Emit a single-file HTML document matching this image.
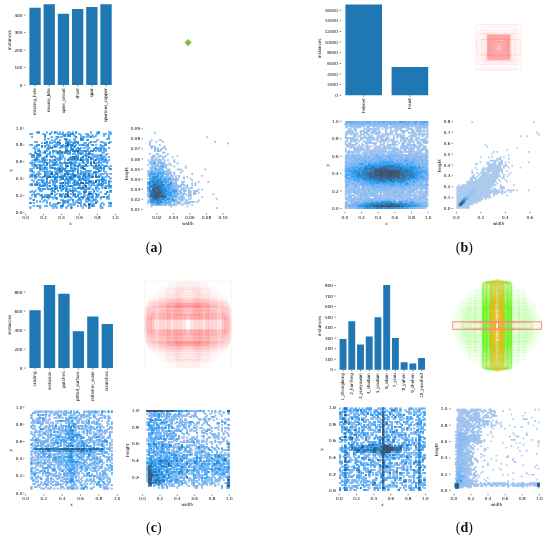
<!DOCTYPE html><html><head><meta charset="utf-8"><title>Figure</title><style>html,body{margin:0;padding:0;background:#fff}svg{display:block}text{font-family:"DejaVu Sans","Liberation Sans",sans-serif;font-size:40px}</style></head><body><svg width="550" height="544" viewBox="0 0 550 544"><defs><filter id="b" x="-5%" y="-5%" width="110%" height="110%"><feGaussianBlur stdDeviation="0.5"/></filter></defs><rect width="550" height="544" fill="#fff"/>
<text transform="translate(36.10,88.20) rotate(-90) scale(0.1038)" text-anchor="end" stroke="#2b2b2b" stroke-width="0.5" fill="#2b2b2b">missing_hole</text>
<text transform="translate(50.30,88.20) rotate(-90) scale(0.1038)" text-anchor="end" stroke="#2b2b2b" stroke-width="0.5" fill="#2b2b2b">mouse_bite</text>
<text transform="translate(64.50,88.20) rotate(-90) scale(0.1038)" text-anchor="end" stroke="#2b2b2b" stroke-width="0.5" fill="#2b2b2b">open_circuit</text>
<text transform="translate(78.70,88.20) rotate(-90) scale(0.1038)" text-anchor="end" stroke="#2b2b2b" stroke-width="0.5" fill="#2b2b2b">short</text>
<text transform="translate(92.90,88.20) rotate(-90) scale(0.1038)" text-anchor="end" stroke="#2b2b2b" stroke-width="0.5" fill="#2b2b2b">spur</text>
<text transform="translate(107.10,88.20) rotate(-90) scale(0.1038)" text-anchor="end" stroke="#2b2b2b" stroke-width="0.5" fill="#2b2b2b">spurious_copper</text>
<path d="M29.40 85.00V7.83h11.30V85.00zM43.60 85.00V4.15h11.30V85.00zM57.80 85.00V13.78h11.30V85.00zM72.00 85.00V8.88h11.30V85.00zM86.20 85.00V6.95h11.30V85.00zM100.40 85.00V4.15h11.30V85.00z" fill="#1f77b4"/>
<text transform="translate(22.30,86.55) scale(0.1038)" text-anchor="end" stroke="#2b2b2b" stroke-width="0.5" fill="#2b2b2b">0</text>
<text transform="translate(22.30,69.05) scale(0.1038)" text-anchor="end" stroke="#2b2b2b" stroke-width="0.5" fill="#2b2b2b">100</text>
<text transform="translate(22.30,51.55) scale(0.1038)" text-anchor="end" stroke="#2b2b2b" stroke-width="0.5" fill="#2b2b2b">200</text>
<text transform="translate(22.30,34.05) scale(0.1038)" text-anchor="end" stroke="#2b2b2b" stroke-width="0.5" fill="#2b2b2b">300</text>
<text transform="translate(22.30,16.55) scale(0.1038)" text-anchor="end" stroke="#2b2b2b" stroke-width="0.5" fill="#2b2b2b">400</text>
<path d="M23.90 85.00h1.5M23.90 67.50h1.5M23.90 50.00h1.5M23.90 32.50h1.5M23.90 15.00h1.5M35.05 85.00v1.5M49.25 85.00v1.5M63.45 85.00v1.5M77.65 85.00v1.5M91.85 85.00v1.5M106.05 85.00v1.5" stroke="#222" stroke-width="0.55" fill="none"/>
<text transform="translate(10.50,40.00) rotate(-90) scale(0.1038)" text-anchor="middle" stroke="#2b2b2b" stroke-width="0.5" fill="#2b2b2b">instances</text>
<g filter="url(#b)"><g transform="translate(29.64,207.60) scale(1.6344,-1.5313)" stroke-width="1.04" fill="none"><path stroke="#acc9ee" d="M0 0h1M6 0h1M14 0h1M16 0h1M19 0h1M22 0h1M25 0h1M32 0h1M36 0h1M43 0h2M2 1h1M4 1h3M9 1h2M13 1h1M15 1h1M19 1h2M23 1h1M29 1h1M31 1h1M34 1h1M36 1h1M38 1h2M43 1h1M48 1h2M12 2h1M14 2h3M20 2h1M24 2h4M31 2h1M33 2h1M36 2h4M43 2h1M45 2h1M49 2h1M0 3h1M2 3h1M10 3h1M12 3h1M17 3h2M21 3h1M23 3h1M27 3h1M29 3h2M40 3h1M44 3h1M48 3h2M4 4h1M6 4h1M8 4h1M10 4h1M20 4h4M26 4h1M28 4h2M31 4h1M34 4h2M37 4h2M40 4h2M2 5h1M9 5h1M19 5h2M23 5h2M26 5h1M29 5h3M34 5h1M36 5h1M39 5h2M0 6h1M7 6h1M11 6h1M14 6h1M16 6h1M25 6h1M30 6h1M32 6h1M35 6h2M38 6h1M40 6h1M43 6h1M47 6h2M3 7h1M8 7h6M15 7h1M19 7h1M21 7h4M28 7h1M31 7h3M36 7h3M40 7h2M43 7h3M47 7h1M1 8h1M3 8h1M6 8h2M9 8h4M15 8h1M18 8h2M21 8h3M26 8h2M29 8h1M33 8h1M35 8h2M38 8h1M41 8h1M48 8h1M2 9h1M4 9h2M13 9h1M16 9h1M18 9h1M20 9h1M22 9h2M25 9h3M30 9h2M33 9h1M36 9h3M40 9h1M42 9h1M46 9h1M0 10h1M2 10h1M13 10h1M15 10h1M23 10h1M26 10h1M29 10h2M33 10h2M36 10h2M39 10h1M43 10h1M47 10h1M49 10h1M1 11h1M3 11h1M6 11h2M13 11h2M17 11h1M19 11h1M22 11h1M24 11h5M33 11h2M39 11h1M41 11h1M49 11h1M5 12h2M8 12h2M11 12h3M15 12h2M19 12h2M22 12h1M24 12h1M26 12h3M31 12h6M38 12h1M40 12h1M42 12h1M5 13h1M10 13h1M13 13h4M18 13h5M26 13h2M29 13h8M40 13h2M44 13h1M46 13h1M48 13h2M6 14h3M10 14h3M15 14h2M18 14h3M22 14h5M30 14h1M32 14h3M37 14h1M40 14h2M44 14h1M46 14h4M0 15h2M3 15h4M8 15h3M14 15h2M19 15h1M21 15h1M23 15h1M27 15h4M33 15h1M36 15h1M38 15h2M41 15h4M48 15h1M4 16h2M8 16h5M14 16h2M18 16h3M22 16h3M26 16h1M28 16h2M31 16h2M34 16h2M37 16h3M44 16h3M2 17h1M4 17h1M7 17h2M10 17h1M12 17h1M14 17h1M16 17h1M21 17h1M23 17h2M27 17h3M31 17h1M34 17h1M36 17h3M40 17h1M42 17h1M44 17h1M46 17h1M48 17h2M1 18h1M5 18h2M8 18h1M13 18h1M15 18h2M18 18h1M21 18h3M25 18h3M30 18h2M33 18h3M41 18h6M3 19h1M7 19h1M10 19h1M15 19h2M19 19h2M22 19h1M24 19h3M30 19h1M32 19h5M44 19h2M49 19h1M0 20h2M3 20h2M6 20h1M8 20h1M10 20h11M22 20h1M24 20h4M29 20h2M32 20h1M34 20h5M40 20h3M44 20h1M46 20h1M48 20h1M0 21h4M5 21h1M9 21h4M14 21h2M17 21h1M19 21h3M23 21h1M25 21h6M32 21h2M35 21h2M38 21h1M40 21h1M42 21h2M47 21h1M1 22h1M4 22h3M10 22h2M13 22h1M16 22h1M21 22h6M30 22h2M33 22h2M36 22h1M38 22h1M43 22h3M47 22h1M49 22h1M2 23h1M5 23h1M9 23h3M13 23h1M15 23h5M22 23h2M26 23h1M29 23h1M31 23h6M39 23h3M46 23h1M0 24h2M6 24h1M8 24h1M10 24h1M12 24h1M16 24h4M21 24h7M29 24h1M31 24h1M34 24h4M42 24h2M45 24h1M0 25h2M6 25h5M15 25h7M25 25h5M33 25h1M40 25h3M44 25h2M49 25h1M2 26h1M4 26h3M8 26h3M12 26h4M17 26h4M22 26h1M25 26h1M27 26h1M29 26h1M31 26h2M39 26h5M45 26h1M48 26h1M2 27h3M6 27h2M9 27h1M12 27h2M18 27h2M22 27h2M25 27h1M27 27h9M38 27h6M45 27h3M49 27h1M1 28h3M5 28h2M8 28h1M10 28h1M12 28h1M14 28h4M19 28h1M22 28h1M25 28h1M27 28h1M30 28h1M34 28h1M37 28h1M40 28h1M42 28h1M44 28h1M0 29h3M8 29h1M10 29h2M14 29h3M18 29h11M30 29h1M32 29h2M35 29h1M37 29h1M39 29h3M43 29h1M47 29h1M1 30h1M3 30h1M5 30h5M12 30h3M16 30h1M18 30h1M21 30h1M24 30h2M27 30h2M32 30h1M35 30h1M37 30h1M39 30h1M42 30h1M44 30h4M2 31h4M8 31h1M10 31h1M12 31h1M14 31h2M17 31h2M23 31h1M25 31h2M28 31h6M35 31h1M39 31h2M43 31h1M45 31h2M48 31h1M3 32h2M7 32h3M16 32h4M21 32h1M24 32h6M31 32h2M34 32h2M37 32h2M41 32h4M46 32h1M1 33h2M4 33h2M9 33h2M13 33h1M15 33h1M18 33h1M20 33h1M25 33h5M32 33h1M36 33h1M39 33h3M43 33h1M45 33h1M48 33h1M1 34h2M4 34h3M10 34h1M12 34h1M14 34h1M18 34h3M28 34h2M33 34h3M38 34h7M46 34h1M0 35h1M4 35h3M11 35h1M17 35h2M23 35h2M26 35h2M30 35h3M34 35h5M47 35h1M3 36h1M6 36h1M8 36h2M12 36h1M14 36h1M16 36h7M24 36h1M27 36h1M29 36h4M34 36h1M36 36h1M44 36h2M5 37h2M9 37h2M14 37h3M18 37h1M22 37h3M26 37h4M31 37h5M37 37h2M40 37h1M42 37h2M46 37h1M3 38h1M5 38h1M10 38h2M22 38h1M25 38h2M28 38h1M30 38h1M35 38h1M39 38h1M41 38h3M45 38h2M2 39h1M11 39h1M13 39h1M18 39h1M25 39h1M29 39h1M31 39h1M33 39h1M36 39h1M40 39h3M44 39h1M48 39h1M3 40h2M7 40h1M9 40h1M11 40h2M14 40h3M19 40h5M25 40h1M27 40h1M34 40h2M43 40h3M0 41h2M4 41h2M10 41h2M15 41h4M20 41h1M22 41h5M28 41h1M30 41h4M35 41h1M38 41h1M40 41h1M43 41h1M46 41h1M7 42h1M9 42h2M12 42h2M16 42h3M22 42h3M26 42h2M29 42h1M33 42h2M36 42h1M45 42h2M48 42h1M3 43h2M10 43h1M12 43h1M14 43h2M17 43h1M22 43h4M27 43h3M37 43h1M39 43h2M43 43h2M49 43h1M9 44h1M13 44h1M15 44h1M18 44h1M22 44h1M24 44h1M27 44h1M31 44h2M35 44h1M41 44h1M9 45h1M11 45h1M16 45h1M21 45h2M27 45h1M31 45h2M47 45h2M1 46h1M9 46h1M13 46h1M16 46h2M19 46h1M28 46h1M31 46h3M35 46h1M37 46h1M39 46h1M48 46h1M9 47h1M20 47h2M23 47h2M27 47h1M31 47h1M35 47h2M38 47h1M40 47h1M45 47h1M48 47h1M0 48h2M8 48h1M12 48h1M17 48h4M22 48h1M25 48h2M30 48h1M34 48h2M41 48h1M45 48h2M49 48h1M4 49h2M10 49h1M13 49h1M15 49h2M18 49h1M20 49h1M23 49h2M26 49h1M28 49h1M37 49h1M41 49h2M48 49h2"/><path stroke="#9fc3ef" d="M0 0h1M6 0h1M14 0h1M16 0h1M19 0h1M22 0h1M25 0h1M32 0h1M36 0h1M43 0h2M2 1h1M4 1h3M9 1h2M13 1h1M15 1h1M19 1h2M23 1h1M29 1h1M31 1h1M34 1h1M36 1h1M38 1h2M43 1h1M48 1h2M12 2h1M14 2h3M20 2h1M24 2h4M31 2h1M33 2h1M36 2h4M43 2h1M45 2h1M49 2h1M0 3h1M2 3h1M10 3h1M12 3h1M17 3h2M21 3h1M23 3h1M27 3h1M29 3h2M40 3h1M44 3h1M48 3h2M4 4h1M6 4h1M8 4h1M10 4h1M20 4h4M26 4h1M28 4h2M31 4h1M34 4h2M37 4h2M40 4h2M2 5h1M9 5h1M19 5h2M23 5h2M26 5h1M29 5h3M34 5h1M36 5h1M39 5h2M0 6h1M7 6h1M11 6h1M14 6h1M16 6h1M25 6h1M30 6h1M32 6h1M35 6h2M38 6h1M40 6h1M43 6h1M47 6h2M3 7h1M8 7h6M15 7h1M19 7h1M21 7h4M28 7h1M31 7h3M36 7h3M40 7h2M43 7h3M47 7h1M1 8h1M3 8h1M6 8h2M9 8h4M15 8h1M18 8h2M21 8h3M26 8h2M29 8h1M33 8h1M35 8h2M38 8h1M41 8h1M48 8h1M2 9h1M4 9h2M13 9h1M16 9h1M18 9h1M20 9h1M22 9h2M25 9h3M30 9h2M33 9h1M36 9h3M40 9h1M42 9h1M46 9h1M0 10h1M2 10h1M13 10h1M15 10h1M23 10h1M26 10h1M29 10h2M33 10h2M36 10h2M39 10h1M43 10h1M47 10h1M49 10h1M1 11h1M3 11h1M6 11h2M13 11h2M17 11h1M19 11h1M22 11h1M24 11h5M33 11h2M39 11h1M41 11h1M49 11h1M5 12h2M8 12h2M11 12h3M15 12h2M19 12h2M22 12h1M24 12h1M26 12h3M31 12h6M38 12h1M40 12h1M42 12h1M5 13h1M10 13h1M13 13h4M18 13h5M26 13h2M29 13h8M40 13h2M44 13h1M46 13h1M48 13h2M6 14h3M10 14h3M15 14h2M18 14h3M22 14h5M30 14h1M32 14h3M37 14h1M40 14h2M44 14h1M46 14h4M0 15h2M3 15h4M8 15h3M14 15h2M19 15h1M21 15h1M23 15h1M27 15h4M33 15h1M36 15h1M38 15h2M41 15h4M48 15h1M4 16h2M8 16h5M14 16h2M18 16h3M22 16h3M26 16h1M28 16h2M31 16h2M34 16h2M37 16h3M44 16h3M2 17h1M4 17h1M7 17h2M10 17h1M12 17h1M14 17h1M16 17h1M21 17h1M23 17h2M27 17h3M31 17h1M34 17h1M36 17h3M40 17h1M42 17h1M44 17h1M46 17h1M48 17h2M1 18h1M5 18h2M8 18h1M13 18h1M15 18h2M18 18h1M21 18h3M25 18h3M30 18h2M33 18h3M41 18h6M3 19h1M7 19h1M10 19h1M15 19h2M19 19h2M22 19h1M24 19h3M30 19h1M32 19h5M44 19h2M49 19h1M0 20h2M3 20h2M6 20h1M8 20h1M10 20h11M22 20h1M24 20h4M29 20h2M32 20h1M34 20h5M40 20h3M44 20h1M46 20h1M48 20h1M0 21h4M5 21h1M9 21h4M14 21h2M17 21h1M19 21h3M23 21h1M25 21h6M32 21h2M35 21h2M38 21h1M40 21h1M42 21h2M47 21h1M1 22h1M4 22h3M10 22h2M13 22h1M16 22h1M21 22h6M30 22h2M33 22h2M36 22h1M38 22h1M43 22h3M47 22h1M49 22h1M2 23h1M5 23h1M9 23h3M13 23h1M15 23h5M22 23h2M26 23h1M29 23h1M31 23h6M39 23h3M46 23h1M0 24h2M6 24h1M8 24h1M10 24h1M12 24h1M16 24h4M21 24h7M29 24h1M31 24h1M34 24h4M42 24h2M45 24h1M0 25h2M6 25h5M15 25h7M25 25h5M33 25h1M40 25h3M44 25h2M49 25h1M2 26h1M4 26h3M8 26h3M12 26h4M17 26h4M22 26h1M25 26h1M27 26h1M29 26h1M31 26h2M39 26h5M45 26h1M48 26h1M2 27h3M6 27h2M9 27h1M12 27h2M18 27h2M22 27h2M25 27h1M27 27h9M38 27h6M45 27h3M49 27h1M1 28h3M5 28h2M8 28h1M10 28h1M12 28h1M14 28h4M19 28h1M22 28h1M25 28h1M27 28h1M30 28h1M34 28h1M37 28h1M40 28h1M42 28h1M44 28h1M0 29h3M8 29h1M10 29h2M14 29h3M18 29h11M30 29h1M32 29h2M35 29h1M37 29h1M39 29h3M43 29h1M47 29h1M1 30h1M3 30h1M5 30h5M12 30h3M16 30h1M18 30h1M21 30h1M24 30h2M27 30h2M32 30h1M35 30h1M37 30h1M39 30h1M42 30h1M44 30h4M2 31h4M8 31h1M10 31h1M12 31h1M14 31h2M17 31h2M23 31h1M25 31h2M28 31h6M35 31h1M39 31h2M43 31h1M45 31h2M48 31h1M3 32h2M7 32h3M16 32h4M21 32h1M24 32h6M31 32h2M34 32h2M37 32h2M41 32h4M46 32h1M1 33h2M4 33h2M9 33h2M13 33h1M15 33h1M18 33h1M20 33h1M25 33h5M32 33h1M36 33h1M39 33h3M43 33h1M45 33h1M48 33h1M1 34h2M4 34h3M10 34h1M12 34h1M14 34h1M18 34h3M28 34h2M33 34h3M38 34h7M46 34h1M0 35h1M4 35h3M11 35h1M17 35h2M23 35h2M26 35h2M30 35h3M34 35h5M47 35h1M3 36h1M6 36h1M8 36h2M12 36h1M14 36h1M16 36h7M24 36h1M27 36h1M29 36h4M34 36h1M36 36h1M44 36h2M5 37h2M9 37h2M14 37h3M18 37h1M22 37h3M26 37h4M31 37h5M37 37h2M40 37h1M42 37h2M46 37h1M3 38h1M5 38h1M10 38h2M22 38h1M25 38h2M28 38h1M30 38h1M35 38h1M39 38h1M41 38h3M45 38h2M2 39h1M11 39h1M13 39h1M18 39h1M25 39h1M29 39h1M31 39h1M33 39h1M36 39h1M40 39h3M44 39h1M48 39h1M3 40h2M7 40h1M9 40h1M11 40h2M14 40h3M19 40h5M25 40h1M27 40h1M34 40h2M43 40h3M0 41h2M4 41h2M10 41h2M15 41h4M20 41h1M22 41h5M28 41h1M30 41h4M35 41h1M38 41h1M40 41h1M43 41h1M46 41h1M7 42h1M9 42h2M12 42h2M16 42h3M22 42h3M26 42h2M29 42h1M33 42h2M36 42h1M45 42h2M48 42h1M3 43h2M10 43h1M12 43h1M14 43h2M17 43h1M22 43h4M27 43h3M37 43h1M39 43h2M43 43h2M49 43h1M9 44h1M13 44h1M15 44h1M18 44h1M22 44h1M24 44h1M27 44h1M31 44h2M35 44h1M41 44h1M9 45h1M11 45h1M16 45h1M21 45h2M27 45h1M31 45h2M47 45h2M1 46h1M9 46h1M13 46h1M16 46h2M19 46h1M28 46h1M31 46h3M35 46h1M37 46h1M39 46h1M48 46h1M9 47h1M20 47h2M23 47h2M27 47h1M31 47h1M35 47h2M38 47h1M40 47h1M45 47h1M48 47h1M0 48h2M8 48h1M12 48h1M17 48h4M22 48h1M25 48h2M30 48h1M34 48h2M41 48h1M45 48h2M49 48h1M4 49h2M10 49h1M13 49h1M15 49h2M18 49h1M20 49h1M23 49h2M26 49h1M28 49h1M37 49h1M41 49h2M48 49h2"/><path stroke="#8fbdf1" d="M0 0h1M6 0h1M14 0h1M16 0h1M19 0h1M22 0h1M25 0h1M32 0h1M36 0h1M43 0h2M2 1h1M4 1h3M9 1h2M13 1h1M15 1h1M19 1h2M23 1h1M29 1h1M31 1h1M34 1h1M36 1h1M38 1h2M43 1h1M48 1h2M12 2h1M14 2h3M20 2h1M24 2h4M31 2h1M33 2h1M36 2h4M43 2h1M45 2h1M49 2h1M0 3h1M2 3h1M10 3h1M12 3h1M17 3h2M21 3h1M23 3h1M27 3h1M29 3h2M40 3h1M44 3h1M48 3h2M4 4h1M6 4h1M8 4h1M10 4h1M20 4h4M26 4h1M28 4h2M31 4h1M34 4h2M37 4h2M40 4h2M2 5h1M9 5h1M19 5h2M23 5h2M26 5h1M29 5h3M34 5h1M36 5h1M39 5h2M0 6h1M7 6h1M11 6h1M14 6h1M16 6h1M25 6h1M30 6h1M32 6h1M35 6h2M38 6h1M40 6h1M43 6h1M47 6h2M3 7h1M8 7h6M15 7h1M19 7h1M21 7h4M28 7h1M31 7h3M36 7h3M40 7h2M43 7h3M47 7h1M1 8h1M3 8h1M6 8h2M9 8h4M15 8h1M18 8h2M21 8h3M26 8h2M29 8h1M33 8h1M35 8h2M38 8h1M41 8h1M48 8h1M2 9h1M4 9h2M13 9h1M16 9h1M18 9h1M20 9h1M22 9h2M25 9h3M30 9h2M33 9h1M36 9h3M40 9h1M42 9h1M46 9h1M0 10h1M2 10h1M13 10h1M15 10h1M23 10h1M26 10h1M29 10h2M33 10h2M36 10h2M39 10h1M43 10h1M47 10h1M49 10h1M1 11h1M3 11h1M6 11h2M13 11h2M17 11h1M19 11h1M22 11h1M24 11h5M33 11h2M39 11h1M41 11h1M49 11h1M5 12h2M8 12h2M11 12h3M15 12h2M19 12h2M22 12h1M24 12h1M26 12h3M31 12h6M38 12h1M40 12h1M42 12h1M5 13h1M10 13h1M13 13h4M18 13h5M26 13h2M29 13h8M40 13h2M44 13h1M46 13h1M48 13h2M6 14h3M10 14h3M15 14h2M18 14h3M22 14h5M30 14h1M32 14h3M37 14h1M40 14h2M44 14h1M46 14h4M0 15h2M3 15h4M8 15h3M14 15h2M19 15h1M21 15h1M23 15h1M27 15h4M33 15h1M36 15h1M38 15h2M41 15h4M48 15h1M4 16h2M8 16h5M14 16h2M18 16h3M22 16h3M26 16h1M28 16h2M31 16h2M34 16h2M37 16h3M44 16h3M2 17h1M4 17h1M7 17h2M10 17h1M12 17h1M14 17h1M16 17h1M21 17h1M23 17h2M27 17h3M31 17h1M34 17h1M36 17h3M40 17h1M42 17h1M44 17h1M46 17h1M48 17h2M1 18h1M5 18h2M8 18h1M13 18h1M15 18h2M18 18h1M21 18h3M25 18h3M30 18h2M33 18h3M41 18h6M3 19h1M7 19h1M10 19h1M15 19h2M19 19h2M22 19h1M24 19h3M30 19h1M32 19h5M44 19h2M49 19h1M0 20h2M3 20h2M6 20h1M8 20h1M10 20h11M22 20h1M24 20h4M29 20h2M32 20h1M34 20h5M40 20h3M44 20h1M46 20h1M48 20h1M0 21h4M5 21h1M9 21h4M14 21h2M17 21h1M19 21h3M23 21h1M25 21h6M32 21h2M35 21h2M38 21h1M40 21h1M42 21h2M47 21h1M1 22h1M4 22h3M10 22h2M13 22h1M16 22h1M21 22h6M30 22h2M33 22h2M36 22h1M38 22h1M43 22h3M47 22h1M49 22h1M2 23h1M5 23h1M9 23h3M13 23h1M15 23h5M22 23h2M26 23h1M29 23h1M31 23h6M39 23h3M46 23h1M0 24h2M6 24h1M8 24h1M10 24h1M12 24h1M16 24h4M21 24h7M29 24h1M31 24h1M34 24h4M42 24h2M45 24h1M0 25h2M6 25h5M15 25h7M25 25h5M33 25h1M40 25h3M44 25h2M49 25h1M2 26h1M4 26h3M8 26h3M12 26h4M17 26h4M22 26h1M25 26h1M27 26h1M29 26h1M31 26h2M39 26h5M45 26h1M48 26h1M2 27h3M6 27h2M9 27h1M12 27h2M18 27h2M22 27h2M25 27h1M27 27h9M38 27h6M45 27h3M49 27h1M1 28h3M5 28h2M8 28h1M10 28h1M12 28h1M14 28h4M19 28h1M22 28h1M25 28h1M27 28h1M30 28h1M34 28h1M37 28h1M40 28h1M42 28h1M44 28h1M0 29h3M8 29h1M10 29h2M14 29h3M18 29h11M30 29h1M32 29h2M35 29h1M37 29h1M39 29h3M43 29h1M47 29h1M1 30h1M3 30h1M5 30h5M12 30h3M16 30h1M18 30h1M21 30h1M24 30h2M27 30h2M32 30h1M35 30h1M37 30h1M39 30h1M42 30h1M44 30h4M2 31h4M8 31h1M10 31h1M12 31h1M14 31h2M17 31h2M23 31h1M25 31h2M28 31h6M35 31h1M39 31h2M43 31h1M45 31h2M48 31h1M3 32h2M7 32h3M16 32h4M21 32h1M24 32h6M31 32h2M34 32h2M37 32h2M41 32h4M46 32h1M1 33h2M4 33h2M9 33h2M13 33h1M15 33h1M18 33h1M20 33h1M25 33h5M32 33h1M36 33h1M39 33h3M43 33h1M45 33h1M48 33h1M1 34h2M4 34h3M10 34h1M12 34h1M14 34h1M18 34h3M28 34h2M33 34h3M38 34h7M46 34h1M0 35h1M4 35h3M11 35h1M17 35h2M23 35h2M26 35h2M30 35h3M34 35h5M47 35h1M3 36h1M6 36h1M8 36h2M12 36h1M14 36h1M16 36h7M24 36h1M27 36h1M29 36h4M34 36h1M36 36h1M44 36h2M5 37h2M9 37h2M14 37h3M18 37h1M22 37h3M26 37h4M31 37h5M37 37h2M40 37h1M42 37h2M46 37h1M3 38h1M5 38h1M10 38h2M22 38h1M25 38h2M28 38h1M30 38h1M35 38h1M39 38h1M41 38h3M45 38h2M2 39h1M11 39h1M13 39h1M18 39h1M25 39h1M29 39h1M31 39h1M33 39h1M36 39h1M40 39h3M44 39h1M48 39h1M3 40h2M7 40h1M9 40h1M11 40h2M14 40h3M19 40h5M25 40h1M27 40h1M34 40h2M43 40h3M0 41h2M4 41h2M10 41h2M15 41h4M20 41h1M22 41h5M28 41h1M30 41h4M35 41h1M38 41h1M40 41h1M43 41h1M46 41h1M7 42h1M9 42h2M12 42h2M16 42h3M22 42h3M26 42h2M29 42h1M33 42h2M36 42h1M45 42h2M48 42h1M3 43h2M10 43h1M12 43h1M14 43h2M17 43h1M22 43h4M27 43h3M37 43h1M39 43h2M43 43h2M49 43h1M9 44h1M13 44h1M15 44h1M18 44h1M22 44h1M24 44h1M27 44h1M31 44h2M35 44h1M41 44h1M9 45h1M11 45h1M16 45h1M21 45h2M27 45h1M31 45h2M47 45h2M1 46h1M9 46h1M13 46h1M16 46h2M19 46h1M28 46h1M31 46h3M35 46h1M37 46h1M39 46h1M48 46h1M9 47h1M20 47h2M23 47h2M27 47h1M31 47h1M35 47h2M38 47h1M40 47h1M45 47h1M48 47h1M0 48h2M8 48h1M12 48h1M17 48h4M22 48h1M25 48h2M30 48h1M34 48h2M41 48h1M45 48h2M49 48h1M4 49h2M10 49h1M13 49h1M15 49h2M18 49h1M20 49h1M23 49h2M26 49h1M28 49h1M37 49h1M41 49h2M48 49h2"/><path stroke="#7fb8f3" d="M0 0h1M6 0h1M14 0h1M16 0h1M19 0h1M22 0h1M25 0h1M32 0h1M36 0h1M43 0h2M2 1h1M4 1h3M9 1h2M13 1h1M15 1h1M19 1h2M23 1h1M29 1h1M31 1h1M34 1h1M36 1h1M38 1h2M43 1h1M48 1h2M12 2h1M14 2h3M20 2h1M24 2h4M31 2h1M33 2h1M36 2h4M43 2h1M45 2h1M49 2h1M0 3h1M2 3h1M10 3h1M12 3h1M17 3h2M21 3h1M23 3h1M27 3h1M29 3h2M40 3h1M44 3h1M48 3h2M4 4h1M6 4h1M8 4h1M10 4h1M20 4h4M26 4h1M28 4h2M31 4h1M34 4h2M37 4h2M40 4h2M2 5h1M9 5h1M19 5h2M23 5h2M26 5h1M29 5h3M34 5h1M36 5h1M39 5h2M0 6h1M7 6h1M11 6h1M14 6h1M16 6h1M25 6h1M30 6h1M32 6h1M35 6h2M38 6h1M40 6h1M43 6h1M47 6h2M3 7h1M8 7h6M15 7h1M19 7h1M21 7h4M28 7h1M31 7h3M36 7h3M40 7h2M43 7h3M47 7h1M1 8h1M3 8h1M6 8h2M9 8h4M15 8h1M18 8h2M21 8h3M26 8h2M29 8h1M33 8h1M35 8h2M38 8h1M41 8h1M48 8h1M2 9h1M4 9h2M13 9h1M16 9h1M18 9h1M20 9h1M22 9h2M25 9h3M30 9h2M33 9h1M36 9h3M40 9h1M42 9h1M46 9h1M0 10h1M2 10h1M13 10h1M15 10h1M23 10h1M26 10h1M29 10h2M33 10h2M36 10h2M39 10h1M43 10h1M47 10h1M49 10h1M1 11h1M3 11h1M6 11h2M13 11h2M17 11h1M19 11h1M22 11h1M24 11h5M33 11h2M39 11h1M41 11h1M49 11h1M5 12h2M8 12h2M11 12h3M15 12h2M19 12h2M22 12h1M24 12h1M26 12h3M31 12h6M38 12h1M40 12h1M42 12h1M5 13h1M10 13h1M13 13h4M18 13h5M26 13h2M29 13h8M40 13h2M44 13h1M46 13h1M48 13h2M6 14h3M10 14h3M15 14h2M18 14h3M22 14h5M30 14h1M32 14h3M37 14h1M40 14h2M44 14h1M46 14h4M0 15h2M3 15h4M8 15h3M14 15h2M19 15h1M21 15h1M23 15h1M27 15h4M33 15h1M36 15h1M38 15h2M41 15h4M48 15h1M4 16h2M8 16h5M14 16h2M18 16h3M22 16h3M26 16h1M28 16h2M31 16h2M34 16h2M37 16h3M44 16h3M2 17h1M4 17h1M7 17h2M10 17h1M12 17h1M14 17h1M16 17h1M21 17h1M23 17h2M27 17h3M31 17h1M34 17h1M36 17h3M40 17h1M42 17h1M44 17h1M46 17h1M48 17h2M1 18h1M5 18h2M8 18h1M13 18h1M15 18h2M18 18h1M21 18h3M25 18h3M30 18h2M33 18h3M41 18h6M3 19h1M7 19h1M10 19h1M15 19h2M19 19h2M22 19h1M24 19h3M30 19h1M32 19h5M44 19h2M49 19h1M0 20h2M3 20h2M6 20h1M8 20h1M10 20h11M22 20h1M24 20h4M29 20h2M32 20h1M34 20h5M40 20h3M44 20h1M46 20h1M48 20h1M0 21h4M5 21h1M9 21h4M14 21h2M17 21h1M19 21h3M23 21h1M25 21h6M32 21h2M35 21h2M38 21h1M40 21h1M42 21h2M47 21h1M1 22h1M4 22h3M10 22h2M13 22h1M16 22h1M21 22h6M30 22h2M33 22h2M36 22h1M38 22h1M43 22h3M47 22h1M49 22h1M2 23h1M5 23h1M9 23h3M13 23h1M15 23h5M22 23h2M26 23h1M29 23h1M31 23h6M39 23h3M46 23h1M0 24h2M6 24h1M8 24h1M10 24h1M12 24h1M16 24h4M21 24h7M29 24h1M31 24h1M34 24h4M42 24h2M45 24h1M0 25h2M6 25h5M15 25h7M25 25h5M33 25h1M40 25h3M44 25h2M49 25h1M2 26h1M4 26h3M8 26h3M12 26h4M17 26h4M22 26h1M25 26h1M27 26h1M29 26h1M31 26h2M39 26h5M45 26h1M48 26h1M2 27h3M6 27h2M9 27h1M12 27h2M18 27h2M22 27h2M25 27h1M27 27h9M38 27h6M45 27h3M49 27h1M1 28h3M5 28h2M8 28h1M10 28h1M12 28h1M14 28h4M19 28h1M22 28h1M25 28h1M27 28h1M30 28h1M34 28h1M37 28h1M40 28h1M42 28h1M44 28h1M0 29h3M8 29h1M10 29h2M14 29h3M18 29h11M30 29h1M32 29h2M35 29h1M37 29h1M39 29h3M43 29h1M47 29h1M1 30h1M3 30h1M5 30h5M12 30h3M16 30h1M18 30h1M21 30h1M24 30h2M27 30h2M32 30h1M35 30h1M37 30h1M39 30h1M42 30h1M44 30h4M2 31h4M8 31h1M10 31h1M12 31h1M14 31h2M17 31h2M23 31h1M25 31h2M28 31h6M35 31h1M39 31h2M43 31h1M45 31h2M48 31h1M3 32h2M7 32h3M16 32h4M21 32h1M24 32h6M31 32h2M34 32h2M37 32h2M41 32h4M46 32h1M1 33h2M4 33h2M9 33h2M13 33h1M15 33h1M18 33h1M20 33h1M25 33h5M32 33h1M36 33h1M39 33h3M43 33h1M45 33h1M48 33h1M1 34h2M4 34h3M10 34h1M12 34h1M14 34h1M18 34h3M28 34h2M33 34h3M38 34h7M46 34h1M0 35h1M4 35h3M11 35h1M17 35h2M23 35h2M26 35h2M30 35h3M34 35h5M47 35h1M3 36h1M6 36h1M8 36h2M12 36h1M14 36h1M16 36h7M24 36h1M27 36h1M29 36h4M34 36h1M36 36h1M44 36h2M5 37h2M9 37h2M14 37h3M18 37h1M22 37h3M26 37h4M31 37h5M37 37h2M40 37h1M42 37h2M46 37h1M3 38h1M5 38h1M10 38h2M22 38h1M25 38h2M28 38h1M30 38h1M35 38h1M39 38h1M41 38h3M45 38h2M2 39h1M11 39h1M13 39h1M18 39h1M25 39h1M29 39h1M31 39h1M33 39h1M36 39h1M40 39h3M44 39h1M48 39h1M3 40h2M7 40h1M9 40h1M11 40h2M14 40h3M19 40h5M25 40h1M27 40h1M34 40h2M43 40h3M0 41h2M4 41h2M10 41h2M15 41h4M20 41h1M22 41h5M28 41h1M30 41h4M35 41h1M38 41h1M40 41h1M43 41h1M46 41h1M7 42h1M9 42h2M12 42h2M16 42h3M22 42h3M26 42h2M29 42h1M33 42h2M36 42h1M45 42h2M48 42h1M3 43h2M10 43h1M12 43h1M14 43h2M17 43h1M22 43h4M27 43h3M37 43h1M39 43h2M43 43h2M49 43h1M9 44h1M13 44h1M15 44h1M18 44h1M22 44h1M24 44h1M27 44h1M31 44h2M35 44h1M41 44h1M9 45h1M11 45h1M16 45h1M21 45h2M27 45h1M31 45h2M47 45h2M1 46h1M9 46h1M13 46h1M16 46h2M19 46h1M28 46h1M31 46h3M35 46h1M37 46h1M39 46h1M48 46h1M9 47h1M20 47h2M23 47h2M27 47h1M31 47h1M35 47h2M38 47h1M40 47h1M45 47h1M48 47h1M0 48h2M8 48h1M12 48h1M17 48h4M22 48h1M25 48h2M30 48h1M34 48h2M41 48h1M45 48h2M49 48h1M4 49h2M10 49h1M13 49h1M15 49h2M18 49h1M20 49h1M23 49h2M26 49h1M28 49h1M37 49h1M41 49h2M48 49h2"/><path stroke="#6cb2f5" d="M0 0h1M6 0h1M14 0h1M16 0h1M19 0h1M22 0h1M25 0h1M32 0h1M36 0h1M43 0h2M2 1h1M4 1h3M9 1h2M13 1h1M15 1h1M19 1h2M23 1h1M29 1h1M31 1h1M34 1h1M36 1h1M38 1h2M43 1h1M48 1h2M12 2h1M14 2h3M20 2h1M24 2h4M31 2h1M33 2h1M36 2h4M43 2h1M45 2h1M49 2h1M0 3h1M2 3h1M10 3h1M12 3h1M17 3h2M21 3h1M23 3h1M27 3h1M29 3h2M40 3h1M44 3h1M48 3h2M4 4h1M6 4h1M8 4h1M10 4h1M20 4h4M26 4h1M28 4h2M31 4h1M34 4h2M37 4h2M40 4h2M2 5h1M9 5h1M19 5h2M23 5h2M26 5h1M29 5h3M34 5h1M36 5h1M39 5h2M0 6h1M7 6h1M11 6h1M14 6h1M16 6h1M25 6h1M30 6h1M32 6h1M35 6h2M38 6h1M40 6h1M43 6h1M47 6h2M3 7h1M8 7h6M15 7h1M19 7h1M21 7h4M28 7h1M31 7h3M36 7h3M40 7h2M43 7h3M47 7h1M1 8h1M3 8h1M6 8h2M9 8h4M15 8h1M18 8h2M21 8h3M26 8h2M29 8h1M33 8h1M35 8h2M38 8h1M41 8h1M48 8h1M2 9h1M4 9h2M13 9h1M16 9h1M18 9h1M20 9h1M22 9h2M25 9h3M30 9h2M33 9h1M36 9h3M40 9h1M42 9h1M46 9h1M0 10h1M2 10h1M13 10h1M15 10h1M23 10h1M26 10h1M29 10h2M33 10h2M36 10h2M39 10h1M43 10h1M47 10h1M49 10h1M1 11h1M3 11h1M6 11h2M13 11h2M17 11h1M19 11h1M22 11h1M24 11h5M33 11h2M39 11h1M41 11h1M49 11h1M5 12h2M8 12h2M11 12h3M15 12h2M19 12h2M22 12h1M24 12h1M26 12h3M31 12h6M38 12h1M40 12h1M42 12h1M5 13h1M10 13h1M13 13h4M18 13h5M26 13h2M29 13h8M40 13h2M44 13h1M46 13h1M48 13h2M6 14h3M10 14h3M15 14h2M18 14h3M22 14h5M30 14h1M32 14h3M37 14h1M40 14h2M44 14h1M46 14h4M0 15h2M3 15h4M8 15h3M14 15h2M19 15h1M21 15h1M23 15h1M27 15h4M33 15h1M36 15h1M38 15h2M41 15h4M48 15h1M4 16h2M8 16h5M14 16h2M18 16h3M22 16h3M26 16h1M28 16h2M31 16h2M34 16h2M37 16h3M44 16h3M2 17h1M4 17h1M7 17h2M10 17h1M12 17h1M14 17h1M16 17h1M21 17h1M23 17h2M27 17h3M31 17h1M34 17h1M36 17h3M40 17h1M42 17h1M44 17h1M46 17h1M48 17h2M1 18h1M5 18h2M8 18h1M13 18h1M15 18h2M18 18h1M21 18h3M25 18h3M30 18h2M33 18h3M41 18h6M3 19h1M7 19h1M10 19h1M15 19h2M19 19h2M22 19h1M24 19h3M30 19h1M32 19h5M44 19h2M49 19h1M0 20h2M3 20h2M6 20h1M8 20h1M10 20h11M22 20h1M24 20h4M29 20h2M32 20h1M34 20h5M40 20h3M44 20h1M46 20h1M48 20h1M0 21h4M5 21h1M9 21h4M14 21h2M17 21h1M19 21h3M23 21h1M25 21h6M32 21h2M35 21h2M38 21h1M40 21h1M42 21h2M47 21h1M1 22h1M4 22h3M10 22h2M13 22h1M16 22h1M21 22h6M30 22h2M33 22h2M36 22h1M38 22h1M43 22h3M47 22h1M49 22h1M2 23h1M5 23h1M9 23h3M13 23h1M15 23h5M22 23h2M26 23h1M29 23h1M31 23h6M39 23h3M46 23h1M0 24h2M6 24h1M8 24h1M10 24h1M12 24h1M16 24h4M21 24h7M29 24h1M31 24h1M34 24h4M42 24h2M45 24h1M0 25h2M6 25h5M15 25h7M25 25h5M33 25h1M40 25h3M44 25h2M49 25h1M2 26h1M4 26h3M8 26h3M12 26h4M17 26h4M22 26h1M25 26h1M27 26h1M29 26h1M31 26h2M39 26h5M45 26h1M48 26h1M2 27h3M6 27h2M9 27h1M12 27h2M18 27h2M22 27h2M25 27h1M27 27h9M38 27h6M45 27h3M49 27h1M1 28h3M5 28h2M8 28h1M10 28h1M12 28h1M14 28h4M19 28h1M22 28h1M25 28h1M27 28h1M30 28h1M34 28h1M37 28h1M40 28h1M42 28h1M44 28h1M0 29h3M8 29h1M10 29h2M14 29h3M18 29h11M30 29h1M32 29h2M35 29h1M37 29h1M39 29h3M43 29h1M47 29h1M1 30h1M3 30h1M5 30h5M12 30h3M16 30h1M18 30h1M21 30h1M24 30h2M27 30h2M32 30h1M35 30h1M37 30h1M39 30h1M42 30h1M44 30h4M2 31h4M8 31h1M10 31h1M12 31h1M14 31h2M17 31h2M23 31h1M25 31h2M28 31h6M35 31h1M39 31h2M43 31h1M45 31h2M48 31h1M3 32h2M7 32h3M16 32h4M21 32h1M24 32h6M31 32h2M34 32h2M37 32h2M41 32h4M46 32h1M1 33h2M4 33h2M9 33h2M13 33h1M15 33h1M18 33h1M20 33h1M25 33h5M32 33h1M36 33h1M39 33h3M43 33h1M45 33h1M48 33h1M1 34h2M4 34h3M10 34h1M12 34h1M14 34h1M18 34h3M28 34h2M33 34h3M38 34h7M46 34h1M0 35h1M4 35h3M11 35h1M17 35h2M23 35h2M26 35h2M30 35h3M34 35h5M47 35h1M3 36h1M6 36h1M8 36h2M12 36h1M14 36h1M16 36h7M24 36h1M27 36h1M29 36h4M34 36h1M36 36h1M44 36h2M5 37h2M9 37h2M14 37h3M18 37h1M22 37h3M26 37h4M31 37h5M37 37h2M40 37h1M42 37h2M46 37h1M3 38h1M5 38h1M10 38h2M22 38h1M25 38h2M28 38h1M30 38h1M35 38h1M39 38h1M41 38h3M45 38h2M2 39h1M11 39h1M13 39h1M18 39h1M25 39h1M29 39h1M31 39h1M33 39h1M36 39h1M40 39h3M44 39h1M48 39h1M3 40h2M7 40h1M9 40h1M11 40h2M14 40h3M19 40h5M25 40h1M27 40h1M34 40h2M43 40h3M0 41h2M4 41h2M10 41h2M15 41h4M20 41h1M22 41h5M28 41h1M30 41h4M35 41h1M38 41h1M40 41h1M43 41h1M46 41h1M7 42h1M9 42h2M12 42h2M16 42h3M22 42h3M26 42h2M29 42h1M33 42h2M36 42h1M45 42h2M48 42h1M3 43h2M10 43h1M12 43h1M14 43h2M17 43h1M22 43h4M27 43h3M37 43h1M39 43h2M43 43h2M49 43h1M9 44h1M13 44h1M15 44h1M18 44h1M22 44h1M24 44h1M27 44h1M31 44h2M35 44h1M41 44h1M9 45h1M11 45h1M16 45h1M21 45h2M27 45h1M31 45h2M47 45h2M1 46h1M9 46h1M13 46h1M16 46h2M19 46h1M28 46h1M31 46h3M35 46h1M37 46h1M39 46h1M48 46h1M9 47h1M20 47h2M23 47h2M27 47h1M31 47h1M35 47h2M38 47h1M40 47h1M45 47h1M48 47h1M0 48h2M8 48h1M12 48h1M17 48h4M22 48h1M25 48h2M30 48h1M34 48h2M41 48h1M45 48h2M49 48h1M4 49h2M10 49h1M13 49h1M15 49h2M18 49h1M20 49h1M23 49h2M26 49h1M28 49h1M37 49h1M41 49h2M48 49h2"/><path stroke="#56acf6" d="M0 0h1M6 0h1M14 0h1M16 0h1M19 0h1M22 0h1M25 0h1M32 0h1M36 0h1M43 0h2M2 1h1M4 1h3M9 1h2M13 1h1M15 1h1M19 1h2M23 1h1M29 1h1M31 1h1M34 1h1M36 1h1M38 1h2M43 1h1M48 1h2M12 2h1M14 2h3M20 2h1M24 2h4M31 2h1M33 2h1M36 2h4M43 2h1M45 2h1M49 2h1M0 3h1M2 3h1M10 3h1M12 3h1M17 3h2M21 3h1M23 3h1M27 3h1M29 3h2M40 3h1M44 3h1M48 3h2M4 4h1M6 4h1M8 4h1M10 4h1M20 4h4M26 4h1M28 4h2M31 4h1M34 4h2M37 4h2M40 4h2M2 5h1M9 5h1M19 5h2M23 5h2M26 5h1M29 5h3M34 5h1M36 5h1M39 5h2M0 6h1M7 6h1M11 6h1M14 6h1M16 6h1M25 6h1M30 6h1M32 6h1M35 6h2M38 6h1M40 6h1M43 6h1M47 6h2M3 7h1M8 7h6M15 7h1M19 7h1M21 7h4M28 7h1M31 7h3M36 7h3M40 7h2M43 7h3M47 7h1M1 8h1M3 8h1M6 8h2M9 8h4M15 8h1M18 8h2M21 8h3M26 8h2M29 8h1M33 8h1M35 8h2M38 8h1M41 8h1M48 8h1M2 9h1M4 9h2M13 9h1M16 9h1M18 9h1M20 9h1M22 9h2M25 9h3M30 9h2M33 9h1M36 9h3M40 9h1M42 9h1M46 9h1M0 10h1M2 10h1M13 10h1M15 10h1M23 10h1M26 10h1M29 10h2M33 10h2M36 10h2M39 10h1M43 10h1M47 10h1M49 10h1M1 11h1M3 11h1M6 11h2M13 11h2M17 11h1M19 11h1M22 11h1M24 11h5M33 11h2M39 11h1M41 11h1M49 11h1M5 12h2M8 12h2M11 12h3M15 12h2M19 12h2M22 12h1M24 12h1M26 12h3M31 12h6M38 12h1M40 12h1M42 12h1M5 13h1M10 13h1M13 13h4M18 13h5M26 13h2M29 13h8M40 13h2M44 13h1M46 13h1M48 13h2M6 14h3M10 14h3M15 14h2M18 14h3M22 14h5M30 14h1M32 14h3M37 14h1M40 14h2M44 14h1M46 14h4M0 15h2M3 15h4M8 15h3M14 15h2M19 15h1M21 15h1M23 15h1M27 15h4M33 15h1M36 15h1M38 15h2M41 15h4M48 15h1M4 16h2M8 16h5M14 16h2M18 16h3M22 16h3M26 16h1M28 16h2M31 16h2M34 16h2M37 16h3M44 16h3M2 17h1M4 17h1M7 17h2M10 17h1M12 17h1M14 17h1M16 17h1M21 17h1M23 17h2M27 17h3M31 17h1M34 17h1M36 17h3M40 17h1M42 17h1M44 17h1M46 17h1M48 17h2M1 18h1M5 18h2M8 18h1M13 18h1M15 18h2M18 18h1M21 18h3M25 18h3M30 18h2M33 18h3M41 18h6M3 19h1M7 19h1M10 19h1M15 19h2M19 19h2M22 19h1M24 19h3M30 19h1M32 19h5M44 19h2M49 19h1M0 20h2M3 20h2M6 20h1M8 20h1M10 20h11M22 20h1M24 20h4M29 20h2M32 20h1M34 20h5M40 20h3M44 20h1M46 20h1M48 20h1M0 21h4M5 21h1M9 21h4M14 21h2M17 21h1M19 21h3M23 21h1M25 21h6M32 21h2M35 21h2M38 21h1M40 21h1M42 21h2M47 21h1M1 22h1M4 22h3M10 22h2M13 22h1M16 22h1M21 22h6M30 22h2M33 22h2M36 22h1M38 22h1M43 22h3M47 22h1M49 22h1M2 23h1M5 23h1M9 23h3M13 23h1M15 23h5M22 23h2M26 23h1M29 23h1M31 23h6M39 23h3M46 23h1M0 24h2M6 24h1M8 24h1M10 24h1M12 24h1M16 24h4M21 24h7M29 24h1M31 24h1M34 24h4M42 24h2M45 24h1M0 25h2M6 25h5M15 25h7M25 25h5M33 25h1M40 25h3M44 25h2M49 25h1M2 26h1M4 26h3M8 26h3M12 26h4M17 26h4M22 26h1M25 26h1M27 26h1M29 26h1M31 26h2M39 26h5M45 26h1M48 26h1M2 27h3M6 27h2M9 27h1M12 27h2M18 27h2M22 27h2M25 27h1M27 27h9M38 27h6M45 27h3M49 27h1M1 28h3M5 28h2M8 28h1M10 28h1M12 28h1M14 28h4M19 28h1M22 28h1M25 28h1M27 28h1M30 28h1M34 28h1M37 28h1M40 28h1M42 28h1M44 28h1M0 29h3M8 29h1M10 29h2M14 29h3M18 29h11M30 29h1M32 29h2M35 29h1M37 29h1M39 29h3M43 29h1M47 29h1M1 30h1M3 30h1M5 30h5M12 30h3M16 30h1M18 30h1M21 30h1M24 30h2M27 30h2M32 30h1M35 30h1M37 30h1M39 30h1M42 30h1M44 30h4M2 31h4M8 31h1M10 31h1M12 31h1M14 31h2M17 31h2M23 31h1M25 31h2M28 31h6M35 31h1M39 31h2M43 31h1M45 31h2M48 31h1M3 32h2M7 32h3M16 32h4M21 32h1M24 32h6M31 32h2M34 32h2M37 32h2M41 32h4M46 32h1M1 33h2M4 33h2M9 33h2M13 33h1M15 33h1M18 33h1M20 33h1M25 33h5M32 33h1M36 33h1M39 33h3M43 33h1M45 33h1M48 33h1M1 34h2M4 34h3M10 34h1M12 34h1M14 34h1M18 34h3M28 34h2M33 34h3M38 34h7M46 34h1M0 35h1M4 35h3M11 35h1M17 35h2M23 35h2M26 35h2M30 35h3M34 35h5M47 35h1M3 36h1M6 36h1M8 36h2M12 36h1M14 36h1M16 36h7M24 36h1M27 36h1M29 36h4M34 36h1M36 36h1M44 36h2M5 37h2M9 37h2M14 37h3M18 37h1M22 37h3M26 37h4M31 37h5M37 37h2M40 37h1M42 37h2M46 37h1M3 38h1M5 38h1M10 38h2M22 38h1M25 38h2M28 38h1M30 38h1M35 38h1M39 38h1M41 38h3M45 38h2M2 39h1M11 39h1M13 39h1M18 39h1M25 39h1M29 39h1M31 39h1M33 39h1M36 39h1M40 39h3M44 39h1M48 39h1M3 40h2M7 40h1M9 40h1M11 40h2M14 40h3M19 40h5M25 40h1M27 40h1M34 40h2M43 40h3M0 41h2M4 41h2M10 41h2M15 41h4M20 41h1M22 41h5M28 41h1M30 41h4M35 41h1M38 41h1M40 41h1M43 41h1M46 41h1M7 42h1M9 42h2M12 42h2M16 42h3M22 42h3M26 42h2M29 42h1M33 42h2M36 42h1M45 42h2M48 42h1M3 43h2M10 43h1M12 43h1M14 43h2M17 43h1M22 43h4M27 43h3M37 43h1M39 43h2M43 43h2M49 43h1M9 44h1M13 44h1M15 44h1M18 44h1M22 44h1M24 44h1M27 44h1M31 44h2M35 44h1M41 44h1M9 45h1M11 45h1M16 45h1M21 45h2M27 45h1M31 45h2M47 45h2M1 46h1M9 46h1M13 46h1M16 46h2M19 46h1M28 46h1M31 46h3M35 46h1M37 46h1M39 46h1M48 46h1M9 47h1M20 47h2M23 47h2M27 47h1M31 47h1M35 47h2M38 47h1M40 47h1M45 47h1M48 47h1M0 48h2M8 48h1M12 48h1M17 48h4M22 48h1M25 48h2M30 48h1M34 48h2M41 48h1M45 48h2M49 48h1M4 49h2M10 49h1M13 49h1M15 49h2M18 49h1M20 49h1M23 49h2M26 49h1M28 49h1M37 49h1M41 49h2M48 49h2"/><path stroke="#36a6f7" d="M25 0h1M36 0h1M19 1h1M38 1h1M20 2h1M33 2h1M36 2h1M0 3h1M17 3h1M30 3h1M40 3h1M49 3h1M20 4h2M23 4h1M2 5h1M26 5h1M36 5h1M39 5h1M16 6h1M30 6h1M35 6h1M8 7h1M10 7h2M21 7h1M28 7h1M32 7h1M38 7h1M45 7h1M47 7h1M3 8h1M7 8h1M11 8h1M18 8h2M23 8h1M27 8h1M29 8h1M41 8h1M13 9h1M22 9h1M27 9h1M36 9h2M40 9h1M46 9h1M23 10h1M26 10h1M33 10h1M47 10h1M14 11h1M22 11h1M25 11h2M34 11h1M39 11h1M49 11h1M6 12h1M8 12h1M11 12h1M13 12h1M15 12h1M20 12h1M22 12h1M16 13h1M18 13h1M29 13h4M36 13h1M40 13h1M46 13h1M6 14h1M8 14h1M12 14h1M15 14h1M18 14h1M20 14h1M24 14h2M34 14h1M49 14h1M1 15h1M3 15h2M9 15h1M27 15h2M30 15h1M42 15h3M48 15h1M19 16h2M22 16h1M29 16h1M31 16h2M34 16h2M39 16h1M7 17h1M10 17h1M14 17h1M16 17h1M23 17h1M27 17h1M34 17h1M36 17h2M40 17h1M42 17h1M44 17h1M48 17h1M23 18h1M30 18h1M33 18h1M44 18h2M10 19h1M15 19h1M19 19h2M22 19h1M24 19h2M30 19h1M32 19h1M44 19h1M3 20h1M8 20h1M11 20h2M14 20h1M16 20h1M18 20h3M24 20h2M27 20h1M29 20h2M34 20h1M38 20h1M40 20h3M1 21h1M3 21h1M9 21h1M21 21h1M27 21h1M33 21h1M36 21h1M40 21h1M13 22h1M16 22h1M21 22h3M26 22h1M31 22h1M33 22h1M36 22h1M9 23h1M13 23h1M23 23h1M29 23h1M39 23h2M1 24h1M18 24h2M22 24h1M24 24h1M26 24h1M29 24h1M42 24h1M6 25h1M15 25h1M17 25h2M20 25h2M27 25h1M33 25h1M41 25h1M49 25h1M4 26h1M6 26h1M9 26h1M13 26h2M25 26h1M32 26h1M39 26h1M43 26h1M45 26h1M3 27h1M6 27h1M22 27h2M29 27h1M33 27h1M40 27h1M46 27h1M3 28h1M6 28h1M10 28h1M14 28h2M25 28h1M27 28h1M30 28h1M34 28h1M37 28h1M42 28h1M10 29h1M15 29h1M18 29h1M21 29h5M37 29h1M39 29h1M9 30h1M32 30h1M35 30h1M39 30h1M42 30h1M3 31h1M8 31h1M12 31h1M15 31h1M23 31h1M31 31h1M35 31h1M40 31h1M46 31h1M4 32h1M8 32h1M18 32h1M24 32h4M29 32h1M31 32h1M37 32h1M44 32h1M13 33h1M15 33h1M18 33h1M26 33h3M32 33h1M36 33h1M1 34h2M5 34h2M10 34h1M34 34h1M43 34h1M4 35h2M31 35h1M36 35h1M3 36h1M9 36h1M12 36h1M17 36h1M19 36h1M21 36h2M24 36h1M29 36h1M36 36h1M5 37h1M14 37h1M18 37h1M22 37h2M26 37h4M33 37h2M37 37h2M22 38h1M25 38h2M30 38h1M39 38h1M43 38h1M45 38h1M11 39h1M13 39h1M29 39h1M40 39h1M7 40h1M9 40h1M15 40h1M19 40h1M22 40h1M25 40h1M27 40h1M5 41h1M23 41h1M25 41h2M32 41h1M35 41h1M38 41h1M46 41h1M9 42h1M18 42h1M22 42h2M27 42h1M29 42h1M48 42h1M10 43h1M17 43h1M28 43h1M37 43h1M22 44h1M31 44h1M35 44h1M21 45h1M31 45h2M17 46h1M28 46h1M37 46h1M9 47h1M21 47h1M23 47h2M12 48h1M25 48h2M5 49h1M15 49h1M28 49h1M42 49h1"/><path stroke="#2fa0f0" d="M25 0h1M36 0h1M19 1h1M38 1h1M20 2h1M33 2h1M36 2h1M0 3h1M17 3h1M30 3h1M40 3h1M49 3h1M20 4h2M23 4h1M2 5h1M26 5h1M36 5h1M39 5h1M16 6h1M30 6h1M35 6h1M8 7h1M10 7h2M21 7h1M28 7h1M32 7h1M38 7h1M45 7h1M47 7h1M3 8h1M7 8h1M11 8h1M18 8h2M23 8h1M27 8h1M29 8h1M41 8h1M13 9h1M22 9h1M27 9h1M36 9h2M40 9h1M46 9h1M23 10h1M26 10h1M33 10h1M47 10h1M14 11h1M22 11h1M25 11h2M34 11h1M39 11h1M49 11h1M6 12h1M8 12h1M11 12h1M13 12h1M15 12h1M20 12h1M22 12h1M16 13h1M18 13h1M29 13h4M36 13h1M40 13h1M46 13h1M6 14h1M8 14h1M12 14h1M15 14h1M18 14h1M20 14h1M24 14h2M34 14h1M49 14h1M1 15h1M3 15h2M9 15h1M27 15h2M30 15h1M42 15h3M48 15h1M19 16h2M22 16h1M29 16h1M31 16h2M34 16h2M39 16h1M7 17h1M10 17h1M14 17h1M16 17h1M23 17h1M27 17h1M34 17h1M36 17h2M40 17h1M42 17h1M44 17h1M48 17h1M23 18h1M30 18h1M33 18h1M44 18h2M10 19h1M15 19h1M19 19h2M22 19h1M24 19h2M30 19h1M32 19h1M44 19h1M3 20h1M8 20h1M11 20h2M14 20h1M16 20h1M18 20h3M24 20h2M27 20h1M29 20h2M34 20h1M38 20h1M40 20h3M1 21h1M3 21h1M9 21h1M21 21h1M27 21h1M33 21h1M36 21h1M40 21h1M13 22h1M16 22h1M21 22h3M26 22h1M31 22h1M33 22h1M36 22h1M9 23h1M13 23h1M23 23h1M29 23h1M39 23h2M1 24h1M18 24h2M22 24h1M24 24h1M26 24h1M29 24h1M42 24h1M6 25h1M15 25h1M17 25h2M20 25h2M27 25h1M33 25h1M41 25h1M49 25h1M4 26h1M6 26h1M9 26h1M13 26h2M25 26h1M32 26h1M39 26h1M43 26h1M45 26h1M3 27h1M6 27h1M22 27h2M29 27h1M33 27h1M40 27h1M46 27h1M3 28h1M6 28h1M10 28h1M14 28h2M25 28h1M27 28h1M30 28h1M34 28h1M37 28h1M42 28h1M10 29h1M15 29h1M18 29h1M21 29h5M37 29h1M39 29h1M9 30h1M32 30h1M35 30h1M39 30h1M42 30h1M3 31h1M8 31h1M12 31h1M15 31h1M23 31h1M31 31h1M35 31h1M40 31h1M46 31h1M4 32h1M8 32h1M18 32h1M24 32h4M29 32h1M31 32h1M37 32h1M44 32h1M13 33h1M15 33h1M18 33h1M26 33h3M32 33h1M36 33h1M1 34h2M5 34h2M10 34h1M34 34h1M43 34h1M4 35h2M31 35h1M36 35h1M3 36h1M9 36h1M12 36h1M17 36h1M19 36h1M21 36h2M24 36h1M29 36h1M36 36h1M5 37h1M14 37h1M18 37h1M22 37h2M26 37h4M33 37h2M37 37h2M22 38h1M25 38h2M30 38h1M39 38h1M43 38h1M45 38h1M11 39h1M13 39h1M29 39h1M40 39h1M7 40h1M9 40h1M15 40h1M19 40h1M22 40h1M25 40h1M27 40h1M5 41h1M23 41h1M25 41h2M32 41h1M35 41h1M38 41h1M46 41h1M9 42h1M18 42h1M22 42h2M27 42h1M29 42h1M48 42h1M10 43h1M17 43h1M28 43h1M37 43h1M22 44h1M31 44h1M35 44h1M21 45h1M31 45h2M17 46h1M28 46h1M37 46h1M9 47h1M21 47h1M23 47h2M12 48h1M25 48h2M5 49h1M15 49h1M28 49h1M42 49h1"/><path stroke="#2b9ae7" d="M25 0h1M36 0h1M19 1h1M38 1h1M20 2h1M33 2h1M36 2h1M0 3h1M17 3h1M30 3h1M40 3h1M49 3h1M20 4h2M23 4h1M2 5h1M26 5h1M36 5h1M39 5h1M16 6h1M30 6h1M35 6h1M8 7h1M10 7h2M21 7h1M28 7h1M32 7h1M38 7h1M45 7h1M47 7h1M3 8h1M7 8h1M11 8h1M18 8h2M23 8h1M27 8h1M29 8h1M41 8h1M13 9h1M22 9h1M27 9h1M36 9h2M40 9h1M46 9h1M23 10h1M26 10h1M33 10h1M47 10h1M14 11h1M22 11h1M25 11h2M34 11h1M39 11h1M49 11h1M6 12h1M8 12h1M11 12h1M13 12h1M15 12h1M20 12h1M22 12h1M16 13h1M18 13h1M29 13h4M36 13h1M40 13h1M46 13h1M6 14h1M8 14h1M12 14h1M15 14h1M18 14h1M20 14h1M24 14h2M34 14h1M49 14h1M1 15h1M3 15h2M9 15h1M27 15h2M30 15h1M42 15h3M48 15h1M19 16h2M22 16h1M29 16h1M31 16h2M34 16h2M39 16h1M7 17h1M10 17h1M14 17h1M16 17h1M23 17h1M27 17h1M34 17h1M36 17h2M40 17h1M42 17h1M44 17h1M48 17h1M23 18h1M30 18h1M33 18h1M44 18h2M10 19h1M15 19h1M19 19h2M22 19h1M24 19h2M30 19h1M32 19h1M44 19h1M3 20h1M8 20h1M11 20h2M14 20h1M16 20h1M18 20h3M24 20h2M27 20h1M29 20h2M34 20h1M38 20h1M40 20h3M1 21h1M3 21h1M9 21h1M21 21h1M27 21h1M33 21h1M36 21h1M40 21h1M13 22h1M16 22h1M21 22h3M26 22h1M31 22h1M33 22h1M36 22h1M9 23h1M13 23h1M23 23h1M29 23h1M39 23h2M1 24h1M18 24h2M22 24h1M24 24h1M26 24h1M29 24h1M42 24h1M6 25h1M15 25h1M17 25h2M20 25h2M27 25h1M33 25h1M41 25h1M49 25h1M4 26h1M6 26h1M9 26h1M13 26h2M25 26h1M32 26h1M39 26h1M43 26h1M45 26h1M3 27h1M6 27h1M22 27h2M29 27h1M33 27h1M40 27h1M46 27h1M3 28h1M6 28h1M10 28h1M14 28h2M25 28h1M27 28h1M30 28h1M34 28h1M37 28h1M42 28h1M10 29h1M15 29h1M18 29h1M21 29h5M37 29h1M39 29h1M9 30h1M32 30h1M35 30h1M39 30h1M42 30h1M3 31h1M8 31h1M12 31h1M15 31h1M23 31h1M31 31h1M35 31h1M40 31h1M46 31h1M4 32h1M8 32h1M18 32h1M24 32h4M29 32h1M31 32h1M37 32h1M44 32h1M13 33h1M15 33h1M18 33h1M26 33h3M32 33h1M36 33h1M1 34h2M5 34h2M10 34h1M34 34h1M43 34h1M4 35h2M31 35h1M36 35h1M3 36h1M9 36h1M12 36h1M17 36h1M19 36h1M21 36h2M24 36h1M29 36h1M36 36h1M5 37h1M14 37h1M18 37h1M22 37h2M26 37h4M33 37h2M37 37h2M22 38h1M25 38h2M30 38h1M39 38h1M43 38h1M45 38h1M11 39h1M13 39h1M29 39h1M40 39h1M7 40h1M9 40h1M15 40h1M19 40h1M22 40h1M25 40h1M27 40h1M5 41h1M23 41h1M25 41h2M32 41h1M35 41h1M38 41h1M46 41h1M9 42h1M18 42h1M22 42h2M27 42h1M29 42h1M48 42h1M10 43h1M17 43h1M28 43h1M37 43h1M22 44h1M31 44h1M35 44h1M21 45h1M31 45h2M17 46h1M28 46h1M37 46h1M9 47h1M21 47h1M23 47h2M12 48h1M25 48h2M5 49h1M15 49h1M28 49h1M42 49h1"/><path stroke="#2a93dd" d="M25 0h1M36 0h1M19 1h1M38 1h1M20 2h1M33 2h1M36 2h1M0 3h1M17 3h1M30 3h1M40 3h1M49 3h1M20 4h2M23 4h1M2 5h1M26 5h1M36 5h1M39 5h1M16 6h1M30 6h1M35 6h1M8 7h1M10 7h2M21 7h1M28 7h1M32 7h1M38 7h1M45 7h1M47 7h1M3 8h1M7 8h1M11 8h1M18 8h2M23 8h1M27 8h1M29 8h1M41 8h1M13 9h1M22 9h1M27 9h1M36 9h2M40 9h1M46 9h1M23 10h1M26 10h1M33 10h1M47 10h1M14 11h1M22 11h1M25 11h2M34 11h1M39 11h1M49 11h1M6 12h1M8 12h1M11 12h1M13 12h1M15 12h1M20 12h1M22 12h1M16 13h1M18 13h1M29 13h4M36 13h1M40 13h1M46 13h1M6 14h1M8 14h1M12 14h1M15 14h1M18 14h1M20 14h1M24 14h2M34 14h1M49 14h1M1 15h1M3 15h2M9 15h1M27 15h2M30 15h1M42 15h3M48 15h1M19 16h2M22 16h1M29 16h1M31 16h2M34 16h2M39 16h1M7 17h1M10 17h1M14 17h1M16 17h1M23 17h1M27 17h1M34 17h1M36 17h2M40 17h1M42 17h1M44 17h1M48 17h1M23 18h1M30 18h1M33 18h1M44 18h2M10 19h1M15 19h1M19 19h2M22 19h1M24 19h2M30 19h1M32 19h1M44 19h1M3 20h1M8 20h1M11 20h2M14 20h1M16 20h1M18 20h3M24 20h2M27 20h1M29 20h2M34 20h1M38 20h1M40 20h3M1 21h1M3 21h1M9 21h1M21 21h1M27 21h1M33 21h1M36 21h1M40 21h1M13 22h1M16 22h1M21 22h3M26 22h1M31 22h1M33 22h1M36 22h1M9 23h1M13 23h1M23 23h1M29 23h1M39 23h2M1 24h1M18 24h2M22 24h1M24 24h1M26 24h1M29 24h1M42 24h1M6 25h1M15 25h1M17 25h2M20 25h2M27 25h1M33 25h1M41 25h1M49 25h1M4 26h1M6 26h1M9 26h1M13 26h2M25 26h1M32 26h1M39 26h1M43 26h1M45 26h1M3 27h1M6 27h1M22 27h2M29 27h1M33 27h1M40 27h1M46 27h1M3 28h1M6 28h1M10 28h1M14 28h2M25 28h1M27 28h1M30 28h1M34 28h1M37 28h1M42 28h1M10 29h1M15 29h1M18 29h1M21 29h5M37 29h1M39 29h1M9 30h1M32 30h1M35 30h1M39 30h1M42 30h1M3 31h1M8 31h1M12 31h1M15 31h1M23 31h1M31 31h1M35 31h1M40 31h1M46 31h1M4 32h1M8 32h1M18 32h1M24 32h4M29 32h1M31 32h1M37 32h1M44 32h1M13 33h1M15 33h1M18 33h1M26 33h3M32 33h1M36 33h1M1 34h2M5 34h2M10 34h1M34 34h1M43 34h1M4 35h2M31 35h1M36 35h1M3 36h1M9 36h1M12 36h1M17 36h1M19 36h1M21 36h2M24 36h1M29 36h1M36 36h1M5 37h1M14 37h1M18 37h1M22 37h2M26 37h4M33 37h2M37 37h2M22 38h1M25 38h2M30 38h1M39 38h1M43 38h1M45 38h1M11 39h1M13 39h1M29 39h1M40 39h1M7 40h1M9 40h1M15 40h1M19 40h1M22 40h1M25 40h1M27 40h1M5 41h1M23 41h1M25 41h2M32 41h1M35 41h1M38 41h1M46 41h1M9 42h1M18 42h1M22 42h2M27 42h1M29 42h1M48 42h1M10 43h1M17 43h1M28 43h1M37 43h1M22 44h1M31 44h1M35 44h1M21 45h1M31 45h2M17 46h1M28 46h1M37 46h1M9 47h1M21 47h1M23 47h2M12 48h1M25 48h2M5 49h1M15 49h1M28 49h1M42 49h1"/><path stroke="#2b8dd3" d="M25 0h1M36 0h1M19 1h1M38 1h1M20 2h1M33 2h1M36 2h1M0 3h1M17 3h1M30 3h1M40 3h1M49 3h1M20 4h2M23 4h1M2 5h1M26 5h1M36 5h1M39 5h1M16 6h1M30 6h1M35 6h1M8 7h1M10 7h2M21 7h1M28 7h1M32 7h1M38 7h1M45 7h1M47 7h1M3 8h1M7 8h1M11 8h1M18 8h2M23 8h1M27 8h1M29 8h1M41 8h1M13 9h1M22 9h1M27 9h1M36 9h2M40 9h1M46 9h1M23 10h1M26 10h1M33 10h1M47 10h1M14 11h1M22 11h1M25 11h2M34 11h1M39 11h1M49 11h1M6 12h1M8 12h1M11 12h1M13 12h1M15 12h1M20 12h1M22 12h1M16 13h1M18 13h1M29 13h4M36 13h1M40 13h1M46 13h1M6 14h1M8 14h1M12 14h1M15 14h1M18 14h1M20 14h1M24 14h2M34 14h1M49 14h1M1 15h1M3 15h2M9 15h1M27 15h2M30 15h1M42 15h3M48 15h1M19 16h2M22 16h1M29 16h1M31 16h2M34 16h2M39 16h1M7 17h1M10 17h1M14 17h1M16 17h1M23 17h1M27 17h1M34 17h1M36 17h2M40 17h1M42 17h1M44 17h1M48 17h1M23 18h1M30 18h1M33 18h1M44 18h2M10 19h1M15 19h1M19 19h2M22 19h1M24 19h2M30 19h1M32 19h1M44 19h1M3 20h1M8 20h1M11 20h2M14 20h1M16 20h1M18 20h3M24 20h2M27 20h1M29 20h2M34 20h1M38 20h1M40 20h3M1 21h1M3 21h1M9 21h1M21 21h1M27 21h1M33 21h1M36 21h1M40 21h1M13 22h1M16 22h1M21 22h3M26 22h1M31 22h1M33 22h1M36 22h1M9 23h1M13 23h1M23 23h1M29 23h1M39 23h2M1 24h1M18 24h2M22 24h1M24 24h1M26 24h1M29 24h1M42 24h1M6 25h1M15 25h1M17 25h2M20 25h2M27 25h1M33 25h1M41 25h1M49 25h1M4 26h1M6 26h1M9 26h1M13 26h2M25 26h1M32 26h1M39 26h1M43 26h1M45 26h1M3 27h1M6 27h1M22 27h2M29 27h1M33 27h1M40 27h1M46 27h1M3 28h1M6 28h1M10 28h1M14 28h2M25 28h1M27 28h1M30 28h1M34 28h1M37 28h1M42 28h1M10 29h1M15 29h1M18 29h1M21 29h5M37 29h1M39 29h1M9 30h1M32 30h1M35 30h1M39 30h1M42 30h1M3 31h1M8 31h1M12 31h1M15 31h1M23 31h1M31 31h1M35 31h1M40 31h1M46 31h1M4 32h1M8 32h1M18 32h1M24 32h4M29 32h1M31 32h1M37 32h1M44 32h1M13 33h1M15 33h1M18 33h1M26 33h3M32 33h1M36 33h1M1 34h2M5 34h2M10 34h1M34 34h1M43 34h1M4 35h2M31 35h1M36 35h1M3 36h1M9 36h1M12 36h1M17 36h1M19 36h1M21 36h2M24 36h1M29 36h1M36 36h1M5 37h1M14 37h1M18 37h1M22 37h2M26 37h4M33 37h2M37 37h2M22 38h1M25 38h2M30 38h1M39 38h1M43 38h1M45 38h1M11 39h1M13 39h1M29 39h1M40 39h1M7 40h1M9 40h1M15 40h1M19 40h1M22 40h1M25 40h1M27 40h1M5 41h1M23 41h1M25 41h2M32 41h1M35 41h1M38 41h1M46 41h1M9 42h1M18 42h1M22 42h2M27 42h1M29 42h1M48 42h1M10 43h1M17 43h1M28 43h1M37 43h1M22 44h1M31 44h1M35 44h1M21 45h1M31 45h2M17 46h1M28 46h1M37 46h1M9 47h1M21 47h1M23 47h2M12 48h1M25 48h2M5 49h1M15 49h1M28 49h1M42 49h1"/><path stroke="#2e86c8" d="M19 1h1M36 2h1M17 3h1M40 3h1M35 6h1M21 7h1M32 7h1M23 8h1M13 9h1M36 9h1M33 10h1M15 12h1M32 13h1M46 13h1M15 14h1M20 14h1M34 14h1M20 16h1M31 16h2M36 17h1M40 17h1M10 19h1M15 19h1M20 19h1M25 19h1M32 19h1M11 20h2M38 20h1M40 20h1M42 20h1M9 21h1M21 21h1M27 21h1M33 21h1M36 21h1M40 21h1M13 22h1M16 22h1M23 22h1M18 24h1M42 24h1M18 25h1M33 25h1M9 26h1M32 26h1M43 26h1M22 27h2M40 27h1M34 28h1M10 29h1M25 29h1M37 29h1M39 29h1M15 31h1M23 31h1M31 31h1M40 31h1M4 32h1M27 32h1M29 32h1M37 32h1M13 33h1M26 33h2M36 33h1M36 35h1M9 36h1M17 36h1M19 36h1M22 37h1M27 37h1M29 37h1M13 39h1M40 39h1M23 41h1M9 42h1M18 42h1M23 42h1M17 43h1"/><path stroke="#3180bd" d="M19 1h1M36 2h1M17 3h1M40 3h1M35 6h1M21 7h1M32 7h1M23 8h1M13 9h1M36 9h1M33 10h1M15 12h1M32 13h1M46 13h1M15 14h1M20 14h1M34 14h1M20 16h1M31 16h2M36 17h1M40 17h1M10 19h1M15 19h1M20 19h1M25 19h1M32 19h1M11 20h2M38 20h1M40 20h1M42 20h1M9 21h1M21 21h1M27 21h1M33 21h1M36 21h1M40 21h1M13 22h1M16 22h1M23 22h1M18 24h1M42 24h1M18 25h1M33 25h1M9 26h1M32 26h1M43 26h1M22 27h2M40 27h1M34 28h1M10 29h1M25 29h1M37 29h1M39 29h1M15 31h1M23 31h1M31 31h1M40 31h1M4 32h1M27 32h1M29 32h1M37 32h1M13 33h1M26 33h2M36 33h1M36 35h1M9 36h1M17 36h1M19 36h1M22 37h1M27 37h1M29 37h1M13 39h1M40 39h1M23 41h1M9 42h1M18 42h1M23 42h1M17 43h1"/><path stroke="#347ab3" d="M19 1h1M36 2h1M17 3h1M40 3h1M35 6h1M21 7h1M32 7h1M23 8h1M13 9h1M36 9h1M33 10h1M15 12h1M32 13h1M46 13h1M15 14h1M20 14h1M34 14h1M20 16h1M31 16h2M36 17h1M40 17h1M10 19h1M15 19h1M20 19h1M25 19h1M32 19h1M11 20h2M38 20h1M40 20h1M42 20h1M9 21h1M21 21h1M27 21h1M33 21h1M36 21h1M40 21h1M13 22h1M16 22h1M23 22h1M18 24h1M42 24h1M18 25h1M33 25h1M9 26h1M32 26h1M43 26h1M22 27h2M40 27h1M34 28h1M10 29h1M25 29h1M37 29h1M39 29h1M15 31h1M23 31h1M31 31h1M40 31h1M4 32h1M27 32h1M29 32h1M37 32h1M13 33h1M26 33h2M36 33h1M36 35h1M9 36h1M17 36h1M19 36h1M22 37h1M27 37h1M29 37h1M13 39h1M40 39h1M23 41h1M9 42h1M18 42h1M23 42h1M17 43h1"/><path stroke="#3773a7" d="M19 1h1M36 2h1M17 3h1M40 3h1M35 6h1M21 7h1M32 7h1M23 8h1M13 9h1M36 9h1M33 10h1M15 12h1M32 13h1M46 13h1M15 14h1M20 14h1M34 14h1M20 16h1M31 16h2M36 17h1M40 17h1M10 19h1M15 19h1M20 19h1M25 19h1M32 19h1M11 20h2M38 20h1M40 20h1M42 20h1M9 21h1M21 21h1M27 21h1M33 21h1M36 21h1M40 21h1M13 22h1M16 22h1M23 22h1M18 24h1M42 24h1M18 25h1M33 25h1M9 26h1M32 26h1M43 26h1M22 27h2M40 27h1M34 28h1M10 29h1M25 29h1M37 29h1M39 29h1M15 31h1M23 31h1M31 31h1M40 31h1M4 32h1M27 32h1M29 32h1M37 32h1M13 33h1M26 33h2M36 33h1M36 35h1M9 36h1M17 36h1M19 36h1M22 37h1M27 37h1M29 37h1M13 39h1M40 39h1M23 41h1M9 42h1M18 42h1M23 42h1M17 43h1"/><path stroke="#3a6d9c" d="M36 2h1M23 8h1M36 9h1M34 14h1M32 16h1M40 17h1M27 21h1M13 22h1M32 26h1M31 31h1M29 37h1M23 41h1"/><path stroke="#3c6690" d="M36 2h1M23 8h1M36 9h1M34 14h1M32 16h1M40 17h1M27 21h1M13 22h1M32 26h1M31 31h1M29 37h1M23 41h1"/><path stroke="#3d6084" d="M36 2h1M23 8h1M36 9h1M34 14h1M32 16h1M40 17h1M27 21h1M13 22h1M32 26h1M31 31h1M29 37h1M23 41h1"/><path stroke="#3d5a79" d="M36 2h1M23 8h1M36 9h1M34 14h1M32 16h1M40 17h1M27 21h1M13 22h1M32 26h1M31 31h1M29 37h1M23 41h1"/><path stroke="#3d546e" d="M36 2h1M23 8h1M36 9h1M34 14h1M32 16h1M40 17h1M27 21h1M13 22h1M32 26h1M31 31h1M29 37h1M23 41h1"/></g></g>
<text transform="translate(25.60,219.20) scale(0.1038)" text-anchor="middle" stroke="#2b2b2b" stroke-width="0.5" fill="#2b2b2b">0.0</text>
<text transform="translate(43.56,219.20) scale(0.1038)" text-anchor="middle" stroke="#2b2b2b" stroke-width="0.5" fill="#2b2b2b">0.2</text>
<text transform="translate(61.52,219.20) scale(0.1038)" text-anchor="middle" stroke="#2b2b2b" stroke-width="0.5" fill="#2b2b2b">0.4</text>
<text transform="translate(79.48,219.20) scale(0.1038)" text-anchor="middle" stroke="#2b2b2b" stroke-width="0.5" fill="#2b2b2b">0.6</text>
<text transform="translate(97.44,219.20) scale(0.1038)" text-anchor="middle" stroke="#2b2b2b" stroke-width="0.5" fill="#2b2b2b">0.8</text>
<text transform="translate(115.40,219.20) scale(0.1038)" text-anchor="middle" stroke="#2b2b2b" stroke-width="0.5" fill="#2b2b2b">1.0</text>
<text transform="translate(22.30,214.15) scale(0.1038)" text-anchor="end" stroke="#2b2b2b" stroke-width="0.5" fill="#2b2b2b">0.0</text>
<text transform="translate(22.30,197.23) scale(0.1038)" text-anchor="end" stroke="#2b2b2b" stroke-width="0.5" fill="#2b2b2b">0.2</text>
<text transform="translate(22.30,180.31) scale(0.1038)" text-anchor="end" stroke="#2b2b2b" stroke-width="0.5" fill="#2b2b2b">0.4</text>
<text transform="translate(22.30,163.39) scale(0.1038)" text-anchor="end" stroke="#2b2b2b" stroke-width="0.5" fill="#2b2b2b">0.6</text>
<text transform="translate(22.30,146.47) scale(0.1038)" text-anchor="end" stroke="#2b2b2b" stroke-width="0.5" fill="#2b2b2b">0.8</text>
<text transform="translate(22.30,129.55) scale(0.1038)" text-anchor="end" stroke="#2b2b2b" stroke-width="0.5" fill="#2b2b2b">1.0</text>
<path d="M25.60 213.80v1.5M43.56 213.80v1.5M61.52 213.80v1.5M79.48 213.80v1.5M97.44 213.80v1.5M115.40 213.80v1.5M24.40 212.60h-1.5M24.40 195.68h-1.5M24.40 178.76h-1.5M24.40 161.84h-1.5M24.40 144.92h-1.5M24.40 128.00h-1.5" stroke="#222" stroke-width="0.55" fill="none"/>
<text transform="translate(70.50,224.60) scale(0.1038)" text-anchor="middle" stroke="#2b2b2b" stroke-width="0.5" fill="#2b2b2b">x</text>
<text transform="translate(12.20,170.30) rotate(-90) scale(0.1038)" text-anchor="middle" stroke="#2b2b2b" stroke-width="0.5" fill="#2b2b2b">y</text>
<g filter="url(#b)"><g transform="translate(147.47,208.03) scale(1.6274,-1.5392)" stroke-width="1.04" fill="none"><path stroke="#acc9ee" d="M42 0h1M2 1h1M14 1h1M24 1h1M2 2h10M13 2h5M21 2h1M27 2h1M0 3h1M2 3h13M16 3h1M18 3h3M22 3h4M0 4h15M17 4h3M23 4h1M25 4h4M30 4h1M0 5h19M20 5h2M23 5h2M31 5h1M1 6h15M17 6h1M19 6h4M25 6h2M42 6h1M0 7h23M26 7h1M33 7h1M0 8h19M20 8h2M24 8h3M0 9h20M21 9h3M25 9h2M28 9h2M40 9h1M0 10h19M20 10h1M22 10h1M25 10h2M28 10h2M31 10h1M0 11h13M14 11h4M19 11h2M22 11h2M25 11h2M28 11h3M0 12h19M20 12h4M25 12h1M31 12h1M33 12h1M0 13h19M21 13h2M24 13h1M26 13h2M0 14h21M23 14h2M0 15h19M20 15h3M24 15h1M27 15h1M29 15h1M0 16h18M21 16h1M27 16h1M29 16h1M0 17h16M17 17h1M21 17h2M31 17h1M37 17h1M1 18h18M27 18h1M0 19h19M22 19h1M26 19h1M1 20h15M17 20h1M19 20h1M22 20h1M24 20h1M0 21h10M11 21h2M14 21h2M17 21h1M19 21h1M33 21h1M0 22h15M16 22h1M27 22h1M0 23h15M16 23h1M20 23h1M0 24h5M6 24h8M21 24h1M2 25h1M4 25h6M12 25h2M18 25h3M35 25h1M1 26h4M7 26h3M11 26h1M23 26h1M2 27h10M16 27h1M23 27h1M0 28h1M2 28h2M5 28h2M8 28h5M14 28h1M1 29h4M6 29h5M13 29h1M18 29h1M1 30h4M6 30h3M10 30h1M16 30h1M0 31h1M2 31h7M10 31h1M12 31h1M16 31h1M2 32h2M5 32h1M7 32h1M9 32h1M2 33h3M6 33h1M9 33h2M15 33h1M3 34h2M7 34h2M11 34h1M18 34h1M1 35h1M5 35h2M12 35h1M9 36h2M4 37h1M6 37h2M4 38h3M8 38h1M11 38h1M2 39h1M4 39h1M6 39h1M9 39h2M2 40h3M10 40h1M1 41h1M7 41h1M1 42h1M49 42h1M1 43h1M5 43h1M9 43h1M41 43h1M2 44h1M7 44h2M36 46h1M4 49h1"/><path stroke="#9fc3ef" d="M42 0h1M2 1h1M14 1h1M24 1h1M2 2h10M13 2h5M21 2h1M27 2h1M0 3h1M2 3h13M16 3h1M18 3h3M22 3h4M0 4h15M17 4h3M23 4h1M25 4h4M30 4h1M0 5h19M20 5h2M23 5h2M31 5h1M1 6h15M17 6h1M19 6h4M25 6h2M42 6h1M0 7h23M26 7h1M33 7h1M0 8h19M20 8h2M24 8h3M0 9h20M21 9h3M25 9h2M28 9h2M40 9h1M0 10h19M20 10h1M22 10h1M25 10h2M28 10h2M31 10h1M0 11h13M14 11h4M19 11h2M22 11h2M25 11h2M28 11h3M0 12h19M20 12h4M25 12h1M31 12h1M33 12h1M0 13h19M21 13h2M24 13h1M26 13h2M0 14h21M23 14h2M0 15h19M20 15h3M24 15h1M27 15h1M29 15h1M0 16h18M21 16h1M27 16h1M29 16h1M0 17h16M17 17h1M21 17h2M31 17h1M37 17h1M1 18h18M27 18h1M0 19h19M22 19h1M26 19h1M1 20h15M17 20h1M19 20h1M22 20h1M24 20h1M0 21h10M11 21h2M14 21h2M17 21h1M19 21h1M33 21h1M0 22h15M16 22h1M27 22h1M0 23h15M16 23h1M20 23h1M0 24h5M6 24h8M21 24h1M2 25h1M4 25h6M12 25h2M18 25h3M35 25h1M1 26h4M7 26h3M11 26h1M23 26h1M2 27h10M16 27h1M23 27h1M0 28h1M2 28h2M5 28h2M8 28h5M14 28h1M1 29h4M6 29h5M13 29h1M18 29h1M1 30h4M6 30h3M10 30h1M16 30h1M0 31h1M2 31h7M10 31h1M12 31h1M16 31h1M2 32h2M5 32h1M7 32h1M9 32h1M2 33h3M6 33h1M9 33h2M15 33h1M3 34h2M7 34h2M11 34h1M18 34h1M1 35h1M5 35h2M12 35h1M9 36h2M4 37h1M6 37h2M4 38h3M8 38h1M11 38h1M2 39h1M4 39h1M6 39h1M9 39h2M2 40h3M10 40h1M1 41h1M7 41h1M1 42h1M49 42h1M1 43h1M5 43h1M9 43h1M41 43h1M2 44h1M7 44h2M36 46h1M4 49h1"/><path stroke="#8fbdf1" d="M2 2h1M5 2h2M8 2h1M10 2h1M13 2h2M2 3h12M16 3h1M18 3h1M24 3h1M1 4h11M13 4h2M18 4h2M25 4h1M27 4h1M1 5h16M21 5h1M1 6h15M17 6h1M19 6h2M1 7h17M20 7h1M0 8h18M20 8h2M25 8h1M0 9h15M17 9h3M28 9h1M1 10h18M20 10h1M28 10h1M0 11h13M15 11h3M22 11h1M30 11h1M0 12h14M15 12h4M0 13h17M26 13h1M1 14h20M24 14h1M0 15h16M22 15h1M0 16h9M10 16h8M21 16h1M0 17h13M14 17h1M17 17h1M21 17h1M1 18h12M14 18h1M16 18h1M18 18h1M0 19h15M17 19h1M1 20h6M8 20h1M11 20h2M1 21h9M12 21h1M19 21h1M1 22h10M12 22h2M1 23h10M12 23h1M16 23h1M0 24h1M2 24h3M6 24h1M9 24h1M12 24h1M2 25h1M4 25h5M3 26h2M7 26h3M11 26h1M4 27h7M3 28h1M5 28h1M2 29h3M6 29h1M8 29h2M1 30h1M3 30h2M7 30h1M2 31h1M5 31h1M3 34h1M7 34h2M11 34h1M6 37h1M4 38h1M8 38h1M2 39h1M4 39h1M2 40h1"/><path stroke="#7fb8f3" d="M6 2h1M13 2h1M2 3h2M5 3h5M11 3h2M16 3h1M2 4h10M13 4h1M18 4h1M2 5h7M10 5h2M13 5h4M2 6h9M12 6h2M15 6h1M1 7h13M16 7h2M0 8h18M21 8h1M0 9h1M2 9h13M17 9h1M19 9h1M1 10h14M16 10h3M20 10h1M0 11h13M15 11h3M0 12h14M15 12h4M0 13h1M3 13h12M1 14h17M19 14h1M1 15h15M0 16h9M10 16h2M13 16h2M1 17h12M14 17h1M1 18h12M2 19h10M13 19h1M1 20h6M8 20h1M11 20h1M1 21h1M3 21h4M9 21h1M1 22h6M8 22h1M10 22h1M12 22h1M2 23h8M2 24h1M6 24h1M2 25h1M5 25h1M7 25h2M4 26h1M8 27h2M3 29h2M8 29h2M7 34h1M6 37h1M8 38h1"/><path stroke="#6cb2f5" d="M2 3h2M5 3h3M11 3h1M2 4h9M13 4h1M2 5h7M10 5h2M15 5h2M2 6h9M12 6h2M15 6h1M1 7h13M1 8h14M16 8h2M2 9h13M17 9h1M19 9h1M1 10h10M12 10h3M16 10h1M20 10h1M0 11h13M15 11h3M0 12h2M3 12h11M15 12h3M0 13h1M3 13h9M13 13h1M1 14h10M12 14h3M19 14h1M2 15h9M12 15h3M0 16h9M10 16h2M13 16h2M1 17h9M11 17h2M2 18h11M2 19h6M10 19h1M13 19h1M1 20h1M3 20h4M8 20h1M11 20h1M1 21h1M3 21h4M9 21h1M1 22h6M8 22h1M12 22h1M2 23h3M6 23h4M5 25h1M7 25h2M4 26h1M8 27h2M4 29h1M8 29h1"/><path stroke="#56acf6" d="M3 3h1M5 3h3M11 3h1M2 4h4M7 4h2M13 4h1M2 5h7M10 5h2M15 5h2M2 6h9M12 6h2M15 6h1M1 7h11M1 8h11M13 8h2M16 8h1M2 9h13M1 10h10M12 10h3M16 10h1M1 11h12M15 11h3M1 12h1M3 12h9M13 12h1M15 12h1M0 13h1M3 13h9M13 13h1M1 14h10M12 14h1M2 15h9M12 15h2M0 16h2M3 16h3M7 16h2M14 16h1M1 17h9M11 17h1M2 18h7M10 18h1M12 18h1M2 19h4M7 19h1M10 19h1M13 19h1M3 20h4M8 20h1M1 21h1M6 21h1M9 21h1M1 22h4M6 22h1M8 22h1M2 23h1M7 23h1M9 23h1M5 25h1M9 27h1M4 29h1"/><path stroke="#36a6f7" d="M3 3h1M5 3h3M11 3h1M2 4h4M7 4h2M13 4h1M2 5h7M10 5h2M15 5h2M2 6h9M12 6h2M15 6h1M1 7h11M1 8h11M13 8h2M16 8h1M2 9h13M1 10h10M12 10h3M16 10h1M1 11h12M15 11h3M1 12h1M3 12h9M13 12h1M15 12h1M0 13h1M3 13h9M13 13h1M1 14h10M12 14h1M2 15h9M12 15h2M0 16h2M3 16h3M7 16h2M14 16h1M1 17h9M11 17h1M2 18h7M10 18h1M12 18h1M2 19h4M7 19h1M10 19h1M13 19h1M3 20h4M8 20h1M1 21h1M6 21h1M9 21h1M1 22h4M6 22h1M8 22h1M2 23h1M7 23h1M9 23h1M5 25h1M9 27h1M4 29h1"/><path stroke="#2fa0f0" d="M6 3h2M2 4h2M5 4h1M8 4h1M2 5h3M6 5h3M15 5h1M2 6h6M9 6h2M12 6h1M15 6h1M3 7h6M10 7h2M1 8h11M14 8h1M2 9h10M14 9h1M2 10h9M12 10h3M1 11h11M17 11h1M1 12h1M3 12h9M13 12h1M0 13h1M3 13h9M1 14h10M12 14h1M2 15h9M12 15h2M0 16h2M3 16h3M7 16h2M14 16h1M1 17h4M6 17h4M11 17h1M3 18h6M10 18h1M2 19h2M5 19h1M7 19h1M10 19h1M13 19h1M3 20h3M8 20h1M6 21h1M3 22h1"/><path stroke="#2b9ae7" d="M6 3h1M2 4h1M5 4h1M8 4h1M2 5h3M6 5h3M3 6h5M9 6h1M12 6h1M15 6h1M3 7h6M10 7h2M1 8h11M2 9h10M2 10h9M13 10h1M1 11h8M10 11h2M17 11h1M1 12h1M3 12h5M9 12h2M3 13h7M11 13h1M1 14h8M3 15h7M12 15h2M1 16h1M3 16h3M7 16h2M14 16h1M2 17h3M6 17h4M11 17h1M3 18h2M6 18h2M3 19h1M7 19h1M10 19h1M3 20h3M6 21h1"/><path stroke="#2a93dd" d="M6 3h1M5 4h1M8 4h1M2 5h2M6 5h1M3 6h5M9 6h1M12 6h1M3 7h6M10 7h2M2 8h9M2 9h8M11 9h1M2 10h9M1 11h8M10 11h2M1 12h1M3 12h5M9 12h2M3 13h7M1 14h8M3 15h4M8 15h2M1 16h1M4 16h2M7 16h2M14 16h1M3 17h1M6 17h1M6 18h1M7 19h1M4 20h2M6 21h1"/><path stroke="#2b8dd3" d="M6 3h1M8 4h1M2 5h1M6 5h1M3 6h5M9 6h1M12 6h1M3 7h6M10 7h1M2 8h9M2 9h8M2 10h9M2 11h4M7 11h2M10 11h2M1 12h1M3 12h2M6 12h2M9 12h1M3 13h7M1 14h4M6 14h2M3 15h2M6 15h1M8 15h2M1 16h1M4 16h2M8 16h1M3 17h1M6 17h1M6 18h1M4 20h1"/><path stroke="#2e86c8" d="M6 5h1M3 6h4M9 6h1M3 7h6M10 7h1M2 8h9M2 9h8M2 10h8M2 11h4M7 11h2M11 11h1M3 12h2M6 12h2M9 12h1M3 13h6M1 14h3M6 14h2M4 15h1M6 15h1M9 15h1M1 16h1M4 16h2M8 16h1M3 17h1M6 17h1"/><path stroke="#3180bd" d="M6 5h1M4 6h3M9 6h1M3 7h5M10 7h1M2 8h8M2 9h7M2 10h7M3 11h3M7 11h2M3 12h2M6 12h2M9 12h1M3 13h4M2 14h2M6 14h2M4 15h1M6 15h1M9 15h1M5 16h1M8 16h1M3 17h1M6 17h1"/><path stroke="#347ab3" d="M6 5h1M4 6h3M3 7h4M10 7h1M2 8h8M2 9h1M4 9h3M8 9h1M3 10h6M3 11h2M7 11h2M3 12h2M6 12h2M4 13h2M2 14h2M6 14h2M4 15h1M6 15h1M9 15h1M5 16h1"/><path stroke="#3773a7" d="M6 5h1M4 6h2M3 7h4M10 7h1M2 8h1M4 8h6M2 9h1M4 9h3M3 10h6M3 11h2M7 11h2M3 12h1M6 12h2M4 13h2M6 14h2M4 15h1"/><path stroke="#3a6d9c" d="M6 5h1M4 6h2M3 7h4M10 7h1M2 8h1M4 8h6M2 9h1M4 9h3M3 10h6M3 11h2M7 11h2M3 12h1M6 12h2M4 13h2M6 14h2M4 15h1"/><path stroke="#3c6690" d="M5 6h1M4 7h2M10 7h1M2 8h1M4 8h1M6 8h4M2 9h1M5 9h2M3 10h6M3 11h2M7 11h1M3 12h1M6 12h2M4 13h2M6 14h2M4 15h1"/><path stroke="#3d6084" d="M4 7h2M10 7h1M4 8h1M6 8h4M2 9h1M5 9h2M3 10h1M5 10h1M7 10h2M4 11h1M3 12h1M6 12h1M5 13h1M4 15h1"/><path stroke="#3d5a79" d="M4 7h2M4 8h1M6 8h2M9 8h1M5 9h2M7 10h1M4 11h1M3 12h1M6 12h1M5 13h1M4 15h1"/><path stroke="#3d546e" d="M4 7h2M4 8h1M6 8h2M9 8h1M5 9h2M7 10h1M4 11h1M3 12h1M6 12h1M5 13h1M4 15h1"/></g></g>
<text transform="translate(156.85,219.20) scale(0.1038)" text-anchor="middle" stroke="#2b2b2b" stroke-width="0.5" fill="#2b2b2b">0.02</text>
<text transform="translate(173.40,219.20) scale(0.1038)" text-anchor="middle" stroke="#2b2b2b" stroke-width="0.5" fill="#2b2b2b">0.04</text>
<text transform="translate(189.95,219.20) scale(0.1038)" text-anchor="middle" stroke="#2b2b2b" stroke-width="0.5" fill="#2b2b2b">0.06</text>
<text transform="translate(206.50,219.20) scale(0.1038)" text-anchor="middle" stroke="#2b2b2b" stroke-width="0.5" fill="#2b2b2b">0.08</text>
<text transform="translate(223.05,219.20) scale(0.1038)" text-anchor="middle" stroke="#2b2b2b" stroke-width="0.5" fill="#2b2b2b">0.10</text>
<text transform="translate(140.10,210.85) scale(0.1038)" text-anchor="end" stroke="#2b2b2b" stroke-width="0.5" fill="#2b2b2b">0.01</text>
<text transform="translate(140.10,200.79) scale(0.1038)" text-anchor="end" stroke="#2b2b2b" stroke-width="0.5" fill="#2b2b2b">0.02</text>
<text transform="translate(140.10,190.73) scale(0.1038)" text-anchor="end" stroke="#2b2b2b" stroke-width="0.5" fill="#2b2b2b">0.03</text>
<text transform="translate(140.10,180.67) scale(0.1038)" text-anchor="end" stroke="#2b2b2b" stroke-width="0.5" fill="#2b2b2b">0.04</text>
<text transform="translate(140.10,170.61) scale(0.1038)" text-anchor="end" stroke="#2b2b2b" stroke-width="0.5" fill="#2b2b2b">0.05</text>
<text transform="translate(140.10,160.55) scale(0.1038)" text-anchor="end" stroke="#2b2b2b" stroke-width="0.5" fill="#2b2b2b">0.06</text>
<text transform="translate(140.10,150.49) scale(0.1038)" text-anchor="end" stroke="#2b2b2b" stroke-width="0.5" fill="#2b2b2b">0.07</text>
<text transform="translate(140.10,140.43) scale(0.1038)" text-anchor="end" stroke="#2b2b2b" stroke-width="0.5" fill="#2b2b2b">0.08</text>
<text transform="translate(140.10,130.37) scale(0.1038)" text-anchor="end" stroke="#2b2b2b" stroke-width="0.5" fill="#2b2b2b">0.09</text>
<path d="M156.85 213.00v1.5M173.40 213.00v1.5M189.95 213.00v1.5M206.50 213.00v1.5M223.05 213.00v1.5M142.80 209.30h-1.5M142.80 199.24h-1.5M142.80 189.18h-1.5M142.80 179.12h-1.5M142.80 169.06h-1.5M142.80 159.00h-1.5M142.80 148.94h-1.5M142.80 138.88h-1.5M142.80 128.82h-1.5" stroke="#222" stroke-width="0.55" fill="none"/>
<text transform="translate(188.00,224.60) scale(0.1038)" text-anchor="middle" stroke="#2b2b2b" stroke-width="0.5" fill="#2b2b2b">width</text>
<text transform="translate(127.60,173.70) rotate(-90) scale(0.1038)" text-anchor="middle" stroke="#2b2b2b" stroke-width="0.5" fill="#2b2b2b">height</text>
<g fill="none"><circle cx="188.1" cy="42.6" r="2.6" fill="#6be33c" opacity="0.85"/><path d="M188.1 38.8l3.8 3.8l-3.8 3.8l-3.8 -3.8z" fill="#5fe02f" opacity="0.75"/><rect x="186.7" y="41.1" width="2.8" height="3" fill="#f26a55" opacity="0.9"/></g>
<text transform="translate(154.00,252.00) scale(0.3500)" text-anchor="middle" style="font-family:'Liberation Serif',serif" fill="#111">(<tspan font-weight="bold">a</tspan>)</text>
<text transform="translate(364.75,98.30) rotate(-90) scale(0.1038)" text-anchor="end" stroke="#2b2b2b" stroke-width="0.5" fill="#2b2b2b">helmet</text>
<text transform="translate(410.95,98.30) rotate(-90) scale(0.1038)" text-anchor="end" stroke="#2b2b2b" stroke-width="0.5" fill="#2b2b2b">head</text>
<path d="M345.40 95.30V4.52h36.60V95.30zM391.60 95.30V67.02h36.60V95.30z" fill="#1f77b4"/>
<text transform="translate(337.90,96.85) scale(0.1038)" text-anchor="end" stroke="#2b2b2b" stroke-width="0.5" fill="#2b2b2b">0</text>
<text transform="translate(337.90,86.22) scale(0.1038)" text-anchor="end" stroke="#2b2b2b" stroke-width="0.5" fill="#2b2b2b">2000</text>
<text transform="translate(337.90,75.59) scale(0.1038)" text-anchor="end" stroke="#2b2b2b" stroke-width="0.5" fill="#2b2b2b">4000</text>
<text transform="translate(337.90,64.96) scale(0.1038)" text-anchor="end" stroke="#2b2b2b" stroke-width="0.5" fill="#2b2b2b">6000</text>
<text transform="translate(337.90,54.33) scale(0.1038)" text-anchor="end" stroke="#2b2b2b" stroke-width="0.5" fill="#2b2b2b">8000</text>
<text transform="translate(337.90,43.70) scale(0.1038)" text-anchor="end" stroke="#2b2b2b" stroke-width="0.5" fill="#2b2b2b">10000</text>
<text transform="translate(337.90,33.07) scale(0.1038)" text-anchor="end" stroke="#2b2b2b" stroke-width="0.5" fill="#2b2b2b">12000</text>
<text transform="translate(337.90,22.44) scale(0.1038)" text-anchor="end" stroke="#2b2b2b" stroke-width="0.5" fill="#2b2b2b">14000</text>
<text transform="translate(337.90,11.81) scale(0.1038)" text-anchor="end" stroke="#2b2b2b" stroke-width="0.5" fill="#2b2b2b">16000</text>
<path d="M339.50 95.30h1.5M339.50 84.67h1.5M339.50 74.04h1.5M339.50 63.41h1.5M339.50 52.78h1.5M339.50 42.15h1.5M339.50 31.52h1.5M339.50 20.89h1.5M339.50 10.26h1.5M363.70 95.30v1.5M409.90 95.30v1.5" stroke="#222" stroke-width="0.55" fill="none"/>
<text transform="translate(321.20,48.40) rotate(-90) scale(0.1038)" text-anchor="middle" stroke="#2b2b2b" stroke-width="0.5" fill="#2b2b2b">instances</text>
<g filter="url(#b)"><g transform="translate(344.90,207.73) scale(1.6660,-1.7460)" stroke-width="1.04" fill="none"><path stroke="#acc9ee" d="M0 0h49M0 1h50M0 2h50M0 3h2M3 3h47M1 4h30M32 4h18M0 5h36M37 5h13M0 6h4M5 6h10M17 6h23M41 6h8M0 7h1M2 7h4M7 7h43M0 8h4M5 8h15M21 8h1M23 8h17M41 8h2M44 8h6M0 9h36M37 9h5M43 9h7M0 10h44M45 10h2M48 10h2M0 11h50M0 12h9M10 12h40M0 13h50M0 14h47M48 14h2M0 15h50M0 16h50M0 17h50M0 18h50M0 19h50M0 20h50M0 21h50M0 22h50M0 23h50M0 24h50M0 25h50M0 26h50M0 27h50M0 28h50M0 29h50M0 30h10M11 30h39M1 31h2M4 31h2M7 31h2M10 31h14M25 31h10M38 31h12M0 32h10M11 32h35M48 32h2M0 33h1M2 33h1M5 33h20M26 33h1M28 33h6M35 33h2M38 33h4M43 33h7M0 34h1M3 34h1M5 34h7M13 34h2M17 34h15M33 34h9M43 34h2M46 34h3M1 35h5M7 35h4M12 35h5M18 35h4M23 35h5M29 35h1M33 35h5M39 35h1M41 35h5M47 35h2M0 36h7M8 36h1M10 36h2M13 36h1M17 36h2M21 36h3M25 36h7M34 36h2M37 36h6M44 36h3M0 37h1M2 37h2M6 37h2M10 37h1M12 37h7M21 37h1M23 37h1M25 37h1M28 37h3M32 37h1M34 37h2M37 37h3M41 37h1M43 37h3M47 37h3M0 38h2M3 38h4M8 38h1M11 38h5M19 38h6M26 38h1M28 38h4M33 38h1M35 38h2M38 38h4M43 38h2M46 38h4M1 39h1M3 39h5M9 39h2M13 39h7M21 39h5M27 39h3M33 39h8M42 39h2M45 39h4M0 40h6M7 40h1M9 40h9M19 40h4M24 40h3M29 40h1M31 40h1M33 40h5M39 40h2M42 40h3M48 40h2M0 41h1M5 41h2M8 41h2M11 41h2M14 41h3M19 41h5M25 41h1M29 41h1M31 41h5M38 41h5M44 41h1M46 41h2M49 41h1M0 42h2M3 42h5M9 42h3M13 42h2M16 42h1M18 42h3M22 42h7M30 42h4M35 42h1M40 42h10M0 43h6M7 43h1M9 43h1M11 43h3M15 43h7M24 43h2M27 43h2M30 43h1M34 43h2M38 43h5M44 43h2M47 43h1M49 43h1M1 44h4M6 44h1M9 44h3M13 44h2M16 44h3M20 44h1M24 44h1M27 44h5M33 44h5M40 44h2M43 44h7M2 45h2M5 45h2M11 45h10M22 45h1M24 45h2M27 45h1M30 45h4M37 45h4M42 45h4M47 45h1M49 45h1M0 46h2M3 46h7M11 46h1M13 46h2M17 46h1M19 46h3M23 46h16M40 46h1M42 46h8M0 47h26M27 47h23M0 48h50M0 49h50"/><path stroke="#9fc3ef" d="M0 0h1M2 0h47M0 1h50M0 2h50M0 3h2M3 3h47M1 4h6M8 4h23M32 4h16M0 5h2M3 5h8M12 5h19M32 5h4M37 5h10M48 5h2M1 6h3M5 6h2M8 6h7M18 6h4M23 6h4M28 6h4M33 6h1M35 6h5M41 6h2M44 6h4M0 7h1M2 7h4M7 7h1M9 7h11M21 7h2M24 7h7M32 7h3M36 7h1M38 7h5M45 7h1M47 7h3M0 8h3M6 8h14M21 8h1M23 8h1M25 8h6M32 8h6M39 8h1M42 8h1M44 8h1M46 8h4M0 9h22M23 9h13M37 9h5M43 9h3M48 9h2M0 10h9M10 10h3M14 10h24M39 10h3M43 10h1M45 10h2M49 10h1M1 11h1M3 11h2M6 11h3M10 11h27M38 11h6M45 11h5M0 12h3M5 12h4M10 12h30M41 12h9M0 13h50M0 14h47M48 14h2M0 15h48M49 15h1M0 16h50M0 17h50M0 18h50M0 19h50M0 20h50M0 21h50M0 22h50M0 23h50M0 24h50M0 25h50M0 26h50M0 27h50M0 28h50M0 29h23M24 29h26M0 30h5M6 30h4M11 30h3M15 30h32M48 30h2M2 31h1M4 31h1M7 31h1M10 31h4M15 31h6M22 31h1M25 31h3M29 31h3M33 31h2M38 31h2M42 31h2M45 31h1M49 31h1M2 32h2M5 32h3M15 32h10M27 32h4M33 32h1M36 32h5M42 32h1M45 32h1M49 32h1M0 33h1M6 33h3M12 33h1M17 33h2M20 33h1M22 33h1M24 33h1M28 33h4M35 33h2M38 33h1M40 33h1M45 33h2M49 33h1M5 34h2M8 34h3M13 34h1M18 34h1M23 34h2M27 34h5M34 34h1M36 34h5M44 34h1M46 34h3M1 35h1M3 35h2M9 35h1M12 35h3M19 35h2M23 35h1M34 35h4M39 35h1M41 35h3M47 35h2M1 36h1M4 36h1M6 36h1M10 36h1M13 36h1M21 36h2M26 36h1M28 36h2M34 36h1M37 36h2M40 36h2M45 36h2M0 37h1M2 37h1M7 37h1M12 37h2M15 37h4M23 37h1M29 37h1M34 37h2M44 37h2M47 37h2M0 38h1M3 38h1M6 38h1M8 38h1M11 38h1M15 38h1M22 38h2M26 38h1M28 38h2M31 38h1M35 38h2M38 38h1M40 38h1M43 38h1M47 38h3M1 39h1M3 39h5M9 39h1M13 39h1M17 39h1M19 39h1M22 39h1M24 39h2M27 39h2M34 39h1M37 39h1M39 39h2M42 39h2M45 39h1M47 39h1M0 40h4M5 40h1M9 40h1M11 40h1M13 40h5M19 40h1M22 40h1M29 40h1M31 40h1M34 40h2M37 40h1M40 40h1M43 40h1M48 40h1M0 41h1M5 41h2M8 41h1M14 41h2M22 41h2M25 41h1M29 41h1M31 41h1M33 41h2M39 41h4M46 41h1M49 41h1M1 42h1M3 42h1M6 42h1M9 42h1M13 42h1M22 42h1M24 42h1M26 42h1M31 42h1M40 42h1M42 42h1M45 42h3M49 42h1M1 43h2M4 43h1M9 43h1M11 43h3M16 43h5M27 43h1M30 43h1M34 43h2M38 43h1M44 43h1M49 43h1M1 44h1M4 44h1M6 44h1M9 44h1M11 44h1M13 44h2M16 44h3M20 44h1M24 44h1M27 44h1M31 44h1M34 44h3M40 44h2M43 44h1M46 44h1M2 45h1M5 45h2M15 45h1M18 45h1M24 45h1M27 45h1M30 45h1M33 45h1M38 45h3M43 45h3M49 45h1M1 46h1M7 46h2M13 46h2M17 46h1M19 46h1M23 46h2M27 46h1M30 46h5M36 46h3M42 46h4M47 46h2M1 47h8M10 47h2M14 47h6M21 47h5M28 47h20M49 47h1M0 48h50M0 49h50"/><path stroke="#8fbdf1" d="M0 0h1M2 0h3M6 0h39M46 0h1M0 1h50M0 2h2M3 2h46M0 3h1M3 3h1M5 3h4M10 3h32M43 3h6M3 4h3M8 4h1M10 4h21M32 4h1M34 4h5M40 4h2M43 4h1M1 5h1M4 5h2M7 5h3M12 5h4M17 5h2M20 5h1M23 5h1M25 5h3M37 5h4M44 5h2M48 5h1M2 6h2M13 6h1M18 6h1M20 6h2M25 6h2M30 6h1M33 6h1M36 6h1M42 6h1M46 6h2M3 7h1M9 7h2M12 7h2M15 7h4M21 7h1M24 7h1M27 7h1M30 7h1M32 7h1M34 7h1M36 7h1M39 7h1M47 7h1M9 8h1M11 8h2M15 8h4M21 8h1M25 8h1M28 8h1M32 8h1M34 8h1M37 8h1M39 8h1M42 8h1M2 9h2M5 9h2M8 9h1M14 9h1M19 9h1M25 9h1M29 9h3M33 9h3M38 9h2M41 9h1M48 9h1M1 10h2M5 10h1M8 10h1M10 10h2M14 10h1M17 10h2M20 10h7M29 10h1M31 10h1M33 10h1M35 10h2M40 10h2M3 11h2M6 11h1M8 11h1M10 11h1M13 11h2M16 11h2M19 11h4M24 11h4M29 11h3M33 11h2M36 11h1M38 11h2M41 11h1M48 11h1M0 12h2M5 12h2M8 12h1M10 12h2M13 12h27M41 12h3M45 12h4M1 13h2M4 13h3M8 13h34M43 13h1M45 13h1M47 13h3M0 14h3M4 14h4M9 14h34M45 14h2M48 14h1M0 15h4M5 15h43M49 15h1M0 16h50M0 17h50M0 18h50M0 19h50M0 20h50M0 21h50M0 22h50M0 23h50M0 24h1M2 24h41M44 24h2M47 24h2M1 25h49M0 26h1M2 26h44M47 26h3M1 27h1M4 27h13M18 27h29M48 27h2M0 28h1M2 28h3M6 28h24M31 28h5M37 28h6M44 28h2M47 28h2M1 29h1M3 29h4M8 29h5M14 29h2M17 29h6M24 29h6M31 29h3M37 29h3M42 29h5M48 29h2M1 30h1M4 30h1M6 30h4M11 30h2M15 30h5M22 30h3M26 30h7M34 30h1M36 30h1M38 30h1M40 30h1M42 30h1M44 30h1M46 30h1M48 30h1M11 31h2M15 31h1M27 31h1M38 31h1M42 31h2M2 32h2M17 32h1M21 32h1M23 32h1M28 32h2M33 32h1M39 32h1M45 32h1M49 32h1M29 33h1M5 34h2M10 34h1M13 34h1M23 34h1M40 34h1M3 35h1M35 35h1M41 35h1M34 36h1M38 36h1M41 36h1M35 37h1M48 38h1M22 39h1M24 39h2M45 39h1M47 39h1M0 40h1M13 40h1M5 41h1M6 42h1M26 42h1M31 42h1M40 42h1M9 43h1M12 43h1M38 43h1M6 44h1M13 44h2M40 44h1M43 44h1M15 45h1M13 46h1M33 46h2M47 46h1M3 47h1M8 47h1M10 47h1M17 47h2M22 47h1M24 47h2M29 47h3M34 47h5M45 47h1M47 47h1M49 47h1M0 48h1M2 48h41M44 48h6M1 49h15M17 49h33"/><path stroke="#7fb8f3" d="M0 0h1M6 0h37M2 1h47M5 2h3M9 2h38M48 2h1M5 3h1M7 3h2M10 3h21M32 3h10M11 4h1M13 4h4M19 4h1M21 4h6M29 4h2M34 4h1M36 4h1M9 5h1M17 5h1M20 5h1M12 7h1M32 7h1M11 8h1M5 9h1M38 9h1M11 10h1M14 10h1M18 10h1M23 10h1M16 11h2M21 11h2M24 11h1M34 11h1M6 12h1M11 12h1M17 12h5M23 12h2M26 12h2M29 12h1M32 12h4M37 12h1M39 12h1M1 13h1M6 13h1M10 13h2M13 13h1M15 13h5M21 13h13M35 13h7M43 13h1M45 13h1M48 13h2M4 14h1M7 14h1M9 14h31M41 14h2M45 14h2M48 14h1M1 15h2M6 15h36M43 15h2M46 15h1M0 16h1M2 16h43M46 16h4M1 17h3M5 17h45M0 18h2M3 18h45M49 18h1M0 19h50M0 20h50M0 21h50M0 22h50M0 23h49M0 24h1M3 24h4M8 24h35M44 24h1M47 24h1M2 25h45M48 25h2M0 26h1M4 26h1M6 26h1M8 26h3M12 26h1M14 26h2M17 26h20M39 26h2M43 26h2M7 27h1M9 27h8M18 27h11M31 27h1M33 27h1M35 27h4M41 27h1M43 27h1M46 27h1M48 27h1M2 28h1M6 28h1M8 28h1M11 28h2M17 28h1M19 28h3M23 28h2M26 28h2M29 28h1M32 28h1M34 28h1M37 28h1M40 28h3M45 28h1M1 29h1M5 29h1M10 29h1M12 29h1M14 29h1M17 29h1M19 29h3M24 29h1M26 29h1M28 29h1M33 29h1M37 29h1M39 29h1M43 29h1M45 29h1M18 30h2M22 30h2M27 30h5M36 30h1M40 30h1M22 47h1M35 47h1M47 47h1M0 48h1M3 48h1M5 48h6M14 48h2M18 48h3M22 48h1M25 48h4M30 48h1M32 48h4M37 48h2M40 48h3M45 48h3M1 49h6M8 49h1M10 49h6M17 49h2M20 49h4M25 49h1M27 49h4M32 49h5M38 49h2M41 49h3M45 49h5"/><path stroke="#6cb2f5" d="M8 0h30M39 0h2M2 1h1M4 1h1M6 1h39M47 1h1M5 2h3M9 2h37M7 3h1M11 3h6M18 3h13M32 3h3M37 3h1M39 3h3M15 4h1M25 4h2M29 4h1M36 4h1M17 11h1M6 12h1M18 12h3M23 12h1M27 12h1M34 12h1M1 13h1M6 13h1M10 13h1M13 13h1M15 13h3M21 13h11M33 13h1M36 13h1M38 13h1M41 13h1M45 13h1M48 13h2M4 14h1M9 14h30M45 14h1M2 15h1M7 15h5M13 15h25M39 15h3M43 15h1M3 16h1M5 16h40M46 16h3M1 17h3M5 17h45M0 18h1M3 18h45M0 19h47M49 19h1M1 20h1M3 20h46M0 21h44M45 21h5M0 22h44M45 22h2M48 22h1M1 23h42M44 23h3M48 23h1M0 24h1M3 24h1M6 24h1M8 24h31M40 24h3M44 24h1M47 24h1M5 25h2M8 25h3M12 25h1M14 25h22M37 25h1M39 25h1M42 25h1M46 25h1M12 26h1M14 26h2M17 26h12M32 26h1M34 26h3M39 26h2M11 27h2M15 27h2M21 27h8M31 27h1M33 27h1M36 27h3M41 27h1M46 27h1M8 28h1M17 28h1M21 28h1M23 28h1M27 28h1M29 28h1M37 28h1M41 28h1M5 29h1M14 29h1M19 29h1M21 29h1M26 29h1M19 30h1M31 30h1M0 48h1M3 48h1M9 48h1M27 48h1M37 48h1M42 48h1M45 48h1M1 49h6M8 49h1M10 49h1M12 49h4M17 49h2M20 49h4M25 49h1M27 49h4M32 49h5M38 49h2M41 49h3M45 49h5"/><path stroke="#56acf6" d="M8 0h1M11 0h25M37 0h1M8 1h35M44 1h1M7 2h1M9 2h32M42 2h2M45 2h1M16 3h1M18 3h2M21 3h10M32 3h3M39 3h3M26 4h1M36 4h1M16 13h1M24 13h1M27 13h2M30 13h1M33 13h1M36 13h1M11 14h7M19 14h1M21 14h1M23 14h1M25 14h4M30 14h1M33 14h5M8 15h1M13 15h24M39 15h1M41 15h1M5 16h4M10 16h30M42 16h2M1 17h1M3 17h1M5 17h1M7 17h40M0 18h1M4 18h40M45 18h2M1 19h2M4 19h1M6 19h39M49 19h1M3 20h43M48 20h1M0 21h44M45 21h4M1 22h2M4 22h3M8 22h36M45 22h1M4 23h39M44 23h1M46 23h1M11 24h28M40 24h1M42 24h1M44 24h1M8 25h3M14 25h14M29 25h5M37 25h1M39 25h1M12 26h1M18 26h1M20 26h1M22 26h7M40 26h1M21 27h1M27 27h1M31 27h1M36 27h1M27 28h1M26 29h1M1 49h2M4 49h1M6 49h1M13 49h1M15 49h1M17 49h1M20 49h1M23 49h1M25 49h1M29 49h1M32 49h3M36 49h1M38 49h1M41 49h2M45 49h5"/><path stroke="#36a6f7" d="M11 0h24M37 0h1M8 1h35M44 1h1M10 2h1M12 2h29M42 2h1M16 3h1M18 3h2M21 3h7M29 3h1M32 3h2M39 3h2M28 13h1M36 13h1M15 14h3M19 14h1M21 14h1M23 14h1M25 14h1M28 14h1M33 14h1M36 14h2M13 15h1M15 15h15M31 15h5M41 15h1M5 16h1M7 16h1M11 16h29M1 17h1M5 17h1M7 17h37M0 18h1M4 18h40M45 18h2M1 19h2M6 19h39M4 20h42M48 20h1M2 21h40M43 21h1M45 21h3M2 22h1M5 22h1M8 22h34M43 22h1M4 23h1M6 23h2M9 23h1M11 23h32M44 23h1M12 24h24M37 24h1M40 24h1M9 25h2M14 25h1M16 25h4M21 25h1M24 25h4M29 25h5M37 25h1M39 25h1M22 26h5M28 26h1M40 26h1M36 27h1M23 49h1M33 49h2M36 49h1M42 49h1M47 49h1"/><path stroke="#2fa0f0" d="M12 0h6M19 0h4M24 0h6M31 0h4M37 0h1M8 1h33M42 1h1M12 2h26M16 3h1M19 3h1M21 3h7M33 3h1M28 13h1M19 14h1M23 14h1M37 14h1M15 15h10M26 15h4M31 15h5M41 15h1M11 16h28M7 17h1M9 17h30M40 17h3M4 18h1M7 18h35M6 19h37M44 19h1M4 20h2M7 20h2M10 20h35M6 21h36M43 21h1M45 21h1M5 22h1M8 22h1M11 22h27M39 22h3M9 23h1M11 23h3M15 23h22M38 23h5M44 23h1M12 24h3M16 24h15M32 24h1M9 25h2M14 25h1M21 25h1M25 25h1M29 25h1M31 25h1M37 25h1M23 26h1M28 26h1M33 49h1"/><path stroke="#2b9ae7" d="M12 0h3M16 0h2M19 0h1M21 0h2M24 0h6M31 0h1M34 0h1M8 1h32M42 1h1M12 2h22M35 2h2M22 3h4M27 3h1M33 3h1M19 14h1M37 14h1M18 15h3M22 15h3M26 15h4M31 15h3M35 15h1M41 15h1M11 16h2M14 16h2M17 16h22M11 17h28M40 17h3M4 18h1M8 18h34M6 19h37M4 20h2M7 20h2M10 20h31M42 20h1M6 21h2M10 21h4M15 21h27M43 21h1M8 22h1M11 22h27M39 22h1M41 22h1M9 23h1M11 23h3M15 23h22M38 23h5M44 23h1M13 24h2M16 24h4M21 24h1M23 24h7M32 24h1M10 25h1M14 25h1M21 25h1M31 25h1M37 25h1"/><path stroke="#2a93dd" d="M19 0h1M21 0h2M24 0h6M12 1h25M38 1h2M12 2h1M15 2h8M24 2h10M35 2h2M22 3h1M19 15h2M22 15h3M26 15h1M28 15h2M33 15h1M12 16h1M14 16h2M17 16h16M34 16h2M11 17h28M40 17h1M8 18h4M13 18h29M6 19h35M42 19h1M7 20h2M11 20h30M6 21h1M10 21h1M12 21h2M15 21h23M39 21h2M8 22h1M11 22h27M39 22h1M12 23h2M15 23h4M20 23h15M39 23h1M14 24h1M21 24h1M23 24h7M32 24h1"/><path stroke="#2b8dd3" d="M19 0h1M21 0h1M25 0h3M12 1h25M38 1h1M15 2h3M19 2h4M24 2h7M32 2h2M35 2h2M23 15h1M28 15h2M33 15h1M14 16h2M17 16h16M34 16h2M11 17h28M40 17h1M10 18h1M13 18h29M6 19h1M8 19h1M10 19h31M8 20h1M11 20h30M6 21h1M10 21h1M12 21h2M15 21h23M39 21h1M12 22h23M36 22h1M39 22h1M12 23h1M15 23h4M20 23h14M39 23h1M14 24h1M23 24h7M32 24h1"/><path stroke="#2e86c8" d="M19 0h1M21 0h1M25 0h2M13 1h24M38 1h1M16 2h2M19 2h4M24 2h7M32 2h2M36 2h1M23 15h1M28 15h1M33 15h1M15 16h1M17 16h1M19 16h5M25 16h5M31 16h1M34 16h2M11 17h1M13 17h2M16 17h23M40 17h1M13 18h1M15 18h5M21 18h16M38 18h2M41 18h1M8 19h1M10 19h1M12 19h29M8 20h1M11 20h26M38 20h2M10 21h1M12 21h2M15 21h21M37 21h1M39 21h1M12 22h1M14 22h2M17 22h18M36 22h1M12 23h1M16 23h2M21 23h13M39 23h1M24 24h1M26 24h4"/><path stroke="#3180bd" d="M21 0h1M13 1h20M34 1h1M16 2h1M19 2h2M22 2h1M24 2h7M32 2h2M23 15h1M28 15h1M17 16h1M19 16h5M26 16h4M31 16h1M34 16h1M11 17h1M13 17h2M16 17h14M31 17h5M13 18h1M15 18h5M21 18h12M34 18h3M39 18h1M41 18h1M8 19h1M13 19h23M37 19h4M8 20h1M11 20h1M13 20h24M39 20h1M13 21h1M15 21h19M35 21h1M37 21h1M39 21h1M12 22h1M15 22h1M17 22h14M32 22h2M36 22h1M12 23h1M16 23h2M21 23h1M23 23h1M25 23h1M27 23h2M30 23h3M24 24h1M26 24h4"/><path stroke="#347ab3" d="M21 0h1M15 1h1M17 1h16M34 1h1M16 2h1M19 2h1M24 2h2M27 2h3M17 16h1M19 16h5M27 16h2M31 16h1M34 16h1M13 17h1M16 17h6M23 17h7M32 17h3M13 18h1M15 18h5M21 18h12M34 18h3M39 18h1M8 19h1M13 19h23M37 19h4M8 20h1M11 20h1M14 20h23M15 21h19M35 21h1M37 21h1M39 21h1M12 22h1M15 22h1M18 22h13M32 22h2M36 22h1M16 23h1M21 23h1M23 23h1M25 23h1M27 23h2M30 23h2M26 24h2M29 24h1"/><path stroke="#3773a7" d="M15 1h1M17 1h16M34 1h1M25 2h1M27 2h2M21 16h3M27 16h2M34 16h1M16 17h6M23 17h7M32 17h3M15 18h1M17 18h3M21 18h12M34 18h2M13 19h1M15 19h2M18 19h18M11 20h1M14 20h21M17 21h17M35 21h1M37 21h1M12 22h1M15 22h1M18 22h8M27 22h1M33 22h1M16 23h1M23 23h1M25 23h1M27 23h1M26 24h1"/><path stroke="#3a6d9c" d="M17 1h16M34 1h1M25 2h1M27 2h2M21 16h1M27 16h1M17 17h3M21 17h1M23 17h1M25 17h3M29 17h1M32 17h1M15 18h1M17 18h3M21 18h12M34 18h2M13 19h1M15 19h1M18 19h18M14 20h21M17 21h17M35 21h1M37 21h1M12 22h1M18 22h1M20 22h3M24 22h2M33 22h1M23 23h1M25 23h1M26 24h1"/><path stroke="#3c6690" d="M17 1h4M22 1h11M34 1h1M28 2h1M21 16h1M27 16h1M21 17h1M23 17h1M25 17h2M29 17h1M32 17h1M15 18h1M17 18h3M21 18h7M29 18h3M35 18h1M15 19h1M18 19h12M31 19h3M14 20h1M16 20h1M18 20h16M18 21h15M35 21h1M37 21h1M18 22h1M21 22h2M24 22h1M33 22h1M23 23h1"/><path stroke="#3d6084" d="M18 1h3M22 1h11M27 16h1M25 17h1M32 17h1M15 18h1M17 18h2M21 18h3M25 18h3M29 18h3M15 19h1M18 19h12M31 19h2M18 20h1M21 20h12M18 21h15M37 21h1M18 22h1M21 22h2M24 22h1M23 23h1"/><path stroke="#3d5a79" d="M18 1h3M22 1h2M25 1h4M30 1h2M27 16h1M25 17h1M32 17h1M15 18h1M21 18h1M25 18h3M29 18h1M31 18h1M15 19h1M18 19h6M25 19h5M31 19h1M18 20h1M21 20h3M25 20h8M18 21h5M24 21h8M21 22h1M24 22h1"/><path stroke="#3d546e" d="M18 1h2M22 1h2M25 1h4M31 1h1M25 17h1M15 18h1M21 18h1M25 18h3M29 18h1M31 18h1M15 19h1M18 19h6M25 19h5M31 19h1M18 20h1M21 20h2M25 20h8M18 21h5M24 21h3M28 21h2M31 21h1M21 22h1"/></g></g>
<text transform="translate(344.90,219.20) scale(0.1038)" text-anchor="middle" stroke="#2b2b2b" stroke-width="0.5" fill="#2b2b2b">0.0</text>
<text transform="translate(361.56,219.20) scale(0.1038)" text-anchor="middle" stroke="#2b2b2b" stroke-width="0.5" fill="#2b2b2b">0.2</text>
<text transform="translate(378.22,219.20) scale(0.1038)" text-anchor="middle" stroke="#2b2b2b" stroke-width="0.5" fill="#2b2b2b">0.4</text>
<text transform="translate(394.88,219.20) scale(0.1038)" text-anchor="middle" stroke="#2b2b2b" stroke-width="0.5" fill="#2b2b2b">0.6</text>
<text transform="translate(411.54,219.20) scale(0.1038)" text-anchor="middle" stroke="#2b2b2b" stroke-width="0.5" fill="#2b2b2b">0.8</text>
<text transform="translate(428.20,219.20) scale(0.1038)" text-anchor="middle" stroke="#2b2b2b" stroke-width="0.5" fill="#2b2b2b">1.0</text>
<text transform="translate(338.60,210.15) scale(0.1038)" text-anchor="end" stroke="#2b2b2b" stroke-width="0.5" fill="#2b2b2b">0.0</text>
<text transform="translate(338.60,192.69) scale(0.1038)" text-anchor="end" stroke="#2b2b2b" stroke-width="0.5" fill="#2b2b2b">0.2</text>
<text transform="translate(338.60,175.23) scale(0.1038)" text-anchor="end" stroke="#2b2b2b" stroke-width="0.5" fill="#2b2b2b">0.4</text>
<text transform="translate(338.60,157.77) scale(0.1038)" text-anchor="end" stroke="#2b2b2b" stroke-width="0.5" fill="#2b2b2b">0.6</text>
<text transform="translate(338.60,140.31) scale(0.1038)" text-anchor="end" stroke="#2b2b2b" stroke-width="0.5" fill="#2b2b2b">0.8</text>
<text transform="translate(338.60,122.85) scale(0.1038)" text-anchor="end" stroke="#2b2b2b" stroke-width="0.5" fill="#2b2b2b">1.0</text>
<path d="M344.90 211.80v1.5M361.56 211.80v1.5M378.22 211.80v1.5M394.88 211.80v1.5M411.54 211.80v1.5M428.20 211.80v1.5M341.60 208.60h-1.5M341.60 191.14h-1.5M341.60 173.68h-1.5M341.60 156.22h-1.5M341.60 138.76h-1.5M341.60 121.30h-1.5" stroke="#222" stroke-width="0.55" fill="none"/>
<text transform="translate(386.55,224.60) scale(0.1038)" text-anchor="middle" stroke="#2b2b2b" stroke-width="0.5" fill="#2b2b2b">x</text>
<text transform="translate(328.70,164.95) rotate(-90) scale(0.1038)" text-anchor="middle" stroke="#2b2b2b" stroke-width="0.5" fill="#2b2b2b">y</text>
<g filter="url(#b)"><g transform="translate(456.40,207.73) scale(1.6660,-1.7440)" stroke-width="1.04" fill="none"><path stroke="#acc9ee" d="M0 0h8M0 1h8M0 2h10M0 3h13M0 4h15M0 5h16M17 5h1M0 6h21M0 7h20M22 7h1M30 7h1M0 8h21M22 8h3M27 8h1M0 9h30M32 9h1M0 10h26M27 10h1M30 10h5M36 10h1M43 10h1M0 11h21M22 11h2M26 11h3M0 12h22M26 12h3M1 13h1M3 13h21M26 13h1M34 13h1M6 14h17M24 14h1M6 15h18M26 15h1M30 15h1M8 16h2M11 16h13M25 16h1M29 16h1M8 17h4M13 17h12M27 17h2M9 18h2M12 18h1M14 18h13M28 18h1M30 18h1M10 19h1M13 19h1M15 19h11M28 19h1M31 19h1M9 20h1M12 20h1M14 20h6M21 20h5M27 20h1M32 20h1M9 21h1M15 21h2M18 21h10M30 21h1M12 22h1M15 22h13M11 23h1M16 23h1M18 23h9M28 23h1M31 23h1M38 23h1M19 24h8M28 24h3M33 24h1M11 25h2M18 25h6M25 25h3M29 25h1M14 26h1M18 26h2M22 26h2M25 26h3M29 26h1M31 26h1M43 26h1M20 27h5M26 27h2M24 28h3M31 28h1M14 29h1M19 29h1M21 29h1M26 29h1M28 29h1M31 30h1M21 31h1M22 32h1M24 32h1M43 32h1M30 33h1M36 34h1M18 35h1M17 36h1M38 41h1M42 41h1M49 42h1M48 43h1M9 49h1M46 49h1"/><path stroke="#9fc3ef" d="M1 1h2M1 2h3M2 3h4M3 4h4M4 5h4M5 6h4M6 7h4M7 8h3M8 9h3M9 10h2"/><path stroke="#8fbdf1" d="M1 1h2M2 2h2M2 3h3M3 4h3M4 5h3M5 6h3M7 7h1"/><path stroke="#7fb8f3" d="M1 1h1M2 2h2M2 3h3M3 4h3M4 5h3M5 6h2"/><path stroke="#6cb2f5" d="M1 1h1M2 2h2M2 3h3M3 4h3M4 5h2"/><path stroke="#56acf6" d="M2 2h2M3 3h2M3 4h2M5 5h1"/><path stroke="#36a6f7" d="M2 2h2M3 3h2M4 4h1M5 5h1"/><path stroke="#2fa0f0" d="M2 2h1M3 3h1M4 4h1"/><path stroke="#2b9ae7" d="M2 2h1M3 3h1M4 4h1"/><path stroke="#2a93dd" d="M2 2h1M3 3h1M4 4h1"/><path stroke="#2b8dd3" d="M2 2h1M3 3h1M4 4h1"/><path stroke="#2e86c8" d="M2 2h1M3 3h1M4 4h1"/><path stroke="#3180bd" d="M2 2h1M3 3h1M4 4h1"/><path stroke="#347ab3" d="M2 2h1M3 3h1M4 4h1"/><path stroke="#3773a7" d="M2 2h1M3 3h1"/><path stroke="#3a6d9c" d="M2 2h1M3 3h1"/><path stroke="#3c6690" d="M2 2h1M3 3h1"/><path stroke="#3d6084" d="M2 2h1M3 3h1"/><path stroke="#3d5a79" d="M2 2h1M3 3h1"/><path stroke="#3d546e" d="M3 3h1"/></g></g>
<text transform="translate(456.40,219.20) scale(0.1038)" text-anchor="middle" stroke="#2b2b2b" stroke-width="0.5" fill="#2b2b2b">0.0</text>
<text transform="translate(480.90,219.20) scale(0.1038)" text-anchor="middle" stroke="#2b2b2b" stroke-width="0.5" fill="#2b2b2b">0.2</text>
<text transform="translate(505.40,219.20) scale(0.1038)" text-anchor="middle" stroke="#2b2b2b" stroke-width="0.5" fill="#2b2b2b">0.4</text>
<text transform="translate(529.90,219.20) scale(0.1038)" text-anchor="middle" stroke="#2b2b2b" stroke-width="0.5" fill="#2b2b2b">0.6</text>
<text transform="translate(450.40,210.15) scale(0.1038)" text-anchor="end" stroke="#2b2b2b" stroke-width="0.5" fill="#2b2b2b">0.0</text>
<text transform="translate(450.40,199.25) scale(0.1038)" text-anchor="end" stroke="#2b2b2b" stroke-width="0.5" fill="#2b2b2b">0.1</text>
<text transform="translate(450.40,188.35) scale(0.1038)" text-anchor="end" stroke="#2b2b2b" stroke-width="0.5" fill="#2b2b2b">0.2</text>
<text transform="translate(450.40,177.45) scale(0.1038)" text-anchor="end" stroke="#2b2b2b" stroke-width="0.5" fill="#2b2b2b">0.3</text>
<text transform="translate(450.40,166.55) scale(0.1038)" text-anchor="end" stroke="#2b2b2b" stroke-width="0.5" fill="#2b2b2b">0.4</text>
<text transform="translate(450.40,155.65) scale(0.1038)" text-anchor="end" stroke="#2b2b2b" stroke-width="0.5" fill="#2b2b2b">0.5</text>
<text transform="translate(450.40,144.75) scale(0.1038)" text-anchor="end" stroke="#2b2b2b" stroke-width="0.5" fill="#2b2b2b">0.6</text>
<text transform="translate(450.40,133.85) scale(0.1038)" text-anchor="end" stroke="#2b2b2b" stroke-width="0.5" fill="#2b2b2b">0.7</text>
<text transform="translate(450.40,122.95) scale(0.1038)" text-anchor="end" stroke="#2b2b2b" stroke-width="0.5" fill="#2b2b2b">0.8</text>
<path d="M456.40 211.80v1.5M480.90 211.80v1.5M505.40 211.80v1.5M529.90 211.80v1.5M453.10 208.60h-1.5M453.10 197.70h-1.5M453.10 186.80h-1.5M453.10 175.90h-1.5M453.10 165.00h-1.5M453.10 154.10h-1.5M453.10 143.20h-1.5M453.10 132.30h-1.5M453.10 121.40h-1.5" stroke="#222" stroke-width="0.55" fill="none"/>
<text transform="translate(498.60,224.60) scale(0.1038)" text-anchor="middle" stroke="#2b2b2b" stroke-width="0.5" fill="#2b2b2b">width</text>
<text transform="translate(441.20,165.70) rotate(-90) scale(0.1038)" text-anchor="middle" stroke="#2b2b2b" stroke-width="0.5" fill="#2b2b2b">height</text>
<g fill="none" stroke="#ff3838"><path stroke-width="0.2" opacity="0.24" d="M498.32 46.88h0.75v0.84h-0.75zM498.16 46.74h1.08v1.13h-1.08zM497.98 46.56h1.44v1.48h-1.44zM497.84 46.30h1.71v2.00h-1.71zM497.75 46.29h1.89v2.01h-1.89zM497.66 46.18h2.09v2.24h-2.09zM497.51 45.97h2.38v2.66h-2.38zM497.36 45.92h2.67v2.76h-2.67zM497.31 45.86h2.78v2.87h-2.78zM497.18 45.66h3.05v3.27h-3.05zM497.03 45.30h3.33v4.00h-3.33zM496.96 45.48h3.48v3.64h-3.48zM496.84 45.21h3.72v4.19h-3.72zM496.74 45.25h3.93v4.10h-3.93zM496.61 44.94h4.17v4.72h-4.17zM496.55 44.99h4.31v4.61h-4.31zM496.45 44.69h4.49v5.23h-4.49zM496.31 44.66h4.77v5.29h-4.77zM496.26 44.66h4.88v5.28h-4.88zM496.13 44.49h5.13v5.62h-5.13zM496.04 44.18h5.33v6.24h-5.33zM495.94 44.33h5.52v5.93h-5.52zM495.88 44.07h5.64v6.46h-5.64zM495.74 44.05h5.91v6.50h-5.91zM495.70 43.83h6.00v6.93h-6.00zM495.58 44.03h6.23v6.55h-6.23zM495.51 43.92h6.39v6.76h-6.39zM495.37 43.63h6.67v7.34h-6.67zM495.31 43.78h6.77v7.03h-6.77zM495.16 43.64h7.08v7.32h-7.08zM495.07 43.34h7.25v7.91h-7.25zM495.02 43.21h7.36v8.18h-7.36zM494.94 43.09h7.52v8.43h-7.52zM494.81 43.30h7.79v8.01h-7.79zM494.74 42.84h7.91v8.91h-7.91zM494.67 43.19h8.05v8.22h-8.05zM494.58 42.71h8.23v9.17h-8.23zM494.47 42.92h8.46v8.76h-8.46zM494.41 42.69h8.58v9.22h-8.58zM494.29 42.62h8.83v9.36h-8.83zM494.19 42.43h9.01v9.74h-9.01zM494.15 42.48h9.10v9.65h-9.10zM494.06 42.22h9.29v10.16h-9.29zM493.91 42.04h9.58v10.52h-9.58zM493.85 41.95h9.69v10.69h-9.69zM493.80 42.26h9.80v10.08h-9.80zM493.67 41.94h10.05v10.71h-10.05zM493.59 41.65h10.22v11.31h-10.22zM493.48 41.74h10.44v11.12h-10.44zM493.42 41.77h10.57v11.05h-10.57zM493.35 41.42h10.69v11.76h-10.69zM493.27 41.47h10.86v11.65h-10.86zM493.16 41.45h11.07v11.70h-11.07zM493.11 41.44h11.18v11.71h-11.18zM493.03 41.35h11.35v11.89h-11.35zM492.95 40.96h11.50v12.67h-11.50zM492.84 41.00h11.71v12.59h-11.71zM492.77 41.48h11.86v11.65h-11.86zM492.68 40.93h12.04v12.74h-12.04zM492.56 41.16h12.29v12.27h-12.29zM492.48 40.09h12.44v14.41h-12.44zM492.44 40.63h12.53v13.34h-12.53zM492.34 40.48h12.73v13.65h-12.73zM492.27 41.14h12.87v12.31h-12.87zM492.16 39.45h13.08v15.71h-13.08zM492.09 40.34h13.22v13.93h-13.22zM492.01 40.06h13.39v14.48h-13.39zM491.92 39.86h13.56v14.88h-13.56zM491.86 40.07h13.67v14.47h-13.67zM491.73 39.81h13.93v14.98h-13.93zM491.71 39.61h13.99v15.39h-13.99zM491.58 39.57h14.23v15.45h-14.23zM491.55 39.62h14.30v15.35h-14.30zM491.44 39.64h14.52v15.31h-14.52zM491.34 39.00h14.71v16.59h-14.71zM491.26 39.51h14.89v15.59h-14.89zM491.20 39.14h15.00v16.31h-15.00zM491.13 38.48h15.15v17.63h-15.15zM491.02 39.21h15.36v16.17h-15.36zM490.94 38.80h15.52v16.99h-15.52zM490.88 38.63h15.63v17.35h-15.63zM490.77 38.61h15.86v17.37h-15.86zM490.72 39.01h15.96v16.58h-15.96zM490.61 38.55h16.17v17.51h-16.17zM490.58 38.51h16.25v17.59h-16.25zM490.47 38.34h16.47v17.92h-16.47zM490.38 38.29h16.63v18.01h-16.63zM490.34 38.19h16.73v18.23h-16.73zM490.22 38.34h16.96v17.93h-16.96zM490.16 38.24h17.08v18.12h-17.08zM490.07 37.78h17.27v19.05h-17.27zM490.02 38.38h17.35v17.84h-17.35zM489.96 37.97h17.47v18.66h-17.47zM489.86 37.30h17.67v20.00h-17.67zM489.78 37.90h17.83v18.79h-17.83zM489.68 37.44h18.04v19.72h-18.04zM489.63 37.75h18.14v19.11h-18.14zM489.58 37.34h18.24v19.91h-18.24zM489.50 37.20h18.39v20.19h-18.39zM489.38 37.38h18.64v19.84h-18.64zM489.30 36.90h18.79v20.80h-18.79zM489.24 36.69h18.93v21.22h-18.93zM489.14 36.64h19.12v21.31h-19.12zM489.09 37.04h19.22v20.52h-19.22zM489.01 37.26h19.39v20.08h-19.39zM488.94 37.31h19.53v19.98h-19.53zM488.86 36.90h19.69v20.80h-19.69zM488.78 37.13h19.85v20.35h-19.85zM488.68 35.94h20.03v22.72h-20.03zM488.61 35.61h20.18v23.37h-20.18zM488.54 36.04h20.31v22.53h-20.31zM488.45 36.17h20.49v22.26h-20.49zM488.43 35.65h20.53v23.29h-20.53zM488.31 35.86h20.79v22.89h-20.79zM488.23 35.41h20.93v23.79h-20.93zM488.20 35.99h21.01v22.63h-21.01zM488.12 35.76h21.16v23.08h-21.16zM488.06 35.50h21.28v23.60h-21.28zM487.97 36.14h21.45v22.33h-21.45zM487.88 36.06h21.65v22.48h-21.65zM487.80 35.03h21.79v24.54h-21.79zM487.71 35.48h21.99v23.65h-21.99zM487.64 35.35h22.13v23.89h-22.13zM487.55 35.53h22.29v23.54h-22.29zM487.48 35.11h22.43v24.38h-22.43zM487.43 34.83h22.53v24.94h-22.53zM487.35 34.74h22.70v25.11h-22.70zM487.26 34.77h22.88v25.07h-22.88zM487.20 34.89h23.01v24.82h-23.01zM487.13 34.80h23.13v25.00h-23.13z"/><path stroke-width="0.3" opacity="0.3" d="M476.20 25.00h45.00v44.60h-45.00zM477.70 30.30h42.00v34.00h-42.00zM481.20 24.80h35.00v45.00h-35.00zM483.20 27.30h31.00v40.00h-31.00zM484.70 30.80h28.00v33.00h-28.00zM479.70 33.30h38.00v28.00h-38.00zM485.70 32.80h26.00v29.00h-26.00zM486.20 33.80h25.00v27.00h-25.00zM482.70 34.50h32.00v25.60h-32.00zM481.70 39.30h34.00v16.00h-34.00zM476.70 39.80h44.00v15.00h-44.00z"/></g>
<path d="M489.7 37.6L507.7 57.0M507.7 37.6L489.7 57.0" stroke="#fff" stroke-width="0.6" opacity="0.2"/>
<text transform="translate(464.30,252.00) scale(0.3500)" text-anchor="middle" style="font-family:'Liberation Serif',serif" fill="#111">(<tspan font-weight="bold">b</tspan>)</text>
<text transform="translate(36.10,371.40) rotate(-90) scale(0.1038)" text-anchor="end" stroke="#2b2b2b" stroke-width="0.5" fill="#2b2b2b">crazing</text>
<text transform="translate(50.55,371.40) rotate(-90) scale(0.1038)" text-anchor="end" stroke="#2b2b2b" stroke-width="0.5" fill="#2b2b2b">inclusion</text>
<text transform="translate(65.00,371.40) rotate(-90) scale(0.1038)" text-anchor="end" stroke="#2b2b2b" stroke-width="0.5" fill="#2b2b2b">patches</text>
<text transform="translate(79.45,371.40) rotate(-90) scale(0.1038)" text-anchor="end" stroke="#2b2b2b" stroke-width="0.5" fill="#2b2b2b">pitted_surface</text>
<text transform="translate(93.90,371.40) rotate(-90) scale(0.1038)" text-anchor="end" stroke="#2b2b2b" stroke-width="0.5" fill="#2b2b2b">rolled-in_scale</text>
<text transform="translate(108.35,371.40) rotate(-90) scale(0.1038)" text-anchor="end" stroke="#2b2b2b" stroke-width="0.5" fill="#2b2b2b">scratches</text>
<path d="M29.40 368.10V310.15h11.30V368.10zM43.85 368.10V284.98h11.30V368.10zM58.30 368.10V293.81h11.30V368.10zM72.75 368.10V331.24h11.30V368.10zM87.20 368.10V316.42h11.30V368.10zM101.65 368.10V323.93h11.30V368.10z" fill="#1f77b4"/>
<text transform="translate(22.30,369.65) scale(0.1038)" text-anchor="end" stroke="#2b2b2b" stroke-width="0.5" fill="#2b2b2b">0</text>
<text transform="translate(22.30,350.65) scale(0.1038)" text-anchor="end" stroke="#2b2b2b" stroke-width="0.5" fill="#2b2b2b">200</text>
<text transform="translate(22.30,331.65) scale(0.1038)" text-anchor="end" stroke="#2b2b2b" stroke-width="0.5" fill="#2b2b2b">400</text>
<text transform="translate(22.30,312.65) scale(0.1038)" text-anchor="end" stroke="#2b2b2b" stroke-width="0.5" fill="#2b2b2b">600</text>
<text transform="translate(22.30,293.65) scale(0.1038)" text-anchor="end" stroke="#2b2b2b" stroke-width="0.5" fill="#2b2b2b">800</text>
<path d="M23.90 368.10h1.5M23.90 349.10h1.5M23.90 330.10h1.5M23.90 311.10h1.5M23.90 292.10h1.5M35.05 368.10v1.5M49.50 368.10v1.5M63.95 368.10v1.5M78.40 368.10v1.5M92.85 368.10v1.5M107.30 368.10v1.5" stroke="#222" stroke-width="0.55" fill="none"/>
<text transform="translate(10.50,324.70) rotate(-90) scale(0.1038)" text-anchor="middle" stroke="#2b2b2b" stroke-width="0.5" fill="#2b2b2b">instances</text>
<g filter="url(#b)"><g transform="translate(30.64,488.44) scale(1.6396,-1.5670)" stroke-width="1.04" fill="none"><path stroke="#acc9ee" d="M0 0h1M6 0h3M10 0h3M14 0h1M16 0h1M18 0h1M20 0h1M22 0h7M30 0h3M34 0h1M36 0h2M44 0h4M49 0h1M0 1h1M2 1h2M5 1h1M9 1h1M12 1h1M18 1h2M22 1h5M28 1h1M31 1h1M33 1h2M38 1h1M42 1h1M44 1h3M4 2h2M7 2h1M9 2h2M13 2h4M18 2h1M21 2h1M25 2h3M30 2h2M33 2h1M40 2h3M44 2h1M46 2h1M49 2h1M1 3h2M6 3h1M8 3h3M12 3h1M15 3h3M19 3h1M21 3h2M24 3h1M26 3h2M30 3h1M32 3h1M34 3h1M36 3h1M38 3h1M40 3h2M44 3h2M47 3h1M3 4h2M6 4h1M8 4h1M10 4h2M13 4h1M15 4h2M20 4h7M29 4h2M33 4h1M37 4h1M39 4h1M41 4h1M44 4h1M47 4h2M1 5h2M4 5h1M9 5h2M12 5h1M14 5h1M18 5h2M21 5h1M23 5h3M27 5h3M31 5h1M33 5h6M42 5h2M46 5h1M48 5h1M0 6h2M3 6h1M6 6h1M9 6h2M12 6h2M16 6h1M20 6h6M30 6h1M34 6h1M36 6h1M38 6h1M41 6h4M47 6h2M0 7h2M3 7h4M10 7h1M12 7h1M15 7h1M17 7h4M22 7h1M24 7h2M27 7h1M29 7h1M31 7h1M38 7h1M40 7h3M44 7h4M2 8h1M4 8h1M9 8h2M13 8h5M20 8h7M28 8h1M32 8h5M38 8h2M41 8h1M43 8h2M46 8h1M0 9h3M7 9h1M9 9h1M11 9h5M17 9h2M20 9h8M29 9h1M32 9h1M34 9h2M37 9h1M40 9h1M42 9h1M44 9h3M49 9h1M0 10h6M7 10h5M15 10h1M17 10h1M20 10h10M31 10h1M34 10h2M40 10h1M42 10h1M44 10h2M49 10h1M0 11h1M2 11h1M5 11h2M8 11h1M10 11h1M13 11h3M18 11h2M21 11h1M23 11h2M26 11h3M30 11h1M33 11h1M37 11h4M43 11h3M48 11h1M0 12h1M3 12h2M7 12h2M10 12h1M13 12h2M17 12h4M22 12h7M31 12h1M33 12h2M36 12h1M38 12h2M41 12h1M45 12h3M49 12h1M0 13h3M7 13h4M12 13h1M14 13h1M16 13h1M18 13h1M21 13h6M28 13h1M30 13h2M33 13h3M37 13h3M42 13h2M45 13h1M47 13h3M3 14h1M5 14h3M10 14h2M14 14h1M16 14h2M20 14h9M30 14h2M33 14h3M37 14h1M39 14h5M47 14h3M0 15h1M3 15h2M6 15h1M10 15h1M12 15h3M16 15h14M32 15h2M35 15h2M38 15h2M43 15h1M46 15h1M48 15h1M0 16h10M11 16h2M15 16h5M21 16h12M34 16h1M36 16h6M44 16h1M49 16h1M0 17h1M2 17h1M4 17h3M8 17h4M13 17h18M32 17h2M38 17h2M41 17h3M46 17h1M48 17h1M0 18h5M6 18h1M8 18h1M10 18h2M13 18h14M28 18h1M31 18h4M36 18h2M39 18h5M46 18h4M0 19h1M2 19h1M4 19h2M7 19h1M9 19h1M11 19h1M13 19h8M22 19h4M27 19h1M29 19h3M34 19h2M37 19h6M47 19h1M49 19h1M1 20h1M3 20h2M6 20h1M8 20h5M14 20h2M17 20h2M20 20h6M28 20h5M34 20h2M37 20h4M42 20h1M45 20h4M0 21h1M3 21h3M7 21h2M11 21h1M13 21h2M16 21h1M18 21h3M22 21h7M30 21h3M35 21h5M44 21h1M49 21h1M0 22h1M2 22h1M4 22h2M7 22h6M14 22h12M27 22h12M40 22h4M47 22h1M49 22h1M0 23h1M2 23h3M6 23h4M11 23h1M16 23h4M21 23h7M29 23h11M43 23h4M0 24h2M3 24h1M5 24h1M7 24h38M48 24h2M1 25h44M46 25h3M0 26h1M2 26h2M6 26h2M9 26h2M12 26h5M20 26h4M25 26h1M27 26h4M32 26h2M35 26h4M40 26h2M44 26h2M47 26h3M1 27h1M3 27h4M8 27h6M16 27h3M20 27h1M22 27h5M28 27h9M38 27h1M43 27h2M48 27h1M0 28h1M2 28h1M4 28h1M6 28h2M10 28h2M13 28h2M16 28h1M18 28h1M20 28h2M23 28h3M27 28h8M38 28h7M46 28h1M48 28h2M1 29h1M3 29h2M6 29h3M12 29h7M20 29h6M28 29h6M35 29h1M38 29h1M41 29h1M43 29h1M46 29h1M48 29h1M2 30h9M12 30h1M14 30h3M18 30h4M25 30h3M29 30h6M36 30h11M49 30h1M0 31h6M9 31h2M12 31h2M15 31h14M30 31h1M34 31h4M40 31h3M45 31h1M49 31h1M1 32h1M3 32h2M7 32h2M10 32h2M13 32h5M19 32h7M28 32h1M30 32h3M35 32h3M39 32h1M41 32h1M43 32h2M46 32h3M2 33h1M5 33h1M7 33h1M10 33h3M15 33h7M23 33h6M30 33h3M35 33h1M37 33h6M44 33h1M47 33h2M1 34h2M4 34h3M9 34h10M21 34h10M34 34h1M38 34h2M41 34h3M48 34h1M0 35h1M2 35h1M5 35h1M7 35h2M10 35h1M12 35h1M17 35h2M20 35h6M27 35h3M32 35h1M34 35h1M36 35h1M38 35h3M42 35h2M45 35h1M48 35h1M0 36h1M2 36h4M7 36h1M9 36h1M11 36h1M14 36h3M18 36h2M22 36h5M29 36h1M31 36h2M34 36h3M38 36h1M41 36h1M44 36h3M48 36h2M3 37h1M5 37h2M9 37h4M14 37h1M17 37h11M32 37h1M34 37h3M40 37h4M45 37h2M1 38h2M6 38h3M11 38h1M13 38h2M16 38h4M21 38h1M23 38h2M27 38h1M29 38h5M36 38h1M38 38h2M47 38h1M49 38h1M0 39h1M2 39h1M5 39h1M8 39h4M13 39h3M17 39h1M19 39h1M21 39h4M26 39h4M31 39h1M33 39h6M40 39h1M42 39h1M44 39h1M48 39h2M0 40h3M6 40h1M9 40h1M11 40h3M15 40h1M18 40h6M25 40h10M36 40h1M41 40h1M43 40h1M46 40h1M1 41h1M6 41h2M11 41h1M13 41h1M15 41h1M18 41h1M23 41h1M25 41h3M33 41h1M35 41h1M39 41h4M47 41h1M49 41h1M0 42h8M9 42h2M12 42h2M16 42h1M21 42h5M28 42h2M31 42h2M34 42h2M37 42h4M46 42h1M49 42h1M1 43h2M4 43h2M7 43h2M10 43h1M15 43h11M28 43h2M31 43h1M33 43h1M35 43h1M38 43h1M41 43h1M43 43h1M47 43h1M1 44h1M3 44h3M7 44h3M11 44h1M21 44h3M25 44h1M27 44h1M29 44h2M34 44h2M40 44h2M47 44h1M0 45h1M4 45h5M14 45h2M17 45h1M19 45h1M21 45h1M23 45h6M30 45h1M32 45h1M36 45h1M39 45h1M42 45h2M45 45h1M47 45h2M0 46h1M5 46h1M9 46h1M11 46h1M16 46h3M23 46h3M27 46h2M30 46h2M33 46h3M38 46h2M44 46h2M47 46h1M0 47h1M4 47h6M11 47h1M14 47h1M16 47h3M20 47h2M24 47h3M29 47h4M34 47h3M38 47h1M41 47h3M1 48h2M4 48h1M9 48h1M12 48h1M14 48h3M19 48h6M26 48h2M29 48h1M32 48h1M35 48h2M38 48h3M43 48h1M2 49h12M15 49h4M20 49h3M24 49h1M26 49h1M28 49h1M32 49h10M43 49h3M47 49h1M49 49h1"/><path stroke="#9fc3ef" d="M0 0h1M6 0h3M10 0h3M14 0h1M16 0h1M18 0h1M20 0h1M22 0h7M30 0h3M34 0h1M36 0h2M44 0h4M49 0h1M0 1h1M2 1h2M5 1h1M9 1h1M12 1h1M18 1h2M22 1h5M28 1h1M31 1h1M33 1h2M38 1h1M42 1h1M44 1h3M4 2h2M7 2h1M9 2h2M13 2h4M18 2h1M21 2h1M25 2h3M30 2h2M33 2h1M40 2h3M44 2h1M46 2h1M49 2h1M1 3h2M6 3h1M8 3h3M12 3h1M15 3h3M19 3h1M21 3h2M24 3h1M26 3h2M30 3h1M32 3h1M34 3h1M36 3h1M38 3h1M40 3h2M44 3h2M47 3h1M3 4h2M6 4h1M8 4h1M10 4h2M13 4h1M15 4h2M20 4h7M29 4h2M33 4h1M37 4h1M39 4h1M41 4h1M44 4h1M47 4h2M1 5h2M4 5h1M9 5h2M12 5h1M14 5h1M18 5h2M21 5h1M23 5h3M27 5h3M31 5h1M33 5h6M42 5h2M46 5h1M48 5h1M0 6h2M3 6h1M6 6h1M9 6h2M12 6h2M16 6h1M20 6h6M30 6h1M34 6h1M36 6h1M38 6h1M41 6h4M47 6h2M0 7h2M3 7h4M10 7h1M12 7h1M15 7h1M17 7h4M22 7h1M24 7h2M27 7h1M29 7h1M31 7h1M38 7h1M40 7h3M44 7h4M2 8h1M4 8h1M9 8h2M13 8h5M20 8h7M28 8h1M32 8h5M38 8h2M41 8h1M43 8h2M46 8h1M0 9h3M7 9h1M9 9h1M11 9h5M17 9h2M20 9h8M29 9h1M32 9h1M34 9h2M37 9h1M40 9h1M42 9h1M44 9h3M49 9h1M0 10h6M7 10h5M15 10h1M17 10h1M20 10h10M31 10h1M34 10h2M40 10h1M42 10h1M44 10h2M49 10h1M0 11h1M2 11h1M5 11h2M8 11h1M10 11h1M13 11h3M18 11h2M21 11h1M23 11h2M26 11h3M30 11h1M33 11h1M37 11h4M43 11h3M48 11h1M0 12h1M3 12h2M7 12h2M10 12h1M13 12h2M17 12h4M22 12h7M31 12h1M33 12h2M36 12h1M38 12h2M41 12h1M45 12h3M49 12h1M0 13h3M7 13h4M12 13h1M14 13h1M16 13h1M18 13h1M21 13h6M28 13h1M30 13h2M33 13h3M37 13h3M42 13h2M45 13h1M47 13h3M3 14h1M5 14h3M10 14h2M14 14h1M16 14h2M20 14h9M30 14h2M33 14h3M37 14h1M39 14h5M47 14h3M0 15h1M3 15h2M6 15h1M10 15h1M12 15h3M16 15h14M32 15h2M35 15h2M38 15h2M43 15h1M46 15h1M48 15h1M0 16h10M11 16h2M15 16h5M21 16h12M34 16h1M36 16h6M44 16h1M49 16h1M0 17h1M2 17h1M4 17h3M8 17h4M13 17h18M32 17h2M38 17h2M41 17h3M46 17h1M48 17h1M0 18h5M6 18h1M8 18h1M10 18h2M13 18h14M28 18h1M31 18h4M36 18h2M39 18h5M46 18h4M0 19h1M2 19h1M4 19h2M7 19h1M9 19h1M11 19h1M13 19h8M22 19h4M27 19h1M29 19h3M34 19h2M37 19h6M47 19h1M49 19h1M1 20h1M3 20h2M6 20h1M8 20h5M14 20h2M17 20h2M20 20h6M28 20h5M34 20h2M37 20h4M42 20h1M45 20h4M0 21h1M3 21h3M7 21h2M11 21h1M13 21h2M16 21h1M18 21h3M22 21h7M30 21h3M35 21h5M44 21h1M49 21h1M0 22h1M2 22h1M4 22h2M7 22h6M14 22h12M27 22h12M40 22h4M47 22h1M49 22h1M0 23h1M2 23h3M6 23h4M11 23h1M16 23h4M21 23h7M29 23h11M43 23h4M0 24h2M3 24h1M5 24h1M7 24h38M48 24h2M1 25h44M46 25h3M0 26h1M2 26h2M6 26h2M9 26h2M12 26h5M20 26h4M25 26h1M27 26h4M32 26h2M35 26h4M40 26h2M44 26h2M47 26h3M1 27h1M3 27h4M8 27h6M16 27h3M20 27h1M22 27h5M28 27h9M38 27h1M43 27h2M48 27h1M0 28h1M2 28h1M4 28h1M6 28h2M10 28h2M13 28h2M16 28h1M18 28h1M20 28h2M23 28h3M27 28h8M38 28h7M46 28h1M48 28h2M1 29h1M3 29h2M6 29h3M12 29h7M20 29h6M28 29h6M35 29h1M38 29h1M41 29h1M43 29h1M46 29h1M48 29h1M2 30h9M12 30h1M14 30h3M18 30h4M25 30h3M29 30h6M36 30h11M49 30h1M0 31h6M9 31h2M12 31h2M15 31h14M30 31h1M34 31h4M40 31h3M45 31h1M49 31h1M1 32h1M3 32h2M7 32h2M10 32h2M13 32h5M19 32h7M28 32h1M30 32h3M35 32h3M39 32h1M41 32h1M43 32h2M46 32h3M2 33h1M5 33h1M7 33h1M10 33h3M15 33h7M23 33h6M30 33h3M35 33h1M37 33h6M44 33h1M47 33h2M1 34h2M4 34h3M9 34h10M21 34h10M34 34h1M38 34h2M41 34h3M48 34h1M0 35h1M2 35h1M5 35h1M7 35h2M10 35h1M12 35h1M17 35h2M20 35h6M27 35h3M32 35h1M34 35h1M36 35h1M38 35h3M42 35h2M45 35h1M48 35h1M0 36h1M2 36h4M7 36h1M9 36h1M11 36h1M14 36h3M18 36h2M22 36h5M29 36h1M31 36h2M34 36h3M38 36h1M41 36h1M44 36h3M48 36h2M3 37h1M5 37h2M9 37h4M14 37h1M17 37h11M32 37h1M34 37h3M40 37h4M45 37h2M1 38h2M6 38h3M11 38h1M13 38h2M16 38h4M21 38h1M23 38h2M27 38h1M29 38h5M36 38h1M38 38h2M47 38h1M49 38h1M0 39h1M2 39h1M5 39h1M8 39h4M13 39h3M17 39h1M19 39h1M21 39h4M26 39h4M31 39h1M33 39h6M40 39h1M42 39h1M44 39h1M48 39h2M0 40h3M6 40h1M9 40h1M11 40h3M15 40h1M18 40h6M25 40h10M36 40h1M41 40h1M43 40h1M46 40h1M1 41h1M6 41h2M11 41h1M13 41h1M15 41h1M18 41h1M23 41h1M25 41h3M33 41h1M35 41h1M39 41h4M47 41h1M49 41h1M0 42h8M9 42h2M12 42h2M16 42h1M21 42h5M28 42h2M31 42h2M34 42h2M37 42h4M46 42h1M49 42h1M1 43h2M4 43h2M7 43h2M10 43h1M15 43h11M28 43h2M31 43h1M33 43h1M35 43h1M38 43h1M41 43h1M43 43h1M47 43h1M1 44h1M3 44h3M7 44h3M11 44h1M21 44h3M25 44h1M27 44h1M29 44h2M34 44h2M40 44h2M47 44h1M0 45h1M4 45h5M14 45h2M17 45h1M19 45h1M21 45h1M23 45h6M30 45h1M32 45h1M36 45h1M39 45h1M42 45h2M45 45h1M47 45h2M0 46h1M5 46h1M9 46h1M11 46h1M16 46h3M23 46h3M27 46h2M30 46h2M33 46h3M38 46h2M44 46h2M47 46h1M0 47h1M4 47h6M11 47h1M14 47h1M16 47h3M20 47h2M24 47h3M29 47h4M34 47h3M38 47h1M41 47h3M1 48h2M4 48h1M9 48h1M12 48h1M14 48h3M19 48h6M26 48h2M29 48h1M32 48h1M35 48h2M38 48h3M43 48h1M2 49h12M15 49h4M20 49h3M24 49h1M26 49h1M28 49h1M32 49h10M43 49h3M47 49h1M49 49h1"/><path stroke="#8fbdf1" d="M0 0h1M6 0h3M10 0h3M14 0h1M16 0h1M18 0h1M20 0h1M22 0h7M30 0h3M34 0h1M36 0h2M44 0h4M49 0h1M0 1h1M2 1h2M5 1h1M9 1h1M12 1h1M18 1h2M22 1h5M28 1h1M31 1h1M33 1h2M38 1h1M42 1h1M44 1h3M4 2h2M7 2h1M9 2h2M13 2h4M18 2h1M21 2h1M25 2h3M30 2h2M33 2h1M40 2h3M44 2h1M46 2h1M49 2h1M1 3h2M6 3h1M8 3h3M12 3h1M15 3h3M19 3h1M21 3h2M24 3h1M26 3h2M30 3h1M32 3h1M34 3h1M36 3h1M38 3h1M40 3h2M44 3h2M47 3h1M3 4h2M6 4h1M8 4h1M10 4h2M13 4h1M15 4h2M20 4h7M29 4h2M33 4h1M37 4h1M39 4h1M41 4h1M44 4h1M47 4h2M1 5h2M4 5h1M9 5h2M12 5h1M14 5h1M18 5h2M21 5h1M23 5h3M27 5h3M31 5h1M33 5h6M42 5h2M46 5h1M48 5h1M0 6h2M3 6h1M6 6h1M9 6h2M12 6h2M16 6h1M20 6h6M30 6h1M34 6h1M36 6h1M38 6h1M41 6h4M47 6h2M0 7h2M3 7h4M10 7h1M12 7h1M15 7h1M17 7h4M22 7h1M24 7h2M27 7h1M29 7h1M31 7h1M38 7h1M40 7h3M44 7h4M2 8h1M4 8h1M9 8h2M13 8h5M20 8h7M28 8h1M32 8h5M38 8h2M41 8h1M43 8h2M46 8h1M0 9h3M7 9h1M9 9h1M11 9h5M17 9h2M20 9h8M29 9h1M32 9h1M34 9h2M37 9h1M40 9h1M42 9h1M44 9h3M49 9h1M0 10h6M7 10h5M15 10h1M17 10h1M20 10h10M31 10h1M34 10h2M40 10h1M42 10h1M44 10h2M49 10h1M0 11h1M2 11h1M5 11h2M8 11h1M10 11h1M13 11h3M18 11h2M21 11h1M23 11h2M26 11h3M30 11h1M33 11h1M37 11h4M43 11h3M48 11h1M0 12h1M3 12h2M7 12h2M10 12h1M13 12h2M17 12h4M22 12h7M31 12h1M33 12h2M36 12h1M38 12h2M41 12h1M45 12h3M49 12h1M0 13h3M7 13h4M12 13h1M14 13h1M16 13h1M18 13h1M21 13h6M28 13h1M30 13h2M33 13h3M37 13h3M42 13h2M45 13h1M47 13h3M3 14h1M5 14h3M10 14h2M14 14h1M16 14h2M20 14h9M30 14h2M33 14h3M37 14h1M39 14h5M47 14h3M0 15h1M3 15h2M6 15h1M10 15h1M12 15h3M16 15h14M32 15h2M35 15h2M38 15h2M43 15h1M46 15h1M48 15h1M0 16h10M11 16h2M15 16h5M21 16h12M34 16h1M36 16h6M44 16h1M49 16h1M0 17h1M2 17h1M4 17h3M8 17h4M13 17h18M32 17h2M38 17h2M41 17h3M46 17h1M48 17h1M0 18h5M6 18h1M8 18h1M10 18h2M13 18h14M28 18h1M31 18h4M36 18h2M39 18h5M46 18h4M0 19h1M2 19h1M4 19h2M7 19h1M9 19h1M11 19h1M13 19h8M22 19h4M27 19h1M29 19h3M34 19h2M37 19h6M47 19h1M49 19h1M1 20h1M3 20h2M6 20h1M8 20h5M14 20h2M17 20h2M20 20h6M28 20h5M34 20h2M37 20h4M42 20h1M45 20h4M0 21h1M3 21h3M7 21h2M11 21h1M13 21h2M16 21h1M18 21h3M22 21h7M30 21h3M35 21h5M44 21h1M49 21h1M0 22h1M2 22h1M4 22h2M7 22h6M14 22h12M27 22h12M40 22h4M47 22h1M49 22h1M0 23h1M2 23h3M6 23h4M11 23h1M16 23h4M21 23h7M29 23h11M43 23h4M0 24h2M3 24h1M5 24h1M7 24h38M48 24h2M1 25h44M46 25h3M0 26h1M2 26h2M6 26h2M9 26h2M12 26h5M20 26h4M25 26h1M27 26h4M32 26h2M35 26h4M40 26h2M44 26h2M47 26h3M1 27h1M3 27h4M8 27h6M16 27h3M20 27h1M22 27h5M28 27h9M38 27h1M43 27h2M48 27h1M0 28h1M2 28h1M4 28h1M6 28h2M10 28h2M13 28h2M16 28h1M18 28h1M20 28h2M23 28h3M27 28h8M38 28h7M46 28h1M48 28h2M1 29h1M3 29h2M6 29h3M12 29h7M20 29h6M28 29h6M35 29h1M38 29h1M41 29h1M43 29h1M46 29h1M48 29h1M2 30h9M12 30h1M14 30h3M18 30h4M25 30h3M29 30h6M36 30h11M49 30h1M0 31h6M9 31h2M12 31h2M15 31h14M30 31h1M34 31h4M40 31h3M45 31h1M49 31h1M1 32h1M3 32h2M7 32h2M10 32h2M13 32h5M19 32h7M28 32h1M30 32h3M35 32h3M39 32h1M41 32h1M43 32h2M46 32h3M2 33h1M5 33h1M7 33h1M10 33h3M15 33h7M23 33h6M30 33h3M35 33h1M37 33h6M44 33h1M47 33h2M1 34h2M4 34h3M9 34h10M21 34h10M34 34h1M38 34h2M41 34h3M48 34h1M0 35h1M2 35h1M5 35h1M7 35h2M10 35h1M12 35h1M17 35h2M20 35h6M27 35h3M32 35h1M34 35h1M36 35h1M38 35h3M42 35h2M45 35h1M48 35h1M0 36h1M2 36h4M7 36h1M9 36h1M11 36h1M14 36h3M18 36h2M22 36h5M29 36h1M31 36h2M34 36h3M38 36h1M41 36h1M44 36h3M48 36h2M3 37h1M5 37h2M9 37h4M14 37h1M17 37h11M32 37h1M34 37h3M40 37h4M45 37h2M1 38h2M6 38h3M11 38h1M13 38h2M16 38h4M21 38h1M23 38h2M27 38h1M29 38h5M36 38h1M38 38h2M47 38h1M49 38h1M0 39h1M2 39h1M5 39h1M8 39h4M13 39h3M17 39h1M19 39h1M21 39h4M26 39h4M31 39h1M33 39h6M40 39h1M42 39h1M44 39h1M48 39h2M0 40h3M6 40h1M9 40h1M11 40h3M15 40h1M18 40h6M25 40h10M36 40h1M41 40h1M43 40h1M46 40h1M1 41h1M6 41h2M11 41h1M13 41h1M15 41h1M18 41h1M23 41h1M25 41h3M33 41h1M35 41h1M39 41h4M47 41h1M49 41h1M0 42h8M9 42h2M12 42h2M16 42h1M21 42h5M28 42h2M31 42h2M34 42h2M37 42h4M46 42h1M49 42h1M1 43h2M4 43h2M7 43h2M10 43h1M15 43h11M28 43h2M31 43h1M33 43h1M35 43h1M38 43h1M41 43h1M43 43h1M47 43h1M1 44h1M3 44h3M7 44h3M11 44h1M21 44h3M25 44h1M27 44h1M29 44h2M34 44h2M40 44h2M47 44h1M0 45h1M4 45h5M14 45h2M17 45h1M19 45h1M21 45h1M23 45h6M30 45h1M32 45h1M36 45h1M39 45h1M42 45h2M45 45h1M47 45h2M0 46h1M5 46h1M9 46h1M11 46h1M16 46h3M23 46h3M27 46h2M30 46h2M33 46h3M38 46h2M44 46h2M47 46h1M0 47h1M4 47h6M11 47h1M14 47h1M16 47h3M20 47h2M24 47h3M29 47h4M34 47h3M38 47h1M41 47h3M1 48h2M4 48h1M9 48h1M12 48h1M14 48h3M19 48h6M26 48h2M29 48h1M32 48h1M35 48h2M38 48h3M43 48h1M2 49h12M15 49h4M20 49h3M24 49h1M26 49h1M28 49h1M32 49h10M43 49h3M47 49h1M49 49h1"/><path stroke="#7fb8f3" d="M0 0h1M22 0h1M25 0h1M31 0h2M37 0h1M45 0h2M3 1h1M19 1h1M24 1h1M33 1h1M42 1h1M4 2h1M10 2h1M15 2h2M18 2h1M25 2h1M31 2h1M40 2h1M42 2h1M49 2h1M2 3h1M8 3h2M12 3h1M17 3h1M26 3h1M40 3h2M45 3h1M47 3h1M13 4h1M22 4h5M41 4h1M44 4h1M1 5h1M9 5h1M18 5h1M21 5h1M24 5h2M28 5h1M38 5h1M6 6h1M10 6h1M12 6h1M16 6h1M20 6h3M24 6h2M36 6h1M42 6h1M48 6h1M0 7h1M3 7h1M10 7h1M17 7h1M24 7h2M27 7h1M40 7h1M42 7h1M10 8h1M15 8h1M21 8h1M25 8h1M36 8h1M38 8h1M2 9h1M7 9h1M11 9h1M20 9h3M24 9h1M26 9h1M34 9h1M42 9h1M44 9h1M1 10h1M3 10h1M9 10h3M22 10h5M28 10h1M35 10h1M44 10h2M49 10h1M0 11h1M6 11h1M8 11h1M10 11h1M19 11h1M23 11h2M26 11h2M30 11h1M33 11h1M39 11h1M44 11h1M0 12h1M13 12h2M17 12h1M22 12h4M31 12h1M33 12h2M49 12h1M0 13h1M8 13h3M12 13h1M21 13h1M23 13h1M26 13h1M28 13h1M30 13h2M33 13h3M38 13h2M42 13h1M7 14h1M10 14h2M17 14h1M21 14h1M25 14h2M30 14h2M33 14h2M43 14h1M49 14h1M10 15h1M12 15h1M17 15h1M21 15h2M24 15h3M28 15h1M32 15h1M35 15h2M46 15h1M48 15h1M0 16h1M4 16h1M8 16h1M18 16h1M21 16h1M24 16h2M27 16h1M30 16h1M32 16h1M37 16h2M40 16h2M0 17h1M16 17h3M22 17h8M33 17h1M38 17h2M42 17h2M8 18h1M10 18h1M13 18h1M15 18h1M17 18h1M20 18h2M23 18h4M28 18h1M32 18h1M36 18h1M42 18h2M47 18h1M0 19h1M14 19h3M19 19h1M23 19h3M29 19h3M38 19h1M40 19h1M47 19h1M49 19h1M4 20h1M6 20h1M8 20h1M10 20h3M15 20h1M17 20h2M20 20h6M29 20h3M40 20h1M7 21h2M11 21h1M14 21h1M23 21h3M28 21h1M32 21h1M35 21h1M44 21h1M49 21h1M4 22h2M7 22h2M12 22h1M14 22h1M23 22h2M27 22h2M32 22h1M35 22h2M41 22h1M2 23h1M6 23h2M9 23h1M17 23h2M21 23h2M24 23h2M29 23h4M34 23h1M36 23h1M38 23h1M45 23h2M5 24h1M7 24h20M28 24h10M39 24h1M42 24h2M2 25h43M47 25h1M2 26h1M7 26h1M10 26h1M14 26h3M20 26h2M27 26h2M32 26h1M36 26h1M38 26h1M40 26h1M3 27h1M6 27h1M9 27h2M17 27h2M22 27h5M28 27h1M30 27h3M34 27h1M36 27h1M43 27h2M0 28h1M4 28h1M6 28h2M10 28h1M13 28h2M18 28h1M20 28h1M23 28h3M28 28h1M32 28h1M41 28h1M43 28h1M4 29h1M6 29h3M12 29h5M24 29h2M29 29h1M31 29h1M33 29h1M35 29h1M38 29h1M48 29h1M5 30h1M8 30h3M15 30h1M18 30h1M20 30h2M25 30h3M31 30h1M36 30h1M44 30h3M0 31h1M3 31h1M5 31h1M10 31h1M13 31h1M15 31h1M17 31h4M24 31h3M28 31h1M30 31h1M34 31h3M40 31h1M42 31h1M45 31h1M1 32h1M7 32h1M21 32h5M28 32h1M30 32h2M36 32h1M43 32h1M15 33h6M23 33h4M28 33h1M30 33h2M38 33h1M40 33h2M44 33h1M47 33h1M12 34h1M14 34h1M21 34h1M23 34h2M26 34h5M34 34h1M39 34h1M48 34h1M8 35h1M12 35h1M21 35h5M27 35h1M34 35h1M36 35h1M48 35h1M2 36h1M5 36h1M9 36h1M14 36h1M16 36h1M22 36h1M24 36h2M32 36h1M34 36h1M12 37h1M19 37h3M23 37h3M27 37h1M34 37h1M36 37h1M41 37h3M45 37h1M6 38h2M11 38h1M14 38h1M16 38h2M21 38h1M23 38h2M29 38h1M31 38h1M36 38h1M38 38h1M47 38h1M0 39h1M5 39h1M14 39h1M17 39h1M19 39h1M22 39h1M24 39h1M26 39h2M29 39h1M31 39h1M36 39h2M40 39h1M42 39h1M48 39h1M9 40h1M15 40h1M19 40h1M21 40h1M23 40h1M25 40h2M30 40h1M33 40h1M6 41h1M23 41h1M26 41h2M40 41h1M42 41h1M47 41h1M4 42h2M23 42h1M25 42h1M28 42h1M31 42h1M34 42h2M37 42h1M40 42h1M49 42h1M1 43h1M17 43h5M25 43h1M35 43h1M47 43h1M3 44h1M7 44h1M11 44h1M22 44h2M27 44h1M29 44h1M41 44h1M0 45h1M5 45h1M7 45h1M17 45h1M21 45h1M23 45h2M26 45h2M36 45h1M45 45h1M48 45h1M17 46h1M31 46h1M33 46h1M38 46h1M45 46h1M47 46h1M0 47h1M4 47h1M6 47h2M9 47h1M11 47h1M14 47h1M16 47h1M18 47h1M20 47h2M31 47h2M38 47h1M43 47h1M1 48h2M12 48h1M15 48h1M27 48h1M29 48h1M36 48h1M43 48h1M5 49h1M9 49h1M18 49h1M20 49h2M24 49h1M26 49h1M28 49h1M35 49h1M37 49h1M39 49h1M43 49h1M47 49h1M49 49h1"/><path stroke="#6cb2f5" d="M0 0h1M22 0h1M25 0h1M31 0h2M37 0h1M45 0h2M3 1h1M19 1h1M24 1h1M33 1h1M42 1h1M4 2h1M10 2h1M15 2h2M18 2h1M25 2h1M31 2h1M40 2h1M42 2h1M49 2h1M2 3h1M8 3h2M12 3h1M17 3h1M26 3h1M40 3h2M45 3h1M47 3h1M13 4h1M22 4h5M41 4h1M44 4h1M1 5h1M9 5h1M18 5h1M21 5h1M24 5h2M28 5h1M38 5h1M6 6h1M10 6h1M12 6h1M16 6h1M20 6h3M24 6h2M36 6h1M42 6h1M48 6h1M0 7h1M3 7h1M10 7h1M17 7h1M24 7h2M27 7h1M40 7h1M42 7h1M10 8h1M15 8h1M21 8h1M25 8h1M36 8h1M38 8h1M2 9h1M7 9h1M11 9h1M20 9h3M24 9h1M26 9h1M34 9h1M42 9h1M44 9h1M1 10h1M3 10h1M9 10h3M22 10h5M28 10h1M35 10h1M44 10h2M49 10h1M0 11h1M6 11h1M8 11h1M10 11h1M19 11h1M23 11h2M26 11h2M30 11h1M33 11h1M39 11h1M44 11h1M0 12h1M13 12h2M17 12h1M22 12h4M31 12h1M33 12h2M49 12h1M0 13h1M8 13h3M12 13h1M21 13h1M23 13h1M26 13h1M28 13h1M30 13h2M33 13h3M38 13h2M42 13h1M7 14h1M10 14h2M17 14h1M21 14h1M25 14h2M30 14h2M33 14h2M43 14h1M49 14h1M10 15h1M12 15h1M17 15h1M21 15h2M24 15h3M28 15h1M32 15h1M35 15h2M46 15h1M48 15h1M0 16h1M4 16h1M8 16h1M18 16h1M21 16h1M24 16h2M27 16h1M30 16h1M32 16h1M37 16h2M40 16h2M0 17h1M16 17h3M22 17h8M33 17h1M38 17h2M42 17h2M8 18h1M10 18h1M13 18h1M15 18h1M17 18h1M20 18h2M23 18h4M28 18h1M32 18h1M36 18h1M42 18h2M47 18h1M0 19h1M14 19h3M19 19h1M23 19h3M29 19h3M38 19h1M40 19h1M47 19h1M49 19h1M4 20h1M6 20h1M8 20h1M10 20h3M15 20h1M17 20h2M20 20h6M29 20h3M40 20h1M7 21h2M11 21h1M14 21h1M23 21h3M28 21h1M32 21h1M35 21h1M44 21h1M49 21h1M4 22h2M7 22h2M12 22h1M14 22h1M23 22h2M27 22h2M32 22h1M35 22h2M41 22h1M2 23h1M6 23h2M9 23h1M17 23h2M21 23h2M24 23h2M29 23h4M34 23h1M36 23h1M38 23h1M45 23h2M5 24h1M7 24h20M28 24h10M39 24h1M42 24h2M2 25h43M47 25h1M2 26h1M7 26h1M10 26h1M14 26h3M20 26h2M27 26h2M32 26h1M36 26h1M38 26h1M40 26h1M3 27h1M6 27h1M9 27h2M17 27h2M22 27h5M28 27h1M30 27h3M34 27h1M36 27h1M43 27h2M0 28h1M4 28h1M6 28h2M10 28h1M13 28h2M18 28h1M20 28h1M23 28h3M28 28h1M32 28h1M41 28h1M43 28h1M4 29h1M6 29h3M12 29h5M24 29h2M29 29h1M31 29h1M33 29h1M35 29h1M38 29h1M48 29h1M5 30h1M8 30h3M15 30h1M18 30h1M20 30h2M25 30h3M31 30h1M36 30h1M44 30h3M0 31h1M3 31h1M5 31h1M10 31h1M13 31h1M15 31h1M17 31h4M24 31h3M28 31h1M30 31h1M34 31h3M40 31h1M42 31h1M45 31h1M1 32h1M7 32h1M21 32h5M28 32h1M30 32h2M36 32h1M43 32h1M15 33h6M23 33h4M28 33h1M30 33h2M38 33h1M40 33h2M44 33h1M47 33h1M12 34h1M14 34h1M21 34h1M23 34h2M26 34h5M34 34h1M39 34h1M48 34h1M8 35h1M12 35h1M21 35h5M27 35h1M34 35h1M36 35h1M48 35h1M2 36h1M5 36h1M9 36h1M14 36h1M16 36h1M22 36h1M24 36h2M32 36h1M34 36h1M12 37h1M19 37h3M23 37h3M27 37h1M34 37h1M36 37h1M41 37h3M45 37h1M6 38h2M11 38h1M14 38h1M16 38h2M21 38h1M23 38h2M29 38h1M31 38h1M36 38h1M38 38h1M47 38h1M0 39h1M5 39h1M14 39h1M17 39h1M19 39h1M22 39h1M24 39h1M26 39h2M29 39h1M31 39h1M36 39h2M40 39h1M42 39h1M48 39h1M9 40h1M15 40h1M19 40h1M21 40h1M23 40h1M25 40h2M30 40h1M33 40h1M6 41h1M23 41h1M26 41h2M40 41h1M42 41h1M47 41h1M4 42h2M23 42h1M25 42h1M28 42h1M31 42h1M34 42h2M37 42h1M40 42h1M49 42h1M1 43h1M17 43h5M25 43h1M35 43h1M47 43h1M3 44h1M7 44h1M11 44h1M22 44h2M27 44h1M29 44h1M41 44h1M0 45h1M5 45h1M7 45h1M17 45h1M21 45h1M23 45h2M26 45h2M36 45h1M45 45h1M48 45h1M17 46h1M31 46h1M33 46h1M38 46h1M45 46h1M47 46h1M0 47h1M4 47h1M6 47h2M9 47h1M11 47h1M14 47h1M16 47h1M18 47h1M20 47h2M31 47h2M38 47h1M43 47h1M1 48h2M12 48h1M15 48h1M27 48h1M29 48h1M36 48h1M43 48h1M5 49h1M9 49h1M18 49h1M20 49h2M24 49h1M26 49h1M28 49h1M35 49h1M37 49h1M39 49h1M43 49h1M47 49h1M49 49h1"/><path stroke="#56acf6" d="M25 0h1M31 0h2M33 1h1M42 2h1M9 3h1M40 3h1M22 4h1M24 4h1M41 4h1M44 4h1M24 5h2M6 6h1M25 6h1M42 6h1M24 7h1M27 7h1M36 8h1M38 8h1M2 9h1M20 9h1M26 9h1M34 9h1M44 9h1M10 10h1M24 10h2M35 10h1M0 11h1M6 11h1M8 11h1M19 11h1M23 11h2M13 12h2M24 12h2M34 12h1M49 12h1M9 13h1M26 13h1M30 13h1M39 13h1M11 14h1M25 14h1M30 14h2M49 14h1M22 15h1M25 15h1M46 15h1M0 16h1M4 16h1M8 16h1M21 16h1M32 16h1M18 17h1M22 17h1M24 17h6M42 17h1M15 18h1M20 18h1M23 18h3M36 18h1M14 19h1M24 19h1M38 19h1M40 19h1M47 19h1M6 20h1M10 20h1M15 20h1M17 20h1M20 20h6M29 20h1M11 21h1M23 21h2M28 21h1M35 21h1M44 21h1M8 22h1M24 22h1M35 22h1M7 23h1M24 23h2M30 23h1M32 23h1M36 23h1M38 23h1M45 23h1M5 24h1M7 24h1M10 24h2M14 24h2M17 24h1M20 24h7M28 24h1M30 24h3M34 24h1M36 24h1M42 24h2M2 25h43M47 25h1M2 26h1M14 26h1M16 26h1M32 26h1M38 26h1M3 27h1M22 27h4M28 27h1M31 27h1M34 27h1M36 27h1M43 27h1M0 28h1M18 28h1M23 28h2M32 28h1M43 28h1M14 29h1M16 29h1M24 29h1M29 29h1M31 29h1M38 29h1M15 30h1M18 30h1M20 30h2M26 30h1M31 30h1M44 30h3M3 31h1M19 31h1M24 31h2M42 31h1M45 31h1M23 32h1M25 32h1M31 32h1M16 33h2M23 33h1M25 33h2M28 33h1M30 33h1M40 33h1M12 34h1M26 34h4M8 35h1M22 35h4M14 36h1M16 36h1M12 37h1M21 37h1M23 37h3M34 37h1M42 37h1M6 38h2M24 39h1M26 39h1M40 39h1M42 39h1M15 40h1M21 40h1M23 40h1M25 40h2M23 41h1M26 41h1M4 42h1M35 42h1M40 42h1M18 43h1M25 43h1M35 43h1M7 44h1M22 44h1M24 45h1M38 46h1M4 47h1M7 47h1M24 49h1M28 49h1M39 49h1M43 49h1M47 49h1M49 49h1"/><path stroke="#36a6f7" d="M25 0h1M31 0h2M33 1h1M42 2h1M9 3h1M40 3h1M22 4h1M24 4h1M41 4h1M44 4h1M24 5h2M6 6h1M25 6h1M42 6h1M24 7h1M27 7h1M36 8h1M38 8h1M2 9h1M20 9h1M26 9h1M34 9h1M44 9h1M10 10h1M24 10h2M35 10h1M0 11h1M6 11h1M8 11h1M19 11h1M23 11h2M13 12h2M24 12h2M34 12h1M49 12h1M9 13h1M26 13h1M30 13h1M39 13h1M11 14h1M25 14h1M30 14h2M49 14h1M22 15h1M25 15h1M46 15h1M0 16h1M4 16h1M8 16h1M21 16h1M32 16h1M18 17h1M22 17h1M24 17h6M42 17h1M15 18h1M20 18h1M23 18h3M36 18h1M14 19h1M24 19h1M38 19h1M40 19h1M47 19h1M6 20h1M10 20h1M15 20h1M17 20h1M20 20h6M29 20h1M11 21h1M23 21h2M28 21h1M35 21h1M44 21h1M8 22h1M24 22h1M35 22h1M7 23h1M24 23h2M30 23h1M32 23h1M36 23h1M38 23h1M45 23h1M5 24h1M7 24h1M10 24h2M14 24h2M17 24h1M20 24h7M28 24h1M30 24h3M34 24h1M36 24h1M42 24h2M2 25h43M47 25h1M2 26h1M14 26h1M16 26h1M32 26h1M38 26h1M3 27h1M22 27h4M28 27h1M31 27h1M34 27h1M36 27h1M43 27h1M0 28h1M18 28h1M23 28h2M32 28h1M43 28h1M14 29h1M16 29h1M24 29h1M29 29h1M31 29h1M38 29h1M15 30h1M18 30h1M20 30h2M26 30h1M31 30h1M44 30h3M3 31h1M19 31h1M24 31h2M42 31h1M45 31h1M23 32h1M25 32h1M31 32h1M16 33h2M23 33h1M25 33h2M28 33h1M30 33h1M40 33h1M12 34h1M26 34h4M8 35h1M22 35h4M14 36h1M16 36h1M12 37h1M21 37h1M23 37h3M34 37h1M42 37h1M6 38h2M24 39h1M26 39h1M40 39h1M42 39h1M15 40h1M21 40h1M23 40h1M25 40h2M23 41h1M26 41h1M4 42h1M35 42h1M40 42h1M18 43h1M25 43h1M35 43h1M7 44h1M22 44h1M24 45h1M38 46h1M4 47h1M7 47h1M24 49h1M28 49h1M39 49h1M43 49h1M47 49h1M49 49h1"/><path stroke="#2fa0f0" d="M32 0h1M41 4h1M24 5h2M25 6h1M36 8h1M2 9h1M26 9h1M35 10h1M23 11h1M14 12h1M24 12h1M9 13h1M26 13h1M24 17h2M27 17h1M23 18h1M25 18h1M14 19h1M17 20h1M23 20h2M11 21h1M24 21h1M35 21h1M24 22h1M7 23h1M24 23h1M7 24h1M10 24h2M14 24h2M17 24h1M20 24h1M22 24h3M28 24h1M30 24h3M34 24h1M36 24h1M42 24h1M2 25h42M16 26h1M38 26h1M22 27h1M24 27h2M31 27h1M34 27h1M32 28h1M43 28h1M16 29h1M24 29h1M31 29h1M45 30h2M3 31h1M24 31h1M23 32h1M25 32h1M31 32h1M16 33h1M23 33h1M25 33h1M28 33h1M40 33h1M27 34h1M29 34h1M22 35h1M25 35h1M21 37h1M24 37h2M6 38h1M24 39h1M15 40h1M23 40h1M26 41h1M18 43h1M7 44h1M43 49h1"/><path stroke="#2b9ae7" d="M32 0h1M41 4h1M24 5h2M25 6h1M36 8h1M2 9h1M26 9h1M35 10h1M23 11h1M14 12h1M24 12h1M9 13h1M26 13h1M24 17h2M27 17h1M23 18h1M25 18h1M14 19h1M17 20h1M23 20h2M11 21h1M24 21h1M35 21h1M24 22h1M7 23h1M24 23h1M7 24h1M10 24h2M14 24h2M17 24h1M20 24h1M22 24h3M28 24h1M30 24h3M34 24h1M36 24h1M42 24h1M2 25h42M16 26h1M38 26h1M22 27h1M24 27h2M31 27h1M34 27h1M32 28h1M43 28h1M16 29h1M24 29h1M31 29h1M45 30h2M3 31h1M24 31h1M23 32h1M25 32h1M31 32h1M16 33h1M23 33h1M25 33h1M28 33h1M40 33h1M27 34h1M29 34h1M22 35h1M25 35h1M21 37h1M24 37h2M6 38h1M24 39h1M15 40h1M23 40h1M26 41h1M18 43h1M7 44h1M43 49h1"/><path stroke="#2a93dd" d="M24 5h1M27 17h1M24 20h1M24 21h1M35 21h1M7 24h1M10 24h2M24 24h1M30 24h2M34 24h1M36 24h1M2 25h13M16 25h14M31 25h3M35 25h7M43 25h1M22 27h1M25 27h1M32 28h1M16 29h1M24 31h1M25 32h1M40 33h1M25 37h1M24 39h1M15 40h1M26 41h1M18 43h1"/><path stroke="#2b8dd3" d="M24 5h1M27 17h1M24 20h1M24 21h1M35 21h1M7 24h1M10 24h2M24 24h1M30 24h2M34 24h1M36 24h1M2 25h13M16 25h14M31 25h3M35 25h7M43 25h1M22 27h1M25 27h1M32 28h1M16 29h1M24 31h1M25 32h1M40 33h1M25 37h1M24 39h1M15 40h1M26 41h1M18 43h1"/><path stroke="#2e86c8" d="M24 20h1M24 24h1M31 24h1M34 24h1M2 25h6M9 25h6M16 25h14M31 25h2M35 25h2M38 25h4M43 25h1M25 37h1M15 40h1"/><path stroke="#3180bd" d="M24 20h1M24 24h1M31 24h1M34 24h1M2 25h6M9 25h6M16 25h14M31 25h2M35 25h2M38 25h4M43 25h1M25 37h1M15 40h1"/><path stroke="#347ab3" d="M24 24h1M31 24h1M3 25h1M6 25h2M9 25h3M13 25h1M16 25h1M18 25h8M27 25h3M31 25h2M36 25h1M38 25h3M43 25h1"/><path stroke="#3773a7" d="M24 24h1M31 24h1M3 25h1M6 25h2M9 25h3M13 25h1M16 25h1M18 25h8M27 25h3M31 25h2M36 25h1M38 25h3M43 25h1"/><path stroke="#3a6d9c" d="M3 25h1M6 25h1M9 25h3M18 25h6M25 25h1M28 25h2M31 25h2M36 25h1M38 25h1M40 25h1M43 25h1"/><path stroke="#3c6690" d="M3 25h1M6 25h1M9 25h3M18 25h6M25 25h1M28 25h2M31 25h2M36 25h1M38 25h1M40 25h1M43 25h1"/><path stroke="#3d6084" d="M6 25h1M9 25h3M20 25h3M25 25h1M28 25h2M31 25h2M36 25h1M40 25h1M43 25h1"/><path stroke="#3d5a79" d="M6 25h1M9 25h3M20 25h3M25 25h1M28 25h2M31 25h2M36 25h1M40 25h1M43 25h1"/><path stroke="#3d546e" d="M10 25h2M21 25h1M25 25h1M28 25h1M31 25h1M40 25h1"/></g></g>
<text transform="translate(25.60,500.00) scale(0.1038)" text-anchor="middle" stroke="#2b2b2b" stroke-width="0.5" fill="#2b2b2b">0.0</text>
<text transform="translate(43.92,500.00) scale(0.1038)" text-anchor="middle" stroke="#2b2b2b" stroke-width="0.5" fill="#2b2b2b">0.2</text>
<text transform="translate(62.24,500.00) scale(0.1038)" text-anchor="middle" stroke="#2b2b2b" stroke-width="0.5" fill="#2b2b2b">0.4</text>
<text transform="translate(80.56,500.00) scale(0.1038)" text-anchor="middle" stroke="#2b2b2b" stroke-width="0.5" fill="#2b2b2b">0.6</text>
<text transform="translate(98.88,500.00) scale(0.1038)" text-anchor="middle" stroke="#2b2b2b" stroke-width="0.5" fill="#2b2b2b">0.8</text>
<text transform="translate(117.20,500.00) scale(0.1038)" text-anchor="middle" stroke="#2b2b2b" stroke-width="0.5" fill="#2b2b2b">1.0</text>
<text transform="translate(22.30,494.65) scale(0.1038)" text-anchor="end" stroke="#2b2b2b" stroke-width="0.5" fill="#2b2b2b">0.0</text>
<text transform="translate(22.30,477.43) scale(0.1038)" text-anchor="end" stroke="#2b2b2b" stroke-width="0.5" fill="#2b2b2b">0.2</text>
<text transform="translate(22.30,460.21) scale(0.1038)" text-anchor="end" stroke="#2b2b2b" stroke-width="0.5" fill="#2b2b2b">0.4</text>
<text transform="translate(22.30,442.99) scale(0.1038)" text-anchor="end" stroke="#2b2b2b" stroke-width="0.5" fill="#2b2b2b">0.6</text>
<text transform="translate(22.30,425.77) scale(0.1038)" text-anchor="end" stroke="#2b2b2b" stroke-width="0.5" fill="#2b2b2b">0.8</text>
<text transform="translate(22.30,408.55) scale(0.1038)" text-anchor="end" stroke="#2b2b2b" stroke-width="0.5" fill="#2b2b2b">1.0</text>
<path d="M25.60 494.30v1.5M43.92 494.30v1.5M62.24 494.30v1.5M80.56 494.30v1.5M98.88 494.30v1.5M117.20 494.30v1.5M24.40 493.10h-1.5M24.40 475.88h-1.5M24.40 458.66h-1.5M24.40 441.44h-1.5M24.40 424.22h-1.5M24.40 407.00h-1.5" stroke="#222" stroke-width="0.55" fill="none"/>
<text transform="translate(71.40,505.60) scale(0.1038)" text-anchor="middle" stroke="#2b2b2b" stroke-width="0.5" fill="#2b2b2b">x</text>
<text transform="translate(12.20,450.05) rotate(-90) scale(0.1038)" text-anchor="middle" stroke="#2b2b2b" stroke-width="0.5" fill="#2b2b2b">y</text>
<g filter="url(#b)"><g transform="translate(146.51,487.67) scale(1.6579,-1.5671)" stroke-width="1.04" fill="none"><path stroke="#acc9ee" d="M7 0h1M9 0h2M12 0h1M18 0h1M29 0h2M33 0h1M45 0h1M48 0h2M1 1h2M4 1h1M9 1h1M12 1h1M14 1h3M19 1h1M25 1h1M28 1h3M33 1h1M41 1h1M45 1h1M49 1h1M1 2h2M4 2h8M13 2h4M19 2h3M24 2h1M27 2h2M31 2h4M36 2h1M38 2h2M41 2h1M43 2h1M48 2h2M1 3h9M12 3h2M17 3h3M21 3h3M27 3h2M31 3h1M34 3h2M38 3h3M47 3h3M0 4h11M12 4h4M17 4h5M23 4h1M25 4h1M27 4h4M33 4h5M39 4h1M41 4h3M49 4h1M0 5h13M14 5h6M22 5h1M25 5h4M31 5h1M33 5h1M35 5h5M41 5h4M46 5h1M49 5h1M0 6h23M24 6h3M28 6h2M31 6h9M41 6h1M43 6h3M48 6h2M0 7h12M13 7h6M20 7h2M23 7h2M28 7h6M36 7h2M39 7h2M44 7h1M46 7h4M0 8h14M15 8h5M21 8h3M28 8h2M31 8h6M40 8h1M43 8h5M49 8h1M0 9h4M5 9h5M11 9h13M25 9h4M30 9h2M35 9h2M39 9h1M41 9h7M49 9h1M0 10h10M11 10h11M24 10h1M27 10h1M30 10h2M33 10h1M35 10h3M40 10h3M46 10h4M0 11h9M10 11h5M16 11h3M20 11h12M33 11h4M39 11h3M43 11h4M48 11h2M0 12h11M12 12h13M28 12h2M31 12h19M0 13h4M5 13h8M15 13h3M20 13h4M25 13h13M39 13h1M41 13h9M0 14h6M7 14h9M17 14h7M25 14h2M28 14h10M39 14h8M49 14h1M0 15h9M10 15h15M26 15h2M29 15h10M40 15h10M0 16h21M23 16h3M27 16h5M33 16h3M37 16h1M39 16h2M42 16h3M46 16h1M48 16h2M1 17h21M24 17h7M32 17h1M34 17h6M41 17h4M46 17h4M0 18h15M16 18h7M24 18h5M30 18h1M32 18h1M36 18h8M45 18h3M49 18h1M0 19h5M6 19h3M10 19h9M20 19h5M28 19h5M34 19h1M36 19h4M41 19h8M2 20h3M6 20h1M8 20h7M16 20h9M30 20h1M32 20h2M35 20h4M41 20h6M49 20h1M0 21h2M4 21h5M10 21h3M14 21h6M22 21h6M29 21h2M32 21h18M1 22h17M19 22h3M26 22h2M29 22h4M35 22h3M42 22h1M44 22h1M47 22h1M49 22h1M0 23h14M15 23h5M22 23h5M29 23h7M39 23h1M42 23h1M45 23h1M0 24h4M6 24h5M12 24h2M15 24h1M19 24h2M23 24h1M26 24h2M32 24h1M34 24h1M37 24h2M41 24h1M46 24h4M1 25h2M4 25h1M6 25h5M12 25h2M16 25h1M18 25h4M23 25h1M26 25h1M29 25h4M34 25h2M37 25h1M40 25h2M43 25h1M45 25h1M49 25h1M1 26h1M3 26h1M5 26h18M24 26h2M30 26h7M39 26h1M42 26h1M49 26h1M1 27h5M7 27h1M9 27h6M16 27h2M19 27h1M21 27h1M24 27h6M32 27h3M42 27h1M49 27h1M0 28h14M17 28h3M28 28h2M31 28h1M36 28h1M39 28h1M44 28h1M48 28h2M1 29h1M3 29h2M6 29h5M13 29h3M20 29h9M30 29h2M33 29h1M35 29h1M38 29h2M41 29h1M43 29h3M48 29h2M0 30h6M10 30h2M16 30h3M22 30h1M24 30h2M27 30h2M30 30h2M33 30h2M36 30h1M41 30h1M46 30h1M48 30h1M0 31h1M2 31h10M13 31h7M26 31h2M29 31h1M36 31h1M43 31h1M46 31h1M1 32h3M5 32h4M10 32h1M12 32h1M14 32h3M19 32h1M21 32h2M24 32h1M27 32h2M30 32h1M34 32h1M37 32h2M40 32h4M45 32h1M47 32h1M1 33h2M5 33h6M12 33h6M19 33h1M30 33h1M33 33h2M40 33h4M49 33h1M1 34h3M5 34h4M10 34h6M17 34h1M22 34h1M25 34h1M36 34h1M39 34h3M43 34h1M46 34h1M49 34h1M1 35h8M10 35h3M14 35h3M21 35h1M24 35h1M30 35h1M33 35h3M38 35h1M43 35h1M46 35h1M48 35h1M3 36h2M6 36h2M9 36h12M24 36h1M26 36h1M28 36h2M33 36h1M35 36h2M39 36h1M45 36h1M47 36h1M0 37h8M9 37h2M13 37h1M17 37h3M21 37h1M24 37h1M26 37h2M30 37h1M34 37h1M36 37h3M43 37h1M45 37h1M49 37h1M1 38h11M13 38h1M15 38h2M22 38h2M28 38h2M32 38h2M39 38h1M41 38h2M45 38h1M47 38h3M1 39h4M6 39h2M9 39h1M11 39h1M13 39h3M18 39h3M22 39h2M25 39h1M28 39h1M30 39h1M38 39h1M43 39h1M0 40h5M6 40h2M12 40h3M19 40h1M21 40h3M26 40h1M29 40h1M33 40h1M37 40h1M45 40h1M49 40h1M0 41h2M4 41h3M8 41h4M14 41h2M17 41h1M19 41h3M23 41h1M25 41h2M28 41h1M30 41h2M34 41h1M36 41h1M42 41h2M47 41h1M0 42h6M9 42h4M14 42h2M18 42h1M20 42h3M24 42h4M31 42h1M35 42h2M45 42h3M2 43h7M10 43h2M13 43h4M20 43h2M23 43h1M32 43h1M34 43h2M37 43h1M40 43h1M45 43h1M48 43h2M0 44h3M5 44h3M11 44h2M14 44h5M20 44h1M23 44h1M31 44h2M34 44h2M37 44h2M42 44h1M47 44h1M49 44h1M2 45h2M6 45h2M9 45h1M11 45h3M15 45h3M19 45h1M21 45h1M26 45h1M28 45h1M30 45h1M35 45h1M39 45h2M1 46h8M10 46h5M16 46h9M27 46h3M36 46h1M41 46h1M45 46h1M0 47h1M2 47h9M12 47h3M17 47h1M19 47h2M24 47h2M29 47h1M35 47h1M38 47h1M44 47h1M49 47h1M1 48h2M4 48h3M8 48h3M12 48h2M19 48h1M21 48h1M25 48h1M29 48h1M34 48h1M39 48h1M41 48h1M43 48h1M46 48h1M49 48h1M0 49h33M34 49h1M37 49h1M39 49h1M41 49h1M44 49h1M49 49h1"/><path stroke="#9fc3ef" d="M7 0h1M9 0h2M12 0h1M18 0h1M29 0h2M33 0h1M45 0h1M48 0h2M1 1h2M4 1h1M9 1h1M12 1h1M14 1h3M19 1h1M25 1h1M28 1h3M33 1h1M41 1h1M45 1h1M49 1h1M1 2h2M4 2h8M13 2h4M19 2h3M24 2h1M27 2h2M31 2h4M36 2h1M38 2h2M41 2h1M43 2h1M48 2h2M1 3h9M12 3h2M17 3h3M21 3h3M27 3h2M31 3h1M34 3h2M38 3h3M47 3h3M0 4h11M12 4h4M17 4h5M23 4h1M25 4h1M27 4h4M33 4h5M39 4h1M41 4h3M49 4h1M0 5h13M14 5h6M22 5h1M25 5h4M31 5h1M33 5h1M35 5h5M41 5h4M46 5h1M49 5h1M0 6h23M24 6h3M28 6h2M31 6h9M41 6h1M43 6h3M48 6h2M0 7h12M13 7h6M20 7h2M23 7h2M28 7h6M36 7h2M39 7h2M44 7h1M46 7h4M0 8h14M15 8h5M21 8h3M28 8h2M31 8h6M40 8h1M43 8h5M49 8h1M0 9h4M5 9h5M11 9h13M25 9h4M30 9h2M35 9h2M39 9h1M41 9h7M49 9h1M0 10h10M11 10h11M24 10h1M27 10h1M30 10h2M33 10h1M35 10h3M40 10h3M46 10h4M0 11h9M10 11h5M16 11h3M20 11h12M33 11h4M39 11h3M43 11h4M48 11h2M0 12h11M12 12h13M28 12h2M31 12h19M0 13h4M5 13h8M15 13h3M20 13h4M25 13h13M39 13h1M41 13h9M0 14h6M7 14h9M17 14h7M25 14h2M28 14h10M39 14h8M49 14h1M0 15h9M10 15h15M26 15h2M29 15h10M40 15h10M0 16h21M23 16h3M27 16h5M33 16h3M37 16h1M39 16h2M42 16h3M46 16h1M48 16h2M1 17h21M24 17h7M32 17h1M34 17h6M41 17h4M46 17h4M0 18h15M16 18h7M24 18h5M30 18h1M32 18h1M36 18h8M45 18h3M49 18h1M0 19h5M6 19h3M10 19h9M20 19h5M28 19h5M34 19h1M36 19h4M41 19h8M2 20h3M6 20h1M8 20h7M16 20h9M30 20h1M32 20h2M35 20h4M41 20h6M49 20h1M0 21h2M4 21h5M10 21h3M14 21h6M22 21h6M29 21h2M32 21h18M1 22h17M19 22h3M26 22h2M29 22h4M35 22h3M42 22h1M44 22h1M47 22h1M49 22h1M0 23h14M15 23h5M22 23h5M29 23h7M39 23h1M42 23h1M45 23h1M0 24h4M6 24h5M12 24h2M15 24h1M19 24h2M23 24h1M26 24h2M32 24h1M34 24h1M37 24h2M41 24h1M46 24h4M1 25h2M4 25h1M6 25h5M12 25h2M16 25h1M18 25h4M23 25h1M26 25h1M29 25h4M34 25h2M37 25h1M40 25h2M43 25h1M45 25h1M49 25h1M1 26h1M3 26h1M5 26h18M24 26h2M30 26h7M39 26h1M42 26h1M49 26h1M1 27h5M7 27h1M9 27h6M16 27h2M19 27h1M21 27h1M24 27h6M32 27h3M42 27h1M49 27h1M0 28h14M17 28h3M28 28h2M31 28h1M36 28h1M39 28h1M44 28h1M48 28h2M1 29h1M3 29h2M6 29h5M13 29h3M20 29h9M30 29h2M33 29h1M35 29h1M38 29h2M41 29h1M43 29h3M48 29h2M0 30h6M10 30h2M16 30h3M22 30h1M24 30h2M27 30h2M30 30h2M33 30h2M36 30h1M41 30h1M46 30h1M48 30h1M0 31h1M2 31h10M13 31h7M26 31h2M29 31h1M36 31h1M43 31h1M46 31h1M1 32h3M5 32h4M10 32h1M12 32h1M14 32h3M19 32h1M21 32h2M24 32h1M27 32h2M30 32h1M34 32h1M37 32h2M40 32h4M45 32h1M47 32h1M1 33h2M5 33h6M12 33h6M19 33h1M30 33h1M33 33h2M40 33h4M49 33h1M1 34h3M5 34h4M10 34h6M17 34h1M22 34h1M25 34h1M36 34h1M39 34h3M43 34h1M46 34h1M49 34h1M1 35h8M10 35h3M14 35h3M21 35h1M24 35h1M30 35h1M33 35h3M38 35h1M43 35h1M46 35h1M48 35h1M3 36h2M6 36h2M9 36h12M24 36h1M26 36h1M28 36h2M33 36h1M35 36h2M39 36h1M45 36h1M47 36h1M0 37h8M9 37h2M13 37h1M17 37h3M21 37h1M24 37h1M26 37h2M30 37h1M34 37h1M36 37h3M43 37h1M45 37h1M49 37h1M1 38h11M13 38h1M15 38h2M22 38h2M28 38h2M32 38h2M39 38h1M41 38h2M45 38h1M47 38h3M1 39h4M6 39h2M9 39h1M11 39h1M13 39h3M18 39h3M22 39h2M25 39h1M28 39h1M30 39h1M38 39h1M43 39h1M0 40h5M6 40h2M12 40h3M19 40h1M21 40h3M26 40h1M29 40h1M33 40h1M37 40h1M45 40h1M49 40h1M0 41h2M4 41h3M8 41h4M14 41h2M17 41h1M19 41h3M23 41h1M25 41h2M28 41h1M30 41h2M34 41h1M36 41h1M42 41h2M47 41h1M0 42h6M9 42h4M14 42h2M18 42h1M20 42h3M24 42h4M31 42h1M35 42h2M45 42h3M2 43h7M10 43h2M13 43h4M20 43h2M23 43h1M32 43h1M34 43h2M37 43h1M40 43h1M45 43h1M48 43h2M0 44h3M5 44h3M11 44h2M14 44h5M20 44h1M23 44h1M31 44h2M34 44h2M37 44h2M42 44h1M47 44h1M49 44h1M2 45h2M6 45h2M9 45h1M11 45h3M15 45h3M19 45h1M21 45h1M26 45h1M28 45h1M30 45h1M35 45h1M39 45h2M1 46h8M10 46h5M16 46h9M27 46h3M36 46h1M41 46h1M45 46h1M0 47h1M2 47h9M12 47h3M17 47h1M19 47h2M24 47h2M29 47h1M35 47h1M38 47h1M44 47h1M49 47h1M1 48h2M4 48h3M8 48h3M12 48h2M19 48h1M21 48h1M25 48h1M29 48h1M34 48h1M39 48h1M41 48h1M43 48h1M46 48h1M49 48h1M0 49h33M34 49h1M37 49h1M39 49h1M41 49h1M44 49h1M49 49h1"/><path stroke="#8fbdf1" d="M7 0h1M9 0h2M12 0h1M18 0h1M29 0h2M33 0h1M45 0h1M48 0h2M1 1h2M4 1h1M9 1h1M12 1h1M14 1h3M19 1h1M25 1h1M28 1h3M33 1h1M41 1h1M45 1h1M49 1h1M1 2h2M4 2h8M13 2h4M19 2h3M24 2h1M27 2h2M31 2h4M36 2h1M38 2h2M41 2h1M43 2h1M48 2h2M1 3h9M12 3h2M17 3h3M21 3h3M27 3h2M31 3h1M34 3h2M38 3h3M47 3h3M0 4h11M12 4h4M17 4h5M23 4h1M25 4h1M27 4h4M33 4h5M39 4h1M41 4h3M49 4h1M0 5h13M14 5h6M22 5h1M25 5h4M31 5h1M33 5h1M35 5h5M41 5h4M46 5h1M49 5h1M0 6h23M24 6h3M28 6h2M31 6h9M41 6h1M43 6h3M48 6h2M0 7h12M13 7h6M20 7h2M23 7h2M28 7h6M36 7h2M39 7h2M44 7h1M46 7h4M0 8h14M15 8h5M21 8h3M28 8h2M31 8h6M40 8h1M43 8h5M49 8h1M0 9h4M5 9h5M11 9h13M25 9h4M30 9h2M35 9h2M39 9h1M41 9h7M49 9h1M0 10h10M11 10h11M24 10h1M27 10h1M30 10h2M33 10h1M35 10h3M40 10h3M46 10h4M0 11h9M10 11h5M16 11h3M20 11h12M33 11h4M39 11h3M43 11h4M48 11h2M0 12h11M12 12h13M28 12h2M31 12h19M0 13h4M5 13h8M15 13h3M20 13h4M25 13h13M39 13h1M41 13h9M0 14h6M7 14h9M17 14h7M25 14h2M28 14h10M39 14h8M49 14h1M0 15h9M10 15h15M26 15h2M29 15h10M40 15h10M0 16h21M23 16h3M27 16h5M33 16h3M37 16h1M39 16h2M42 16h3M46 16h1M48 16h2M1 17h21M24 17h7M32 17h1M34 17h6M41 17h4M46 17h4M0 18h15M16 18h7M24 18h5M30 18h1M32 18h1M36 18h8M45 18h3M49 18h1M0 19h5M6 19h3M10 19h9M20 19h5M28 19h5M34 19h1M36 19h4M41 19h8M2 20h3M6 20h1M8 20h7M16 20h9M30 20h1M32 20h2M35 20h4M41 20h6M49 20h1M0 21h2M4 21h5M10 21h3M14 21h6M22 21h6M29 21h2M32 21h18M1 22h17M19 22h3M26 22h2M29 22h4M35 22h3M42 22h1M44 22h1M47 22h1M49 22h1M0 23h14M15 23h5M22 23h5M29 23h7M39 23h1M42 23h1M45 23h1M0 24h4M6 24h5M12 24h2M15 24h1M19 24h2M23 24h1M26 24h2M32 24h1M34 24h1M37 24h2M41 24h1M46 24h4M1 25h2M4 25h1M6 25h5M12 25h2M16 25h1M18 25h4M23 25h1M26 25h1M29 25h4M34 25h2M37 25h1M40 25h2M43 25h1M45 25h1M49 25h1M1 26h1M3 26h1M5 26h18M24 26h2M30 26h7M39 26h1M42 26h1M49 26h1M1 27h5M7 27h1M9 27h6M16 27h2M19 27h1M21 27h1M24 27h6M32 27h3M42 27h1M49 27h1M0 28h14M17 28h3M28 28h2M31 28h1M36 28h1M39 28h1M44 28h1M48 28h2M1 29h1M3 29h2M6 29h5M13 29h3M20 29h9M30 29h2M33 29h1M35 29h1M38 29h2M41 29h1M43 29h3M48 29h2M0 30h6M10 30h2M16 30h3M22 30h1M24 30h2M27 30h2M30 30h2M33 30h2M36 30h1M41 30h1M46 30h1M48 30h1M0 31h1M2 31h10M13 31h7M26 31h2M29 31h1M36 31h1M43 31h1M46 31h1M1 32h3M5 32h4M10 32h1M12 32h1M14 32h3M19 32h1M21 32h2M24 32h1M27 32h2M30 32h1M34 32h1M37 32h2M40 32h4M45 32h1M47 32h1M1 33h2M5 33h6M12 33h6M19 33h1M30 33h1M33 33h2M40 33h4M49 33h1M1 34h3M5 34h4M10 34h6M17 34h1M22 34h1M25 34h1M36 34h1M39 34h3M43 34h1M46 34h1M49 34h1M1 35h8M10 35h3M14 35h3M21 35h1M24 35h1M30 35h1M33 35h3M38 35h1M43 35h1M46 35h1M48 35h1M3 36h2M6 36h2M9 36h12M24 36h1M26 36h1M28 36h2M33 36h1M35 36h2M39 36h1M45 36h1M47 36h1M0 37h8M9 37h2M13 37h1M17 37h3M21 37h1M24 37h1M26 37h2M30 37h1M34 37h1M36 37h3M43 37h1M45 37h1M49 37h1M1 38h11M13 38h1M15 38h2M22 38h2M28 38h2M32 38h2M39 38h1M41 38h2M45 38h1M47 38h3M1 39h4M6 39h2M9 39h1M11 39h1M13 39h3M18 39h3M22 39h2M25 39h1M28 39h1M30 39h1M38 39h1M43 39h1M0 40h5M6 40h2M12 40h3M19 40h1M21 40h3M26 40h1M29 40h1M33 40h1M37 40h1M45 40h1M49 40h1M0 41h2M4 41h3M8 41h4M14 41h2M17 41h1M19 41h3M23 41h1M25 41h2M28 41h1M30 41h2M34 41h1M36 41h1M42 41h2M47 41h1M0 42h6M9 42h4M14 42h2M18 42h1M20 42h3M24 42h4M31 42h1M35 42h2M45 42h3M2 43h7M10 43h2M13 43h4M20 43h2M23 43h1M32 43h1M34 43h2M37 43h1M40 43h1M45 43h1M48 43h2M0 44h3M5 44h3M11 44h2M14 44h5M20 44h1M23 44h1M31 44h2M34 44h2M37 44h2M42 44h1M47 44h1M49 44h1M2 45h2M6 45h2M9 45h1M11 45h3M15 45h3M19 45h1M21 45h1M26 45h1M28 45h1M30 45h1M35 45h1M39 45h2M1 46h8M10 46h5M16 46h9M27 46h3M36 46h1M41 46h1M45 46h1M0 47h1M2 47h9M12 47h3M17 47h1M19 47h2M24 47h2M29 47h1M35 47h1M38 47h1M44 47h1M49 47h1M1 48h2M4 48h3M8 48h3M12 48h2M19 48h1M21 48h1M25 48h1M29 48h1M34 48h1M39 48h1M41 48h1M43 48h1M46 48h1M49 48h1M0 49h33M34 49h1M37 49h1M39 49h1M41 49h1M44 49h1M49 49h1"/><path stroke="#7fb8f3" d="M9 0h1M12 0h1M45 0h1M48 0h2M1 1h2M4 1h1M9 1h1M12 1h1M19 1h1M30 1h1M45 1h1M49 1h1M1 2h2M5 2h3M9 2h1M11 2h1M15 2h1M28 2h1M36 2h1M48 2h2M1 3h8M17 3h2M21 3h1M23 3h1M28 3h1M34 3h2M39 3h1M49 3h1M1 4h10M13 4h2M17 4h5M30 4h1M39 4h1M49 4h1M1 5h12M15 5h1M17 5h2M22 5h1M28 5h1M33 5h1M39 5h1M42 5h1M49 5h1M1 6h2M4 6h7M12 6h3M17 6h1M22 6h1M24 6h1M29 6h1M33 6h3M44 6h1M49 6h1M1 7h7M9 7h3M13 7h2M18 7h1M20 7h2M24 7h1M28 7h2M33 7h1M36 7h1M44 7h1M48 7h2M0 8h12M13 8h1M16 8h1M23 8h1M28 8h2M31 8h1M40 8h1M45 8h1M1 9h3M5 9h5M12 9h4M19 9h5M28 9h1M31 9h1M35 9h2M39 9h1M41 9h6M1 10h9M12 10h2M15 10h3M19 10h3M24 10h1M27 10h1M30 10h2M35 10h3M42 10h1M47 10h3M1 11h8M10 11h4M16 11h1M18 11h1M20 11h3M24 11h2M27 11h3M33 11h4M39 11h3M43 11h4M48 11h2M0 12h3M4 12h6M12 12h3M16 12h1M18 12h3M28 12h2M31 12h2M34 12h1M36 12h4M41 12h4M47 12h3M1 13h3M6 13h3M10 13h3M15 13h2M21 13h3M25 13h2M28 13h1M32 13h3M39 13h1M41 13h2M44 13h1M47 13h3M1 14h5M8 14h3M12 14h4M17 14h3M21 14h1M23 14h1M25 14h1M32 14h2M36 14h1M40 14h1M44 14h2M1 15h8M10 15h4M15 15h2M18 15h2M21 15h4M26 15h1M30 15h1M33 15h6M40 15h3M44 15h1M46 15h1M49 15h1M0 16h16M17 16h1M19 16h2M23 16h3M28 16h2M31 16h1M34 16h1M37 16h1M42 16h2M46 16h1M48 16h2M3 17h10M14 17h8M26 17h1M29 17h2M32 17h1M34 17h1M36 17h4M41 17h3M46 17h4M2 18h1M5 18h9M16 18h3M20 18h3M26 18h1M28 18h1M30 18h1M32 18h1M37 18h1M39 18h3M43 18h1M45 18h3M1 19h2M7 19h2M11 19h3M16 19h3M21 19h4M29 19h4M36 19h1M39 19h1M43 19h1M45 19h2M2 20h3M8 20h2M11 20h2M14 20h1M16 20h2M19 20h1M21 20h2M24 20h1M30 20h1M35 20h2M38 20h1M41 20h4M46 20h1M49 20h1M1 21h1M5 21h2M8 21h1M12 21h1M14 21h4M19 21h1M22 21h1M24 21h1M26 21h1M29 21h1M37 21h1M41 21h2M45 21h2M49 21h1M1 22h1M3 22h2M6 22h1M10 22h5M16 22h1M26 22h1M30 22h3M37 22h1M1 23h1M3 23h3M8 23h3M16 23h1M18 23h1M24 23h2M31 23h1M33 23h2M39 23h1M42 23h1M2 24h2M9 24h1M13 24h1M20 24h1M23 24h1M26 24h1M37 24h2M49 24h1M2 25h1M4 25h1M6 25h1M9 25h2M12 25h1M16 25h1M19 25h3M23 25h1M26 25h1M31 25h1M35 25h1M37 25h1M40 25h1M43 25h1M45 25h1M5 26h2M8 26h2M11 26h1M13 26h1M19 26h4M24 26h2M30 26h2M33 26h2M36 26h1M39 26h1M49 26h1M1 27h2M4 27h2M9 27h6M21 27h1M33 27h1M1 28h2M4 28h2M7 28h1M10 28h2M13 28h1M19 28h1M36 28h1M49 28h1M3 29h2M7 29h1M9 29h1M13 29h1M15 29h1M27 29h2M30 29h1M33 29h1M43 29h1M2 30h1M4 30h1M11 30h1M24 30h1M27 30h1M30 30h1M41 30h1M2 31h3M6 31h3M10 31h2M14 31h2M18 31h1M29 31h1M46 31h1M1 32h2M5 32h2M8 32h1M15 32h1M19 32h1M28 32h1M37 32h1M10 33h1M12 33h2M16 33h2M19 33h1M34 33h1M1 34h3M8 34h1M12 34h4M17 34h1M22 34h1M40 34h1M1 35h1M3 35h1M5 35h4M16 35h1M24 35h1M30 35h1M34 35h1M3 36h1M6 36h1M12 36h3M18 36h1M20 36h1M36 36h1M1 37h5M9 37h1M18 37h2M37 37h1M2 38h2M5 38h7M13 38h1M15 38h1M23 38h1M29 38h1M2 39h3M7 39h1M11 39h1M13 39h1M15 39h1M18 39h2M22 39h1M25 39h1M1 40h1M4 40h1M6 40h1M13 40h1M21 40h2M37 40h1M49 40h1M1 41h1M4 41h3M8 41h4M15 41h1M23 41h1M26 41h1M30 41h1M36 41h1M43 41h1M47 41h1M2 42h1M4 42h1M9 42h1M11 42h2M15 42h1M18 42h1M20 42h1M26 42h2M45 42h1M2 43h2M5 43h4M10 43h1M14 43h2M23 43h1M35 43h1M2 44h1M5 44h1M11 44h1M18 44h1M31 44h1M37 44h1M49 44h1M7 45h1M9 45h1M12 45h2M26 45h1M39 45h2M2 46h1M4 46h5M12 46h1M16 46h1M18 46h1M29 46h1M3 47h1M5 47h1M7 47h1M10 47h1M12 47h3M19 47h1M25 47h1M2 48h1M4 48h1M6 48h1M12 48h1M19 48h1M29 48h1M46 48h1M49 48h1M0 49h27M30 49h1M32 49h1M34 49h1M41 49h1M44 49h1M49 49h1"/><path stroke="#6cb2f5" d="M9 0h1M12 0h1M45 0h1M48 0h2M1 1h2M4 1h1M9 1h1M12 1h1M19 1h1M30 1h1M45 1h1M49 1h1M1 2h2M5 2h3M9 2h1M11 2h1M15 2h1M28 2h1M36 2h1M48 2h2M1 3h8M17 3h2M21 3h1M23 3h1M28 3h1M34 3h2M39 3h1M49 3h1M1 4h10M13 4h2M17 4h5M30 4h1M39 4h1M49 4h1M1 5h12M15 5h1M17 5h2M22 5h1M28 5h1M33 5h1M39 5h1M42 5h1M49 5h1M1 6h2M4 6h7M12 6h3M17 6h1M22 6h1M24 6h1M29 6h1M33 6h3M44 6h1M49 6h1M1 7h7M9 7h3M13 7h2M18 7h1M20 7h2M24 7h1M28 7h2M33 7h1M36 7h1M44 7h1M48 7h2M0 8h12M13 8h1M16 8h1M23 8h1M28 8h2M31 8h1M40 8h1M45 8h1M1 9h3M5 9h5M12 9h4M19 9h5M28 9h1M31 9h1M35 9h2M39 9h1M41 9h6M1 10h9M12 10h2M15 10h3M19 10h3M24 10h1M27 10h1M30 10h2M35 10h3M42 10h1M47 10h3M1 11h8M10 11h4M16 11h1M18 11h1M20 11h3M24 11h2M27 11h3M33 11h4M39 11h3M43 11h4M48 11h2M0 12h3M4 12h6M12 12h3M16 12h1M18 12h3M28 12h2M31 12h2M34 12h1M36 12h4M41 12h4M47 12h3M1 13h3M6 13h3M10 13h3M15 13h2M21 13h3M25 13h2M28 13h1M32 13h3M39 13h1M41 13h2M44 13h1M47 13h3M1 14h5M8 14h3M12 14h4M17 14h3M21 14h1M23 14h1M25 14h1M32 14h2M36 14h1M40 14h1M44 14h2M1 15h8M10 15h4M15 15h2M18 15h2M21 15h4M26 15h1M30 15h1M33 15h6M40 15h3M44 15h1M46 15h1M49 15h1M0 16h16M17 16h1M19 16h2M23 16h3M28 16h2M31 16h1M34 16h1M37 16h1M42 16h2M46 16h1M48 16h2M3 17h10M14 17h8M26 17h1M29 17h2M32 17h1M34 17h1M36 17h4M41 17h3M46 17h4M2 18h1M5 18h9M16 18h3M20 18h3M26 18h1M28 18h1M30 18h1M32 18h1M37 18h1M39 18h3M43 18h1M45 18h3M1 19h2M7 19h2M11 19h3M16 19h3M21 19h4M29 19h4M36 19h1M39 19h1M43 19h1M45 19h2M2 20h3M8 20h2M11 20h2M14 20h1M16 20h2M19 20h1M21 20h2M24 20h1M30 20h1M35 20h2M38 20h1M41 20h4M46 20h1M49 20h1M1 21h1M5 21h2M8 21h1M12 21h1M14 21h4M19 21h1M22 21h1M24 21h1M26 21h1M29 21h1M37 21h1M41 21h2M45 21h2M49 21h1M1 22h1M3 22h2M6 22h1M10 22h5M16 22h1M26 22h1M30 22h3M37 22h1M1 23h1M3 23h3M8 23h3M16 23h1M18 23h1M24 23h2M31 23h1M33 23h2M39 23h1M42 23h1M2 24h2M9 24h1M13 24h1M20 24h1M23 24h1M26 24h1M37 24h2M49 24h1M2 25h1M4 25h1M6 25h1M9 25h2M12 25h1M16 25h1M19 25h3M23 25h1M26 25h1M31 25h1M35 25h1M37 25h1M40 25h1M43 25h1M45 25h1M5 26h2M8 26h2M11 26h1M13 26h1M19 26h4M24 26h2M30 26h2M33 26h2M36 26h1M39 26h1M49 26h1M1 27h2M4 27h2M9 27h6M21 27h1M33 27h1M1 28h2M4 28h2M7 28h1M10 28h2M13 28h1M19 28h1M36 28h1M49 28h1M3 29h2M7 29h1M9 29h1M13 29h1M15 29h1M27 29h2M30 29h1M33 29h1M43 29h1M2 30h1M4 30h1M11 30h1M24 30h1M27 30h1M30 30h1M41 30h1M2 31h3M6 31h3M10 31h2M14 31h2M18 31h1M29 31h1M46 31h1M1 32h2M5 32h2M8 32h1M15 32h1M19 32h1M28 32h1M37 32h1M10 33h1M12 33h2M16 33h2M19 33h1M34 33h1M1 34h3M8 34h1M12 34h4M17 34h1M22 34h1M40 34h1M1 35h1M3 35h1M5 35h4M16 35h1M24 35h1M30 35h1M34 35h1M3 36h1M6 36h1M12 36h3M18 36h1M20 36h1M36 36h1M1 37h5M9 37h1M18 37h2M37 37h1M2 38h2M5 38h7M13 38h1M15 38h1M23 38h1M29 38h1M2 39h3M7 39h1M11 39h1M13 39h1M15 39h1M18 39h2M22 39h1M25 39h1M1 40h1M4 40h1M6 40h1M13 40h1M21 40h2M37 40h1M49 40h1M1 41h1M4 41h3M8 41h4M15 41h1M23 41h1M26 41h1M30 41h1M36 41h1M43 41h1M47 41h1M2 42h1M4 42h1M9 42h1M11 42h2M15 42h1M18 42h1M20 42h1M26 42h2M45 42h1M2 43h2M5 43h4M10 43h1M14 43h2M23 43h1M35 43h1M2 44h1M5 44h1M11 44h1M18 44h1M31 44h1M37 44h1M49 44h1M7 45h1M9 45h1M12 45h2M26 45h1M39 45h2M2 46h1M4 46h5M12 46h1M16 46h1M18 46h1M29 46h1M3 47h1M5 47h1M7 47h1M10 47h1M12 47h3M19 47h1M25 47h1M2 48h1M4 48h1M6 48h1M12 48h1M19 48h1M29 48h1M46 48h1M49 48h1M0 49h27M30 49h1M32 49h1M34 49h1M41 49h1M44 49h1M49 49h1"/><path stroke="#56acf6" d="M49 0h1M1 1h1M49 1h1M1 2h2M7 2h1M49 2h1M1 3h8M21 3h1M35 3h1M49 3h1M1 4h3M5 4h1M7 4h2M10 4h1M14 4h1M17 4h1M49 4h1M1 5h3M5 5h3M9 5h2M12 5h1M15 5h1M17 5h2M49 5h1M1 6h2M4 6h5M12 6h2M29 6h1M33 6h1M35 6h1M49 6h1M1 7h7M9 7h2M13 7h2M24 7h1M36 7h1M49 7h1M1 8h11M13 8h1M28 8h1M1 9h3M5 9h1M7 9h3M14 9h1M19 9h1M21 9h1M35 9h1M41 9h1M45 9h2M1 10h2M4 10h6M12 10h1M15 10h3M19 10h3M24 10h1M30 10h1M37 10h1M42 10h1M48 10h1M1 11h3M5 11h1M7 11h1M11 11h3M20 11h2M24 11h2M28 11h1M35 11h1M39 11h1M44 11h1M46 11h1M48 11h1M0 12h3M4 12h2M7 12h3M14 12h1M18 12h1M20 12h1M29 12h1M32 12h1M39 12h1M41 12h1M43 12h2M49 12h1M1 13h3M6 13h3M10 13h3M16 13h1M21 13h2M25 13h1M28 13h1M34 13h1M47 13h1M49 13h1M1 14h2M4 14h2M9 14h2M13 14h2M17 14h3M25 14h1M32 14h2M40 14h1M45 14h1M2 15h1M4 15h5M11 15h3M18 15h1M24 15h1M26 15h1M30 15h1M33 15h1M35 15h1M37 15h1M40 15h2M44 15h1M46 15h1M49 15h1M0 16h4M5 16h1M7 16h5M13 16h2M24 16h1M29 16h1M34 16h1M42 16h2M3 17h3M7 17h4M12 17h1M15 17h1M18 17h1M21 17h1M26 17h1M29 17h2M32 17h1M36 17h2M42 17h2M46 17h2M2 18h1M5 18h2M8 18h1M11 18h1M13 18h1M16 18h3M20 18h1M30 18h1M32 18h1M40 18h1M45 18h3M2 19h1M7 19h1M11 19h1M13 19h1M16 19h3M22 19h2M30 19h1M32 19h1M36 19h1M39 19h1M2 20h2M8 20h1M12 20h1M16 20h2M21 20h1M30 20h1M41 20h1M43 20h2M1 21h1M5 21h1M15 21h1M17 21h1M22 21h1M24 21h1M26 21h1M37 21h1M41 21h1M1 22h1M6 22h1M10 22h1M13 22h2M16 22h1M1 23h1M4 23h1M8 23h2M18 23h1M25 23h1M33 23h1M20 24h1M23 24h1M38 24h1M49 24h1M2 25h1M4 25h1M6 25h1M9 25h2M12 25h1M19 25h2M23 25h1M31 25h1M37 25h1M45 25h1M6 26h1M11 26h1M13 26h1M21 26h1M24 26h1M31 26h1M49 26h1M1 27h2M4 27h2M9 27h2M14 27h1M21 27h1M1 28h1M4 28h2M7 28h1M49 28h1M4 29h1M9 29h1M28 29h1M4 31h1M7 31h1M10 31h2M14 31h1M18 31h1M2 32h1M5 32h1M8 32h1M15 32h1M12 33h1M1 34h2M3 35h1M16 35h1M24 35h1M3 36h1M13 36h1M20 36h1M36 36h1M3 37h2M2 38h2M5 38h3M11 38h1M15 38h1M2 39h1M7 39h1M13 39h1M25 39h1M1 40h1M6 40h1M13 40h1M49 40h1M1 41h1M8 41h1M10 41h1M43 41h1M47 41h1M2 42h1M9 42h1M12 42h1M26 42h2M2 43h2M5 43h4M5 44h1M7 45h1M4 46h1M7 46h1M16 46h1M7 47h1M12 47h1M19 47h1M4 48h1M49 48h1M0 49h18M19 49h3M23 49h2M32 49h1M34 49h1M49 49h1"/><path stroke="#36a6f7" d="M49 0h1M1 1h1M49 1h1M1 2h2M7 2h1M49 2h1M1 3h8M21 3h1M35 3h1M49 3h1M1 4h3M5 4h1M7 4h2M10 4h1M14 4h1M17 4h1M49 4h1M1 5h3M5 5h3M9 5h2M12 5h1M15 5h1M17 5h2M49 5h1M1 6h2M4 6h5M12 6h2M29 6h1M33 6h1M35 6h1M49 6h1M1 7h7M9 7h2M13 7h2M24 7h1M36 7h1M49 7h1M1 8h11M13 8h1M28 8h1M1 9h3M5 9h1M7 9h3M14 9h1M19 9h1M21 9h1M35 9h1M41 9h1M45 9h2M1 10h2M4 10h6M12 10h1M15 10h3M19 10h3M24 10h1M30 10h1M37 10h1M42 10h1M48 10h1M1 11h3M5 11h1M7 11h1M11 11h3M20 11h2M24 11h2M28 11h1M35 11h1M39 11h1M44 11h1M46 11h1M48 11h1M0 12h3M4 12h2M7 12h3M14 12h1M18 12h1M20 12h1M29 12h1M32 12h1M39 12h1M41 12h1M43 12h2M49 12h1M1 13h3M6 13h3M10 13h3M16 13h1M21 13h2M25 13h1M28 13h1M34 13h1M47 13h1M49 13h1M1 14h2M4 14h2M9 14h2M13 14h2M17 14h3M25 14h1M32 14h2M40 14h1M45 14h1M2 15h1M4 15h5M11 15h3M18 15h1M24 15h1M26 15h1M30 15h1M33 15h1M35 15h1M37 15h1M40 15h2M44 15h1M46 15h1M49 15h1M0 16h4M5 16h1M7 16h5M13 16h2M24 16h1M29 16h1M34 16h1M42 16h2M3 17h3M7 17h4M12 17h1M15 17h1M18 17h1M21 17h1M26 17h1M29 17h2M32 17h1M36 17h2M42 17h2M46 17h2M2 18h1M5 18h2M8 18h1M11 18h1M13 18h1M16 18h3M20 18h1M30 18h1M32 18h1M40 18h1M45 18h3M2 19h1M7 19h1M11 19h1M13 19h1M16 19h3M22 19h2M30 19h1M32 19h1M36 19h1M39 19h1M2 20h2M8 20h1M12 20h1M16 20h2M21 20h1M30 20h1M41 20h1M43 20h2M1 21h1M5 21h1M15 21h1M17 21h1M22 21h1M24 21h1M26 21h1M37 21h1M41 21h1M1 22h1M6 22h1M10 22h1M13 22h2M16 22h1M1 23h1M4 23h1M8 23h2M18 23h1M25 23h1M33 23h1M20 24h1M23 24h1M38 24h1M49 24h1M2 25h1M4 25h1M6 25h1M9 25h2M12 25h1M19 25h2M23 25h1M31 25h1M37 25h1M45 25h1M6 26h1M11 26h1M13 26h1M21 26h1M24 26h1M31 26h1M49 26h1M1 27h2M4 27h2M9 27h2M14 27h1M21 27h1M1 28h1M4 28h2M7 28h1M49 28h1M4 29h1M9 29h1M28 29h1M4 31h1M7 31h1M10 31h2M14 31h1M18 31h1M2 32h1M5 32h1M8 32h1M15 32h1M12 33h1M1 34h2M3 35h1M16 35h1M24 35h1M3 36h1M13 36h1M20 36h1M36 36h1M3 37h2M2 38h2M5 38h3M11 38h1M15 38h1M2 39h1M7 39h1M13 39h1M25 39h1M1 40h1M6 40h1M13 40h1M49 40h1M1 41h1M8 41h1M10 41h1M43 41h1M47 41h1M2 42h1M9 42h1M12 42h1M26 42h2M2 43h2M5 43h4M5 44h1M7 45h1M4 46h1M7 46h1M16 46h1M7 47h1M12 47h1M19 47h1M4 48h1M49 48h1M0 49h18M19 49h3M23 49h2M32 49h1M34 49h1M49 49h1"/><path stroke="#2fa0f0" d="M49 1h1M1 2h2M7 2h1M49 2h1M1 3h5M7 3h2M49 3h1M1 4h2M5 4h1M7 4h2M10 4h1M14 4h1M49 4h1M1 5h3M5 5h2M9 5h1M18 5h1M49 5h1M1 6h2M6 6h2M49 6h1M1 7h6M10 7h1M13 7h1M24 7h1M49 7h1M1 8h6M13 8h1M1 9h3M9 9h1M19 9h1M46 9h1M1 10h2M4 10h2M7 10h1M9 10h1M12 10h1M15 10h1M19 10h3M24 10h1M37 10h1M42 10h1M1 11h3M7 11h1M12 11h1M28 11h1M39 11h1M1 12h2M5 12h1M43 12h1M1 13h3M6 13h1M10 13h2M21 13h1M49 13h1M1 14h2M4 14h2M9 14h1M13 14h2M2 15h1M4 15h1M8 15h1M12 15h2M18 15h1M24 15h1M41 15h1M0 16h1M2 16h2M7 16h1M11 16h1M13 16h1M24 16h1M29 16h1M42 16h2M7 17h4M12 17h1M15 17h1M18 17h1M21 17h1M29 17h2M32 17h1M2 18h1M8 18h1M11 18h1M18 18h1M20 18h1M47 18h1M7 19h1M18 19h1M30 19h1M32 19h1M39 19h1M30 20h1M43 20h1M1 21h1M15 21h1M17 21h1M22 21h1M10 22h1M13 22h1M4 23h1M9 23h1M33 23h1M2 25h1M6 25h1M9 25h1M19 25h1M21 26h1M31 26h1M1 27h1M5 27h1M9 27h1M14 27h1M21 27h1M4 28h2M49 28h1M10 31h1M5 32h1M8 32h1M3 35h1M13 36h1M15 38h1M2 39h1M1 40h1M6 40h1M13 40h1M1 41h1M9 42h1M2 43h2M8 43h1M7 45h1M7 46h1M7 47h1M0 49h18M19 49h2M24 49h1M49 49h1"/><path stroke="#2b9ae7" d="M49 1h1M1 2h2M7 2h1M49 2h1M1 3h5M7 3h2M49 3h1M1 4h2M5 4h1M7 4h2M10 4h1M14 4h1M49 4h1M1 5h3M5 5h2M9 5h1M18 5h1M49 5h1M1 6h2M6 6h2M49 6h1M1 7h6M10 7h1M13 7h1M24 7h1M49 7h1M1 8h6M13 8h1M1 9h3M9 9h1M19 9h1M46 9h1M1 10h2M4 10h2M7 10h1M9 10h1M12 10h1M15 10h1M19 10h3M24 10h1M37 10h1M42 10h1M1 11h3M7 11h1M12 11h1M28 11h1M39 11h1M1 12h2M5 12h1M43 12h1M1 13h3M6 13h1M10 13h2M21 13h1M49 13h1M1 14h2M4 14h2M9 14h1M13 14h2M2 15h1M4 15h1M8 15h1M12 15h2M18 15h1M24 15h1M41 15h1M0 16h1M2 16h2M7 16h1M11 16h1M13 16h1M24 16h1M29 16h1M42 16h2M7 17h4M12 17h1M15 17h1M18 17h1M21 17h1M29 17h2M32 17h1M2 18h1M8 18h1M11 18h1M18 18h1M20 18h1M47 18h1M7 19h1M18 19h1M30 19h1M32 19h1M39 19h1M30 20h1M43 20h1M1 21h1M15 21h1M17 21h1M22 21h1M10 22h1M13 22h1M4 23h1M9 23h1M33 23h1M2 25h1M6 25h1M9 25h1M19 25h1M21 26h1M31 26h1M1 27h1M5 27h1M9 27h1M14 27h1M21 27h1M4 28h2M49 28h1M10 31h1M5 32h1M8 32h1M3 35h1M13 36h1M15 38h1M2 39h1M1 40h1M6 40h1M13 40h1M1 41h1M9 42h1M2 43h2M8 43h1M7 45h1M7 46h1M7 47h1M0 49h18M19 49h2M24 49h1M49 49h1"/><path stroke="#2a93dd" d="M49 1h1M1 2h2M7 2h1M49 2h1M1 3h3M49 3h1M1 4h2M5 4h1M7 4h2M10 4h1M1 5h2M5 5h2M9 5h1M49 5h1M1 6h2M7 6h1M1 7h3M10 7h1M24 7h1M49 7h1M1 8h6M13 8h1M1 9h3M9 9h1M1 10h2M4 10h2M12 10h1M20 10h1M24 10h1M1 11h3M7 11h1M1 12h2M5 12h1M43 12h1M1 13h3M11 13h1M21 13h1M49 13h1M2 14h1M9 14h1M13 14h2M2 15h1M8 15h1M13 15h1M24 15h1M41 15h1M3 16h1M29 16h1M42 16h1M8 17h3M12 17h1M15 17h1M18 17h1M21 17h1M2 18h1M11 18h1M47 18h1M43 20h1M17 21h1M21 26h1M9 27h1M14 27h1M21 27h1M4 28h1M49 28h1M1 40h1M2 43h1M0 49h10M12 49h6M19 49h1M49 49h1"/><path stroke="#2b8dd3" d="M49 1h1M1 2h2M7 2h1M49 2h1M1 3h3M49 3h1M1 4h2M5 4h1M7 4h2M10 4h1M1 5h2M5 5h2M9 5h1M49 5h1M1 6h2M7 6h1M1 7h3M10 7h1M24 7h1M49 7h1M1 8h6M13 8h1M1 9h3M9 9h1M1 10h2M4 10h2M12 10h1M20 10h1M24 10h1M1 11h3M7 11h1M1 12h2M5 12h1M43 12h1M1 13h3M11 13h1M21 13h1M49 13h1M2 14h1M9 14h1M13 14h2M2 15h1M8 15h1M13 15h1M24 15h1M41 15h1M3 16h1M29 16h1M42 16h1M8 17h3M12 17h1M15 17h1M18 17h1M21 17h1M2 18h1M11 18h1M47 18h1M43 20h1M17 21h1M21 26h1M9 27h1M14 27h1M21 27h1M4 28h1M49 28h1M1 40h1M2 43h1M0 49h10M12 49h6M19 49h1M49 49h1"/><path stroke="#2e86c8" d="M49 1h1M1 2h2M7 2h1M49 2h1M1 3h3M49 3h1M1 4h2M5 4h1M7 4h2M10 4h1M1 5h2M5 5h2M9 5h1M49 5h1M1 6h2M7 6h1M1 7h3M10 7h1M24 7h1M49 7h1M1 8h6M13 8h1M1 9h3M9 9h1M1 10h2M4 10h2M12 10h1M20 10h1M24 10h1M1 11h3M7 11h1M1 12h2M5 12h1M43 12h1M1 13h3M11 13h1M21 13h1M49 13h1M2 14h1M9 14h1M13 14h2M2 15h1M8 15h1M13 15h1M24 15h1M41 15h1M3 16h1M29 16h1M42 16h1M8 17h3M12 17h1M15 17h1M18 17h1M21 17h1M2 18h1M11 18h1M47 18h1M43 20h1M17 21h1M21 26h1M9 27h1M14 27h1M21 27h1M4 28h1M49 28h1M1 40h1M2 43h1M0 49h10M12 49h6M19 49h1M49 49h1"/><path stroke="#3180bd" d="M49 1h1M2 2h1M1 3h3M49 3h1M1 4h1M5 4h1M7 4h1M10 4h1M1 5h2M6 5h1M9 5h1M49 5h1M1 6h2M1 7h2M10 7h1M1 8h3M5 8h2M1 9h3M1 10h2M5 10h1M12 10h1M1 11h2M7 11h1M1 12h1M1 13h1M11 13h1M21 13h1M2 14h1M9 14h1M13 14h2M13 15h1M24 15h1M8 17h1M12 17h1M47 18h1M9 27h1M0 49h10M12 49h4M49 49h1"/><path stroke="#347ab3" d="M49 1h1M2 2h1M1 3h3M49 3h1M1 4h1M5 4h1M7 4h1M10 4h1M1 5h2M6 5h1M9 5h1M49 5h1M1 6h2M1 7h2M10 7h1M1 8h3M5 8h2M1 9h3M1 10h2M5 10h1M12 10h1M1 11h2M7 11h1M1 12h1M1 13h1M11 13h1M21 13h1M2 14h1M9 14h1M13 14h2M13 15h1M24 15h1M8 17h1M12 17h1M47 18h1M9 27h1M0 49h10M12 49h4M49 49h1"/><path stroke="#3773a7" d="M49 1h1M2 2h1M1 3h3M49 3h1M1 4h1M5 4h1M7 4h1M1 5h2M6 5h1M49 5h1M1 6h2M2 7h1M1 8h3M6 8h1M1 9h2M1 10h2M5 10h1M1 11h2M1 12h1M1 13h1M2 14h1M9 14h1M13 15h1M8 17h1M47 18h1M0 49h10M12 49h4M49 49h1"/><path stroke="#3a6d9c" d="M49 1h1M2 2h1M1 3h3M49 3h1M1 4h1M5 4h1M7 4h1M1 5h2M6 5h1M49 5h1M1 6h2M2 7h1M1 8h3M6 8h1M1 9h2M1 10h2M5 10h1M1 11h2M1 12h1M1 13h1M2 14h1M9 14h1M13 15h1M8 17h1M47 18h1M0 49h10M12 49h4M49 49h1"/><path stroke="#3c6690" d="M49 1h1M2 2h1M1 3h2M1 4h1M5 4h1M1 5h2M49 5h1M1 6h2M2 7h1M1 8h3M6 8h1M1 9h2M1 10h1M2 11h1M1 13h1M13 15h1M8 17h1M47 18h1M0 49h10M12 49h1M15 49h1M49 49h1"/><path stroke="#3d6084" d="M49 1h1M2 2h1M1 3h2M1 4h1M5 4h1M1 5h2M49 5h1M1 6h2M2 7h1M1 8h3M6 8h1M1 9h2M1 10h1M2 11h1M1 13h1M13 15h1M8 17h1M47 18h1M0 49h10M12 49h1M15 49h1M49 49h1"/><path stroke="#3d5a79" d="M49 1h1M2 2h1M2 3h1M1 4h1M1 5h2M1 6h1M2 7h1M2 8h1M1 10h1M1 13h1M13 15h1M0 49h7M8 49h2M12 49h1M15 49h1M49 49h1"/><path stroke="#3d546e" d="M49 1h1M2 2h1M2 3h1M1 4h1M1 5h2M1 6h1M2 7h1M2 8h1M1 10h1M1 13h1M13 15h1M0 49h7M8 49h2M12 49h1M15 49h1M49 49h1"/></g></g>
<text transform="translate(142.60,500.00) scale(0.1038)" text-anchor="middle" stroke="#2b2b2b" stroke-width="0.5" fill="#2b2b2b">0.0</text>
<text transform="translate(159.96,500.00) scale(0.1038)" text-anchor="middle" stroke="#2b2b2b" stroke-width="0.5" fill="#2b2b2b">0.2</text>
<text transform="translate(177.32,500.00) scale(0.1038)" text-anchor="middle" stroke="#2b2b2b" stroke-width="0.5" fill="#2b2b2b">0.4</text>
<text transform="translate(194.68,500.00) scale(0.1038)" text-anchor="middle" stroke="#2b2b2b" stroke-width="0.5" fill="#2b2b2b">0.6</text>
<text transform="translate(212.04,500.00) scale(0.1038)" text-anchor="middle" stroke="#2b2b2b" stroke-width="0.5" fill="#2b2b2b">0.8</text>
<text transform="translate(229.40,500.00) scale(0.1038)" text-anchor="middle" stroke="#2b2b2b" stroke-width="0.5" fill="#2b2b2b">1.0</text>
<text transform="translate(138.60,479.05) scale(0.1038)" text-anchor="end" stroke="#2b2b2b" stroke-width="0.5" fill="#2b2b2b">0.2</text>
<text transform="translate(138.60,462.20) scale(0.1038)" text-anchor="end" stroke="#2b2b2b" stroke-width="0.5" fill="#2b2b2b">0.4</text>
<text transform="translate(138.60,445.35) scale(0.1038)" text-anchor="end" stroke="#2b2b2b" stroke-width="0.5" fill="#2b2b2b">0.6</text>
<text transform="translate(138.60,428.50) scale(0.1038)" text-anchor="end" stroke="#2b2b2b" stroke-width="0.5" fill="#2b2b2b">0.8</text>
<text transform="translate(138.60,411.65) scale(0.1038)" text-anchor="end" stroke="#2b2b2b" stroke-width="0.5" fill="#2b2b2b">1.0</text>
<path d="M142.60 494.30v1.5M159.96 494.30v1.5M177.32 494.30v1.5M194.68 494.30v1.5M212.04 494.30v1.5M229.40 494.30v1.5M139.30 477.50h-1.5M139.30 460.65h-1.5M139.30 443.80h-1.5M139.30 426.95h-1.5M139.30 410.10h-1.5" stroke="#222" stroke-width="0.55" fill="none"/>
<text transform="translate(187.30,505.60) scale(0.1038)" text-anchor="middle" stroke="#2b2b2b" stroke-width="0.5" fill="#2b2b2b">width</text>
<text transform="translate(129.00,450.20) rotate(-90) scale(0.1038)" text-anchor="middle" stroke="#2b2b2b" stroke-width="0.5" fill="#2b2b2b">height</text>
<path fill="none" stroke="#ff6464" stroke-width="0.25" opacity="0.05" d="M153.0 307.1h70.1v34.7h-70.1zM167.9 298.5h40.1v52.1h-40.1zM149.3 312.6h77.5v23.7h-77.5zM177.0 295.5h22.0v58.1h-22.0zM161.3 303.0h53.4v42.9h-53.4zM182.0 317.6h12.0v13.8h-12.0zM185.5 316.1h5.1v16.8h-5.1zM162.9 308.7h50.2v31.7h-50.2zM179.6 308.7h16.8v31.5h-16.8zM149.8 311.7h76.3v25.7h-76.3zM166.3 303.5h43.5v41.9h-43.5zM147.4 303.9h81.3v41.2h-81.3zM173.2 298.6h29.6v51.7h-29.6zM148.9 312.9h78.3v23.3h-78.3zM176.4 283.2h23.2v82.6h-23.2zM170.6 282.8h34.8v83.4h-34.8zM177.0 290.6h22.0v67.8h-22.0zM164.0 314.7h48.0v19.7h-48.0zM172.0 315.0h32.0v19.0h-32.0zM149.2 303.1h77.5v42.7h-77.5zM153.7 317.3h68.5v14.4h-68.5zM148.6 302.4h78.7v44.2h-78.7zM180.7 303.6h14.6v41.8h-14.6zM148.0 312.1h80.1v24.9h-80.1zM151.0 311.5h73.9v26.0h-73.9zM151.8 295.9h72.3v57.2h-72.3zM152.9 305.1h70.3v38.7h-70.3zM149.6 299.9h76.8v49.3h-76.8zM169.6 283.8h36.9v81.3h-36.9zM169.9 297.9h36.1v53.3h-36.1zM148.4 306.4h79.2v36.2h-79.2zM170.7 300.4h34.5v48.2h-34.5zM180.6 286.7h14.8v75.6h-14.8zM182.1 306.9h11.9v35.2h-11.9zM159.2 296.1h57.5v56.8h-57.5zM160.1 313.9h55.9v21.2h-55.9zM182.5 287.5h10.9v74.0h-10.9zM160.6 300.9h54.9v47.1h-54.9zM169.3 282.8h37.4v83.4h-37.4zM167.8 285.4h40.5v78.2h-40.5zM155.7 305.1h64.6v38.9h-64.6zM161.7 317.3h52.5v14.4h-52.5zM154.0 309.4h68.1v30.1h-68.1zM178.2 314.1h19.5v20.8h-19.5zM175.2 300.5h25.6v47.9h-25.6zM176.8 314.3h22.5v20.5h-22.5zM168.4 317.1h39.2v14.7h-39.2zM158.9 293.3h58.2v62.4h-58.2zM178.3 295.6h19.3v57.8h-19.3zM150.2 318.3h75.6v12.4h-75.6zM177.3 291.0h21.5v67.0h-21.5zM159.2 308.2h57.7v32.6h-57.7zM183.3 303.3h9.4v42.3h-9.4zM161.5 287.5h53.0v73.9h-53.0zM166.4 289.5h43.2v70.0h-43.2zM169.6 310.5h36.7v28.0h-36.7zM148.0 315.3h80.1v18.5h-80.1zM145.9 303.6h84.2v41.8h-84.2zM148.4 301.9h79.1v45.2h-79.1zM146.8 319.6h82.4v9.8h-82.4zM153.1 300.2h69.8v48.5h-69.8zM156.2 290.6h63.6v67.7h-63.6zM175.2 311.3h25.7v26.4h-25.7zM148.7 304.8h78.7v39.4h-78.7zM164.4 309.0h47.2v31.0h-47.2zM155.7 318.7h64.5v11.6h-64.5zM169.6 314.8h36.7v19.5h-36.7zM154.5 314.6h67.0v19.7h-67.0zM173.9 307.0h28.3v34.9h-28.3zM150.5 316.6h75.0v15.8h-75.0zM176.1 306.4h23.8v36.2h-23.8zM169.6 311.5h36.8v26.0h-36.8zM152.8 304.6h70.4v39.8h-70.4zM181.8 307.5h12.4v33.9h-12.4zM177.9 300.2h20.2v48.7h-20.2zM168.0 301.6h40.0v45.8h-40.0zM165.7 300.3h44.6v48.4h-44.6zM167.7 305.2h40.6v38.5h-40.6zM162.3 294.1h51.4v60.7h-51.4zM184.6 316.1h6.9v16.9h-6.9zM172.9 307.0h30.2v35.0h-30.2zM147.0 317.6h81.9v13.7h-81.9zM148.3 319.6h79.5v9.8h-79.5zM153.1 313.8h69.8v21.4h-69.8zM182.8 306.7h10.3v35.5h-10.3zM148.5 302.8h79.0v43.5h-79.0zM155.6 312.0h64.8v25.0h-64.8zM154.3 309.9h67.4v29.1h-67.4zM148.7 305.7h78.5v37.5h-78.5zM185.1 309.5h5.7v30.1h-5.7zM177.7 310.9h20.5v27.2h-20.5zM147.5 317.2h81.0v14.5h-81.0zM176.0 305.3h24.0v38.4h-24.0zM150.1 313.5h75.7v22.0h-75.7zM181.1 306.7h13.8v35.7h-13.8zM144.7 313.5h86.6v22.1h-86.6zM156.8 315.0h62.4v19.0h-62.4zM153.0 317.8h70.1v13.4h-70.1zM174.5 286.1h27.0v76.9h-27.0zM155.9 298.2h64.2v52.7h-64.2zM180.3 306.1h15.3v36.8h-15.3zM167.9 282.6h40.1v83.7h-40.1zM163.5 305.6h49.1v37.8h-49.1zM180.1 297.4h15.7v54.2h-15.7zM177.6 317.2h20.9v14.6h-20.9zM158.8 318.1h58.5v12.9h-58.5zM147.0 315.1h82.0v18.9h-82.0zM154.1 314.4h67.8v20.1h-67.8zM149.8 314.6h76.5v19.7h-76.5zM179.4 294.1h17.2v60.9h-17.2zM151.1 315.1h73.9v18.8h-73.9zM180.8 315.0h14.4v18.9h-14.4zM166.6 289.2h42.8v70.7h-42.8zM170.5 298.2h35.1v52.6h-35.1zM167.7 290.9h40.6v67.3h-40.6zM146.0 303.8h83.9v41.4h-83.9zM154.2 306.8h67.5v35.3h-67.5zM156.9 316.0h62.2v17.0h-62.2zM146.7 303.5h82.7v42.0h-82.7zM177.6 282.9h20.7v83.2h-20.7zM166.1 288.5h43.7v72.0h-43.7zM163.0 319.1h50.0v10.8h-50.0zM144.5 309.0h87.0v30.9h-87.0zM184.1 316.1h7.9v16.8h-7.9zM166.4 311.4h43.3v26.2h-43.3zM178.4 283.2h19.1v82.5h-19.1zM163.0 304.2h50.1v40.6h-50.1zM173.2 300.2h29.7v48.5h-29.7zM162.7 308.6h50.7v31.7h-50.7zM163.1 319.4h49.9v10.1h-49.9zM172.6 314.4h30.8v20.2h-30.8zM151.8 312.8h72.4v23.4h-72.4zM150.1 304.3h75.7v40.4h-75.7zM185.5 319.3h5.1v10.5h-5.1zM166.8 312.3h42.4v24.3h-42.4zM156.3 300.5h63.3v48.1h-63.3zM146.8 303.9h82.4v41.1h-82.4zM147.3 303.9h81.4v41.1h-81.4zM185.5 309.8h5.1v29.5h-5.1zM178.0 286.9h20.0v75.2h-20.0zM151.1 297.9h73.8v53.2h-73.8zM153.6 312.4h68.8v24.2h-68.8zM173.2 300.1h29.6v48.7h-29.6zM152.7 308.9h70.5v31.2h-70.5zM159.4 308.1h57.1v32.8h-57.1zM148.6 319.6h78.8v9.9h-78.8zM182.7 307.1h10.7v34.9h-10.7zM170.3 289.0h35.4v71.0h-35.4zM165.8 299.9h44.4v49.3h-44.4zM173.9 292.6h28.2v63.8h-28.2zM163.6 297.2h48.7v54.5h-48.7zM146.4 316.7h83.3v15.6h-83.3zM167.9 308.8h40.2v31.5h-40.2zM160.4 306.7h55.3v35.7h-55.3zM166.1 301.5h43.9v46.1h-43.9zM147.5 302.6h80.9v43.8h-80.9zM166.4 300.6h43.3v47.7h-43.3zM156.3 314.4h63.4v20.1h-63.4zM168.4 285.9h39.2v77.2h-39.2zM161.2 319.6h53.7v9.7h-53.7zM167.1 303.9h41.9v41.2h-41.9zM167.2 307.1h41.6v34.8h-41.6zM145.2 318.1h85.7v12.8h-85.7zM180.7 315.9h14.6v17.1h-14.6zM145.3 305.4h85.5v38.2h-85.5zM153.6 293.0h68.8v63.0h-68.8zM184.1 313.7h7.8v21.6h-7.8zM146.2 307.4h83.6v34.3h-83.6zM179.0 283.5h17.9v82.1h-17.9zM153.1 296.3h69.8v56.4h-69.8zM178.9 307.2h18.3v34.6h-18.3zM167.8 288.3h40.5v72.4h-40.5zM147.6 305.4h80.9v38.3h-80.9zM145.9 313.6h84.2v21.9h-84.2zM146.8 318.8h82.4v11.3h-82.4zM170.2 287.4h35.7v74.1h-35.7zM170.0 310.4h36.1v28.1h-36.1zM164.5 286.1h47.0v76.8h-47.0zM148.6 315.3h78.8v18.4h-78.8zM168.6 298.9h38.7v51.2h-38.7zM174.8 286.9h26.4v75.2h-26.4zM155.3 306.7h65.4v35.6h-65.4zM179.2 288.1h17.6v72.9h-17.6zM152.1 313.8h71.9v21.4h-71.9zM179.9 299.8h16.2v49.4h-16.2zM148.4 314.8h79.3v19.4h-79.3zM153.9 305.3h68.2v38.4h-68.2zM185.4 313.8h5.2v21.3h-5.2zM168.6 288.9h38.8v71.1h-38.8zM169.0 318.9h38.0v11.2h-38.0zM174.3 317.9h27.4v13.1h-27.4zM151.0 311.3h74.0v26.5h-74.0zM151.4 316.3h73.3v16.4h-73.3zM166.2 306.2h43.7v36.6h-43.7zM165.9 316.4h44.1v16.2h-44.1zM153.8 306.3h68.4v36.3h-68.4zM151.3 315.7h73.4v17.6h-73.4zM173.0 315.0h30.0v19.1h-30.0zM164.0 311.2h48.0v26.7h-48.0zM169.1 304.8h37.8v39.5h-37.8zM171.0 311.0h34.0v27.0h-34.0zM154.1 314.7h67.9v19.6h-67.9zM176.4 307.0h23.3v34.9h-23.3zM161.5 315.1h52.9v18.8h-52.9zM159.0 304.9h58.0v39.3h-58.0zM145.9 308.4h84.2v32.1h-84.2zM181.2 287.9h13.6v73.1h-13.6zM156.9 317.2h62.2v14.6h-62.2zM174.1 303.8h27.7v41.4h-27.7zM158.6 306.5h58.7v35.9h-58.7zM173.3 289.5h29.4v70.0h-29.4zM153.7 305.3h68.7v38.4h-68.7zM148.4 316.2h79.2v16.6h-79.2zM182.7 309.5h10.7v30.1h-10.7zM180.6 300.1h14.7v48.7h-14.7zM151.2 307.7h73.6v33.6h-73.6zM165.5 303.8h44.9v41.3h-44.9zM148.5 311.8h79.0v25.3h-79.0zM149.7 313.9h76.6v21.1h-76.6zM166.4 284.6h43.1v79.8h-43.1zM162.1 314.0h51.9v21.0h-51.9zM159.7 306.0h56.6v37.0h-56.6zM156.9 298.6h62.1v51.9h-62.1zM163.3 298.3h49.3v52.3h-49.3zM182.6 316.0h10.9v17.1h-10.9zM158.0 299.8h60.0v49.4h-60.0zM172.0 294.3h32.0v60.4h-32.0zM171.4 315.9h33.3v17.1h-33.3zM148.1 313.1h79.7v22.8h-79.7zM170.8 298.1h34.4v52.8h-34.4zM153.4 311.1h69.1v26.8h-69.1zM181.3 296.0h13.5v56.9h-13.5zM151.1 307.0h73.9v35.1h-73.9zM182.4 316.0h11.1v16.9h-11.1zM151.4 319.5h73.2v10.1h-73.2zM148.7 309.4h78.6v30.2h-78.6zM173.6 305.5h28.9v37.9h-28.9zM168.5 304.1h39.1v40.8h-39.1zM162.3 310.2h51.4v28.6h-51.4zM148.2 307.3h79.6v34.5h-79.6zM184.2 317.5h7.7v13.9h-7.7zM182.4 296.2h11.2v56.5h-11.2zM170.9 318.4h34.2v12.3h-34.2zM154.9 300.4h66.2v48.2h-66.2zM155.3 307.7h65.4v33.7h-65.4zM149.0 299.3h77.9v50.4h-77.9zM147.7 308.4h80.5v32.1h-80.5zM184.5 312.5h7.0v24.0h-7.0zM183.6 303.2h8.7v42.6h-8.7zM160.1 297.1h55.9v54.7h-55.9zM169.0 314.2h37.9v20.5h-37.9zM145.0 315.4h86.0v18.2h-86.0zM184.0 303.5h7.9v42.0h-7.9zM168.6 316.9h38.8v15.2h-38.8zM147.0 306.4h82.0v36.3h-82.0zM174.5 318.4h27.1v12.2h-27.1zM164.2 311.3h47.5v26.4h-47.5zM173.5 305.8h28.9v37.3h-28.9zM160.9 318.1h54.2v12.8h-54.2zM168.3 317.0h39.5v15.0h-39.5zM150.7 307.1h74.6v34.8h-74.6zM178.7 314.9h18.5v19.3h-18.5zM164.6 312.1h46.7v24.8h-46.7zM145.1 312.2h85.8v24.6h-85.8zM185.0 316.1h5.9v16.9h-5.9zM173.9 307.3h28.3v34.4h-28.3zM167.2 291.9h41.6v65.2h-41.6zM150.5 300.5h75.1v48.0h-75.1zM168.2 297.3h39.6v54.4h-39.6zM169.7 313.0h36.6v22.9h-36.6zM178.6 305.1h18.8v38.9h-18.8zM174.0 313.0h28.0v22.9h-28.0zM170.0 313.0h36.0v22.9h-36.0zM148.0 312.8h80.0v23.3h-80.0zM162.9 316.6h50.2v15.7h-50.2zM151.7 313.7h72.6v21.6h-72.6zM150.9 314.5h74.3v20.0h-74.3zM175.4 303.7h25.3v41.6h-25.3zM153.4 295.1h69.1v58.8h-69.1zM169.0 303.7h37.9v41.6h-37.9zM171.1 302.8h33.8v43.5h-33.8zM160.2 295.1h55.7v58.7h-55.7zM153.1 307.5h69.8v34.0h-69.8zM177.0 303.3h21.9v42.4h-21.9zM164.3 291.7h47.5v65.5h-47.5zM156.3 306.4h63.4v36.2h-63.4zM163.6 313.1h48.9v22.9h-48.9zM183.5 315.1h9.0v18.9h-9.0zM161.8 317.8h52.5v13.3h-52.5zM147.5 309.3h81.0v30.5h-81.0zM156.0 306.8h64.0v35.3h-64.0zM183.1 309.1h9.8v30.8h-9.8zM179.8 285.4h16.4v78.2h-16.4zM145.2 309.3h85.6v30.5h-85.6zM176.9 306.5h22.2v35.9h-22.2zM184.9 311.7h6.2v25.6h-6.2zM183.1 319.2h9.8v10.5h-9.8zM153.7 304.2h68.6v40.6h-68.6zM181.3 316.7h13.4v15.7h-13.4zM159.4 317.3h57.3v14.4h-57.3zM176.0 302.9h23.9v43.1h-23.9zM153.0 305.8h69.9v37.3h-69.9zM160.7 305.5h54.6v38.0h-54.6zM151.7 302.9h72.6v43.3h-72.6zM181.7 297.3h12.6v54.3h-12.6zM180.0 292.8h15.9v63.5h-15.9zM152.7 301.7h70.6v45.5h-70.6zM165.8 313.9h44.4v21.1h-44.4zM176.9 298.1h22.1v52.8h-22.1zM173.7 319.0h28.6v11.0h-28.6zM162.8 298.5h50.5v52.0h-50.5zM154.4 303.3h67.3v42.4h-67.3zM159.9 290.7h56.2v67.7h-56.2zM167.3 316.4h41.4v16.2h-41.4zM178.2 304.8h19.5v39.4h-19.5zM150.4 319.0h75.2v10.9h-75.2zM179.3 282.1h17.5v84.8h-17.5zM151.4 301.6h73.3v45.8h-73.3zM151.0 316.1h74.1v16.7h-74.1zM154.2 301.5h67.6v46.0h-67.6zM170.1 299.8h35.7v49.5h-35.7zM149.7 309.7h76.7v29.5h-76.7zM152.7 315.6h70.6v17.9h-70.6zM152.9 311.7h70.2v25.6h-70.2zM146.0 308.2h83.9v32.6h-83.9zM146.3 306.9h83.5v35.1h-83.5zM177.8 301.5h20.3v46.1h-20.3zM181.2 314.9h13.6v19.1h-13.6zM169.5 308.0h36.9v32.9h-36.9zM179.1 302.7h17.8v43.7h-17.8zM164.2 304.4h47.6v40.3h-47.6zM146.0 309.0h84.1v30.9h-84.1zM152.8 300.3h70.4v48.3h-70.4zM153.0 299.6h70.1v49.8h-70.1zM166.0 315.9h44.0v17.3h-44.0zM179.4 319.1h17.3v10.8h-17.3zM164.6 309.0h46.8v31.1h-46.8zM171.1 292.5h33.8v64.1h-33.8zM150.4 315.8h75.1v17.4h-75.1zM147.0 312.8h82.0v23.4h-82.0zM168.9 311.0h38.1v27.1h-38.1zM163.5 291.9h49.1v65.2h-49.1zM147.3 301.2h81.4v46.5h-81.4zM169.5 305.4h37.0v38.1h-37.0zM149.7 314.6h76.7v19.8h-76.7zM151.1 316.0h73.8v17.1h-73.8zM146.3 308.1h83.4v32.8h-83.4zM144.6 307.5h86.7v33.9h-86.7zM162.2 299.8h51.6v49.4h-51.6zM150.5 302.7h74.9v43.5h-74.9zM164.3 315.8h47.4v17.4h-47.4zM152.5 315.7h71.1v17.6h-71.1zM154.4 313.7h67.2v21.5h-67.2zM157.8 315.0h60.4v18.9h-60.4zM171.9 298.5h32.1v52.0h-32.1zM175.8 305.4h24.5v38.2h-24.5zM161.4 313.1h53.1v22.8h-53.1zM151.8 314.2h72.4v20.6h-72.4zM153.4 301.1h69.2v46.7h-69.2zM147.1 303.2h81.8v42.6h-81.8zM175.1 305.0h25.9v39.0h-25.9zM146.8 304.8h82.5v39.3h-82.5zM172.4 294.5h31.1v60.0h-31.1zM159.9 306.1h56.2v36.9h-56.2zM147.5 304.5h81.1v40.1h-81.1zM169.3 319.7h37.5v9.7h-37.5zM156.1 293.0h63.7v63.0h-63.7zM171.7 299.7h32.6v49.6h-32.6zM149.4 314.6h77.2v19.7h-77.2zM184.4 311.8h7.3v25.3h-7.3zM159.7 311.0h56.6v27.1h-56.6zM167.9 292.8h40.2v63.3h-40.2zM154.2 305.6h67.5v37.8h-67.5zM162.6 319.0h50.8v11.0h-50.8zM152.6 308.1h70.7v32.9h-70.7zM152.2 310.5h71.6v27.9h-71.6zM177.3 289.2h21.4v70.6h-21.4zM145.7 318.3h84.6v12.4h-84.6zM155.1 302.5h65.9v44.0h-65.9zM175.0 303.8h25.9v41.3h-25.9zM169.3 286.3h37.4v76.3h-37.4zM169.1 310.8h37.9v27.4h-37.9zM174.9 304.4h26.2v40.2h-26.2zM148.6 309.6h78.8v29.8h-78.8zM180.5 303.4h14.9v42.1h-14.9zM155.8 302.9h64.4v43.2h-64.4zM174.5 308.2h26.9v32.5h-26.9zM169.8 306.7h36.3v35.6h-36.3zM168.6 304.1h38.7v40.8h-38.7zM170.4 295.3h35.2v58.5h-35.2zM152.0 314.9h72.1v19.3h-72.1zM145.0 310.8h85.9v27.3h-85.9zM154.3 300.4h67.4v48.2h-67.4zM184.3 319.1h7.4v10.9h-7.4zM168.3 300.2h39.3v48.6h-39.3zM171.3 291.7h33.3v65.5h-33.3zM150.1 304.7h75.9v39.6h-75.9zM170.4 299.4h35.2v50.1h-35.2zM151.2 310.6h73.6v27.8h-73.6zM151.6 307.6h72.7v33.8h-72.7zM168.1 307.2h39.8v34.5h-39.8zM176.2 282.2h23.6v84.6h-23.6zM154.0 304.3h68.0v40.4h-68.0zM148.7 305.6h78.6v37.8h-78.6zM170.3 305.0h35.4v38.9h-35.4zM153.5 314.2h69.0v20.6h-69.0zM166.9 318.5h42.2v11.9h-42.2zM154.1 297.3h67.8v54.4h-67.8zM163.2 306.5h49.6v36.0h-49.6zM162.8 316.3h50.3v16.3h-50.3zM148.0 310.2h80.0v28.6h-80.0zM184.9 316.8h6.1v15.5h-6.1zM147.6 315.8h80.9v17.4h-80.9zM180.6 318.0h14.8v13.0h-14.8zM162.6 306.8h50.9v35.5h-50.9zM152.7 313.8h70.5v21.4h-70.5zM154.6 306.9h66.7v35.3h-66.7zM161.3 302.8h53.5v43.5h-53.5zM154.8 316.8h66.4v15.5h-66.4zM148.8 318.6h78.4v11.9h-78.4zM151.0 314.0h73.9v21.0h-73.9zM167.2 304.1h41.7v40.8h-41.7zM151.6 311.0h72.8v27.0h-72.8zM167.0 296.0h42.1v56.9h-42.1zM155.4 292.0h65.1v65.0h-65.1zM166.4 295.0h43.2v59.0h-43.2zM153.5 302.2h69.0v44.6h-69.0zM150.0 299.0h75.9v51.0h-75.9zM181.1 309.6h13.8v29.8h-13.8zM160.8 297.1h54.5v54.7h-54.5zM159.7 301.8h56.7v45.4h-56.7zM149.1 318.6h77.8v11.7h-77.8zM181.9 305.0h12.1v39.0h-12.1zM180.5 296.0h15.1v57.0h-15.1zM156.5 313.4h63.0v22.1h-63.0zM163.8 299.7h48.4v49.5h-48.4zM163.4 294.4h49.3v60.1h-49.3zM177.2 311.8h21.7v25.4h-21.7zM151.4 305.4h73.1v38.2h-73.1zM161.9 297.9h52.2v53.3h-52.2zM182.8 305.3h10.4v38.4h-10.4zM150.6 316.1h74.7v16.7h-74.7zM161.3 305.0h53.4v39.1h-53.4zM145.6 311.3h84.8v26.3h-84.8zM182.6 302.3h10.8v44.4h-10.8zM150.5 309.3h75.1v30.3h-75.1zM147.3 301.1h81.3v46.8h-81.3zM151.3 307.6h73.5v33.9h-73.5zM147.5 309.2h81.1v30.5h-81.1zM174.6 306.1h26.8v36.8h-26.8zM181.0 301.5h14.0v46.0h-14.0zM159.7 300.3h56.6v48.5h-56.6zM183.5 311.1h9.1v26.7h-9.1zM164.8 307.2h46.4v34.6h-46.4zM167.5 308.2h41.1v32.6h-41.1zM167.2 310.8h41.6v27.4h-41.6zM175.1 282.6h25.8v83.8h-25.8zM151.9 305.3h72.3v38.5h-72.3zM157.5 303.4h61.0v42.3h-61.0zM167.2 303.5h41.5v42.0h-41.5zM185.3 307.2h5.4v34.6h-5.4zM146.2 312.2h83.7v24.7h-83.7zM171.4 293.3h33.2v62.3h-33.2zM177.5 283.4h21.0v82.3h-21.0zM150.5 296.5h75.0v56.0h-75.0zM153.5 318.9h69.0v11.3h-69.0zM177.4 298.2h21.3v52.5h-21.3zM166.9 303.5h42.2v42.0h-42.2zM147.1 304.3h81.9v40.4h-81.9zM159.4 290.0h57.2v69.0h-57.2zM144.6 315.0h86.7v18.9h-86.7zM157.9 299.7h60.3v49.7h-60.3zM178.0 315.6h20.1v17.8h-20.1zM155.2 316.4h65.5v16.2h-65.5zM178.3 286.2h19.4v76.7h-19.4zM183.3 308.7h9.3v31.6h-9.3zM175.8 315.0h24.3v19.0h-24.3zM178.0 296.8h20.0v55.4h-20.0zM177.1 303.6h21.8v41.8h-21.8zM160.8 295.7h54.5v57.5h-54.5zM183.5 309.1h9.0v30.8h-9.0zM161.4 307.9h53.2v33.2h-53.2zM153.9 302.6h68.2v43.8h-68.2zM150.9 300.4h74.1v48.2h-74.1zM162.4 306.4h51.1v36.2h-51.1zM166.7 293.0h42.5v63.0h-42.5zM158.8 306.5h58.4v35.9h-58.4zM170.5 311.9h34.9v25.3h-34.9zM152.7 302.9h70.7v43.2h-70.7zM176.7 306.3h22.6v36.5h-22.6zM149.6 316.6h76.9v15.7h-76.9zM157.5 304.8h60.9v39.3h-60.9zM176.5 284.4h22.9v80.1h-22.9zM184.6 312.0h6.9v25.1h-6.9zM163.5 317.8h49.1v13.5h-49.1zM161.6 296.0h52.8v57.0h-52.8zM178.8 281.4h18.5v86.1h-18.5zM170.1 282.1h35.8v84.8h-35.8zM147.7 306.9h80.6v35.2h-80.6zM180.1 287.2h15.8v74.6h-15.8zM167.6 282.3h40.7v84.4h-40.7zM150.1 306.9h75.8v35.1h-75.8zM145.3 311.1h85.5v26.8h-85.5zM162.1 299.3h51.9v50.4h-51.9zM159.6 316.9h56.8v15.2h-56.8zM160.3 304.0h55.4v41.0h-55.4zM160.2 307.8h55.7v33.3h-55.7zM167.5 311.6h41.0v25.8h-41.0zM171.8 284.0h32.3v81.0h-32.3zM177.8 286.4h20.5v76.3h-20.5zM145.8 311.8h84.4v25.4h-84.4zM145.6 319.1h84.8v10.8h-84.8zM148.2 319.2h79.6v10.6h-79.6zM183.0 304.4h10.1v40.3h-10.1zM164.1 298.8h47.8v51.3h-47.8zM175.4 283.7h25.2v81.5h-25.2zM147.9 300.4h80.1v48.2h-80.1zM153.5 308.6h69.0v31.8h-69.0zM157.5 302.6h61.1v43.8h-61.1zM152.1 297.4h71.9v54.2h-71.9zM181.9 290.7h12.2v67.5h-12.2zM185.4 317.0h5.2v15.0h-5.2zM151.4 315.8h73.1v17.4h-73.1zM179.6 284.5h16.7v80.0h-16.7zM180.5 290.8h14.9v67.4h-14.9zM166.8 293.4h42.4v62.1h-42.4zM153.8 310.3h68.4v28.5h-68.4zM159.7 312.1h56.5v24.9h-56.5zM167.2 306.1h41.7v36.8h-41.7zM149.1 317.3h77.7v14.4h-77.7zM147.9 300.5h80.2v48.0h-80.2zM150.6 316.4h74.8v16.3h-74.8zM151.5 303.7h73.0v41.6h-73.0zM177.2 287.2h21.5v74.5h-21.5zM177.2 304.9h21.6v39.1h-21.6zM180.8 289.6h14.4v69.8h-14.4zM147.6 303.7h80.7v41.7h-80.7zM146.6 306.3h82.8v36.4h-82.8zM150.1 300.2h75.8v48.5h-75.8zM175.5 291.4h25.0v66.1h-25.0zM175.1 306.5h25.8v36.0h-25.8zM175.8 311.1h24.4v26.9h-24.4zM149.8 300.3h76.3v48.5h-76.3zM169.9 281.7h36.2v85.5h-36.2zM167.2 307.7h41.6v33.5h-41.6zM159.1 289.8h57.7v69.5h-57.7zM161.0 308.9h54.1v31.3h-54.1zM175.6 307.2h24.8v34.6h-24.8zM157.9 313.1h60.1v22.8h-60.1zM155.1 310.6h65.7v27.8h-65.7zM166.7 307.1h42.5v34.8h-42.5zM149.4 306.1h77.2v36.7h-77.2zM161.5 288.6h52.9v71.7h-52.9zM164.4 310.4h47.3v28.2h-47.3zM164.3 310.8h47.5v27.4h-47.5zM185.0 312.6h6.1v23.9h-6.1zM148.5 307.7h79.0v33.5h-79.0zM176.8 283.3h22.5v82.3h-22.5zM149.3 298.2h77.5v52.6h-77.5zM166.4 302.3h43.2v44.5h-43.2zM153.0 305.2h69.9v38.5h-69.9zM168.0 305.4h40.0v38.3h-40.0zM147.7 307.2h80.5v34.6h-80.5zM157.9 299.4h60.2v50.2h-60.2zM170.8 315.1h34.5v18.8h-34.5zM179.1 298.2h17.7v52.6h-17.7zM178.0 310.5h20.0v28.0h-20.0zM168.8 303.2h38.5v42.7h-38.5zM180.6 287.7h14.8v73.6h-14.8zM184.3 311.5h7.4v26.0h-7.4zM158.8 319.3h58.5v10.5h-58.5zM183.0 318.6h10.0v11.8h-10.0zM164.0 308.1h48.0v32.9h-48.0zM161.3 294.3h53.5v60.3h-53.5zM151.1 307.2h73.8v34.6h-73.8zM147.7 314.7h80.6v19.5h-80.6zM175.0 295.2h26.1v58.6h-26.1zM154.0 307.3h67.9v34.4h-67.9zM150.3 307.8h75.5v33.5h-75.5zM147.8 309.6h80.4v29.8h-80.4zM151.6 313.4h72.8v22.2h-72.8zM180.8 307.1h14.5v34.8h-14.5zM149.8 298.8h76.3v51.5h-76.3zM149.9 302.2h76.2v44.7h-76.2zM153.2 315.2h69.6v18.5h-69.6zM171.0 303.5h33.9v42.1h-33.9zM150.5 317.1h74.9v14.8h-74.9zM170.4 294.4h35.1v60.3h-35.1zM163.5 317.1h48.9v14.8h-48.9zM161.2 305.9h53.6v37.3h-53.6zM150.2 305.0h75.7v39.1h-75.7zM167.1 306.3h41.7v36.4h-41.7zM162.8 307.1h50.4v34.8h-50.4zM181.7 311.7h12.7v25.7h-12.7zM153.7 309.7h68.6v29.5h-68.6zM168.7 287.1h38.6v74.9h-38.6zM159.3 303.5h57.4v42.0h-57.4zM178.7 308.4h18.5v32.2h-18.5zM176.2 297.6h23.6v53.7h-23.6zM144.8 311.8h86.4v25.4h-86.4zM148.1 314.6h79.7v19.8h-79.7zM163.4 300.6h49.1v47.9h-49.1zM180.9 281.0h14.3v87.0h-14.3zM161.6 292.4h52.8v64.2h-52.8zM177.1 286.3h21.7v76.4h-21.7zM172.3 291.5h31.5v66.1h-31.5zM181.9 285.9h12.1v77.1h-12.1zM150.0 305.3h76.1v38.4h-76.1zM162.5 302.8h50.9v43.3h-50.9zM185.5 316.8h5.0v15.4h-5.0zM180.3 315.4h15.3v18.2h-15.3zM146.2 316.4h83.6v16.2h-83.6zM159.1 298.9h57.7v51.1h-57.7zM164.9 289.3h46.1v70.4h-46.1zM174.0 315.5h28.1v17.9h-28.1zM185.0 308.3h6.0v32.4h-6.0zM176.8 288.3h22.5v72.3h-22.5zM168.7 291.4h38.6v66.2h-38.6zM175.7 294.0h24.7v61.1h-24.7zM149.9 313.2h76.1v22.5h-76.1zM155.5 294.6h64.9v59.8h-64.9zM184.7 312.7h6.5v23.5h-6.5zM180.7 313.0h14.6v23.0h-14.6zM179.9 305.9h16.1v37.3h-16.1zM168.2 302.6h39.6v43.7h-39.6zM148.5 302.0h79.0v45.0h-79.0zM150.0 316.1h76.0v16.8h-76.0zM176.6 289.2h22.7v70.6h-22.7zM161.5 311.6h52.9v25.8h-52.9zM174.7 312.7h26.5v23.6h-26.5zM156.8 293.2h62.4v62.6h-62.4zM174.2 312.5h27.7v24.0h-27.7zM167.5 295.0h41.1v59.0h-41.1zM151.9 306.3h72.2v36.3h-72.2zM181.4 292.6h13.1v63.8h-13.1zM152.3 311.5h71.3v26.0h-71.3zM161.6 304.3h52.8v40.4h-52.8zM168.2 305.5h39.6v37.9h-39.6zM163.8 300.0h48.4v49.0h-48.4zM148.0 307.3h80.1v34.4h-80.1zM150.8 315.5h74.3v17.9h-74.3zM150.0 308.7h76.0v31.7h-76.0zM178.9 287.4h18.2v74.3h-18.2zM167.8 305.2h40.4v38.6h-40.4zM177.5 289.4h21.0v70.1h-21.0zM181.2 301.6h13.6v45.7h-13.6zM148.5 303.8h78.9v41.5h-78.9zM146.9 306.6h82.3v35.9h-82.3zM153.5 318.8h68.9v11.5h-68.9zM159.7 292.5h56.7v64.1h-56.7zM150.9 307.8h74.2v33.4h-74.2zM171.6 287.7h32.8v73.6h-32.8zM164.8 310.5h46.5v27.9h-46.5zM164.0 304.4h48.0v40.1h-48.0zM169.0 283.8h38.1v81.4h-38.1zM148.5 317.0h79.0v14.9h-79.0zM157.8 305.7h60.5v37.5h-60.5zM182.4 306.2h11.2v36.6h-11.2zM172.2 309.0h31.7v31.1h-31.7zM174.0 306.2h27.9v36.7h-27.9zM148.1 312.2h79.7v24.6h-79.7zM146.6 314.5h82.7v20.0h-82.7zM170.7 307.3h34.5v34.3h-34.5zM178.8 308.1h18.4v32.7h-18.4zM150.3 308.0h75.5v33.0h-75.5zM179.7 308.6h16.6v31.7h-16.6zM170.8 299.2h34.4v50.7h-34.4zM163.1 318.5h49.8v12.1h-49.8zM167.9 305.4h40.2v38.3h-40.2zM160.2 288.5h55.7v72.0h-55.7zM161.9 303.7h52.2v41.6h-52.2zM175.4 285.1h25.2v78.8h-25.2zM164.8 313.8h46.3v21.4h-46.3zM150.6 306.0h74.8v37.1h-74.8zM174.7 316.4h26.5v16.2h-26.5zM164.8 311.0h46.4v27.1h-46.4zM182.5 307.1h11.0v34.7h-11.0zM153.4 305.6h69.3v37.8h-69.3zM152.0 301.9h72.0v45.3h-72.0zM147.2 310.5h81.5v28.0h-81.5zM150.0 313.3h76.0v22.4h-76.0zM147.3 314.2h81.4v20.6h-81.4zM171.8 286.8h32.5v75.3h-32.5zM174.7 292.8h26.7v63.3h-26.7zM151.2 318.9h73.6v11.3h-73.6zM149.4 301.4h77.1v46.2h-77.1zM173.8 304.3h28.4v40.5h-28.4zM144.7 309.5h86.5v30.0h-86.5zM157.8 310.4h60.4v28.2h-60.4zM150.1 318.4h75.9v12.2h-75.9zM149.9 316.4h76.3v16.3h-76.3zM175.9 291.2h24.2v66.6h-24.2zM147.6 306.2h80.9v36.6h-80.9zM149.7 312.5h76.6v23.9h-76.6zM167.7 311.3h40.6v26.4h-40.6zM152.2 311.6h71.5v25.9h-71.5zM153.5 319.6h69.0v9.9h-69.0zM181.7 305.6h12.6v37.9h-12.6zM148.3 318.0h79.4v13.0h-79.4zM164.3 302.0h47.4v44.9h-47.4zM172.2 291.0h31.5v66.9h-31.5zM174.1 303.9h27.8v41.3h-27.8zM156.7 319.6h62.5v9.8h-62.5zM169.2 304.2h37.5v40.6h-37.5zM160.7 305.5h54.7v38.0h-54.7zM168.0 288.5h40.1v71.9h-40.1zM170.1 307.3h35.8v34.4h-35.8zM173.2 304.4h29.6v40.2h-29.6zM164.5 304.9h46.9v39.3h-46.9zM150.5 313.9h74.9v21.3h-74.9zM174.8 303.0h26.3v43.0h-26.3zM158.0 302.5h59.9v44.0h-59.9zM176.7 292.9h22.6v63.1h-22.6zM158.4 302.6h59.3v43.9h-59.3zM146.4 317.6h83.1v13.8h-83.1zM145.9 306.9h84.1v35.3h-84.1zM171.6 303.5h32.8v42.0h-32.8zM176.0 305.6h24.1v37.8h-24.1zM166.8 288.5h42.5v72.1h-42.5zM150.2 303.3h75.6v42.4h-75.6zM161.9 290.3h52.1v68.3h-52.1zM170.1 301.4h35.8v46.2h-35.8zM146.7 307.7h82.5v33.7h-82.5zM155.1 302.6h65.8v43.8h-65.8zM179.3 300.4h17.3v48.3h-17.3zM180.4 314.5h15.2v20.0h-15.2zM165.3 287.2h45.4v74.6h-45.4zM153.9 302.2h68.2v44.6h-68.2zM151.5 314.3h73.1v20.4h-73.1zM148.2 306.3h79.7v36.5h-79.7zM172.5 300.3h31.0v48.4h-31.0zM148.3 301.2h79.4v46.6h-79.4zM146.0 306.1h84.1v36.7h-84.1zM157.3 317.7h61.4v13.7h-61.4zM169.3 288.4h37.4v72.2h-37.4zM176.8 305.7h22.4v37.7h-22.4zM162.4 307.3h51.1v34.4h-51.1zM173.3 296.7h29.4v55.5h-29.4zM152.1 316.9h71.8v15.2h-71.8zM176.0 311.6h24.0v25.8h-24.0zM152.9 298.7h70.3v51.7h-70.3zM173.1 290.2h29.8v68.7h-29.8zM179.7 298.3h16.6v52.3h-16.6zM146.1 305.9h83.8v37.1h-83.8zM173.0 304.4h30.0v40.1h-30.0zM160.7 286.2h54.7v76.5h-54.7zM163.0 308.7h50.1v31.6h-50.1zM147.0 303.4h82.1v42.1h-82.1zM180.1 311.7h15.7v25.6h-15.7zM180.4 308.2h15.1v32.6h-15.1zM165.0 316.0h46.1v17.1h-46.1zM149.1 313.4h77.8v22.2h-77.8zM148.2 311.2h79.6v26.7h-79.6zM150.7 305.6h74.7v37.8h-74.7zM161.8 307.6h52.4v33.9h-52.4zM174.9 291.0h26.1v67.0h-26.1zM151.9 310.2h72.1v28.6h-72.1zM174.5 299.2h26.9v50.6h-26.9zM148.0 308.3h80.1v32.5h-80.1zM178.0 309.3h20.0v30.4h-20.0zM160.3 313.2h55.3v22.7h-55.3zM184.2 318.8h7.5v11.5h-7.5zM160.9 295.7h54.1v57.6h-54.1zM150.9 307.0h74.2v35.1h-74.2zM147.5 310.8h81.0v27.4h-81.0zM150.6 318.1h74.8v12.8h-74.8zM177.0 306.0h22.1v36.9h-22.1zM165.2 289.7h45.5v69.6h-45.5zM155.5 299.3h65.1v50.5h-65.1zM160.1 289.3h55.8v70.4h-55.8zM174.3 289.4h27.5v70.3h-27.5zM178.3 303.9h19.4v41.1h-19.4zM152.2 310.6h71.6v27.8h-71.6zM157.8 301.5h60.4v46.1h-60.4zM147.6 317.9h80.7v13.2h-80.7zM166.9 303.1h42.1v42.7h-42.1zM173.9 304.3h28.2v40.5h-28.2zM148.7 305.2h78.6v38.5h-78.6zM181.1 305.6h13.8v37.9h-13.8zM166.9 289.9h42.1v69.2h-42.1zM159.4 297.1h57.3v54.7h-57.3zM183.6 309.6h8.7v29.7h-8.7zM179.1 315.9h17.8v17.3h-17.8zM161.2 314.6h53.6v19.9h-53.6zM177.2 290.0h21.7v69.1h-21.7zM153.6 315.7h68.8v17.7h-68.8zM165.5 310.1h45.0v28.9h-45.0zM174.3 284.3h27.3v80.5h-27.3zM146.4 303.2h83.3v42.6h-83.3zM155.8 307.4h64.4v34.3h-64.4zM148.8 318.2h78.4v12.6h-78.4zM171.0 307.4h34.0v34.2h-34.0zM154.2 301.7h67.5v45.6h-67.5zM178.2 305.9h19.7v37.2h-19.7zM175.2 313.0h25.6v23.0h-25.6zM163.6 305.5h48.8v38.1h-48.8zM177.9 294.3h20.2v60.3h-20.2zM151.8 303.1h72.4v42.9h-72.4zM171.0 306.1h33.9v36.7h-33.9zM152.1 314.7h71.8v19.7h-71.8zM157.9 304.2h60.1v40.5h-60.1zM173.2 284.6h29.6v79.8h-29.6zM150.0 308.0h76.1v33.1h-76.1zM185.5 303.7h5.0v41.5h-5.0zM151.3 318.5h73.3v12.1h-73.3zM149.6 312.3h76.9v24.5h-76.9zM154.2 306.8h67.7v35.5h-67.7zM179.4 289.9h17.2v69.3h-17.2zM150.2 304.9h75.5v39.2h-75.5zM148.8 306.0h78.4v37.0h-78.4zM157.6 304.7h60.7v39.6h-60.7zM146.4 315.0h83.3v19.1h-83.3zM164.6 293.5h46.8v61.9h-46.8zM164.5 313.2h46.9v22.5h-46.9zM159.7 303.7h56.5v41.6h-56.5zM149.0 302.4h78.0v44.2h-78.0zM150.5 312.6h75.0v23.9h-75.0zM167.5 295.5h41.0v58.0h-41.0zM149.4 299.9h77.2v49.1h-77.2zM184.6 314.7h6.8v19.6h-6.8zM152.8 295.4h70.5v58.2h-70.5zM185.3 318.4h5.4v12.2h-5.4zM162.8 304.2h50.3v40.6h-50.3zM182.2 305.1h11.6v38.9h-11.6zM151.8 301.3h72.3v46.3h-72.3zM152.0 297.7h72.1v53.7h-72.1zM163.4 316.2h49.2v16.6h-49.2zM148.1 312.6h79.9v23.7h-79.9zM177.5 314.2h21.1v20.7h-21.1zM160.9 304.4h54.2v40.3h-54.2zM157.6 309.7h60.7v29.6h-60.7zM162.9 317.5h50.3v14.0h-50.3zM154.6 300.0h66.7v49.1h-66.7zM157.7 304.9h60.6v39.2h-60.6zM151.6 318.8h72.7v11.3h-72.7zM176.6 308.4h22.8v32.2h-22.8zM168.0 288.3h40.1v72.4h-40.1zM145.9 317.5h84.1v14.1h-84.1zM164.3 302.9h47.3v43.1h-47.3zM147.8 302.1h80.4v44.8h-80.4zM165.7 309.5h44.6v30.1h-44.6zM161.0 310.0h54.0v29.0h-54.0zM184.9 305.7h6.2v37.6h-6.2zM151.3 307.1h73.3v34.9h-73.3zM146.6 316.6h82.7v15.9h-82.7zM178.7 293.9h18.6v61.1h-18.6zM161.6 302.8h52.7v43.5h-52.7zM147.8 303.4h80.3v42.3h-80.3zM164.9 299.0h46.1v51.0h-46.1zM153.6 297.4h68.7v54.2h-68.7zM150.3 309.3h75.4v30.4h-75.4zM166.2 306.1h43.5v36.7h-43.5zM179.0 281.2h18.0v86.7h-18.0zM145.3 310.6h85.3v27.8h-85.3zM185.2 305.9h5.6v37.1h-5.6zM159.9 319.5h56.3v10.0h-56.3zM157.6 316.5h60.8v16.0h-60.8zM160.2 315.4h55.6v18.1h-55.6zM145.4 318.2h85.2v12.5h-85.2zM182.2 284.4h11.6v80.2h-11.6zM146.6 318.0h82.7v13.0h-82.7zM146.4 317.3h83.2v14.5h-83.2zM166.8 317.9h42.4v13.2h-42.4zM173.1 295.7h29.7v57.7h-29.7zM163.3 287.9h49.4v73.2h-49.4zM174.2 295.9h27.5v57.2h-27.5zM168.8 305.5h38.4v37.9h-38.4zM176.4 288.9h23.2v71.1h-23.2zM171.1 318.7h33.7v11.6h-33.7zM163.4 290.7h49.2v67.7h-49.2zM176.1 282.7h23.8v83.6h-23.8zM151.8 313.8h72.5v21.5h-72.5zM178.8 290.6h18.5v67.8h-18.5zM176.1 290.0h23.9v69.0h-23.9zM146.4 317.0h83.2v14.9h-83.2zM159.5 310.5h57.0v27.9h-57.0zM168.1 286.5h39.8v76.0h-39.8zM172.2 292.2h31.6v64.6h-31.6zM175.2 306.9h25.5v35.2h-25.5zM182.9 309.2h10.1v30.6h-10.1zM169.2 306.8h37.5v35.3h-37.5zM173.5 314.6h28.9v19.8h-28.9zM174.3 292.7h27.4v63.5h-27.4zM173.9 302.6h28.3v43.8h-28.3zM181.7 289.1h12.7v70.8h-12.7zM180.2 315.5h15.6v17.9h-15.6zM152.9 303.2h70.1v42.6h-70.1zM165.6 310.4h44.8v28.3h-44.8zM149.7 304.2h76.6v40.6h-76.6zM168.7 310.9h38.6v27.3h-38.6zM182.5 297.6h10.9v53.8h-10.9zM173.2 285.2h29.6v78.6h-29.6zM185.3 312.7h5.3v23.7h-5.3zM156.9 306.3h62.2v36.5h-62.2zM147.7 318.8h80.5v11.5h-80.5zM146.3 309.6h83.4v29.9h-83.4zM165.6 315.0h44.8v18.9h-44.8zM150.5 310.4h75.1v28.2h-75.1zM158.0 294.2h60.1v60.5h-60.1zM173.5 304.7h29.0v39.6h-29.0z"/>
<rect x="144.5" y="281.0" width="87.0" height="87.0" fill="none" stroke="#ff6464" stroke-width="0.3" opacity="0.22"/>
<text transform="translate(153.80,532.00) scale(0.3500)" text-anchor="middle" style="font-family:'Liberation Serif',serif" fill="#111">(<tspan font-weight="bold">c</tspan>)</text>
<text transform="translate(344.10,373.00) rotate(-90) scale(0.1038)" text-anchor="end" stroke="#2b2b2b" stroke-width="0.5" fill="#2b2b2b">1_chongkong</text>
<text transform="translate(352.83,373.00) rotate(-90) scale(0.1038)" text-anchor="end" stroke="#2b2b2b" stroke-width="0.5" fill="#2b2b2b">2_hanfeng</text>
<text transform="translate(361.55,373.00) rotate(-90) scale(0.1038)" text-anchor="end" stroke="#2b2b2b" stroke-width="0.5" fill="#2b2b2b">3_yueyawan</text>
<text transform="translate(370.28,373.00) rotate(-90) scale(0.1038)" text-anchor="end" stroke="#2b2b2b" stroke-width="0.5" fill="#2b2b2b">4_shuiban</text>
<text transform="translate(379.00,373.00) rotate(-90) scale(0.1038)" text-anchor="end" stroke="#2b2b2b" stroke-width="0.5" fill="#2b2b2b">5_youban</text>
<text transform="translate(387.73,373.00) rotate(-90) scale(0.1038)" text-anchor="end" stroke="#2b2b2b" stroke-width="0.5" fill="#2b2b2b">6_siban</text>
<text transform="translate(396.45,373.00) rotate(-90) scale(0.1038)" text-anchor="end" stroke="#2b2b2b" stroke-width="0.5" fill="#2b2b2b">7_yiwu</text>
<text transform="translate(405.18,373.00) rotate(-90) scale(0.1038)" text-anchor="end" stroke="#2b2b2b" stroke-width="0.5" fill="#2b2b2b">8_yahen</text>
<text transform="translate(413.90,373.00) rotate(-90) scale(0.1038)" text-anchor="end" stroke="#2b2b2b" stroke-width="0.5" fill="#2b2b2b">9_zhehen</text>
<text transform="translate(422.62,373.00) rotate(-90) scale(0.1038)" text-anchor="end" stroke="#2b2b2b" stroke-width="0.5" fill="#2b2b2b">10_yaozhed</text>
<path d="M339.60 369.80V339.02h6.90V369.80zM348.33 369.80V321.21h6.90V369.80zM357.05 369.80V344.50h6.90V369.80zM365.78 369.80V336.49h6.90V369.80zM374.50 369.80V317.21h6.90V369.80zM383.23 369.80V285.06h6.90V369.80zM391.95 369.80V337.97h6.90V369.80zM400.68 369.80V362.32h6.90V369.80zM409.40 369.80V363.58h6.90V369.80zM418.12 369.80V358.00h6.90V369.80z" fill="#1f77b4"/>
<text transform="translate(332.90,371.35) scale(0.1038)" text-anchor="end" stroke="#2b2b2b" stroke-width="0.5" fill="#2b2b2b">0</text>
<text transform="translate(332.90,360.81) scale(0.1038)" text-anchor="end" stroke="#2b2b2b" stroke-width="0.5" fill="#2b2b2b">100</text>
<text transform="translate(332.90,350.27) scale(0.1038)" text-anchor="end" stroke="#2b2b2b" stroke-width="0.5" fill="#2b2b2b">200</text>
<text transform="translate(332.90,339.73) scale(0.1038)" text-anchor="end" stroke="#2b2b2b" stroke-width="0.5" fill="#2b2b2b">300</text>
<text transform="translate(332.90,329.19) scale(0.1038)" text-anchor="end" stroke="#2b2b2b" stroke-width="0.5" fill="#2b2b2b">400</text>
<text transform="translate(332.90,318.65) scale(0.1038)" text-anchor="end" stroke="#2b2b2b" stroke-width="0.5" fill="#2b2b2b">500</text>
<text transform="translate(332.90,308.11) scale(0.1038)" text-anchor="end" stroke="#2b2b2b" stroke-width="0.5" fill="#2b2b2b">600</text>
<text transform="translate(332.90,297.57) scale(0.1038)" text-anchor="end" stroke="#2b2b2b" stroke-width="0.5" fill="#2b2b2b">700</text>
<text transform="translate(332.90,287.03) scale(0.1038)" text-anchor="end" stroke="#2b2b2b" stroke-width="0.5" fill="#2b2b2b">800</text>
<path d="M334.50 369.80h1.5M334.50 359.26h1.5M334.50 348.72h1.5M334.50 338.18h1.5M334.50 327.64h1.5M334.50 317.10h1.5M334.50 306.56h1.5M334.50 296.02h1.5M334.50 285.48h1.5M343.05 369.80v1.5M351.78 369.80v1.5M360.50 369.80v1.5M369.23 369.80v1.5M377.95 369.80v1.5M386.68 369.80v1.5M395.40 369.80v1.5M404.12 369.80v1.5M412.85 369.80v1.5M421.57 369.80v1.5" stroke="#222" stroke-width="0.55" fill="none"/>
<text transform="translate(321.20,326.00) rotate(-90) scale(0.1038)" text-anchor="middle" stroke="#2b2b2b" stroke-width="0.5" fill="#2b2b2b">instances</text>
<g filter="url(#b)"><g transform="translate(339.30,489.77) scale(1.7220,-1.6560)" stroke-width="1.04" fill="none"><path stroke="#acc9ee" d="M0 0h1M3 0h2M6 0h1M8 0h2M14 0h3M20 0h1M22 0h1M25 0h2M28 0h1M34 0h1M38 0h1M41 0h3M46 0h2M0 1h1M2 1h3M6 1h2M10 1h1M12 1h1M17 1h1M20 1h4M25 1h2M28 1h1M35 1h1M37 1h1M40 1h4M45 1h2M49 1h1M3 2h1M5 2h1M7 2h4M14 2h1M16 2h1M21 2h1M23 2h1M25 2h9M37 2h2M40 2h2M44 2h1M46 2h1M48 2h1M1 3h3M11 3h1M13 3h1M15 3h3M19 3h5M25 3h1M28 3h2M31 3h2M36 3h1M38 3h1M41 3h1M44 3h1M46 3h4M0 4h1M3 4h2M6 4h2M10 4h1M12 4h1M14 4h2M18 4h3M23 4h3M30 4h2M33 4h1M35 4h2M42 4h1M44 4h6M1 5h5M7 5h4M12 5h6M19 5h2M24 5h2M30 5h1M32 5h1M37 5h2M40 5h2M43 5h1M46 5h2M49 5h1M1 6h1M3 6h3M7 6h3M11 6h1M13 6h3M19 6h3M25 6h3M32 6h1M34 6h2M37 6h2M40 6h2M43 6h1M46 6h2M49 6h1M0 7h1M3 7h2M10 7h6M21 7h1M24 7h10M35 7h1M43 7h1M45 7h2M49 7h1M0 8h1M2 8h2M5 8h3M10 8h3M14 8h1M17 8h1M24 8h2M28 8h2M31 8h3M37 8h1M40 8h4M46 8h2M0 9h4M5 9h1M8 9h1M10 9h3M15 9h1M17 9h1M19 9h1M21 9h2M24 9h2M29 9h1M31 9h1M33 9h1M35 9h2M39 9h1M43 9h1M46 9h2M1 10h6M11 10h3M17 10h1M19 10h1M21 10h1M23 10h3M28 10h2M31 10h3M35 10h3M39 10h2M43 10h4M48 10h2M0 11h2M3 11h1M6 11h2M10 11h3M15 11h4M22 11h2M25 11h5M31 11h3M39 11h1M43 11h4M0 12h1M2 12h7M10 12h2M14 12h3M18 12h3M23 12h5M29 12h3M33 12h1M36 12h4M41 12h3M45 12h2M48 12h1M0 13h1M3 13h2M8 13h4M14 13h3M23 13h1M25 13h1M27 13h3M33 13h5M39 13h1M41 13h1M46 13h1M49 13h1M1 14h3M5 14h1M7 14h2M11 14h1M14 14h1M18 14h1M20 14h1M23 14h9M36 14h2M39 14h1M41 14h1M44 14h1M46 14h2M49 14h1M3 15h2M10 15h1M12 15h10M23 15h1M25 15h2M28 15h1M32 15h3M37 15h1M41 15h1M45 15h2M48 15h1M0 16h2M4 16h1M9 16h1M12 16h5M18 16h1M20 16h3M25 16h2M28 16h3M32 16h2M35 16h2M38 16h1M40 16h2M43 16h1M45 16h2M0 17h2M3 17h4M9 17h4M18 17h3M23 17h1M25 17h2M29 17h1M36 17h4M41 17h1M43 17h6M3 18h1M6 18h2M9 18h1M14 18h1M17 18h3M22 18h8M36 18h3M40 18h2M46 18h1M48 18h1M0 19h1M3 19h1M6 19h1M9 19h2M13 19h3M17 19h1M19 19h1M21 19h1M25 19h1M27 19h6M34 19h1M39 19h2M44 19h1M46 19h1M48 19h2M0 20h1M2 20h4M8 20h1M11 20h1M14 20h3M20 20h1M23 20h3M27 20h5M33 20h1M35 20h5M41 20h1M44 20h6M0 21h1M3 21h1M5 21h1M8 21h2M15 21h3M19 21h2M22 21h1M24 21h4M29 21h1M31 21h7M40 21h1M43 21h1M45 21h2M49 21h1M3 22h3M8 22h2M12 22h3M17 22h1M19 22h1M21 22h8M30 22h1M32 22h3M37 22h1M39 22h4M44 22h4M1 23h4M8 23h28M38 23h1M43 23h1M46 23h1M0 24h2M3 24h1M6 24h30M37 24h4M44 24h5M0 25h6M7 25h29M37 25h5M44 25h5M1 26h1M3 26h1M6 26h4M11 26h29M44 26h1M46 26h4M3 27h1M6 27h2M10 27h1M12 27h2M15 27h1M17 27h14M32 27h1M34 27h1M36 27h2M39 27h3M43 27h2M46 27h4M5 28h1M7 28h2M10 28h1M12 28h2M17 28h5M23 28h3M28 28h3M34 28h1M36 28h3M40 28h1M42 28h2M45 28h2M49 28h1M0 29h2M3 29h1M7 29h3M14 29h1M16 29h6M23 29h1M25 29h7M33 29h1M37 29h2M40 29h1M42 29h1M44 29h1M46 29h1M48 29h2M1 30h4M6 30h2M9 30h3M15 30h2M23 30h3M27 30h2M31 30h1M34 30h1M38 30h5M44 30h1M46 30h2M0 31h1M3 31h1M5 31h3M9 31h2M13 31h1M15 31h1M17 31h1M20 31h1M22 31h4M27 31h2M31 31h2M36 31h4M42 31h1M44 31h1M46 31h1M49 31h1M1 32h3M5 32h3M10 32h1M12 32h2M15 32h3M21 32h1M23 32h7M31 32h2M34 32h3M38 32h1M40 32h1M46 32h3M3 33h1M6 33h1M8 33h2M11 33h2M14 33h3M18 33h2M21 33h1M25 33h1M27 33h2M30 33h1M32 33h1M34 33h5M40 33h1M45 33h2M2 34h2M6 34h2M9 34h2M12 34h5M18 34h2M25 34h1M27 34h1M30 34h6M37 34h2M41 34h4M46 34h1M48 34h1M1 35h1M4 35h3M9 35h3M13 35h1M20 35h4M25 35h3M29 35h5M36 35h1M43 35h6M1 36h6M8 36h2M11 36h1M13 36h2M17 36h4M22 36h2M25 36h1M27 36h1M29 36h2M32 36h2M36 36h2M39 36h1M41 36h1M45 36h1M47 36h1M49 36h1M1 37h4M6 37h2M9 37h1M11 37h1M13 37h2M16 37h3M21 37h1M23 37h1M25 37h1M27 37h2M30 37h1M36 37h2M39 37h1M41 37h1M43 37h1M46 37h3M1 38h4M6 38h4M13 38h3M17 38h1M21 38h1M23 38h3M28 38h1M30 38h1M32 38h1M34 38h2M40 38h1M45 38h1M47 38h2M0 39h3M7 39h1M9 39h2M12 39h1M14 39h1M16 39h1M18 39h3M22 39h2M25 39h2M28 39h3M36 39h1M40 39h2M43 39h1M45 39h3M49 39h1M0 40h1M2 40h2M5 40h4M11 40h2M17 40h4M24 40h4M30 40h1M33 40h1M35 40h1M38 40h2M41 40h1M44 40h4M49 40h1M0 41h2M3 41h4M8 41h3M14 41h2M17 41h1M20 41h1M22 41h2M25 41h1M27 41h1M29 41h2M32 41h3M37 41h3M42 41h1M46 41h2M2 42h2M5 42h1M9 42h1M11 42h1M13 42h1M15 42h2M22 42h1M24 42h2M28 42h1M35 42h2M39 42h2M44 42h6M0 43h4M5 43h1M7 43h1M9 43h3M13 43h2M18 43h2M21 43h1M23 43h1M25 43h4M31 43h2M35 43h1M37 43h1M39 43h4M46 43h1M49 43h1M0 44h2M3 44h1M6 44h5M15 44h1M19 44h2M22 44h1M25 44h1M28 44h1M30 44h1M32 44h1M34 44h3M39 44h1M41 44h1M45 44h1M48 44h1M0 45h2M3 45h3M8 45h2M11 45h1M14 45h2M18 45h2M21 45h2M24 45h4M29 45h1M31 45h1M33 45h5M43 45h1M45 45h2M49 45h1M0 46h2M3 46h1M6 46h1M8 46h3M12 46h3M16 46h1M18 46h1M20 46h1M22 46h4M29 46h2M33 46h3M40 46h2M43 46h2M47 46h1M49 46h1M0 47h4M6 47h2M10 47h1M13 47h4M20 47h3M24 47h3M28 47h2M32 47h1M34 47h1M39 47h3M43 47h4M48 47h2M2 48h5M8 48h3M12 48h1M14 48h2M17 48h2M20 48h2M24 48h2M27 48h1M30 48h4M35 48h1M38 48h1M40 48h1M43 48h1M45 48h2M0 49h1M2 49h3M6 49h2M9 49h1M11 49h1M13 49h1M15 49h4M22 49h5M29 49h2M32 49h2M35 49h1M40 49h3M44 49h1M46 49h4"/><path stroke="#9fc3ef" d="M0 0h1M3 0h2M6 0h1M8 0h2M14 0h3M20 0h1M22 0h1M25 0h2M28 0h1M34 0h1M38 0h1M41 0h3M46 0h2M0 1h1M2 1h3M6 1h2M10 1h1M12 1h1M17 1h1M20 1h4M25 1h2M28 1h1M35 1h1M37 1h1M40 1h4M45 1h2M49 1h1M3 2h1M5 2h1M7 2h4M14 2h1M16 2h1M21 2h1M23 2h1M25 2h9M37 2h2M40 2h2M44 2h1M46 2h1M48 2h1M1 3h3M11 3h1M13 3h1M15 3h3M19 3h5M25 3h1M28 3h2M31 3h2M36 3h1M38 3h1M41 3h1M44 3h1M46 3h4M0 4h1M3 4h2M6 4h2M10 4h1M12 4h1M14 4h2M18 4h3M23 4h3M30 4h2M33 4h1M35 4h2M42 4h1M44 4h6M1 5h5M7 5h4M12 5h6M19 5h2M24 5h2M30 5h1M32 5h1M37 5h2M40 5h2M43 5h1M46 5h2M49 5h1M1 6h1M3 6h3M7 6h3M11 6h1M13 6h3M19 6h3M25 6h3M32 6h1M34 6h2M37 6h2M40 6h2M43 6h1M46 6h2M49 6h1M0 7h1M3 7h2M10 7h6M21 7h1M24 7h10M35 7h1M43 7h1M45 7h2M49 7h1M0 8h1M2 8h2M5 8h3M10 8h3M14 8h1M17 8h1M24 8h2M28 8h2M31 8h3M37 8h1M40 8h4M46 8h2M0 9h4M5 9h1M8 9h1M10 9h3M15 9h1M17 9h1M19 9h1M21 9h2M24 9h2M29 9h1M31 9h1M33 9h1M35 9h2M39 9h1M43 9h1M46 9h2M1 10h6M11 10h3M17 10h1M19 10h1M21 10h1M23 10h3M28 10h2M31 10h3M35 10h3M39 10h2M43 10h4M48 10h2M0 11h2M3 11h1M6 11h2M10 11h3M15 11h4M22 11h2M25 11h5M31 11h3M39 11h1M43 11h4M0 12h1M2 12h7M10 12h2M14 12h3M18 12h3M23 12h5M29 12h3M33 12h1M36 12h4M41 12h3M45 12h2M48 12h1M0 13h1M3 13h2M8 13h4M14 13h3M23 13h1M25 13h1M27 13h3M33 13h5M39 13h1M41 13h1M46 13h1M49 13h1M1 14h3M5 14h1M7 14h2M11 14h1M14 14h1M18 14h1M20 14h1M23 14h9M36 14h2M39 14h1M41 14h1M44 14h1M46 14h2M49 14h1M3 15h2M10 15h1M12 15h10M23 15h1M25 15h2M28 15h1M32 15h3M37 15h1M41 15h1M45 15h2M48 15h1M0 16h2M4 16h1M9 16h1M12 16h5M18 16h1M20 16h3M25 16h2M28 16h3M32 16h2M35 16h2M38 16h1M40 16h2M43 16h1M45 16h2M0 17h2M3 17h4M9 17h4M18 17h3M23 17h1M25 17h2M29 17h1M36 17h4M41 17h1M43 17h6M3 18h1M6 18h2M9 18h1M14 18h1M17 18h3M22 18h8M36 18h3M40 18h2M46 18h1M48 18h1M0 19h1M3 19h1M6 19h1M9 19h2M13 19h3M17 19h1M19 19h1M21 19h1M25 19h1M27 19h6M34 19h1M39 19h2M44 19h1M46 19h1M48 19h2M0 20h1M2 20h4M8 20h1M11 20h1M14 20h3M20 20h1M23 20h3M27 20h5M33 20h1M35 20h5M41 20h1M44 20h6M0 21h1M3 21h1M5 21h1M8 21h2M15 21h3M19 21h2M22 21h1M24 21h4M29 21h1M31 21h7M40 21h1M43 21h1M45 21h2M49 21h1M3 22h3M8 22h2M12 22h3M17 22h1M19 22h1M21 22h8M30 22h1M32 22h3M37 22h1M39 22h4M44 22h4M1 23h4M8 23h28M38 23h1M43 23h1M46 23h1M0 24h2M3 24h1M6 24h30M37 24h4M44 24h5M0 25h6M7 25h29M37 25h5M44 25h5M1 26h1M3 26h1M6 26h4M11 26h29M44 26h1M46 26h4M3 27h1M6 27h2M10 27h1M12 27h2M15 27h1M17 27h14M32 27h1M34 27h1M36 27h2M39 27h3M43 27h2M46 27h4M5 28h1M7 28h2M10 28h1M12 28h2M17 28h5M23 28h3M28 28h3M34 28h1M36 28h3M40 28h1M42 28h2M45 28h2M49 28h1M0 29h2M3 29h1M7 29h3M14 29h1M16 29h6M23 29h1M25 29h7M33 29h1M37 29h2M40 29h1M42 29h1M44 29h1M46 29h1M48 29h2M1 30h4M6 30h2M9 30h3M15 30h2M23 30h3M27 30h2M31 30h1M34 30h1M38 30h5M44 30h1M46 30h2M0 31h1M3 31h1M5 31h3M9 31h2M13 31h1M15 31h1M17 31h1M20 31h1M22 31h4M27 31h2M31 31h2M36 31h4M42 31h1M44 31h1M46 31h1M49 31h1M1 32h3M5 32h3M10 32h1M12 32h2M15 32h3M21 32h1M23 32h7M31 32h2M34 32h3M38 32h1M40 32h1M46 32h3M3 33h1M6 33h1M8 33h2M11 33h2M14 33h3M18 33h2M21 33h1M25 33h1M27 33h2M30 33h1M32 33h1M34 33h5M40 33h1M45 33h2M2 34h2M6 34h2M9 34h2M12 34h5M18 34h2M25 34h1M27 34h1M30 34h6M37 34h2M41 34h4M46 34h1M48 34h1M1 35h1M4 35h3M9 35h3M13 35h1M20 35h4M25 35h3M29 35h5M36 35h1M43 35h6M1 36h6M8 36h2M11 36h1M13 36h2M17 36h4M22 36h2M25 36h1M27 36h1M29 36h2M32 36h2M36 36h2M39 36h1M41 36h1M45 36h1M47 36h1M49 36h1M1 37h4M6 37h2M9 37h1M11 37h1M13 37h2M16 37h3M21 37h1M23 37h1M25 37h1M27 37h2M30 37h1M36 37h2M39 37h1M41 37h1M43 37h1M46 37h3M1 38h4M6 38h4M13 38h3M17 38h1M21 38h1M23 38h3M28 38h1M30 38h1M32 38h1M34 38h2M40 38h1M45 38h1M47 38h2M0 39h3M7 39h1M9 39h2M12 39h1M14 39h1M16 39h1M18 39h3M22 39h2M25 39h2M28 39h3M36 39h1M40 39h2M43 39h1M45 39h3M49 39h1M0 40h1M2 40h2M5 40h4M11 40h2M17 40h4M24 40h4M30 40h1M33 40h1M35 40h1M38 40h2M41 40h1M44 40h4M49 40h1M0 41h2M3 41h4M8 41h3M14 41h2M17 41h1M20 41h1M22 41h2M25 41h1M27 41h1M29 41h2M32 41h3M37 41h3M42 41h1M46 41h2M2 42h2M5 42h1M9 42h1M11 42h1M13 42h1M15 42h2M22 42h1M24 42h2M28 42h1M35 42h2M39 42h2M44 42h6M0 43h4M5 43h1M7 43h1M9 43h3M13 43h2M18 43h2M21 43h1M23 43h1M25 43h4M31 43h2M35 43h1M37 43h1M39 43h4M46 43h1M49 43h1M0 44h2M3 44h1M6 44h5M15 44h1M19 44h2M22 44h1M25 44h1M28 44h1M30 44h1M32 44h1M34 44h3M39 44h1M41 44h1M45 44h1M48 44h1M0 45h2M3 45h3M8 45h2M11 45h1M14 45h2M18 45h2M21 45h2M24 45h4M29 45h1M31 45h1M33 45h5M43 45h1M45 45h2M49 45h1M0 46h2M3 46h1M6 46h1M8 46h3M12 46h3M16 46h1M18 46h1M20 46h1M22 46h4M29 46h2M33 46h3M40 46h2M43 46h2M47 46h1M49 46h1M0 47h4M6 47h2M10 47h1M13 47h4M20 47h3M24 47h3M28 47h2M32 47h1M34 47h1M39 47h3M43 47h4M48 47h2M2 48h5M8 48h3M12 48h1M14 48h2M17 48h2M20 48h2M24 48h2M27 48h1M30 48h4M35 48h1M38 48h1M40 48h1M43 48h1M45 48h2M0 49h1M2 49h3M6 49h2M9 49h1M11 49h1M13 49h1M15 49h4M22 49h5M29 49h2M32 49h2M35 49h1M40 49h3M44 49h1M46 49h4"/><path stroke="#8fbdf1" d="M0 0h1M3 0h2M6 0h1M8 0h2M14 0h3M20 0h1M22 0h1M25 0h2M28 0h1M34 0h1M38 0h1M41 0h3M46 0h2M0 1h1M2 1h3M6 1h2M10 1h1M12 1h1M17 1h1M20 1h4M25 1h2M28 1h1M35 1h1M37 1h1M40 1h4M45 1h2M49 1h1M3 2h1M5 2h1M7 2h4M14 2h1M16 2h1M21 2h1M23 2h1M25 2h9M37 2h2M40 2h2M44 2h1M46 2h1M48 2h1M1 3h3M11 3h1M13 3h1M15 3h3M19 3h5M25 3h1M28 3h2M31 3h2M36 3h1M38 3h1M41 3h1M44 3h1M46 3h4M0 4h1M3 4h2M6 4h2M10 4h1M12 4h1M14 4h2M18 4h3M23 4h3M30 4h2M33 4h1M35 4h2M42 4h1M44 4h6M1 5h5M7 5h4M12 5h6M19 5h2M24 5h2M30 5h1M32 5h1M37 5h2M40 5h2M43 5h1M46 5h2M49 5h1M1 6h1M3 6h3M7 6h3M11 6h1M13 6h3M19 6h3M25 6h3M32 6h1M34 6h2M37 6h2M40 6h2M43 6h1M46 6h2M49 6h1M0 7h1M3 7h2M10 7h6M21 7h1M24 7h10M35 7h1M43 7h1M45 7h2M49 7h1M0 8h1M2 8h2M5 8h3M10 8h3M14 8h1M17 8h1M24 8h2M28 8h2M31 8h3M37 8h1M40 8h4M46 8h2M0 9h4M5 9h1M8 9h1M10 9h3M15 9h1M17 9h1M19 9h1M21 9h2M24 9h2M29 9h1M31 9h1M33 9h1M35 9h2M39 9h1M43 9h1M46 9h2M1 10h6M11 10h3M17 10h1M19 10h1M21 10h1M23 10h3M28 10h2M31 10h3M35 10h3M39 10h2M43 10h4M48 10h2M0 11h2M3 11h1M6 11h2M10 11h3M15 11h4M22 11h2M25 11h5M31 11h3M39 11h1M43 11h4M0 12h1M2 12h7M10 12h2M14 12h3M18 12h3M23 12h5M29 12h3M33 12h1M36 12h4M41 12h3M45 12h2M48 12h1M0 13h1M3 13h2M8 13h4M14 13h3M23 13h1M25 13h1M27 13h3M33 13h5M39 13h1M41 13h1M46 13h1M49 13h1M1 14h3M5 14h1M7 14h2M11 14h1M14 14h1M18 14h1M20 14h1M23 14h9M36 14h2M39 14h1M41 14h1M44 14h1M46 14h2M49 14h1M3 15h2M10 15h1M12 15h10M23 15h1M25 15h2M28 15h1M32 15h3M37 15h1M41 15h1M45 15h2M48 15h1M0 16h2M4 16h1M9 16h1M12 16h5M18 16h1M20 16h3M25 16h2M28 16h3M32 16h2M35 16h2M38 16h1M40 16h2M43 16h1M45 16h2M0 17h2M3 17h4M9 17h4M18 17h3M23 17h1M25 17h2M29 17h1M36 17h4M41 17h1M43 17h6M3 18h1M6 18h2M9 18h1M14 18h1M17 18h3M22 18h8M36 18h3M40 18h2M46 18h1M48 18h1M0 19h1M3 19h1M6 19h1M9 19h2M13 19h3M17 19h1M19 19h1M21 19h1M25 19h1M27 19h6M34 19h1M39 19h2M44 19h1M46 19h1M48 19h2M0 20h1M2 20h4M8 20h1M11 20h1M14 20h3M20 20h1M23 20h3M27 20h5M33 20h1M35 20h5M41 20h1M44 20h6M0 21h1M3 21h1M5 21h1M8 21h2M15 21h3M19 21h2M22 21h1M24 21h4M29 21h1M31 21h7M40 21h1M43 21h1M45 21h2M49 21h1M3 22h3M8 22h2M12 22h3M17 22h1M19 22h1M21 22h8M30 22h1M32 22h3M37 22h1M39 22h4M44 22h4M1 23h4M8 23h28M38 23h1M43 23h1M46 23h1M0 24h2M3 24h1M6 24h30M37 24h4M44 24h5M0 25h6M7 25h29M37 25h5M44 25h5M1 26h1M3 26h1M6 26h4M11 26h29M44 26h1M46 26h4M3 27h1M6 27h2M10 27h1M12 27h2M15 27h1M17 27h14M32 27h1M34 27h1M36 27h2M39 27h3M43 27h2M46 27h4M5 28h1M7 28h2M10 28h1M12 28h2M17 28h5M23 28h3M28 28h3M34 28h1M36 28h3M40 28h1M42 28h2M45 28h2M49 28h1M0 29h2M3 29h1M7 29h3M14 29h1M16 29h6M23 29h1M25 29h7M33 29h1M37 29h2M40 29h1M42 29h1M44 29h1M46 29h1M48 29h2M1 30h4M6 30h2M9 30h3M15 30h2M23 30h3M27 30h2M31 30h1M34 30h1M38 30h5M44 30h1M46 30h2M0 31h1M3 31h1M5 31h3M9 31h2M13 31h1M15 31h1M17 31h1M20 31h1M22 31h4M27 31h2M31 31h2M36 31h4M42 31h1M44 31h1M46 31h1M49 31h1M1 32h3M5 32h3M10 32h1M12 32h2M15 32h3M21 32h1M23 32h7M31 32h2M34 32h3M38 32h1M40 32h1M46 32h3M3 33h1M6 33h1M8 33h2M11 33h2M14 33h3M18 33h2M21 33h1M25 33h1M27 33h2M30 33h1M32 33h1M34 33h5M40 33h1M45 33h2M2 34h2M6 34h2M9 34h2M12 34h5M18 34h2M25 34h1M27 34h1M30 34h6M37 34h2M41 34h4M46 34h1M48 34h1M1 35h1M4 35h3M9 35h3M13 35h1M20 35h4M25 35h3M29 35h5M36 35h1M43 35h6M1 36h6M8 36h2M11 36h1M13 36h2M17 36h4M22 36h2M25 36h1M27 36h1M29 36h2M32 36h2M36 36h2M39 36h1M41 36h1M45 36h1M47 36h1M49 36h1M1 37h4M6 37h2M9 37h1M11 37h1M13 37h2M16 37h3M21 37h1M23 37h1M25 37h1M27 37h2M30 37h1M36 37h2M39 37h1M41 37h1M43 37h1M46 37h3M1 38h4M6 38h4M13 38h3M17 38h1M21 38h1M23 38h3M28 38h1M30 38h1M32 38h1M34 38h2M40 38h1M45 38h1M47 38h2M0 39h3M7 39h1M9 39h2M12 39h1M14 39h1M16 39h1M18 39h3M22 39h2M25 39h2M28 39h3M36 39h1M40 39h2M43 39h1M45 39h3M49 39h1M0 40h1M2 40h2M5 40h4M11 40h2M17 40h4M24 40h4M30 40h1M33 40h1M35 40h1M38 40h2M41 40h1M44 40h4M49 40h1M0 41h2M3 41h4M8 41h3M14 41h2M17 41h1M20 41h1M22 41h2M25 41h1M27 41h1M29 41h2M32 41h3M37 41h3M42 41h1M46 41h2M2 42h2M5 42h1M9 42h1M11 42h1M13 42h1M15 42h2M22 42h1M24 42h2M28 42h1M35 42h2M39 42h2M44 42h6M0 43h4M5 43h1M7 43h1M9 43h3M13 43h2M18 43h2M21 43h1M23 43h1M25 43h4M31 43h2M35 43h1M37 43h1M39 43h4M46 43h1M49 43h1M0 44h2M3 44h1M6 44h5M15 44h1M19 44h2M22 44h1M25 44h1M28 44h1M30 44h1M32 44h1M34 44h3M39 44h1M41 44h1M45 44h1M48 44h1M0 45h2M3 45h3M8 45h2M11 45h1M14 45h2M18 45h2M21 45h2M24 45h4M29 45h1M31 45h1M33 45h5M43 45h1M45 45h2M49 45h1M0 46h2M3 46h1M6 46h1M8 46h3M12 46h3M16 46h1M18 46h1M20 46h1M22 46h4M29 46h2M33 46h3M40 46h2M43 46h2M47 46h1M49 46h1M0 47h4M6 47h2M10 47h1M13 47h4M20 47h3M24 47h3M28 47h2M32 47h1M34 47h1M39 47h3M43 47h4M48 47h2M2 48h5M8 48h3M12 48h1M14 48h2M17 48h2M20 48h2M24 48h2M27 48h1M30 48h4M35 48h1M38 48h1M40 48h1M43 48h1M45 48h2M0 49h1M2 49h3M6 49h2M9 49h1M11 49h1M13 49h1M15 49h4M22 49h5M29 49h2M32 49h2M35 49h1M40 49h3M44 49h1M46 49h4"/><path stroke="#7fb8f3" d="M0 0h1M3 0h2M6 0h1M8 0h2M14 0h3M20 0h1M22 0h1M25 0h2M28 0h1M34 0h1M38 0h1M41 0h3M46 0h2M0 1h1M2 1h3M6 1h2M10 1h1M12 1h1M17 1h1M20 1h4M25 1h2M28 1h1M35 1h1M37 1h1M40 1h4M45 1h2M49 1h1M3 2h1M5 2h1M7 2h4M14 2h1M16 2h1M21 2h1M23 2h1M25 2h9M37 2h2M40 2h2M44 2h1M46 2h1M48 2h1M1 3h3M11 3h1M13 3h1M15 3h3M19 3h5M25 3h1M28 3h2M31 3h2M36 3h1M38 3h1M41 3h1M44 3h1M46 3h4M0 4h1M3 4h2M6 4h2M10 4h1M12 4h1M14 4h2M18 4h3M23 4h3M30 4h2M33 4h1M35 4h2M42 4h1M44 4h6M1 5h5M7 5h4M12 5h6M19 5h2M24 5h2M30 5h1M32 5h1M37 5h2M40 5h2M43 5h1M46 5h2M49 5h1M1 6h1M3 6h3M7 6h3M11 6h1M13 6h3M19 6h3M25 6h3M32 6h1M34 6h2M37 6h2M40 6h2M43 6h1M46 6h2M49 6h1M0 7h1M3 7h2M10 7h6M21 7h1M24 7h10M35 7h1M43 7h1M45 7h2M49 7h1M0 8h1M2 8h2M5 8h3M10 8h3M14 8h1M17 8h1M24 8h2M28 8h2M31 8h3M37 8h1M40 8h4M46 8h2M0 9h4M5 9h1M8 9h1M10 9h3M15 9h1M17 9h1M19 9h1M21 9h2M24 9h2M29 9h1M31 9h1M33 9h1M35 9h2M39 9h1M43 9h1M46 9h2M1 10h6M11 10h3M17 10h1M19 10h1M21 10h1M23 10h3M28 10h2M31 10h3M35 10h3M39 10h2M43 10h4M48 10h2M0 11h2M3 11h1M6 11h2M10 11h3M15 11h4M22 11h2M25 11h5M31 11h3M39 11h1M43 11h4M0 12h1M2 12h7M10 12h2M14 12h3M18 12h3M23 12h5M29 12h3M33 12h1M36 12h4M41 12h3M45 12h2M48 12h1M0 13h1M3 13h2M8 13h4M14 13h3M23 13h1M25 13h1M27 13h3M33 13h5M39 13h1M41 13h1M46 13h1M49 13h1M1 14h3M5 14h1M7 14h2M11 14h1M14 14h1M18 14h1M20 14h1M23 14h9M36 14h2M39 14h1M41 14h1M44 14h1M46 14h2M49 14h1M3 15h2M10 15h1M12 15h10M23 15h1M25 15h2M28 15h1M32 15h3M37 15h1M41 15h1M45 15h2M48 15h1M0 16h2M4 16h1M9 16h1M12 16h5M18 16h1M20 16h3M25 16h2M28 16h3M32 16h2M35 16h2M38 16h1M40 16h2M43 16h1M45 16h2M0 17h2M3 17h4M9 17h4M18 17h3M23 17h1M25 17h2M29 17h1M36 17h4M41 17h1M43 17h6M3 18h1M6 18h2M9 18h1M14 18h1M17 18h3M22 18h8M36 18h3M40 18h2M46 18h1M48 18h1M0 19h1M3 19h1M6 19h1M9 19h2M13 19h3M17 19h1M19 19h1M21 19h1M25 19h1M27 19h6M34 19h1M39 19h2M44 19h1M46 19h1M48 19h2M0 20h1M2 20h4M8 20h1M11 20h1M14 20h3M20 20h1M23 20h3M27 20h5M33 20h1M35 20h5M41 20h1M44 20h6M0 21h1M3 21h1M5 21h1M8 21h2M15 21h3M19 21h2M22 21h1M24 21h4M29 21h1M31 21h7M40 21h1M43 21h1M45 21h2M49 21h1M3 22h3M8 22h2M12 22h3M17 22h1M19 22h1M21 22h8M30 22h1M32 22h3M37 22h1M39 22h4M44 22h4M1 23h4M8 23h28M38 23h1M43 23h1M46 23h1M0 24h2M3 24h1M6 24h30M37 24h4M44 24h5M0 25h6M7 25h29M37 25h5M44 25h5M1 26h1M3 26h1M6 26h4M11 26h29M44 26h1M46 26h4M3 27h1M6 27h2M10 27h1M12 27h2M15 27h1M17 27h14M32 27h1M34 27h1M36 27h2M39 27h3M43 27h2M46 27h4M5 28h1M7 28h2M10 28h1M12 28h2M17 28h5M23 28h3M28 28h3M34 28h1M36 28h3M40 28h1M42 28h2M45 28h2M49 28h1M0 29h2M3 29h1M7 29h3M14 29h1M16 29h6M23 29h1M25 29h7M33 29h1M37 29h2M40 29h1M42 29h1M44 29h1M46 29h1M48 29h2M1 30h4M6 30h2M9 30h3M15 30h2M23 30h3M27 30h2M31 30h1M34 30h1M38 30h5M44 30h1M46 30h2M0 31h1M3 31h1M5 31h3M9 31h2M13 31h1M15 31h1M17 31h1M20 31h1M22 31h4M27 31h2M31 31h2M36 31h4M42 31h1M44 31h1M46 31h1M49 31h1M1 32h3M5 32h3M10 32h1M12 32h2M15 32h3M21 32h1M23 32h7M31 32h2M34 32h3M38 32h1M40 32h1M46 32h3M3 33h1M6 33h1M8 33h2M11 33h2M14 33h3M18 33h2M21 33h1M25 33h1M27 33h2M30 33h1M32 33h1M34 33h5M40 33h1M45 33h2M2 34h2M6 34h2M9 34h2M12 34h5M18 34h2M25 34h1M27 34h1M30 34h6M37 34h2M41 34h4M46 34h1M48 34h1M1 35h1M4 35h3M9 35h3M13 35h1M20 35h4M25 35h3M29 35h5M36 35h1M43 35h6M1 36h6M8 36h2M11 36h1M13 36h2M17 36h4M22 36h2M25 36h1M27 36h1M29 36h2M32 36h2M36 36h2M39 36h1M41 36h1M45 36h1M47 36h1M49 36h1M1 37h4M6 37h2M9 37h1M11 37h1M13 37h2M16 37h3M21 37h1M23 37h1M25 37h1M27 37h2M30 37h1M36 37h2M39 37h1M41 37h1M43 37h1M46 37h3M1 38h4M6 38h4M13 38h3M17 38h1M21 38h1M23 38h3M28 38h1M30 38h1M32 38h1M34 38h2M40 38h1M45 38h1M47 38h2M0 39h3M7 39h1M9 39h2M12 39h1M14 39h1M16 39h1M18 39h3M22 39h2M25 39h2M28 39h3M36 39h1M40 39h2M43 39h1M45 39h3M49 39h1M0 40h1M2 40h2M5 40h4M11 40h2M17 40h4M24 40h4M30 40h1M33 40h1M35 40h1M38 40h2M41 40h1M44 40h4M49 40h1M0 41h2M3 41h4M8 41h3M14 41h2M17 41h1M20 41h1M22 41h2M25 41h1M27 41h1M29 41h2M32 41h3M37 41h3M42 41h1M46 41h2M2 42h2M5 42h1M9 42h1M11 42h1M13 42h1M15 42h2M22 42h1M24 42h2M28 42h1M35 42h2M39 42h2M44 42h6M0 43h4M5 43h1M7 43h1M9 43h3M13 43h2M18 43h2M21 43h1M23 43h1M25 43h4M31 43h2M35 43h1M37 43h1M39 43h4M46 43h1M49 43h1M0 44h2M3 44h1M6 44h5M15 44h1M19 44h2M22 44h1M25 44h1M28 44h1M30 44h1M32 44h1M34 44h3M39 44h1M41 44h1M45 44h1M48 44h1M0 45h2M3 45h3M8 45h2M11 45h1M14 45h2M18 45h2M21 45h2M24 45h4M29 45h1M31 45h1M33 45h5M43 45h1M45 45h2M49 45h1M0 46h2M3 46h1M6 46h1M8 46h3M12 46h3M16 46h1M18 46h1M20 46h1M22 46h4M29 46h2M33 46h3M40 46h2M43 46h2M47 46h1M49 46h1M0 47h4M6 47h2M10 47h1M13 47h4M20 47h3M24 47h3M28 47h2M32 47h1M34 47h1M39 47h3M43 47h4M48 47h2M2 48h5M8 48h3M12 48h1M14 48h2M17 48h2M20 48h2M24 48h2M27 48h1M30 48h4M35 48h1M38 48h1M40 48h1M43 48h1M45 48h2M0 49h1M2 49h3M6 49h2M9 49h1M11 49h1M13 49h1M15 49h4M22 49h5M29 49h2M32 49h2M35 49h1M40 49h3M44 49h1M46 49h4"/><path stroke="#6cb2f5" d="M0 0h1M3 0h2M14 0h2M22 0h1M25 0h1M28 0h1M34 0h1M41 0h1M46 0h1M0 1h1M3 1h1M12 1h1M20 1h2M25 1h2M41 1h1M46 1h1M9 2h1M14 2h1M25 2h1M33 2h1M44 2h1M3 3h1M13 3h1M19 3h2M25 3h1M29 3h1M46 3h1M49 3h1M3 4h1M20 4h1M25 4h1M31 4h1M44 4h1M46 4h1M1 5h1M3 5h2M16 5h1M19 5h1M24 5h2M37 5h2M43 5h1M46 5h2M4 6h1M25 6h2M32 6h1M38 6h1M46 6h1M49 6h1M0 7h1M21 7h1M25 7h1M27 7h1M29 7h1M31 7h1M33 7h1M35 7h1M45 7h2M3 8h1M7 8h1M10 8h2M24 8h2M46 8h1M3 9h1M15 9h1M17 9h1M21 9h1M24 9h2M43 9h1M2 10h2M13 10h1M17 10h1M25 10h1M29 10h1M35 10h1M46 10h1M49 10h1M11 11h1M17 11h2M25 11h1M33 11h1M44 11h1M46 11h1M0 12h1M3 12h3M10 12h2M25 12h1M29 12h1M39 12h1M43 12h1M46 12h1M48 12h1M3 13h2M8 13h1M10 13h1M14 13h1M25 13h1M33 13h1M37 13h1M46 13h1M3 14h1M8 14h1M11 14h1M20 14h1M23 14h3M27 14h3M41 14h1M47 14h1M49 14h1M3 15h1M10 15h1M13 15h1M16 15h1M19 15h1M23 15h1M25 15h2M45 15h2M1 16h1M9 16h1M12 16h1M18 16h1M25 16h1M29 16h2M33 16h1M38 16h1M43 16h1M46 16h1M0 17h1M3 17h1M5 17h1M10 17h1M19 17h1M25 17h1M29 17h1M36 17h1M44 17h1M46 17h1M3 18h1M9 18h1M17 18h1M22 18h2M25 18h1M48 18h1M3 19h1M13 19h1M15 19h1M25 19h1M31 19h2M34 19h1M39 19h1M46 19h1M49 19h1M0 20h1M11 20h1M25 20h1M27 20h1M35 20h1M39 20h1M41 20h1M46 20h2M3 21h1M20 21h1M24 21h3M29 21h1M31 21h1M36 21h1M46 21h1M49 21h1M4 22h1M8 22h1M12 22h1M21 22h1M23 22h6M33 22h1M44 22h1M46 22h2M2 23h2M10 23h5M16 23h1M18 23h12M31 23h5M46 23h1M1 24h1M3 24h1M6 24h1M8 24h28M40 24h1M46 24h2M1 25h1M3 25h1M5 25h1M7 25h7M16 25h1M18 25h18M39 25h1M46 25h1M48 25h1M3 26h1M6 26h2M11 26h1M13 26h4M18 26h2M21 26h1M23 26h8M32 26h1M34 26h3M39 26h1M44 26h1M46 26h1M48 26h2M3 27h1M6 27h2M10 27h1M17 27h6M25 27h3M29 27h1M36 27h1M39 27h3M46 27h1M5 28h1M8 28h1M10 28h1M19 28h2M23 28h1M25 28h1M37 28h1M43 28h1M46 28h1M17 29h1M20 29h1M23 29h1M25 29h1M31 29h1M40 29h1M46 29h1M48 29h1M1 30h1M3 30h1M15 30h1M23 30h1M25 30h1M28 30h1M31 30h1M38 30h2M44 30h1M46 30h1M0 31h1M6 31h2M15 31h1M20 31h1M22 31h1M24 31h2M32 31h1M46 31h1M49 31h1M3 32h1M6 32h1M10 32h1M21 32h1M23 32h1M25 32h3M29 32h1M32 32h1M46 32h2M9 33h1M11 33h1M14 33h1M25 33h1M28 33h1M30 33h1M34 33h3M38 33h1M46 33h1M3 34h1M6 34h2M14 34h1M16 34h1M25 34h1M44 34h1M5 35h1M11 35h1M13 35h1M23 35h1M25 35h1M27 35h1M29 35h1M31 35h1M33 35h1M44 35h1M47 35h2M3 36h1M5 36h1M9 36h1M13 36h1M23 36h1M25 36h1M33 36h1M45 36h1M3 37h1M11 37h1M25 37h1M30 37h1M39 37h1M48 37h1M1 38h1M6 38h2M13 38h1M15 38h1M17 38h1M21 38h1M23 38h1M25 38h1M30 38h1M32 38h1M34 38h2M14 39h1M16 39h1M20 39h1M25 39h1M36 39h1M41 39h1M46 39h1M49 39h1M2 40h2M5 40h1M11 40h1M25 40h1M27 40h1M45 40h1M47 40h1M1 41h1M3 41h1M10 41h1M14 41h1M20 41h1M23 41h1M25 41h1M27 41h1M33 41h1M37 41h1M39 41h1M46 41h2M3 42h1M11 42h1M13 42h1M25 42h1M1 43h2M7 43h1M11 43h1M13 43h1M25 43h2M39 43h1M41 43h1M46 43h1M9 44h2M22 44h1M25 44h1M28 44h1M32 44h1M39 44h1M41 44h1M45 44h1M3 45h1M11 45h1M18 45h2M21 45h2M25 45h1M27 45h1M31 45h1M35 45h1M37 45h1M43 45h1M46 45h1M49 45h1M0 46h1M13 46h1M16 46h1M18 46h1M23 46h1M25 46h1M29 46h1M49 46h1M1 47h1M3 47h1M13 47h1M20 47h1M22 47h1M25 47h2M49 47h1M6 48h1M8 48h1M10 48h1M12 48h1M14 48h1M21 48h1M25 48h1M30 48h3M35 48h1M46 48h1M3 49h2M9 49h1M16 49h3M25 49h1M32 49h1M41 49h1"/><path stroke="#56acf6" d="M0 0h1M3 0h2M14 0h2M22 0h1M25 0h1M28 0h1M34 0h1M41 0h1M46 0h1M0 1h1M3 1h1M12 1h1M20 1h2M25 1h2M41 1h1M46 1h1M9 2h1M14 2h1M25 2h1M33 2h1M44 2h1M3 3h1M13 3h1M19 3h2M25 3h1M29 3h1M46 3h1M49 3h1M3 4h1M20 4h1M25 4h1M31 4h1M44 4h1M46 4h1M1 5h1M3 5h2M16 5h1M19 5h1M24 5h2M37 5h2M43 5h1M46 5h2M4 6h1M25 6h2M32 6h1M38 6h1M46 6h1M49 6h1M0 7h1M21 7h1M25 7h1M27 7h1M29 7h1M31 7h1M33 7h1M35 7h1M45 7h2M3 8h1M7 8h1M10 8h2M24 8h2M46 8h1M3 9h1M15 9h1M17 9h1M21 9h1M24 9h2M43 9h1M2 10h2M13 10h1M17 10h1M25 10h1M29 10h1M35 10h1M46 10h1M49 10h1M11 11h1M17 11h2M25 11h1M33 11h1M44 11h1M46 11h1M0 12h1M3 12h3M10 12h2M25 12h1M29 12h1M39 12h1M43 12h1M46 12h1M48 12h1M3 13h2M8 13h1M10 13h1M14 13h1M25 13h1M33 13h1M37 13h1M46 13h1M3 14h1M8 14h1M11 14h1M20 14h1M23 14h3M27 14h3M41 14h1M47 14h1M49 14h1M3 15h1M10 15h1M13 15h1M16 15h1M19 15h1M23 15h1M25 15h2M45 15h2M1 16h1M9 16h1M12 16h1M18 16h1M25 16h1M29 16h2M33 16h1M38 16h1M43 16h1M46 16h1M0 17h1M3 17h1M5 17h1M10 17h1M19 17h1M25 17h1M29 17h1M36 17h1M44 17h1M46 17h1M3 18h1M9 18h1M17 18h1M22 18h2M25 18h1M48 18h1M3 19h1M13 19h1M15 19h1M25 19h1M31 19h2M34 19h1M39 19h1M46 19h1M49 19h1M0 20h1M11 20h1M25 20h1M27 20h1M35 20h1M39 20h1M41 20h1M46 20h2M3 21h1M20 21h1M24 21h3M29 21h1M31 21h1M36 21h1M46 21h1M49 21h1M4 22h1M8 22h1M12 22h1M21 22h1M23 22h6M33 22h1M44 22h1M46 22h2M2 23h2M10 23h5M16 23h1M18 23h12M31 23h5M46 23h1M1 24h1M3 24h1M6 24h1M8 24h28M40 24h1M46 24h2M1 25h1M3 25h1M5 25h1M7 25h7M16 25h1M18 25h18M39 25h1M46 25h1M48 25h1M3 26h1M6 26h2M11 26h1M13 26h4M18 26h2M21 26h1M23 26h8M32 26h1M34 26h3M39 26h1M44 26h1M46 26h1M48 26h2M3 27h1M6 27h2M10 27h1M17 27h6M25 27h3M29 27h1M36 27h1M39 27h3M46 27h1M5 28h1M8 28h1M10 28h1M19 28h2M23 28h1M25 28h1M37 28h1M43 28h1M46 28h1M17 29h1M20 29h1M23 29h1M25 29h1M31 29h1M40 29h1M46 29h1M48 29h1M1 30h1M3 30h1M15 30h1M23 30h1M25 30h1M28 30h1M31 30h1M38 30h2M44 30h1M46 30h1M0 31h1M6 31h2M15 31h1M20 31h1M22 31h1M24 31h2M32 31h1M46 31h1M49 31h1M3 32h1M6 32h1M10 32h1M21 32h1M23 32h1M25 32h3M29 32h1M32 32h1M46 32h2M9 33h1M11 33h1M14 33h1M25 33h1M28 33h1M30 33h1M34 33h3M38 33h1M46 33h1M3 34h1M6 34h2M14 34h1M16 34h1M25 34h1M44 34h1M5 35h1M11 35h1M13 35h1M23 35h1M25 35h1M27 35h1M29 35h1M31 35h1M33 35h1M44 35h1M47 35h2M3 36h1M5 36h1M9 36h1M13 36h1M23 36h1M25 36h1M33 36h1M45 36h1M3 37h1M11 37h1M25 37h1M30 37h1M39 37h1M48 37h1M1 38h1M6 38h2M13 38h1M15 38h1M17 38h1M21 38h1M23 38h1M25 38h1M30 38h1M32 38h1M34 38h2M14 39h1M16 39h1M20 39h1M25 39h1M36 39h1M41 39h1M46 39h1M49 39h1M2 40h2M5 40h1M11 40h1M25 40h1M27 40h1M45 40h1M47 40h1M1 41h1M3 41h1M10 41h1M14 41h1M20 41h1M23 41h1M25 41h1M27 41h1M33 41h1M37 41h1M39 41h1M46 41h2M3 42h1M11 42h1M13 42h1M25 42h1M1 43h2M7 43h1M11 43h1M13 43h1M25 43h2M39 43h1M41 43h1M46 43h1M9 44h2M22 44h1M25 44h1M28 44h1M32 44h1M39 44h1M41 44h1M45 44h1M3 45h1M11 45h1M18 45h2M21 45h2M25 45h1M27 45h1M31 45h1M35 45h1M37 45h1M43 45h1M46 45h1M49 45h1M0 46h1M13 46h1M16 46h1M18 46h1M23 46h1M25 46h1M29 46h1M49 46h1M1 47h1M3 47h1M13 47h1M20 47h1M22 47h1M25 47h2M49 47h1M6 48h1M8 48h1M10 48h1M12 48h1M14 48h1M21 48h1M25 48h1M30 48h3M35 48h1M46 48h1M3 49h2M9 49h1M16 49h3M25 49h1M32 49h1M41 49h1"/><path stroke="#36a6f7" d="M0 0h1M3 0h2M14 0h2M22 0h1M25 0h1M28 0h1M34 0h1M41 0h1M46 0h1M0 1h1M3 1h1M12 1h1M20 1h2M25 1h2M41 1h1M46 1h1M9 2h1M14 2h1M25 2h1M33 2h1M44 2h1M3 3h1M13 3h1M19 3h2M25 3h1M29 3h1M46 3h1M49 3h1M3 4h1M20 4h1M25 4h1M31 4h1M44 4h1M46 4h1M1 5h1M3 5h2M16 5h1M19 5h1M24 5h2M37 5h2M43 5h1M46 5h2M4 6h1M25 6h2M32 6h1M38 6h1M46 6h1M49 6h1M0 7h1M21 7h1M25 7h1M27 7h1M29 7h1M31 7h1M33 7h1M35 7h1M45 7h2M3 8h1M7 8h1M10 8h2M24 8h2M46 8h1M3 9h1M15 9h1M17 9h1M21 9h1M24 9h2M43 9h1M2 10h2M13 10h1M17 10h1M25 10h1M29 10h1M35 10h1M46 10h1M49 10h1M11 11h1M17 11h2M25 11h1M33 11h1M44 11h1M46 11h1M0 12h1M3 12h3M10 12h2M25 12h1M29 12h1M39 12h1M43 12h1M46 12h1M48 12h1M3 13h2M8 13h1M10 13h1M14 13h1M25 13h1M33 13h1M37 13h1M46 13h1M3 14h1M8 14h1M11 14h1M20 14h1M23 14h3M27 14h3M41 14h1M47 14h1M49 14h1M3 15h1M10 15h1M13 15h1M16 15h1M19 15h1M23 15h1M25 15h2M45 15h2M1 16h1M9 16h1M12 16h1M18 16h1M25 16h1M29 16h2M33 16h1M38 16h1M43 16h1M46 16h1M0 17h1M3 17h1M5 17h1M10 17h1M19 17h1M25 17h1M29 17h1M36 17h1M44 17h1M46 17h1M3 18h1M9 18h1M17 18h1M22 18h2M25 18h1M48 18h1M3 19h1M13 19h1M15 19h1M25 19h1M31 19h2M34 19h1M39 19h1M46 19h1M49 19h1M0 20h1M11 20h1M25 20h1M27 20h1M35 20h1M39 20h1M41 20h1M46 20h2M3 21h1M20 21h1M24 21h3M29 21h1M31 21h1M36 21h1M46 21h1M49 21h1M4 22h1M8 22h1M12 22h1M21 22h1M23 22h6M33 22h1M44 22h1M46 22h2M2 23h2M10 23h5M16 23h1M18 23h12M31 23h5M46 23h1M1 24h1M3 24h1M6 24h1M8 24h28M40 24h1M46 24h2M1 25h1M3 25h1M5 25h1M7 25h7M16 25h1M18 25h18M39 25h1M46 25h1M48 25h1M3 26h1M6 26h2M11 26h1M13 26h4M18 26h2M21 26h1M23 26h8M32 26h1M34 26h3M39 26h1M44 26h1M46 26h1M48 26h2M3 27h1M6 27h2M10 27h1M17 27h6M25 27h3M29 27h1M36 27h1M39 27h3M46 27h1M5 28h1M8 28h1M10 28h1M19 28h2M23 28h1M25 28h1M37 28h1M43 28h1M46 28h1M17 29h1M20 29h1M23 29h1M25 29h1M31 29h1M40 29h1M46 29h1M48 29h1M1 30h1M3 30h1M15 30h1M23 30h1M25 30h1M28 30h1M31 30h1M38 30h2M44 30h1M46 30h1M0 31h1M6 31h2M15 31h1M20 31h1M22 31h1M24 31h2M32 31h1M46 31h1M49 31h1M3 32h1M6 32h1M10 32h1M21 32h1M23 32h1M25 32h3M29 32h1M32 32h1M46 32h2M9 33h1M11 33h1M14 33h1M25 33h1M28 33h1M30 33h1M34 33h3M38 33h1M46 33h1M3 34h1M6 34h2M14 34h1M16 34h1M25 34h1M44 34h1M5 35h1M11 35h1M13 35h1M23 35h1M25 35h1M27 35h1M29 35h1M31 35h1M33 35h1M44 35h1M47 35h2M3 36h1M5 36h1M9 36h1M13 36h1M23 36h1M25 36h1M33 36h1M45 36h1M3 37h1M11 37h1M25 37h1M30 37h1M39 37h1M48 37h1M1 38h1M6 38h2M13 38h1M15 38h1M17 38h1M21 38h1M23 38h1M25 38h1M30 38h1M32 38h1M34 38h2M14 39h1M16 39h1M20 39h1M25 39h1M36 39h1M41 39h1M46 39h1M49 39h1M2 40h2M5 40h1M11 40h1M25 40h1M27 40h1M45 40h1M47 40h1M1 41h1M3 41h1M10 41h1M14 41h1M20 41h1M23 41h1M25 41h1M27 41h1M33 41h1M37 41h1M39 41h1M46 41h2M3 42h1M11 42h1M13 42h1M25 42h1M1 43h2M7 43h1M11 43h1M13 43h1M25 43h2M39 43h1M41 43h1M46 43h1M9 44h2M22 44h1M25 44h1M28 44h1M32 44h1M39 44h1M41 44h1M45 44h1M3 45h1M11 45h1M18 45h2M21 45h2M25 45h1M27 45h1M31 45h1M35 45h1M37 45h1M43 45h1M46 45h1M49 45h1M0 46h1M13 46h1M16 46h1M18 46h1M23 46h1M25 46h1M29 46h1M49 46h1M1 47h1M3 47h1M13 47h1M20 47h1M22 47h1M25 47h2M49 47h1M6 48h1M8 48h1M10 48h1M12 48h1M14 48h1M21 48h1M25 48h1M30 48h3M35 48h1M46 48h1M3 49h2M9 49h1M16 49h3M25 49h1M32 49h1M41 49h1"/><path stroke="#2fa0f0" d="M0 0h1M3 0h1M34 0h1M46 0h1M3 1h1M12 1h1M25 1h1M46 1h1M25 2h1M44 2h1M19 3h1M25 3h1M20 4h1M25 4h1M46 4h1M25 5h1M37 5h2M46 5h1M25 6h1M38 6h1M46 6h1M49 6h1M25 7h1M35 7h1M3 8h1M24 8h2M46 8h1M3 9h1M15 9h1M25 9h1M3 10h1M25 10h1M29 10h1M35 10h1M46 10h1M11 11h1M17 11h1M25 11h1M33 11h1M46 11h1M3 12h1M10 12h2M43 12h1M46 12h1M3 13h2M25 13h1M46 13h1M25 14h1M27 14h1M3 15h1M23 15h1M25 15h1M46 15h1M25 16h1M38 16h1M43 16h1M46 16h1M3 17h1M5 17h1M25 17h1M44 17h1M46 17h1M17 18h1M22 18h1M25 18h1M48 18h1M3 19h1M13 19h1M25 19h1M31 19h1M25 20h1M27 20h1M39 20h1M46 20h1M3 21h1M25 21h1M29 21h1M31 21h1M46 21h1M4 22h1M8 22h1M24 22h3M3 23h1M10 23h1M13 23h2M18 23h3M24 23h6M33 23h2M46 23h1M9 24h3M14 24h22M46 24h1M7 25h4M12 25h2M16 25h1M20 25h4M25 25h11M3 26h1M7 26h1M13 26h1M16 26h1M18 26h1M24 26h7M32 26h1M34 26h2M44 26h1M46 26h1M7 27h1M17 27h1M19 27h1M21 27h1M25 27h2M29 27h1M36 27h1M39 27h1M46 27h1M23 28h1M25 28h1M46 28h1M23 29h1M25 29h1M31 29h1M1 30h1M23 30h1M25 30h1M28 30h1M31 30h1M46 30h1M0 31h1M6 31h2M15 31h1M25 31h1M46 31h1M3 32h1M26 32h1M46 32h1M9 33h1M14 33h1M25 33h1M3 34h1M25 34h1M25 35h1M31 35h1M5 36h1M9 36h1M23 36h1M25 36h1M45 36h1M3 37h1M25 37h1M39 37h1M25 38h1M32 38h1M25 39h1M5 40h1M11 40h1M25 40h1M27 40h1M45 40h1M3 41h1M25 41h1M3 42h1M13 42h1M25 42h1M2 43h1M7 43h1M25 43h1M22 44h1M25 44h1M32 44h1M3 45h1M25 45h1M37 45h1M0 46h1M16 46h1M23 46h1M25 46h1M29 46h1M3 47h1M25 47h1M10 48h1M12 48h1M30 48h2M3 49h1M25 49h1"/><path stroke="#2b9ae7" d="M0 0h1M3 0h1M34 0h1M46 0h1M3 1h1M12 1h1M25 1h1M46 1h1M25 2h1M44 2h1M19 3h1M25 3h1M20 4h1M25 4h1M46 4h1M25 5h1M37 5h2M46 5h1M25 6h1M38 6h1M46 6h1M49 6h1M25 7h1M35 7h1M3 8h1M24 8h2M46 8h1M3 9h1M15 9h1M25 9h1M3 10h1M25 10h1M29 10h1M35 10h1M46 10h1M11 11h1M17 11h1M25 11h1M33 11h1M46 11h1M3 12h1M10 12h2M43 12h1M46 12h1M3 13h2M25 13h1M46 13h1M25 14h1M27 14h1M3 15h1M23 15h1M25 15h1M46 15h1M25 16h1M38 16h1M43 16h1M46 16h1M3 17h1M5 17h1M25 17h1M44 17h1M46 17h1M17 18h1M22 18h1M25 18h1M48 18h1M3 19h1M13 19h1M25 19h1M31 19h1M25 20h1M27 20h1M39 20h1M46 20h1M3 21h1M25 21h1M29 21h1M31 21h1M46 21h1M4 22h1M8 22h1M24 22h3M3 23h1M10 23h1M13 23h2M18 23h3M24 23h6M33 23h2M46 23h1M9 24h3M14 24h22M46 24h1M7 25h4M12 25h2M16 25h1M20 25h4M25 25h11M3 26h1M7 26h1M13 26h1M16 26h1M18 26h1M24 26h7M32 26h1M34 26h2M44 26h1M46 26h1M7 27h1M17 27h1M19 27h1M21 27h1M25 27h2M29 27h1M36 27h1M39 27h1M46 27h1M23 28h1M25 28h1M46 28h1M23 29h1M25 29h1M31 29h1M1 30h1M23 30h1M25 30h1M28 30h1M31 30h1M46 30h1M0 31h1M6 31h2M15 31h1M25 31h1M46 31h1M3 32h1M26 32h1M46 32h1M9 33h1M14 33h1M25 33h1M3 34h1M25 34h1M25 35h1M31 35h1M5 36h1M9 36h1M23 36h1M25 36h1M45 36h1M3 37h1M25 37h1M39 37h1M25 38h1M32 38h1M25 39h1M5 40h1M11 40h1M25 40h1M27 40h1M45 40h1M3 41h1M25 41h1M3 42h1M13 42h1M25 42h1M2 43h1M7 43h1M25 43h1M22 44h1M25 44h1M32 44h1M3 45h1M25 45h1M37 45h1M0 46h1M16 46h1M23 46h1M25 46h1M29 46h1M3 47h1M25 47h1M10 48h1M12 48h1M30 48h2M3 49h1M25 49h1"/><path stroke="#2a93dd" d="M0 0h1M3 0h1M34 0h1M46 0h1M3 1h1M12 1h1M25 1h1M46 1h1M25 2h1M44 2h1M19 3h1M25 3h1M20 4h1M25 4h1M46 4h1M25 5h1M37 5h2M46 5h1M25 6h1M38 6h1M46 6h1M49 6h1M25 7h1M35 7h1M3 8h1M24 8h2M46 8h1M3 9h1M15 9h1M25 9h1M3 10h1M25 10h1M29 10h1M35 10h1M46 10h1M11 11h1M17 11h1M25 11h1M33 11h1M46 11h1M3 12h1M10 12h2M43 12h1M46 12h1M3 13h2M25 13h1M46 13h1M25 14h1M27 14h1M3 15h1M23 15h1M25 15h1M46 15h1M25 16h1M38 16h1M43 16h1M46 16h1M3 17h1M5 17h1M25 17h1M44 17h1M46 17h1M17 18h1M22 18h1M25 18h1M48 18h1M3 19h1M13 19h1M25 19h1M31 19h1M25 20h1M27 20h1M39 20h1M46 20h1M3 21h1M25 21h1M29 21h1M31 21h1M46 21h1M4 22h1M8 22h1M24 22h3M3 23h1M10 23h1M13 23h2M18 23h3M24 23h6M33 23h2M46 23h1M9 24h3M14 24h22M46 24h1M7 25h4M12 25h2M16 25h1M20 25h4M25 25h11M3 26h1M7 26h1M13 26h1M16 26h1M18 26h1M24 26h7M32 26h1M34 26h2M44 26h1M46 26h1M7 27h1M17 27h1M19 27h1M21 27h1M25 27h2M29 27h1M36 27h1M39 27h1M46 27h1M23 28h1M25 28h1M46 28h1M23 29h1M25 29h1M31 29h1M1 30h1M23 30h1M25 30h1M28 30h1M31 30h1M46 30h1M0 31h1M6 31h2M15 31h1M25 31h1M46 31h1M3 32h1M26 32h1M46 32h1M9 33h1M14 33h1M25 33h1M3 34h1M25 34h1M25 35h1M31 35h1M5 36h1M9 36h1M23 36h1M25 36h1M45 36h1M3 37h1M25 37h1M39 37h1M25 38h1M32 38h1M25 39h1M5 40h1M11 40h1M25 40h1M27 40h1M45 40h1M3 41h1M25 41h1M3 42h1M13 42h1M25 42h1M2 43h1M7 43h1M25 43h1M22 44h1M25 44h1M32 44h1M3 45h1M25 45h1M37 45h1M0 46h1M16 46h1M23 46h1M25 46h1M29 46h1M3 47h1M25 47h1M10 48h1M12 48h1M30 48h2M3 49h1M25 49h1"/><path stroke="#2b8dd3" d="M0 0h1M3 0h1M34 0h1M46 0h1M3 1h1M12 1h1M25 1h1M46 1h1M25 2h1M44 2h1M19 3h1M25 3h1M20 4h1M25 4h1M46 4h1M25 5h1M37 5h2M46 5h1M25 6h1M38 6h1M46 6h1M49 6h1M25 7h1M35 7h1M3 8h1M24 8h2M46 8h1M3 9h1M15 9h1M25 9h1M3 10h1M25 10h1M29 10h1M35 10h1M46 10h1M11 11h1M17 11h1M25 11h1M33 11h1M46 11h1M3 12h1M10 12h2M43 12h1M46 12h1M3 13h2M25 13h1M46 13h1M25 14h1M27 14h1M3 15h1M23 15h1M25 15h1M46 15h1M25 16h1M38 16h1M43 16h1M46 16h1M3 17h1M5 17h1M25 17h1M44 17h1M46 17h1M17 18h1M22 18h1M25 18h1M48 18h1M3 19h1M13 19h1M25 19h1M31 19h1M25 20h1M27 20h1M39 20h1M46 20h1M3 21h1M25 21h1M29 21h1M31 21h1M46 21h1M4 22h1M8 22h1M24 22h3M3 23h1M10 23h1M13 23h2M18 23h3M24 23h6M33 23h2M46 23h1M9 24h3M14 24h22M46 24h1M7 25h4M12 25h2M16 25h1M20 25h4M25 25h11M3 26h1M7 26h1M13 26h1M16 26h1M18 26h1M24 26h7M32 26h1M34 26h2M44 26h1M46 26h1M7 27h1M17 27h1M19 27h1M21 27h1M25 27h2M29 27h1M36 27h1M39 27h1M46 27h1M23 28h1M25 28h1M46 28h1M23 29h1M25 29h1M31 29h1M1 30h1M23 30h1M25 30h1M28 30h1M31 30h1M46 30h1M0 31h1M6 31h2M15 31h1M25 31h1M46 31h1M3 32h1M26 32h1M46 32h1M9 33h1M14 33h1M25 33h1M3 34h1M25 34h1M25 35h1M31 35h1M5 36h1M9 36h1M23 36h1M25 36h1M45 36h1M3 37h1M25 37h1M39 37h1M25 38h1M32 38h1M25 39h1M5 40h1M11 40h1M25 40h1M27 40h1M45 40h1M3 41h1M25 41h1M3 42h1M13 42h1M25 42h1M2 43h1M7 43h1M25 43h1M22 44h1M25 44h1M32 44h1M3 45h1M25 45h1M37 45h1M0 46h1M16 46h1M23 46h1M25 46h1M29 46h1M3 47h1M25 47h1M10 48h1M12 48h1M30 48h2M3 49h1M25 49h1"/><path stroke="#2e86c8" d="M3 0h1M25 1h1M46 1h1M20 4h1M25 4h1M25 5h1M46 5h1M25 6h1M35 7h1M46 8h1M25 9h1M25 10h1M29 10h1M46 10h1M25 11h1M3 12h1M4 13h1M25 13h1M46 13h1M25 14h1M27 14h1M25 15h1M25 16h1M3 17h1M25 17h1M46 17h1M22 18h1M25 18h1M3 19h1M25 20h1M39 20h1M25 21h1M31 21h1M25 22h1M3 23h1M10 23h1M14 23h1M20 23h1M24 23h6M9 24h3M15 24h7M24 24h12M46 24h1M7 25h1M9 25h1M12 25h1M20 25h3M25 25h7M33 25h3M3 26h1M13 26h1M18 26h1M24 26h5M35 26h1M7 27h1M17 27h1M19 27h1M26 27h1M29 27h1M39 27h1M46 27h1M23 28h1M25 28h1M25 29h1M25 30h1M28 30h1M46 30h1M6 31h2M25 31h1M3 32h1M9 33h1M25 33h1M25 34h1M25 35h1M31 35h1M5 36h1M9 36h1M25 36h1M3 37h1M25 37h1M25 38h1M25 39h1M27 40h1M3 41h1M25 41h1M25 42h1M2 43h1M25 44h1M3 45h1M25 45h1M25 46h1M3 47h1M25 47h1M12 48h1M3 49h1M25 49h1"/><path stroke="#3180bd" d="M3 0h1M25 1h1M46 1h1M20 4h1M25 4h1M25 5h1M46 5h1M25 6h1M35 7h1M46 8h1M25 9h1M25 10h1M29 10h1M46 10h1M25 11h1M3 12h1M4 13h1M25 13h1M46 13h1M25 14h1M27 14h1M25 15h1M25 16h1M3 17h1M25 17h1M46 17h1M22 18h1M25 18h1M3 19h1M25 20h1M39 20h1M25 21h1M31 21h1M25 22h1M3 23h1M10 23h1M14 23h1M20 23h1M24 23h6M9 24h3M15 24h7M24 24h12M46 24h1M7 25h1M9 25h1M12 25h1M20 25h3M25 25h7M33 25h3M3 26h1M13 26h1M18 26h1M24 26h5M35 26h1M7 27h1M17 27h1M19 27h1M26 27h1M29 27h1M39 27h1M46 27h1M23 28h1M25 28h1M25 29h1M25 30h1M28 30h1M46 30h1M6 31h2M25 31h1M3 32h1M9 33h1M25 33h1M25 34h1M25 35h1M31 35h1M5 36h1M9 36h1M25 36h1M3 37h1M25 37h1M25 38h1M25 39h1M27 40h1M3 41h1M25 41h1M25 42h1M2 43h1M25 44h1M3 45h1M25 45h1M25 46h1M3 47h1M25 47h1M12 48h1M3 49h1M25 49h1"/><path stroke="#347ab3" d="M3 0h1M25 1h1M46 1h1M20 4h1M25 4h1M25 5h1M46 5h1M25 6h1M35 7h1M46 8h1M25 9h1M25 10h1M29 10h1M46 10h1M25 11h1M3 12h1M4 13h1M25 13h1M46 13h1M25 14h1M27 14h1M25 15h1M25 16h1M3 17h1M25 17h1M46 17h1M22 18h1M25 18h1M3 19h1M25 20h1M39 20h1M25 21h1M31 21h1M25 22h1M3 23h1M10 23h1M14 23h1M20 23h1M24 23h6M9 24h3M15 24h7M24 24h12M46 24h1M7 25h1M9 25h1M12 25h1M20 25h3M25 25h7M33 25h3M3 26h1M13 26h1M18 26h1M24 26h5M35 26h1M7 27h1M17 27h1M19 27h1M26 27h1M29 27h1M39 27h1M46 27h1M23 28h1M25 28h1M25 29h1M25 30h1M28 30h1M46 30h1M6 31h2M25 31h1M3 32h1M9 33h1M25 33h1M25 34h1M25 35h1M31 35h1M5 36h1M9 36h1M25 36h1M3 37h1M25 37h1M25 38h1M25 39h1M27 40h1M3 41h1M25 41h1M25 42h1M2 43h1M25 44h1M3 45h1M25 45h1M25 46h1M3 47h1M25 47h1M12 48h1M3 49h1M25 49h1"/><path stroke="#3773a7" d="M25 1h1M46 1h1M25 5h1M46 5h1M25 9h1M25 10h1M25 11h1M3 12h1M25 13h1M46 13h1M25 14h1M27 14h1M25 15h1M25 16h1M3 17h1M25 17h1M25 18h1M25 20h1M25 21h1M25 22h1M10 23h1M20 23h1M24 23h6M10 24h2M15 24h1M20 24h1M24 24h7M33 24h1M20 25h1M25 25h7M35 25h1M13 26h1M25 26h4M35 26h1M19 27h1M26 27h1M25 28h1M25 29h1M25 30h1M7 31h1M25 31h1M3 32h1M25 33h1M25 34h1M25 35h1M25 36h1M25 37h1M25 38h1M25 39h1M3 41h1M25 41h1M25 42h1M25 44h1M3 45h1M25 45h1M25 46h1M3 49h1"/><path stroke="#3a6d9c" d="M25 1h1M46 1h1M25 5h1M46 5h1M25 9h1M25 10h1M25 11h1M3 12h1M25 13h1M46 13h1M25 14h1M27 14h1M25 15h1M25 16h1M3 17h1M25 17h1M25 18h1M25 20h1M25 21h1M25 22h1M10 23h1M20 23h1M24 23h6M10 24h2M15 24h1M20 24h1M24 24h7M33 24h1M20 25h1M25 25h7M35 25h1M13 26h1M25 26h4M35 26h1M19 27h1M26 27h1M25 28h1M25 29h1M25 30h1M7 31h1M25 31h1M3 32h1M25 33h1M25 34h1M25 35h1M25 36h1M25 37h1M25 38h1M25 39h1M3 41h1M25 41h1M25 42h1M25 44h1M3 45h1M25 45h1M25 46h1M3 49h1"/><path stroke="#3c6690" d="M25 1h1M46 1h1M25 5h1M46 5h1M25 9h1M25 10h1M25 11h1M3 12h1M25 13h1M46 13h1M25 14h1M27 14h1M25 15h1M25 16h1M3 17h1M25 17h1M25 18h1M25 20h1M25 21h1M25 22h1M10 23h1M20 23h1M24 23h6M10 24h2M15 24h1M20 24h1M24 24h7M33 24h1M20 25h1M25 25h7M35 25h1M13 26h1M25 26h4M35 26h1M19 27h1M26 27h1M25 28h1M25 29h1M25 30h1M7 31h1M25 31h1M3 32h1M25 33h1M25 34h1M25 35h1M25 36h1M25 37h1M25 38h1M25 39h1M3 41h1M25 41h1M25 42h1M25 44h1M3 45h1M25 45h1M25 46h1M3 49h1"/><path stroke="#3d6084" d="M25 1h1M25 5h1M25 9h1M25 13h1M46 13h1M25 14h1M25 16h1M25 17h1M25 20h1M25 21h1M25 22h1M20 23h1M24 23h6M11 24h1M20 24h1M25 24h6M33 24h1M20 25h1M25 25h7M35 25h1M13 26h1M25 26h4M25 28h1M25 30h1M25 31h1M3 32h1M25 33h1M25 35h1M25 36h1M25 38h1M25 39h1M3 41h1M25 41h1M25 42h1M25 44h1M3 45h1"/><path stroke="#3d5a79" d="M25 1h1M25 5h1M25 9h1M25 13h1M46 13h1M25 14h1M25 16h1M25 17h1M25 20h1M25 21h1M25 22h1M20 23h1M24 23h6M11 24h1M20 24h1M25 24h6M33 24h1M20 25h1M25 25h7M35 25h1M13 26h1M25 26h4M25 28h1M25 30h1M25 31h1M3 32h1M25 33h1M25 35h1M25 36h1M25 38h1M25 39h1M3 41h1M25 41h1M25 42h1M25 44h1M3 45h1"/><path stroke="#3d546e" d="M25 1h1M25 5h1M25 9h1M25 13h1M46 13h1M25 14h1M25 16h1M25 17h1M25 20h1M25 21h1M25 22h1M20 23h1M24 23h6M11 24h1M20 24h1M25 24h6M33 24h1M20 25h1M25 25h7M35 25h1M13 26h1M25 26h4M25 28h1M25 30h1M25 31h1M3 32h1M25 33h1M25 35h1M25 36h1M25 38h1M25 39h1M3 41h1M25 41h1M25 42h1M25 44h1M3 45h1"/></g></g>
<text transform="translate(339.30,500.00) scale(0.1038)" text-anchor="middle" stroke="#2b2b2b" stroke-width="0.5" fill="#2b2b2b">0.0</text>
<text transform="translate(356.52,500.00) scale(0.1038)" text-anchor="middle" stroke="#2b2b2b" stroke-width="0.5" fill="#2b2b2b">0.2</text>
<text transform="translate(373.74,500.00) scale(0.1038)" text-anchor="middle" stroke="#2b2b2b" stroke-width="0.5" fill="#2b2b2b">0.4</text>
<text transform="translate(390.96,500.00) scale(0.1038)" text-anchor="middle" stroke="#2b2b2b" stroke-width="0.5" fill="#2b2b2b">0.6</text>
<text transform="translate(408.18,500.00) scale(0.1038)" text-anchor="middle" stroke="#2b2b2b" stroke-width="0.5" fill="#2b2b2b">0.8</text>
<text transform="translate(425.40,500.00) scale(0.1038)" text-anchor="middle" stroke="#2b2b2b" stroke-width="0.5" fill="#2b2b2b">1.0</text>
<text transform="translate(335.60,492.15) scale(0.1038)" text-anchor="end" stroke="#2b2b2b" stroke-width="0.5" fill="#2b2b2b">0.0</text>
<text transform="translate(335.60,475.59) scale(0.1038)" text-anchor="end" stroke="#2b2b2b" stroke-width="0.5" fill="#2b2b2b">0.2</text>
<text transform="translate(335.60,459.03) scale(0.1038)" text-anchor="end" stroke="#2b2b2b" stroke-width="0.5" fill="#2b2b2b">0.4</text>
<text transform="translate(335.60,442.47) scale(0.1038)" text-anchor="end" stroke="#2b2b2b" stroke-width="0.5" fill="#2b2b2b">0.6</text>
<text transform="translate(335.60,425.91) scale(0.1038)" text-anchor="end" stroke="#2b2b2b" stroke-width="0.5" fill="#2b2b2b">0.8</text>
<text transform="translate(335.60,409.35) scale(0.1038)" text-anchor="end" stroke="#2b2b2b" stroke-width="0.5" fill="#2b2b2b">1.0</text>
<path d="M339.30 493.80v1.5M356.52 493.80v1.5M373.74 493.80v1.5M390.96 493.80v1.5M408.18 493.80v1.5M425.40 493.80v1.5M336.00 490.60h-1.5M336.00 474.04h-1.5M336.00 457.48h-1.5M336.00 440.92h-1.5M336.00 424.36h-1.5M336.00 407.80h-1.5" stroke="#222" stroke-width="0.55" fill="none"/>
<text transform="translate(382.35,505.60) scale(0.1038)" text-anchor="middle" stroke="#2b2b2b" stroke-width="0.5" fill="#2b2b2b">x</text>
<text transform="translate(323.20,449.20) rotate(-90) scale(0.1038)" text-anchor="middle" stroke="#2b2b2b" stroke-width="0.5" fill="#2b2b2b">y</text>
<g filter="url(#b)"><g transform="translate(454.93,487.51) scale(1.6895,-1.5902)" stroke-width="1.04" fill="none"><path stroke="#acc9ee" d="M0 0h5M7 0h3M31 0h1M40 0h1M49 0h1M0 1h10M11 1h3M15 1h2M18 1h1M21 1h2M24 1h2M27 1h3M31 1h2M34 1h7M42 1h1M44 1h1M46 1h4M0 2h32M33 2h17M0 3h11M12 3h1M15 3h1M17 3h1M19 3h2M22 3h8M31 3h1M34 3h1M37 3h1M39 3h2M44 3h6M1 4h13M18 4h1M31 4h1M0 5h11M12 5h1M17 5h1M34 5h1M48 5h1M0 6h9M10 6h2M13 6h1M19 6h1M1 7h7M11 7h2M14 7h1M39 7h1M0 8h14M28 8h1M31 8h1M43 8h1M45 8h2M1 9h3M5 9h5M11 9h1M15 9h1M34 9h1M42 9h1M0 10h10M12 10h1M16 10h1M1 11h11M22 11h1M27 11h1M0 12h10M11 12h1M26 12h1M49 12h1M1 13h8M12 13h1M16 13h1M47 13h1M0 14h11M19 14h1M30 14h1M40 14h1M48 14h1M0 15h8M9 15h2M19 15h1M27 15h1M0 16h11M13 16h1M35 16h1M1 17h9M12 17h2M17 17h1M24 17h1M34 17h1M0 18h10M11 18h2M21 18h1M34 18h1M1 19h10M15 19h1M30 19h2M1 20h10M16 20h2M24 20h1M31 20h1M39 20h1M0 21h9M10 21h1M15 21h1M48 21h1M1 22h11M0 23h5M6 23h4M17 23h1M38 23h1M42 23h1M1 24h8M10 24h2M13 24h1M17 24h2M0 25h8M9 25h2M19 25h1M30 25h1M37 25h1M0 26h10M11 26h1M15 26h1M33 26h1M49 26h1M0 27h9M10 27h1M13 27h1M40 27h1M1 28h8M11 28h5M28 28h1M36 28h1M38 28h1M49 28h1M0 29h18M21 29h1M49 29h1M1 30h14M17 30h1M33 30h3M45 30h1M0 31h15M40 31h1M1 32h14M22 32h1M32 32h1M36 32h2M0 33h7M8 33h8M19 33h1M35 33h1M42 33h1M1 34h7M10 34h2M13 34h1M21 34h1M34 34h1M42 34h1M0 35h4M5 35h3M9 35h7M21 35h1M1 36h10M13 36h2M1 37h4M6 37h3M10 37h2M14 37h2M22 37h1M29 37h1M48 37h1M1 38h14M17 38h1M21 38h1M27 38h1M35 38h1M39 38h1M1 39h11M13 39h5M19 39h1M21 39h3M27 39h1M32 39h1M46 39h1M1 40h9M11 40h2M14 40h1M16 40h4M21 40h1M24 40h1M26 40h1M43 40h1M2 41h7M10 41h1M12 41h3M16 41h4M21 41h1M24 41h2M27 41h1M43 41h1M49 41h1M1 42h20M22 42h1M24 42h1M47 42h1M1 43h6M8 43h9M34 43h1M40 43h3M1 44h5M7 44h8M16 44h6M45 44h1M2 45h3M6 45h4M11 45h4M17 45h3M22 45h3M40 45h1M2 46h7M10 46h5M18 46h1M21 46h3M33 46h1M2 47h8M11 47h4M16 47h1M19 47h3M23 47h1M41 47h1M1 48h13M15 48h4M20 48h4M28 48h1M1 49h6M9 49h7M17 49h1M20 49h2M32 49h1M47 49h1M49 49h1"/><path stroke="#9fc3ef" d="M0 0h5M49 0h1M0 1h10M11 1h3M15 1h1M18 1h1M21 1h2M24 1h1M28 1h1M34 1h1M36 1h1M38 1h3M42 1h1M49 1h1M0 2h13M17 2h1M19 2h2M22 2h3M26 2h1M28 2h4M33 2h3M37 2h7M45 2h5M0 3h11M15 3h1M20 3h1M34 3h1M39 3h2M45 3h1M48 3h2M1 4h10M1 5h8M0 6h8M1 7h7M11 7h1M1 8h6M8 8h2M11 8h1M1 9h3M5 9h4M11 9h1M1 10h8M12 10h1M1 11h8M1 12h5M7 12h1M11 12h1M1 13h5M7 13h1M16 13h1M0 14h10M0 15h8M9 15h2M0 16h7M9 16h1M35 16h1M1 17h7M9 17h1M12 17h1M17 17h1M0 18h10M12 18h1M1 19h6M8 19h3M1 20h5M7 20h1M9 20h1M1 21h8M10 21h1M1 22h9M1 23h4M7 23h1M9 23h1M2 24h4M7 24h1M17 24h1M0 25h7M9 25h2M1 26h6M8 26h1M0 27h7M1 28h7M12 28h2M1 29h5M7 29h2M10 29h2M14 29h2M49 29h1M1 30h14M0 31h13M14 31h1M1 32h9M11 32h2M14 32h1M0 33h7M9 33h3M13 33h2M42 33h1M2 34h6M10 34h2M13 34h1M1 35h1M3 35h1M6 35h2M9 35h1M11 35h1M13 35h1M15 35h1M1 36h4M6 36h3M10 36h1M3 37h2M6 37h3M10 37h1M1 38h1M6 38h1M8 38h1M12 38h3M39 38h1M1 39h1M3 39h4M8 39h4M13 39h1M15 39h1M17 39h1M19 39h1M22 39h2M2 40h1M5 40h1M7 40h1M14 40h1M18 40h2M2 41h7M14 41h1M17 41h1M19 41h1M1 42h1M3 42h2M6 42h3M10 42h3M14 42h2M17 42h1M19 42h1M47 42h1M1 43h6M8 43h2M11 43h4M3 44h1M5 44h1M8 44h1M10 44h1M12 44h2M16 44h3M21 44h1M2 45h1M6 45h2M9 45h1M11 45h2M14 45h1M19 45h1M22 45h3M2 46h2M7 46h2M10 46h4M18 46h1M21 46h1M2 47h1M4 47h1M6 47h3M11 47h2M16 47h1M19 47h1M23 47h1M4 48h3M10 48h3M17 48h1M22 48h2M1 49h1M4 49h2M9 49h2M12 49h3M20 49h1"/><path stroke="#8fbdf1" d="M0 0h2M0 1h4M5 1h1M49 1h1M0 2h4M7 2h1M17 2h1M26 2h1M30 2h1M40 2h1M43 2h1M45 2h1M47 2h1M49 2h1M1 3h5M49 3h1M1 4h6M1 5h5M1 6h6M1 7h5M1 8h3M5 8h1M1 9h3M1 10h4M6 10h1M1 11h3M5 11h1M1 12h2M4 12h1M7 12h1M1 13h1M3 13h1M1 14h3M2 15h4M1 16h2M4 16h2M4 17h1M1 18h2M4 18h1M1 19h2M6 19h1M2 20h3M2 21h2M5 21h2M1 22h1M4 22h1M1 23h3M2 24h3M2 25h2M9 25h1M2 26h3M1 27h4M6 27h1M1 28h2M5 28h3M3 29h3M7 29h2M1 30h5M7 30h1M11 30h1M1 31h3M6 31h1M12 31h1M3 32h3M7 32h2M12 32h1M2 33h2M5 33h1M9 33h1M11 33h1M2 34h3M10 36h1M6 38h1M5 39h1M14 40h1M14 43h1M10 44h1M12 46h1"/><path stroke="#7fb8f3" d="M0 0h2M0 1h3M49 1h1M0 2h3M49 2h1M1 3h4M49 3h1M1 4h3M1 5h3M1 6h4M1 7h5M1 8h2M1 9h1M3 9h1M1 10h3M3 11h1M1 12h2M4 12h1M3 13h1M1 14h1M4 17h1M3 21h1M2 23h1M3 27h1M2 30h2M5 30h1M1 31h1M3 31h1M6 31h1M2 33h2M5 33h1M11 33h1M2 34h1"/><path stroke="#6cb2f5" d="M0 0h2M0 1h3M49 1h1M0 2h2M49 2h1M1 3h1M3 3h2M1 4h1M3 4h1M1 5h3M2 6h1M2 7h1M4 7h1M2 8h1M1 9h1M5 30h1M2 33h1"/><path stroke="#56acf6" d="M0 0h2M0 1h2M49 1h1M0 2h2M49 2h1M1 4h1M3 4h1M4 7h1"/><path stroke="#36a6f7" d="M0 0h2M0 1h2M49 1h1M0 2h2M49 2h1M1 4h1M3 4h1"/><path stroke="#2fa0f0" d="M0 0h2M0 1h2M49 1h1M0 2h2M49 2h1M3 4h1"/><path stroke="#2b9ae7" d="M0 0h2M0 1h2M49 1h1M0 2h2M49 2h1"/><path stroke="#2a93dd" d="M0 0h2M0 1h2M49 1h1M0 2h2M49 2h1"/><path stroke="#2b8dd3" d="M0 0h2M0 1h2M49 1h1M0 2h2M49 2h1"/><path stroke="#2e86c8" d="M0 0h2M0 1h2M49 1h1M0 2h2M49 2h1"/><path stroke="#3180bd" d="M0 0h2M0 1h2M49 1h1M0 2h2M49 2h1"/><path stroke="#347ab3" d="M0 0h2M0 1h2M49 1h1M0 2h2M49 2h1"/><path stroke="#3773a7" d="M0 0h2M0 1h2M49 1h1M0 2h2M49 2h1"/><path stroke="#3a6d9c" d="M1 0h1M0 1h2M49 1h1M0 2h2M49 2h1"/><path stroke="#3c6690" d="M1 0h1M0 1h2M49 1h1M1 2h1M49 2h1"/><path stroke="#3d6084" d="M1 0h1M0 1h2M49 1h1M1 2h1M49 2h1"/><path stroke="#3d5a79" d="M1 0h1M0 1h2M49 1h1M1 2h1M49 2h1"/><path stroke="#3d546e" d="M1 0h1M0 1h2M49 1h1M1 2h1M49 2h1"/></g></g>
<text transform="translate(453.90,500.00) scale(0.1038)" text-anchor="middle" stroke="#2b2b2b" stroke-width="0.5" fill="#2b2b2b">0.0</text>
<text transform="translate(471.00,500.00) scale(0.1038)" text-anchor="middle" stroke="#2b2b2b" stroke-width="0.5" fill="#2b2b2b">0.2</text>
<text transform="translate(488.10,500.00) scale(0.1038)" text-anchor="middle" stroke="#2b2b2b" stroke-width="0.5" fill="#2b2b2b">0.4</text>
<text transform="translate(505.20,500.00) scale(0.1038)" text-anchor="middle" stroke="#2b2b2b" stroke-width="0.5" fill="#2b2b2b">0.6</text>
<text transform="translate(522.30,500.00) scale(0.1038)" text-anchor="middle" stroke="#2b2b2b" stroke-width="0.5" fill="#2b2b2b">0.8</text>
<text transform="translate(539.40,500.00) scale(0.1038)" text-anchor="middle" stroke="#2b2b2b" stroke-width="0.5" fill="#2b2b2b">1.0</text>
<text transform="translate(447.30,492.15) scale(0.1038)" text-anchor="end" stroke="#2b2b2b" stroke-width="0.5" fill="#2b2b2b">0.0</text>
<text transform="translate(447.30,475.79) scale(0.1038)" text-anchor="end" stroke="#2b2b2b" stroke-width="0.5" fill="#2b2b2b">0.2</text>
<text transform="translate(447.30,459.43) scale(0.1038)" text-anchor="end" stroke="#2b2b2b" stroke-width="0.5" fill="#2b2b2b">0.4</text>
<text transform="translate(447.30,443.07) scale(0.1038)" text-anchor="end" stroke="#2b2b2b" stroke-width="0.5" fill="#2b2b2b">0.6</text>
<text transform="translate(447.30,426.71) scale(0.1038)" text-anchor="end" stroke="#2b2b2b" stroke-width="0.5" fill="#2b2b2b">0.8</text>
<text transform="translate(447.30,410.35) scale(0.1038)" text-anchor="end" stroke="#2b2b2b" stroke-width="0.5" fill="#2b2b2b">1.0</text>
<path d="M453.90 493.80v1.5M471.00 493.80v1.5M488.10 493.80v1.5M505.20 493.80v1.5M522.30 493.80v1.5M539.40 493.80v1.5M450.60 490.60h-1.5M450.60 474.24h-1.5M450.60 457.88h-1.5M450.60 441.52h-1.5M450.60 425.16h-1.5M450.60 408.80h-1.5" stroke="#222" stroke-width="0.55" fill="none"/>
<text transform="translate(496.65,505.60) scale(0.1038)" text-anchor="middle" stroke="#2b2b2b" stroke-width="0.5" fill="#2b2b2b">width</text>
<text transform="translate(437.50,449.70) rotate(-90) scale(0.1038)" text-anchor="middle" stroke="#2b2b2b" stroke-width="0.5" fill="#2b2b2b">height</text>
<path fill="none" stroke="#48f90a" stroke-width="0.25" opacity="0.15" d="M493.1 290.0h8.0v71.0h-8.0zM477.7 305.6h38.7v39.8h-38.7zM485.0 299.7h24.2v51.7h-24.2zM489.4 285.4h15.5v80.1h-15.5zM483.1 287.7h27.9v75.5h-27.9zM485.4 307.5h23.4v36.0h-23.4zM489.6 322.5h15.1v6.1h-15.1zM466.2 318.6h61.9v13.8h-61.9zM481.2 293.2h31.7v64.5h-31.7zM483.0 316.5h28.2v18.1h-28.2zM470.1 300.4h54.1v50.2h-54.1zM470.8 303.6h52.6v43.8h-52.6zM491.8 297.4h10.7v56.2h-10.7zM467.9 321.7h58.5v7.6h-58.5zM491.2 298.6h11.9v53.8h-11.9zM468.5 297.8h57.2v55.5h-57.2zM485.1 299.6h24.0v51.7h-24.0zM488.6 316.9h16.9v17.2h-16.9zM462.4 301.0h69.5v48.9h-69.5zM489.5 303.1h15.1v44.7h-15.1zM459.6 310.9h75.0v29.2h-75.0zM463.6 313.2h67.0v24.6h-67.0zM461.1 309.4h72.1v32.2h-72.1zM475.4 288.9h43.3v73.1h-43.3zM495.0 308.0h4.3v34.9h-4.3zM485.7 322.4h22.8v6.1h-22.8zM467.7 309.8h58.8v31.4h-58.8zM474.8 296.3h44.7v58.5h-44.7zM468.5 291.7h57.1v67.7h-57.1zM461.7 316.0h70.8v19.0h-70.8zM482.0 284.7h30.2v81.6h-30.2zM489.7 293.0h14.8v65.1h-14.8zM494.4 299.7h5.4v51.6h-5.4zM480.5 287.1h33.2v76.9h-33.2zM494.6 281.5h4.9v88.1h-4.9zM487.9 293.6h18.4v63.8h-18.4zM475.6 320.1h43.0v10.8h-43.0zM474.7 295.2h44.7v60.5h-44.7zM466.7 309.4h60.8v32.2h-60.8zM491.7 295.3h10.8v60.3h-10.8zM464.7 310.0h64.7v31.0h-64.7zM466.5 310.8h61.2v29.3h-61.2zM471.2 294.3h51.7v62.5h-51.7zM484.7 303.9h24.7v43.3h-24.7zM492.0 284.8h10.1v81.3h-10.1zM473.5 301.9h47.2v47.2h-47.2zM464.6 313.2h64.9v24.7h-64.9zM466.6 315.2h61.0v20.7h-61.0zM485.3 290.7h23.6v69.5h-23.6zM468.0 304.1h58.2v42.7h-58.2zM467.9 318.8h58.4v13.4h-58.4zM488.7 319.1h16.9v12.8h-16.9zM476.8 321.5h40.7v8.0h-40.7zM465.9 300.8h62.4v49.3h-62.4zM468.6 293.3h57.1v64.5h-57.1zM491.4 298.8h11.4v53.5h-11.4zM493.7 301.6h6.7v47.8h-6.7zM470.5 289.7h53.2v71.6h-53.2zM487.1 296.1h20.0v58.9h-20.0zM492.3 308.9h9.5v33.3h-9.5zM479.6 307.2h35.0v36.7h-35.0zM480.9 305.1h32.5v40.9h-32.5zM472.0 320.1h50.1v10.8h-50.1zM458.0 321.4h78.1v8.3h-78.1zM483.0 308.8h28.1v33.3h-28.1zM487.9 303.9h18.5v43.2h-18.5zM464.3 313.0h65.6v25.0h-65.6zM470.1 291.8h54.1v67.3h-54.1zM476.6 288.1h41.1v74.7h-41.1zM474.1 301.6h46.0v47.8h-46.0zM493.1 295.1h8.0v60.8h-8.0zM453.8 319.4h86.6v12.1h-86.6zM464.0 295.4h66.2v60.2h-66.2zM492.3 287.4h9.6v76.2h-9.6zM488.2 305.7h17.7v39.6h-17.7zM492.3 283.9h9.6v83.3h-9.6zM476.1 287.0h42.0v77.0h-42.0zM466.6 300.0h61.0v51.0h-61.0zM481.4 318.1h31.4v14.8h-31.4zM452.8 322.3h88.7v6.3h-88.7zM477.1 309.8h40.0v31.5h-40.0zM462.3 298.4h69.5v54.1h-69.5zM474.5 311.7h45.1v27.5h-45.1zM494.0 315.8h6.2v19.5h-6.2zM460.0 321.1h74.2v8.7h-74.2zM493.5 318.8h7.2v13.4h-7.2zM471.7 297.1h50.9v56.7h-50.9zM461.9 309.6h70.3v31.9h-70.3zM492.0 294.8h10.1v61.3h-10.1zM462.1 303.2h70.0v44.5h-70.0zM486.0 294.8h22.1v61.4h-22.1zM488.7 292.3h16.8v66.4h-16.8zM467.6 320.9h59.0v9.3h-59.0zM458.0 320.5h78.2v10.1h-78.2zM487.5 312.2h19.2v26.5h-19.2zM492.0 287.3h10.1v76.4h-10.1zM476.7 311.9h40.7v27.2h-40.7zM463.3 322.0h67.7v7.0h-67.7zM493.6 281.2h6.9v88.5h-6.9zM455.2 313.2h83.9v24.6h-83.9zM488.6 316.0h17.1v19.0h-17.1zM453.8 316.3h86.5v18.5h-86.5zM490.6 306.2h13.0v38.5h-13.0zM486.2 307.3h21.8v36.4h-21.8zM469.3 291.6h55.6v67.8h-55.6zM493.6 281.3h6.9v88.4h-6.9zM454.5 316.4h85.3v18.3h-85.3zM473.9 315.3h46.3v20.3h-46.3zM467.2 305.1h59.7v40.9h-59.7zM465.5 313.5h63.1v23.9h-63.1zM465.7 299.1h62.8v52.7h-62.8zM484.5 300.7h25.3v49.6h-25.3zM467.1 306.9h60.0v37.2h-60.0zM476.7 296.1h40.8v58.7h-40.8zM487.9 317.9h18.5v15.1h-18.5zM490.1 312.6h14.0v25.8h-14.0zM468.9 309.1h56.4v32.9h-56.4zM474.2 308.4h45.7v34.2h-45.7zM492.9 311.4h8.4v28.2h-8.4zM466.7 302.5h60.8v46.1h-60.8zM463.7 308.4h66.8v34.2h-66.8zM485.0 315.4h24.3v20.1h-24.3zM492.8 294.8h8.7v61.4h-8.7zM473.7 315.3h46.7v20.3h-46.7zM483.9 315.0h26.4v21.0h-26.4zM494.3 302.5h5.5v46.1h-5.5zM483.9 322.1h26.3v6.8h-26.3zM456.6 307.6h81.1v35.9h-81.1zM478.9 287.1h36.3v76.9h-36.3zM483.3 315.1h27.6v20.7h-27.6zM459.7 318.6h74.8v13.7h-74.8zM472.3 300.8h49.7v49.4h-49.7zM470.7 318.5h52.9v14.0h-52.9zM475.3 294.5h43.6v61.9h-43.6zM483.0 308.3h28.3v34.5h-28.3zM486.6 321.8h21.0v7.3h-21.0zM471.0 300.1h52.1v50.7h-52.1zM469.6 316.2h54.9v18.7h-54.9zM483.1 306.0h28.0v39.1h-28.0zM475.1 311.3h44.1v28.5h-44.1zM491.3 319.8h11.6v11.5h-11.6zM474.6 321.2h44.9v8.6h-44.9zM470.9 307.2h52.3v36.6h-52.3zM468.7 300.5h56.9v49.9h-56.9zM465.2 314.8h63.8v21.5h-63.8zM482.9 292.4h28.4v66.2h-28.4zM492.5 306.1h9.1v38.8h-9.1zM459.8 308.2h74.6v34.7h-74.6zM484.4 305.1h25.5v40.7h-25.5zM487.2 306.4h19.9v38.2h-19.9zM474.8 303.7h44.7v43.6h-44.7zM495.0 308.7h4.3v33.6h-4.3zM490.1 318.8h14.0v13.3h-14.0zM475.3 305.7h43.6v39.7h-43.6zM468.6 294.8h57.0v61.3h-57.0zM488.7 294.1h16.7v62.7h-16.7zM461.2 300.1h71.7v50.8h-71.7zM485.2 319.2h23.8v12.6h-23.8zM463.6 306.5h67.0v38.0h-67.0zM480.8 314.7h32.6v21.6h-32.6zM469.6 289.9h55.1v71.3h-55.1zM466.0 306.4h62.2v38.2h-62.2zM481.6 310.4h30.9v30.1h-30.9zM462.1 309.2h70.0v32.6h-70.0zM458.4 303.6h77.4v43.8h-77.4zM491.2 309.5h11.9v32.0h-11.9zM489.7 285.5h14.9v80.1h-14.9zM491.7 282.3h10.8v86.3h-10.8zM491.9 312.9h10.4v25.2h-10.4zM474.5 302.3h45.3v46.4h-45.3zM471.3 322.4h51.6v6.3h-51.6zM481.5 289.1h31.3v72.9h-31.3zM476.3 304.7h41.7v41.6h-41.7zM472.3 316.3h49.7v18.3h-49.7zM468.6 303.6h57.0v43.8h-57.0zM456.2 310.6h81.9v29.8h-81.9zM486.3 294.9h21.7v61.2h-21.7zM464.9 309.3h64.4v32.4h-64.4zM464.9 313.4h64.5v24.2h-64.5zM467.2 314.7h59.7v21.7h-59.7zM488.6 282.8h17.0v85.5h-17.0zM464.6 307.7h64.9v35.6h-64.9zM489.4 302.8h15.4v45.4h-15.4zM472.5 305.7h49.2v39.6h-49.2zM489.5 296.5h15.1v58.1h-15.1zM453.1 317.9h88.1v15.2h-88.1zM480.5 320.2h33.3v10.5h-33.3zM462.1 298.6h70.0v53.9h-70.0zM456.4 312.3h81.4v26.3h-81.4zM457.5 319.9h79.3v11.2h-79.3zM487.5 291.1h19.2v68.8h-19.2zM487.2 296.2h19.8v58.6h-19.8zM481.2 290.5h31.7v70.0h-31.7zM479.1 306.7h36.0v37.6h-36.0zM458.2 303.9h77.8v43.2h-77.8zM488.5 308.7h17.3v33.6h-17.3zM478.0 308.7h38.1v33.6h-38.1zM468.3 314.1h57.6v22.7h-57.6zM479.6 313.4h35.0v24.3h-35.0zM460.3 306.3h73.6v38.5h-73.6zM462.7 311.1h68.7v28.8h-68.7zM465.3 303.1h63.6v44.8h-63.6zM475.1 295.8h43.9v59.5h-43.9zM490.9 305.7h12.4v39.6h-12.4zM488.2 292.1h17.7v66.7h-17.7zM467.5 298.3h59.2v54.5h-59.2zM473.0 316.8h48.3v17.5h-48.3zM475.2 289.2h43.9v72.7h-43.9zM484.8 299.1h24.5v52.8h-24.5zM486.1 299.5h22.0v51.9h-22.0zM463.0 316.5h68.2v18.1h-68.2zM493.0 321.3h8.2v8.5h-8.2zM460.1 302.7h74.1v45.6h-74.1zM463.3 307.9h67.6v35.2h-67.6zM456.4 321.3h81.3v8.3h-81.3zM470.8 301.0h52.5v49.0h-52.5zM490.0 286.4h14.2v78.1h-14.2zM471.5 291.1h51.3v68.9h-51.3zM458.3 313.9h77.7v23.1h-77.7zM471.8 313.7h50.7v23.7h-50.7z"/>
<path fill="none" stroke="#48f90a" stroke-width="0.3" opacity="0.26" d="M486.7 294.8h20.9v61.3h-20.9zM489.7 295.6h14.9v59.8h-14.9zM489.8 284.4h14.7v82.3h-14.7zM490.8 291.9h12.6v67.3h-12.6zM485.7 283.4h22.9v84.2h-22.9zM491.5 286.4h11.2v78.2h-11.2zM492.2 290.7h9.8v69.6h-9.8zM487.1 299.0h19.9v53.0h-19.9zM490.4 304.5h13.4v41.9h-13.4zM491.5 284.5h11.3v82.0h-11.3zM486.6 293.9h21.0v63.2h-21.0zM490.7 305.8h12.9v39.4h-12.9zM486.1 291.0h22.0v68.9h-22.0zM492.5 308.6h9.2v33.8h-9.2zM490.4 296.4h13.4v58.1h-13.4zM482.8 308.6h28.5v33.7h-28.5zM485.2 299.0h23.9v53.0h-23.9zM493.5 302.7h7.3v45.5h-7.3zM490.8 290.0h12.6v70.9h-12.6zM485.9 291.9h22.3v67.2h-22.3zM493.7 288.8h6.8v73.4h-6.8zM493.5 300.6h7.1v49.8h-7.1zM485.3 298.6h23.6v53.8h-23.6zM490.2 301.2h13.8v48.5h-13.8zM492.2 284.5h9.8v82.0h-9.8zM491.0 307.4h12.2v36.1h-12.2zM493.8 282.0h6.7v87.1h-6.7zM491.2 309.5h11.9v32.0h-11.9zM489.9 304.5h14.3v42.0h-14.3zM488.1 304.7h17.9v41.5h-17.9zM491.4 292.6h11.4v65.8h-11.4zM484.4 290.0h25.4v71.0h-25.4zM490.0 285.8h14.3v79.3h-14.3zM491.7 286.2h10.8v78.5h-10.8zM491.0 304.5h12.2v42.0h-12.2zM492.8 285.5h8.7v79.9h-8.7zM487.2 306.0h19.7v38.9h-19.7zM484.2 301.7h25.9v47.6h-25.9zM492.1 307.4h10.0v36.1h-10.0zM489.5 297.5h15.1v56.0h-15.1zM486.9 294.1h20.5v62.8h-20.5zM486.4 306.5h21.4v38.0h-21.4zM491.0 304.0h12.3v43.0h-12.3zM493.8 292.4h6.6v66.1h-6.6zM486.5 284.7h21.2v81.7h-21.2zM485.4 282.7h23.4v85.6h-23.4zM491.2 300.2h11.8v50.7h-11.8zM484.9 282.5h24.4v86.0h-24.4zM487.8 298.1h18.7v54.7h-18.7zM483.2 295.3h27.8v60.4h-27.8zM490.1 298.2h13.9v54.5h-13.9zM490.2 281.8h13.8v87.4h-13.8zM489.0 302.5h16.2v46.0h-16.2zM493.3 301.9h7.6v47.1h-7.6zM482.9 291.6h28.5v67.9h-28.5zM484.6 307.2h25.0v36.6h-25.0zM483.6 294.4h27.0v62.3h-27.0zM490.8 284.7h12.6v81.6h-12.6zM484.0 303.4h26.2v44.3h-26.2zM489.9 305.3h14.5v40.4h-14.5zM487.4 300.8h19.5v49.4h-19.5zM492.9 302.5h8.4v46.0h-8.4zM485.4 297.1h23.3v56.7h-23.3zM483.3 289.5h27.7v72.0h-27.7zM493.6 287.1h6.9v76.9h-6.9zM485.9 287.4h22.5v76.2h-22.5zM488.7 285.6h16.9v79.8h-16.9zM483.4 285.9h27.5v79.3h-27.5zM493.7 307.9h6.9v35.2h-6.9zM484.7 301.0h24.8v49.0h-24.8zM487.2 302.1h19.8v46.8h-19.8zM487.5 305.6h19.3v39.8h-19.3zM490.7 302.2h12.8v46.7h-12.8zM488.7 308.3h16.7v34.4h-16.7zM483.3 305.1h27.5v40.9h-27.5zM482.9 288.3h28.5v74.4h-28.5zM485.5 290.3h23.1v70.4h-23.1zM489.1 300.4h15.9v50.2h-15.9zM484.5 307.0h25.2v37.1h-25.2zM483.6 301.4h27.1v48.1h-27.1zM493.1 299.0h8.1v53.0h-8.1zM492.1 287.2h10.0v76.7h-10.0zM482.8 307.3h28.5v36.4h-28.5zM490.4 308.6h13.4v33.9h-13.4zM484.1 288.3h26.0v74.3h-26.0zM490.5 282.2h13.1v86.5h-13.1zM488.7 305.1h16.9v40.8h-16.9zM482.8 303.6h28.6v43.7h-28.6zM487.6 285.6h18.9v79.9h-18.9zM489.7 307.8h14.9v35.3h-14.9zM491.7 287.8h10.7v75.4h-10.7zM489.8 286.4h14.6v78.2h-14.6zM486.7 289.6h20.7v71.8h-20.7zM493.8 290.8h6.5v69.5h-6.5zM493.3 299.8h7.7v51.4h-7.7zM484.6 282.5h25.0v86.0h-25.0zM494.0 292.1h6.3v66.8h-6.3zM485.0 304.1h24.2v42.8h-24.2zM484.2 300.6h25.7v49.7h-25.7zM483.5 303.6h27.2v43.8h-27.2zM490.6 308.2h12.9v34.6h-12.9zM483.9 292.9h26.3v65.2h-26.3zM490.0 287.1h14.3v76.7h-14.3zM485.9 286.7h22.5v77.6h-22.5zM490.3 288.6h13.7v73.7h-13.7zM492.7 297.8h8.9v55.3h-8.9zM490.2 303.3h13.8v44.5h-13.8zM490.7 289.5h12.7v71.9h-12.7zM490.9 282.4h12.4v86.3h-12.4zM491.9 306.1h10.3v38.8h-10.3zM486.9 284.3h20.3v82.4h-20.3zM485.7 297.1h22.8v56.8h-22.8zM490.3 291.0h13.7v69.0h-13.7zM493.9 295.5h6.4v60.1h-6.4zM491.1 302.8h12.0v45.4h-12.0zM487.1 293.1h20.1v64.7h-20.1zM491.6 308.4h11.0v34.1h-11.0zM490.3 284.5h13.5v82.0h-13.5zM488.9 303.2h16.3v44.7h-16.3zM488.7 305.0h16.8v41.0h-16.8zM488.2 292.4h17.9v66.2h-17.9zM492.8 296.4h8.6v58.1h-8.6zM482.9 305.5h28.4v39.9h-28.4zM482.9 306.9h28.4v37.2h-28.4zM486.4 306.5h21.5v37.9h-21.5zM485.0 293.3h24.3v64.4h-24.3zM482.6 285.3h29.1v80.3h-29.1zM490.2 291.8h13.8v67.4h-13.8zM491.4 301.6h11.5v47.9h-11.5zM486.8 299.4h20.6v52.2h-20.6z"/>
<path fill="none" stroke="#48f90a" stroke-width="0.3" opacity="0.4" d="M483.8 282.0h26.7v87.0h-26.7zM483.2 283.5h27.7v83.9h-27.7zM483.3 283.4h27.6v84.2h-27.6zM482.4 282.3h29.4v86.3h-29.4zM482.3 284.2h29.6v82.7h-29.6zM483.2 283.6h27.8v83.7h-27.8zM482.5 283.3h29.1v84.5h-29.1zM482.8 282.1h28.6v86.8h-28.6zM483.4 282.8h27.4v85.3h-27.4zM483.3 281.3h27.6v88.4h-27.6zM487.1 282.5h19.9v86.0h-19.9zM486.2 281.5h21.8v88.0h-21.8zM485.9 282.2h22.3v86.5h-22.3zM486.4 281.9h21.4v87.3h-21.4zM487.5 281.1h19.2v88.8h-19.2zM486.6 281.7h20.9v87.6h-20.9zM485.0 281.7h24.3v87.7h-24.3zM488.1 281.2h18.0v88.6h-18.0z"/>
<path fill="none" stroke="#ffb21d" stroke-width="0.3" opacity="0.42" d="M493.8 312.5h6.5v26.1h-6.5zM494.7 290.3h4.7v70.4h-4.7zM492.1 313.0h10.0v24.9h-10.0zM495.1 292.0h4.0v66.9h-4.0zM491.9 305.9h10.4v39.1h-10.4zM493.9 297.7h6.3v55.6h-6.3zM495.1 313.7h4.0v23.6h-4.0zM494.7 302.7h4.8v45.7h-4.8zM492.8 312.6h8.7v25.8h-8.7zM493.1 293.0h8.0v65.0h-8.0zM491.3 315.2h11.7v20.5h-11.7zM496.1 309.7h2.0v31.6h-2.0zM495.2 280.8h3.7v89.5h-3.7zM491.9 282.6h10.3v85.8h-10.3zM495.7 312.7h2.8v25.6h-2.8zM493.5 296.7h7.3v57.6h-7.3zM490.3 283.1h13.6v84.8h-13.6zM495.7 318.6h2.9v13.7h-2.9zM492.7 288.6h8.7v73.9h-8.7zM493.2 290.2h7.9v70.7h-7.9zM495.3 294.6h3.7v61.7h-3.7zM492.5 282.9h9.3v85.2h-9.3zM495.3 286.0h3.7v78.9h-3.7zM490.8 291.2h12.5v68.7h-12.5zM492.0 300.8h10.3v49.4h-10.3zM491.1 286.2h12.0v78.6h-12.0zM490.8 289.8h12.7v71.3h-12.7zM492.0 300.6h10.1v49.9h-10.1zM491.7 298.0h10.8v55.0h-10.8zM492.5 303.4h9.3v44.2h-9.3zM494.0 294.8h6.2v61.4h-6.2zM493.6 296.4h6.9v58.2h-6.9zM495.7 317.9h2.8v15.1h-2.8zM490.9 289.6h12.3v71.8h-12.3zM492.5 306.5h9.2v38.0h-9.2zM494.5 304.2h5.2v42.6h-5.2zM495.3 297.0h3.6v57.1h-3.6zM491.4 301.1h11.5v48.8h-11.5zM495.1 287.4h4.1v76.1h-4.1zM490.7 299.4h12.8v52.3h-12.8zM491.0 288.3h12.1v74.3h-12.1zM492.3 308.6h9.6v33.7h-9.6zM493.2 285.6h7.7v79.9h-7.7zM495.9 319.6h2.4v11.7h-2.4zM491.5 281.2h11.3v88.6h-11.3zM492.4 320.4h9.3v10.2h-9.3zM492.2 285.2h9.8v80.5h-9.8zM495.9 284.8h2.4v81.3h-2.4zM494.5 292.3h5.2v66.4h-5.2zM495.9 321.1h2.4v8.7h-2.4zM494.2 302.4h5.8v46.2h-5.8zM492.0 310.6h10.3v29.8h-10.3zM495.8 297.2h2.6v56.6h-2.6zM490.3 302.5h13.6v45.9h-13.6zM495.8 295.2h2.5v60.6h-2.5zM491.8 287.8h10.5v75.4h-10.5zM492.5 305.7h9.2v39.5h-9.2zM495.8 282.0h2.6v87.1h-2.6zM493.5 300.1h7.1v50.9h-7.1zM492.6 292.9h8.9v65.2h-8.9zM494.1 298.1h6.1v54.7h-6.1zM494.6 319.8h5.1v11.5h-5.1zM494.4 291.8h5.4v67.5h-5.4zM495.6 283.2h3.0v84.5h-3.0zM494.1 297.8h5.9v55.3h-5.9zM491.4 312.9h11.4v25.3h-11.4zM491.4 283.6h11.5v83.8h-11.5zM491.5 318.2h11.2v14.5h-11.2zM492.4 306.6h9.4v37.9h-9.4zM494.3 298.7h5.5v53.6h-5.5zM495.0 289.7h4.2v71.6h-4.2zM490.7 286.0h12.8v78.9h-12.8zM495.5 287.6h3.1v75.7h-3.1zM491.5 297.9h11.3v55.2h-11.3zM491.0 283.9h12.2v83.3h-12.2z"/>
<path fill="none" stroke="#ffb21d" stroke-width="0.4" opacity="0.6" d="M496.1 279.6h2.0v91.7h-2.0zM494.6 279.8h5.0v91.4h-5.0zM493.1 280.1h8.0v90.8h-8.0zM491.6 280.5h11.0v89.9h-11.0zM490.1 281.1h14.0v88.8h-14.0zM488.6 281.8h17.0v87.3h-17.0zM487.1 282.7h20.0v85.5h-20.0zM485.6 283.8h23.0v83.4h-23.0zM484.1 285.0h26.0v80.9h-26.0z"/>
<path fill="none" stroke="#ff9d97" stroke-width="0.3" opacity="0.5" d="M483.8 322.8h26.5v5.5h-26.5zM473.7 321.7h46.7v7.5h-46.7zM463.0 322.9h68.3v5.2h-68.3zM461.3 322.5h71.7v6.0h-71.7zM461.7 322.5h70.7v5.9h-70.7zM462.7 322.8h68.8v5.3h-68.8zM480.5 322.5h33.1v5.9h-33.1zM454.9 321.6h84.4v7.8h-84.4zM478.2 322.5h37.8v6.0h-37.8zM480.4 322.1h33.3v6.7h-33.3zM469.1 321.3h56.1v8.4h-56.1zM470.4 322.9h53.4v5.2h-53.4zM471.6 321.6h50.9v7.8h-50.9zM478.6 322.8h37.0v5.3h-37.0z"/>
<rect x="452.7" y="321.8" width="88.8" height="7.5" fill="none" stroke="#ff8078" stroke-width="0.9"/>
<rect x="495.9" y="322.3" width="2.4" height="6.4" fill="#fff" fill-opacity="0.7" stroke="#ff701f" stroke-width="0.5"/>
<text transform="translate(464.40,532.00) scale(0.3500)" text-anchor="middle" style="font-family:'Liberation Serif',serif" fill="#111">(<tspan font-weight="bold">d</tspan>)</text>
</svg></body></html>
